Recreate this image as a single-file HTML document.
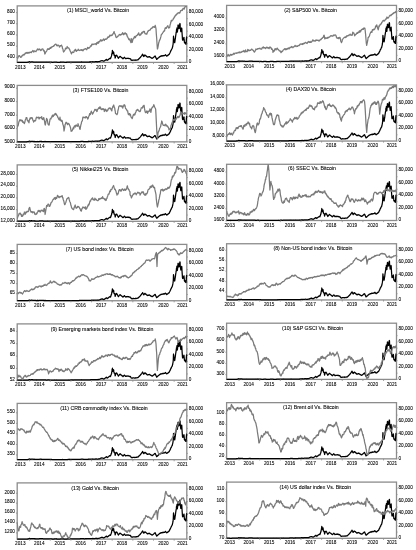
<!DOCTYPE html><html><head><meta charset="utf-8"><style>html,body{margin:0;padding:0;background:#fff;overflow:hidden}svg{display:block}text{font-family:"Liberation Sans",Arial,sans-serif;fill:#000;stroke:#000;stroke-width:0.08px}</style></head><body>
<svg width="416" height="550" viewBox="0 0 416 550">
<rect width="416" height="550" fill="#fff"/>
<clipPath id="c1"><rect x="17.2" y="5.9" width="169.6" height="56.5"/></clipPath>
<rect x="17.2" y="5.9" width="169.6" height="56.5" fill="none" stroke="#8c8c8c" stroke-width="1.3"/>
<polyline points="17.2,62.3 17.3,62.3 17.5,62.3 17.6,62.3 17.8,62.3 17.9,62.3 18,62.3 18.2,62.3 18.3,62.3 18.4,62.3 18.6,62.3 18.7,62.3 18.9,62.3 19,62.3 19.1,62.3 19.3,62.3 19.4,62.3 19.6,62.3 19.7,62.3 19.9,62.3 20,62.3 20.1,62.3 20.3,62.3 20.4,62.4 20.6,62.4 20.7,62.4 20.8,62.4 21,62.4 21.1,62.4 21.3,62.4 21.4,62.4 21.5,62.4 21.7,62.4 21.8,62.4 22,62.4 22.1,62.4 22.2,62.4 22.4,62.4 22.5,62.3 22.7,62.3 22.8,62.3 22.9,62.3 23.1,62.3 23.2,62.3 23.4,62.3 23.5,62.3 23.7,62.3 23.8,62.3 23.9,62.3 24.1,62.3 24.2,62.3 24.4,62.3 24.5,62.3 24.6,62.3 24.8,62.3 24.9,62.3 25.1,62.3 25.2,62.3 25.3,62.3 25.5,62.3 25.6,62.3 25.8,62.3 25.9,62.3 26,62.3 26.2,62.3 26.3,62.3 26.5,62.3 26.6,62.3 26.8,62.3 26.9,62.3 27,62.3 27.2,62.3 27.3,62.3 27.4,62.3 27.6,62.2 27.7,62.2 27.9,62.2 28,62.2 28.2,62.2 28.3,62.2 28.4,62.1 28.6,62.1 28.7,62 28.9,61.9 29,61.9 29.1,61.8 29.3,61.7 29.4,61.7 29.6,61.7 29.7,61.8 29.9,61.9 30,61.9 30.1,62 30.3,62 30.4,62.1 30.5,62 30.7,62 30.8,62 31,61.9 31.1,61.9 31.2,61.8 31.4,61.8 31.5,61.8 31.7,61.8 31.8,61.9 32,61.9 32.1,61.9 32.2,61.9 32.4,61.9 32.5,61.9 32.7,61.9 32.8,61.9 32.9,61.9 33.1,61.9 33.2,62 33.4,62 33.5,62 33.6,62 33.8,62 33.9,62 34.1,62.1 34.2,62.1 34.3,62 34.5,62 34.6,62 34.8,62 34.9,62 35,62 35.2,62 35.3,62 35.5,62.1 35.6,62.1 35.8,62.1 35.9,62.1 36,62.1 36.2,62.1 36.3,62.1 36.5,62.1 36.6,62.2 36.7,62.2 36.9,62.1 37,62.1 37.2,62.1 37.3,62.1 37.4,62.1 37.6,62.1 37.7,62.1 37.9,62.1 38,62.1 38.1,62.1 38.3,62.1 38.4,62.1 38.6,62.1 38.7,62.1 38.8,62.1 39,62.1 39.1,62.1 39.3,62 39.4,62 39.5,62 39.7,62 39.8,62 40,62 40.1,62 40.3,62 40.4,62 40.5,62 40.7,62 40.8,62 41,62 41.1,62 41.2,62 41.4,62 41.5,62 41.7,62 41.8,62 42,62 42.1,62 42.2,62 42.4,62 42.5,62 42.6,62 42.8,62 42.9,62 43.1,62 43.2,62.1 43.3,62.1 43.5,62.1 43.6,62.1 43.8,62.1 43.9,62.1 44.1,62.1 44.2,62.1 44.3,62.1 44.5,62.1 44.6,62.1 44.8,62.1 44.9,62.1 45,62.1 45.2,62.1 45.3,62.1 45.5,62.1 45.6,62.1 45.7,62.1 45.9,62.1 46,62.2 46.2,62.2 46.3,62.2 46.5,62.2 46.6,62.2 46.7,62.2 46.9,62.2 47,62.2 47.1,62.2 47.3,62.2 47.4,62.2 47.6,62.1 47.7,62.1 47.8,62.1 48,62.1 48.1,62.1 48.3,62.1 48.4,62.1 48.6,62.1 48.7,62.1 48.8,62.1 49,62.1 49.1,62.1 49.3,62.1 49.4,62.1 49.5,62.2 49.7,62.2 49.8,62.2 50,62.2 50.1,62.2 50.2,62.2 50.4,62.2 50.5,62.2 50.7,62.2 50.8,62.2 51,62.2 51.1,62.2 51.2,62.2 51.4,62.2 51.5,62.2 51.7,62.2 51.8,62.2 51.9,62.2 52.1,62.2 52.2,62.3 52.4,62.3 52.5,62.3 52.6,62.3 52.8,62.3 52.9,62.3 53.1,62.3 53.2,62.3 53.3,62.3 53.5,62.2 53.6,62.2 53.8,62.2 53.9,62.2 54,62.2 54.2,62.2 54.3,62.2 54.5,62.2 54.6,62.2 54.8,62.2 54.9,62.2 55,62.2 55.2,62.2 55.3,62.2 55.5,62.2 55.6,62.2 55.7,62.2 55.9,62.2 56,62.2 56.2,62.2 56.3,62.2 56.4,62.2 56.6,62.2 56.7,62.2 56.9,62.2 57,62.2 57.1,62.3 57.3,62.3 57.4,62.3 57.6,62.3 57.7,62.3 57.8,62.3 58,62.3 58.1,62.3 58.3,62.3 58.4,62.3 58.5,62.3 58.7,62.3 58.8,62.3 59,62.3 59.1,62.3 59.2,62.3 59.4,62.3 59.5,62.3 59.7,62.3 59.8,62.3 60,62.2 60.1,62.3 60.2,62.2 60.4,62.2 60.5,62.2 60.7,62.2 60.8,62.2 60.9,62.2 61.1,62.2 61.2,62.2 61.4,62.2 61.5,62.2 61.6,62.2 61.8,62.2 61.9,62.2 62.1,62.2 62.2,62.2 62.3,62.2 62.5,62.2 62.6,62.2 62.8,62.2 62.9,62.2 63,62.2 63.2,62.2 63.3,62.2 63.5,62.2 63.6,62.2 63.8,62.2 63.9,62.2 64,62.2 64.2,62.2 64.3,62.2 64.5,62.3 64.6,62.3 64.7,62.3 64.9,62.3 65,62.3 65.2,62.3 65.3,62.3 65.4,62.3 65.6,62.3 65.7,62.3 65.9,62.3 66,62.3 66.1,62.2 66.3,62.3 66.4,62.3 66.6,62.3 66.7,62.2 66.8,62.2 67,62.2 67.1,62.2 67.3,62.2 67.4,62.2 67.5,62.2 67.7,62.2 67.8,62.2 68,62.2 68.1,62.2 68.2,62.2 68.4,62.2 68.5,62.2 68.7,62.2 68.8,62.2 69,62.1 69.1,62.2 69.2,62.2 69.4,62.2 69.5,62.2 69.7,62.2 69.8,62.2 69.9,62.2 70.1,62.2 70.2,62.2 70.4,62.2 70.5,62.2 70.7,62.1 70.8,62.1 70.9,62.1 71.1,62.1 71.2,62.1 71.3,62.1 71.5,62.1 71.6,62.1 71.8,62.1 71.9,62.1 72,62.1 72.2,62.1 72.3,62.1 72.5,62.1 72.6,62.1 72.8,62.2 72.9,62.2 73,62.2 73.2,62.2 73.3,62.2 73.5,62.1 73.6,62.1 73.7,62.1 73.9,62.1 74,62.1 74.2,62.1 74.3,62.1 74.5,62.1 74.6,62.1 74.7,62.1 74.9,62.1 75,62.1 75.2,62.1 75.3,62.1 75.4,62.1 75.6,62.1 75.7,62.1 75.8,62.1 76,62.1 76.1,62.1 76.3,62.1 76.4,62.1 76.6,62.1 76.7,62.1 76.8,62.1 77,62.1 77.1,62.1 77.3,62.1 77.4,62.1 77.5,62.1 77.7,62.1 77.8,62.1 78,62.1 78.1,62.1 78.2,62.1 78.4,62.1 78.5,62.1 78.7,62.1 78.8,62.1 79,62.1 79.1,62.1 79.2,62.1 79.4,62.1 79.5,62.1 79.7,62.1 79.8,62.1 79.9,62.1 80.1,62 80.2,62 80.3,62 80.5,62 80.6,62 80.8,62 80.9,62 81.1,62 81.2,62 81.3,62 81.5,61.9 81.6,61.9 81.8,61.9 81.9,62 82,62 82.2,62 82.3,62 82.5,62 82.6,62 82.8,62 82.9,62 83,62 83.2,62 83.3,62 83.5,62 83.6,62 83.7,62 83.9,62 84,62 84.2,62 84.3,62.1 84.4,62.1 84.6,62 84.7,62 84.9,62 85,62 85.1,62 85.3,62 85.4,62 85.6,62 85.7,62 85.8,62 86,62 86.1,62 86.3,62 86.4,62 86.5,62 86.7,62 86.8,62 87,62 87.1,62 87.2,62 87.4,62 87.5,62 87.7,62 87.8,62 88,62 88.1,62 88.2,62 88.4,62 88.5,62 88.7,62 88.8,62 88.9,62 89.1,62 89.2,62 89.4,62 89.5,62 89.6,62 89.8,61.9 89.9,62 90.1,61.9 90.2,61.9 90.3,61.9 90.5,62 90.6,61.9 90.8,61.9 90.9,61.9 91,61.9 91.2,61.9 91.3,61.9 91.5,61.9 91.6,61.9 91.8,61.8 91.9,61.8 92,61.8 92.2,61.8 92.3,61.8 92.5,61.8 92.6,61.7 92.7,61.7 92.9,61.7 93,61.7 93.2,61.8 93.3,61.9 93.4,61.9 93.6,61.9 93.7,61.9 93.9,61.9 94,61.9 94.1,61.8 94.3,61.8 94.4,61.8 94.6,61.8 94.7,61.8 94.9,61.8 95,61.8 95.1,61.7 95.3,61.7 95.4,61.7 95.5,61.7 95.7,61.7 95.8,61.7 96,61.7 96.1,61.7 96.2,61.7 96.4,61.7 96.5,61.7 96.7,61.7 96.8,61.8 97,61.7 97.1,61.8 97.2,61.8 97.4,61.8 97.5,61.8 97.7,61.8 97.8,61.7 97.9,61.7 98.1,61.7 98.2,61.7 98.4,61.7 98.5,61.6 98.6,61.6 98.8,61.6 98.9,61.6 99.1,61.6 99.2,61.6 99.4,61.5 99.5,61.5 99.6,61.5 99.8,61.4 99.9,61.3 100,61.3 100.2,61.2 100.3,61.1 100.5,61.1 100.6,61 100.8,60.9 100.9,60.9 101,60.9 101.2,60.8 101.3,60.8 101.5,60.7 101.6,60.6 101.7,60.6 101.9,60.5 102,60.5 102.2,60.7 102.3,60.7 102.4,60.7 102.6,60.8 102.7,60.9 102.9,60.9 103,60.9 103.2,61 103.3,61 103.4,61.1 103.6,61.1 103.7,61.2 103.9,61.2 104,61.1 104.1,61 104.3,60.9 104.4,60.9 104.5,60.8 104.7,60.7 104.8,60.6 105,60.5 105.1,60.4 105.3,60.3 105.4,60.2 105.5,60.1 105.7,59.9 105.8,59.8 106,59.8 106.1,59.6 106.2,59.5 106.4,59.4 106.5,59.4 106.7,59.6 106.8,59.9 106.9,60.1 107.1,60.3 107.2,60.3 107.4,60.2 107.5,60.1 107.7,60.1 107.8,59.9 107.9,59.8 108.1,59.8 108.2,59.5 108.4,59.4 108.5,59.4 108.6,59.2 108.8,59.1 108.9,59 109,58.9 109.2,58.9 109.3,58.7 109.5,58.5 109.6,58.5 109.8,58.4 109.9,58.3 110,58.4 110.2,58.5 110.3,58.5 110.5,58.7 110.6,58.4 110.7,57.8 110.9,57.6 111,57.2 111.2,56.7 111.3,56.3 111.5,56 111.6,55.6 111.7,54.6 111.9,53.8 112,53.1 112.2,52.2 112.3,51.4 112.4,50.4 112.6,51.7 112.7,53.5 112.8,53.6 113,53 113.1,52.6 113.2,52.5 113.4,52 113.5,51.9 113.7,52.4 113.8,53.2 113.9,54.1 114.1,55.2 114.2,55.3 114.3,55.2 114.5,55.4 114.6,55.2 114.7,55.2 114.9,56 115,57.1 115.2,58 115.3,57.8 115.4,57.3 115.5,56.9 115.7,56.3 115.8,56 116,55.6 116.1,55.4 116.2,55.5 116.4,55.4 116.5,55.3 116.6,55.2 116.8,55.4 116.9,55.6 117,55.9 117.2,56.1 117.3,56.2 117.5,56.6 117.6,56.6 117.7,57.1 117.9,57.3 118,57.5 118.1,57.7 118.3,58.1 118.4,58.4 118.5,58.1 118.7,57.9 118.8,57.8 119,57.4 119.1,57.4 119.2,57.3 119.4,57 119.5,56.9 119.6,56.6 119.8,56.7 119.9,56.5 120,56.6 120.2,56.4 120.3,56.6 120.4,56.6 120.6,56.6 120.7,56.9 120.9,57 121,57.1 121.1,57.3 121.3,57.4 121.4,57.4 121.5,57.5 121.7,57.6 121.8,57.8 121.9,57.8 122.1,57.9 122.2,58.1 122.4,58.2 122.5,58.3 122.6,58.5 122.8,58.4 122.9,58.6 123,58.8 123.2,58.5 123.3,58.4 123.4,58.4 123.6,58 123.7,58 123.8,57.8 124,57.7 124.1,57.6 124.2,57.6 124.4,57.2 124.5,57.4 124.7,57.6 124.8,57.7 124.9,57.9 125.1,58 125.2,58.2 125.3,58.4 125.5,58.6 125.6,58.5 125.7,58.5 125.9,58.4 126,58.5 126.2,58.5 126.3,58.4 126.4,58.5 126.6,58.4 126.7,58.3 126.8,58.4 127,58.3 127.1,58.4 127.2,58.4 127.4,58.4 127.5,58.3 127.6,58.3 127.8,58.2 127.9,58.4 128,58.3 128.2,58.3 128.3,58.4 128.5,58.3 128.6,58.4 128.7,58.4 128.9,58.4 129,58.6 129.1,58.5 129.3,58.6 129.4,58.6 129.5,58.7 129.7,58.7 129.8,58.6 129.9,58.7 130.1,58.8 130.2,58.8 130.4,58.7 130.5,58.9 130.6,59.1 130.8,59.3 130.9,59.6 131,60 131.2,60 131.3,60 131.4,60.2 131.6,60.2 131.7,60.2 131.8,60.3 132,60.3 132.1,60.4 132.3,60.4 132.4,60.3 132.5,60.2 132.7,60.2 132.8,60.2 132.9,60.1 133.1,60.1 133.2,60.1 133.3,60.1 133.5,60.1 133.6,60.1 133.8,60.1 133.9,60.1 134,60.1 134.2,60.2 134.3,60.2 134.4,60.2 134.6,60.2 134.7,60.2 134.8,60.2 135,60.2 135.1,60.3 135.2,60.1 135.4,60.2 135.5,60.1 135.7,60.1 135.8,60.1 135.9,60.1 136.1,60.1 136.2,60.1 136.3,60 136.5,60 136.6,60.1 136.7,60 136.9,60 137,59.9 137.2,59.9 137.3,59.9 137.4,59.9 137.6,59.9 137.7,59.9 137.8,59.8 138,59.9 138.1,59.7 138.2,59.5 138.4,59.4 138.5,59.3 138.6,59.2 138.8,59 138.9,58.8 139,58.7 139.2,58.5 139.3,58.4 139.5,58.3 139.6,58.1 139.7,58 139.9,57.9 140,57.7 140.1,57.6 140.3,57.5 140.4,57.4 140.5,57.2 140.7,56.9 140.8,56.8 140.9,56.7 141.1,56.4 141.2,56.2 141.4,56.2 141.5,55.8 141.6,55.8 141.8,55.6 141.9,55.3 142,55 142.2,55.1 142.3,54.8 142.4,54.8 142.6,54.2 142.7,54.5 142.8,54.6 143,55.1 143.1,55.2 143.3,55.3 143.4,56.1 143.5,56.1 143.7,56.3 143.8,56.5 143.9,56.4 144.1,55.9 144.2,55.9 144.3,55.9 144.5,55.5 144.6,55.5 144.7,55 144.9,55.1 145,55.1 145.2,55.1 145.3,55.3 145.4,55.6 145.5,55.7 145.7,55.5 145.8,55.7 146,55.9 146.1,55.9 146.2,56 146.4,56.1 146.5,56.5 146.6,56.4 146.8,56.4 146.9,56.6 147,56.7 147.2,57 147.3,56.9 147.4,57 147.6,57 147.7,57.2 147.8,57.1 148,57 148.1,56.9 148.2,57 148.4,56.8 148.5,56.9 148.6,56.8 148.8,56.8 148.9,56.7 149.1,56.7 149.2,56.8 149.3,56.6 149.5,56.7 149.6,56.9 149.7,56.9 149.9,56.9 150,57.1 150.1,57.1 150.3,57.2 150.4,57.3 150.5,57.4 150.7,57.6 150.8,57.5 150.9,57.6 151.1,57.7 151.2,57.8 151.3,57.9 151.5,58 151.6,58.1 151.8,58.2 151.9,58.2 152,58.3 152.2,58.3 152.3,58.1 152.4,58.2 152.6,58 152.7,58.1 152.8,57.9 153,57.7 153.1,57.7 153.2,57.6 153.4,57.5 153.5,57.4 153.6,57.4 153.8,57.2 153.9,57 154,56.9 154.2,56.8 154.3,56.6 154.4,56.5 154.6,56.4 154.7,56.3 154.9,56.2 155,56.1 155.1,56 155.3,56.3 155.4,56.6 155.5,57 155.7,57.2 155.8,57.5 155.9,57.8 156.1,58 156.2,58.3 156.3,58.6 156.5,58.8 156.6,59.3 156.8,59.3 156.9,59.2 157,59 157.2,58.8 157.3,58.9 157.4,58.7 157.6,58.5 157.7,58.4 157.9,58.3 158,58.3 158.1,58 158.3,57.9 158.4,57.8 158.6,57.7 158.7,57.5 158.8,57.5 159,57.3 159.1,57.2 159.3,57.2 159.4,56.9 159.5,56.8 159.7,56.7 159.8,56.8 160,56.7 160.1,56.5 160.2,56.5 160.4,56.3 160.5,56.2 160.7,56.4 160.8,56.4 160.9,56.1 161.1,56 161.2,56 161.4,55.9 161.5,56.1 161.6,56 161.8,55.9 161.9,56 162.1,56.1 162.2,56 162.3,55.6 162.5,55.7 162.6,55.9 162.8,55.9 162.9,55.8 163,55.8 163.2,55.6 163.3,55.7 163.5,55.8 163.6,55.5 163.7,55.7 163.9,55.6 164,55.6 164.2,55.6 164.3,55.5 164.4,55.5 164.6,55.6 164.7,55.5 164.9,55.3 165,55.2 165.1,55 165.3,54.9 165.4,54.7 165.6,54.8 165.7,55.1 165.8,55.2 166,55.5 166.1,55.5 166.3,55.6 166.4,55.7 166.5,56 166.7,56.1 166.8,56 167,56 167.1,55.8 167.2,55.7 167.4,55.7 167.5,55.5 167.7,55.6 167.8,55.4 167.9,55.4 168.1,55.3 168.2,54.9 168.4,54.8 168.5,54.9 168.6,54.7 168.8,54.5 168.9,54.5 169.1,54.3 169.2,54.4 169.3,54.1 169.5,53.7 169.6,53.2 169.8,53.1 169.9,53 170,52.6 170.2,52.4 170.3,52.1 170.5,51.5 170.6,51.5 170.7,51.1 170.9,50.5 171,50.4 171.2,50.2 171.3,50.1 171.4,49.7 171.6,49.2 171.7,49.1 171.9,48.7 172,48.7 172.1,48.3 172.3,48.2 172.4,47.5 172.6,46.6 172.7,46.6 172.8,45.6 173,44.8 173.1,44 173.3,41.7 173.4,39 173.5,36.2 173.7,37.9 173.9,39.1 174.1,40.8 174.3,40.8 174.5,42.5 174.7,42.7 174.9,41.7 175.1,40 175.3,39 175.5,37.2 175.7,35.7 175.9,34.5 176.1,33 176.3,32.2 176.5,29.8 176.7,29.4 176.9,28.7 177,27.8 177.2,30.1 177.3,32.2 177.4,31.8 177.6,30.1 177.7,29.4 177.9,27.4 178,25.1 178.2,25 178.3,26.2 178.4,26.9 178.6,27.8 178.7,28.5 178.9,28 179,27.8 179.2,28.3 179.3,26.4 179.5,26.1 179.6,24.6 179.7,24.6 179.9,23.5 180.1,23.9 180.2,27.1 180.4,28.6 180.6,30.2 180.8,31.7 180.9,30.8 181.1,29 181.3,28.8 181.5,28.8 181.7,28 181.8,28.5 182,32.3 182.2,35.3 182.4,38.2 182.5,39.6 182.7,40.2 182.8,40.1 183,40 183.1,39.6 183.3,38.7 183.4,38.4 183.6,38.7 183.7,38 183.8,37.7 184,37.4 184.1,38.9 184.3,40.9 184.4,42.3 184.6,42.8 184.7,42.1 184.9,42.5 185,43.1 185.2,42.5 185.3,42.8 185.4,43.8 185.6,42.8 185.7,43.3 185.9,43.1 186,44.2 186.2,42.2 186.3,40.3 186.4,38.9 186.5,37.8 186.6,37 186.8,38.3" fill="none" stroke="#000" stroke-width="1.25" stroke-linejoin="round"/>
<polyline clip-path="url(#c1)" points="17.1,58.6 17.5,57.8 17.8,58.2 18.2,56.8 18.4,55.9 18.7,56.1 19,56 19.3,56.1 19.6,55.6 19.9,56.4 20.2,56.5 20.5,57.4 20.8,57.1 21.1,56.8 21.3,57 21.6,56.7 21.9,55.7 22.2,55.8 22.5,55.1 22.8,55.6 23.1,54.9 23.4,54.9 23.6,54.4 23.9,54.5 24.2,54.9 24.5,54.9 24.8,54 25.1,53.1 25.4,53.5 25.7,53.1 26,52.8 26.3,53.2 26.6,52.5 26.9,53.1 27.2,53.4 27.5,53.1 27.8,52.4 28.2,52.3 28.5,53 28.8,52.7 29.1,53 29.4,52.6 29.7,52.3 30,52.2 30.3,52.2 30.6,52.2 30.9,52.5 31.2,52.7 31.6,52.3 31.9,51.6 32.2,51.4 32.5,51.2 32.8,50.5 33.1,51.1 33.4,51 33.7,52.2 34,51.6 34.3,50.8 34.6,51.2 35,51.1 35.3,51.4 35.6,51.2 35.9,51.7 36.2,50.8 36.5,50.7 36.8,50.2 37.1,49.9 37.3,49.1 37.6,49.7 37.9,49 38.2,49.5 38.6,49.8 38.9,49.9 39.2,49 39.5,49.6 39.8,49.2 40.1,49.6 40.4,49.6 40.7,50.7 41,50.2 41.2,50.1 41.5,50.1 41.8,49.1 42.1,49 42.4,48.9 42.7,49 43,49 43.3,50.1 43.5,50.8 43.8,50.9 44.1,50.5 44.5,51.9 44.8,54 45.2,53.6 45.6,52.6 45.9,51.6 46.1,51.7 46.4,51.4 46.7,50.9 47,50.3 47.3,49.5 47.6,48.9 47.9,48.7 48.2,49.2 48.5,49.4 48.7,48.9 49,48.8 49.3,49.3 49.6,48.4 49.9,48.1 50.2,47.4 50.5,48.4 50.8,47.7 51,48 51.3,47.7 51.6,46.9 52,47 52.3,46.8 52.6,46.7 52.9,46.4 53.2,46.4 53.5,46.3 53.8,45.6 54.1,45.9 54.4,45.2 54.7,44.6 55,44.6 55.4,44.3 55.7,44.2 56,44.1 56.3,45 56.6,45.5 56.9,45.2 57.2,45.9 57.5,45.7 57.8,45.3 58.1,45 58.4,45.5 58.8,45.6 59.1,45.8 59.4,47.1 59.7,46.9 60,46.4 60.3,45.7 60.6,45.8 60.9,45.7 61.2,45.8 61.6,45.1 61.9,46 62.2,46.5 62.5,48.6 62.9,48.9 63.2,50.7 63.6,52 63.9,51.2 64.3,51.2 64.6,50.7 64.9,50 65.2,49.5 65.5,48.1 65.8,48.6 66,48.6 66.3,48.2 66.6,48.7 66.9,47.7 67.2,46.5 67.5,47.4 67.8,47.4 68.1,47.8 68.4,47.9 68.6,48.1 68.9,48.1 69.2,48.7 69.5,49.5 69.8,49.8 70.1,50.8 70.4,51.4 70.7,52 71,52.6 71.2,53.4 71.5,53.9 71.8,53 72.1,52.6 72.4,51.9 72.7,52.2 73,52.4 73.3,52.4 73.7,52.5 74,51.6 74.3,50.4 74.6,50.3 74.9,50.5 75.2,49.6 75.4,49.3 75.7,49.4 76,51 76.3,51.4 76.6,50.8 76.9,50.6 77.2,50.6 77.5,50.5 77.8,50.4 78,49.6 78.3,49.2 78.6,50.2 78.9,50.1 79.2,50.5 79.5,50.3 79.8,50.4 80.1,50.2 80.3,49.8 80.6,50.2 80.9,50.2 81.2,49.7 81.5,49.7 81.8,50.4 82.1,49.7 82.4,50.1 82.7,50.6 82.9,50.8 83.2,50.7 83.5,49.6 83.8,49.7 84.1,49.1 84.4,49.3 84.7,49.1 85,49.2 85.3,48.5 85.5,48.5 85.8,48.8 86.1,48.9 86.4,49.2 86.7,49.8 87,48.9 87.3,48.5 87.6,47.4 87.8,47.8 88.1,48.3 88.4,47.7 88.7,47.9 89,48.3 89.3,47.7 89.6,47.5 89.9,47.4 90.2,46.6 90.4,45.9 90.7,45.9 91,45.6 91.3,46.1 91.6,44.9 91.9,44.3 92.2,43.9 92.5,44.6 92.8,44.6 93,44.6 93.3,44.5 93.6,44.3 93.9,44 94.2,44.2 94.5,44 94.8,44.1 95.1,43.9 95.3,43.8 95.6,43.7 95.9,44.4 96.2,44.7 96.5,44.3 96.8,42.6 97.1,42.8 97.4,43.3 97.7,43 97.9,42 98.2,41.9 98.5,43.2 98.8,42.4 99.1,41.3 99.4,41.3 99.7,41.7 100,41.4 100.2,40.7 100.5,39.8 100.8,40.4 101.1,39.8 101.4,40.7 101.7,41.1 102,40.9 102.3,40.5 102.6,40.2 102.9,40 103.1,39.5 103.4,39.2 103.7,38.9 104,39.9 104.3,40.5 104.6,39.8 104.9,39.6 105.2,39.1 105.4,38.9 105.7,39.3 106,39.3 106.3,39.2 106.6,38.9 106.9,38.8 107.2,37.9 107.5,38.1 107.8,37 108,37.2 108.3,37.4 108.6,37.4 108.9,36.3 109.2,36.9 109.5,36.2 109.8,35.2 110.1,35.7 110.3,35.9 110.6,35.2 110.9,35.7 111.2,35.6 111.5,35.6 111.8,34.8 112.1,35.3 112.4,35.1 112.7,34.7 112.9,34 113.2,33.4 113.5,33.1 113.8,32 114.1,31.6 114.4,33.2 114.8,33.7 115.1,34.3 115.5,35.2 115.8,36.7 116.2,37.4 116.5,37.6 116.8,36.9 117.1,36.9 117.4,36.9 117.7,36.2 118,36.1 118.3,35.9 118.6,35.9 118.9,35.4 119.1,34.7 119.4,34.6 119.7,34.4 120,34.4 120.3,35 120.6,35.1 120.9,34.7 121.2,34.5 121.5,34.5 121.7,34.3 122,33.8 122.3,33.4 122.6,32.6 122.9,33.2 123.2,34.5 123.5,33.9 123.8,34.7 124,33.8 124.3,33.4 124.6,33.9 124.9,33.1 125.2,32.8 125.5,33.6 125.8,33.4 126.1,33.8 126.4,34.8 126.6,33.8 127,35.2 127.3,36.7 127.7,37 127.9,37.2 128.2,38 128.5,38.6 128.8,39.6 129.1,38.8 129.4,39.1 129.7,39.9 130,40.3 130.3,40.7 130.6,41.8 131,42.7 131.2,38.5 131.5,39.1 131.8,40.9 132.2,42.4 132.5,41 132.9,39.5 133.2,38.7 133.5,38.2 133.8,38.6 134,37.7 134.3,36.9 134.6,36.5 134.9,37 135.2,37.7 135.5,37.6 135.8,36.3 136.1,36.1 136.3,35.6 136.6,35.9 136.9,35.6 137.2,35.1 137.5,34.5 137.8,34.9 138.1,33.7 138.4,33.5 138.7,32.9 138.9,34 139.2,34.9 139.5,35 139.8,35.5 140.1,35.4 140.4,34.1 140.7,34 141,34.6 141.3,33.5 141.5,33.4 141.8,32.3 142.1,32.6 142.4,33.1 142.7,32.8 143,31.6 143.3,31.8 143.6,31.3 143.8,31.9 144.1,31.8 144.4,31.5 144.8,33 145.1,33.9 145.4,33.7 145.7,33.9 146,33.7 146.3,34.1 146.6,33.7 146.9,34.1 147.2,32.7 147.5,32.1 147.7,31.9 148,30.9 148.3,31.1 148.6,30.6 148.9,30.4 149.2,30.1 149.5,30.1 149.8,30.3 150,29.8 150.3,29.9 150.6,28.9 150.9,28.7 151.2,28.2 151.5,28.6 151.8,28.4 152.1,27.8 152.4,27.7 152.6,27.5 152.9,26.6 153.2,27.2 153.5,26.8 153.8,26.9 154.1,27 154.4,27.4 154.7,26.6 155,25.9 155.2,25.3 155.6,26.8 156,28.8 156.3,33.7 156.7,38.5 157,43.5 157.4,49 157.8,48 158.1,46.4 158.5,44.1 158.8,42.4 159.1,41.9 159.4,40.3 159.7,40.2 160,39.2 160.3,39 160.6,37.6 160.9,36.7 161.2,35.2 161.4,34.5 161.7,34.2 162,33.8 162.3,33.7 162.6,32.9 162.9,32.6 163.2,32 163.5,31.7 163.7,31.6 164,30.8 164.3,31.1 164.6,30.8 164.9,28.9 165.2,27.9 165.5,28.3 165.8,28.3 166.1,27.5 166.3,28.4 166.6,27.3 166.9,27.1 167.2,27 167.5,25.9 167.8,25.7 168.1,26.5 168.4,26.9 168.7,28 168.9,28 169.3,27.6 169.7,27.5 169.9,25.9 170.2,24.5 170.5,23.7 170.8,22.5 171.1,21 171.4,20.3 171.7,21.2 172,20.3 172.3,20.2 172.5,20.2 172.8,20 173.1,19.5 173.4,18.4 173.7,18.3 174,18 174.3,17 174.6,17.2 174.9,16 175.1,16.2 175.4,15.5 175.7,15 176,15.3 176.3,14.3 176.6,14.3 176.9,14.4 177.2,13.4 177.5,13.3 177.7,13.7 178,13 178.3,12.7 178.6,12.9 178.9,12.9 179.2,13.1 179.5,12.3 179.8,13 180,12.5 180.3,11.7 180.6,10.6 180.9,10.9 181.2,10.6 181.5,10.1 181.8,10.4 182.1,10.5 182.4,10.4 182.6,9.4 182.9,8.8 183.2,8.2 183.5,8.4 183.8,9 184.1,9.1 184.4,8.9 184.7,7.4 185,7.2 185.2,6.5 185.5,6.5 185.8,6.7 186.1,6.7 186.4,5.6 186.7,6.5 187,6.2" fill="none" stroke="#7a7a7a" stroke-width="1.25" stroke-linejoin="round"/>
<line x1="16" y1="12.62" x2="17.2" y2="12.62" stroke="#8c8c8c" stroke-width="0.8"/>
<text x="14.9" y="12.92" font-size="4.7" text-anchor="end">800</text>
<line x1="16" y1="23.79" x2="17.2" y2="23.79" stroke="#8c8c8c" stroke-width="0.8"/>
<text x="14.9" y="24.09" font-size="4.7" text-anchor="end">700</text>
<line x1="16" y1="34.96" x2="17.2" y2="34.96" stroke="#8c8c8c" stroke-width="0.8"/>
<text x="14.9" y="35.26" font-size="4.7" text-anchor="end">600</text>
<line x1="16" y1="46.13" x2="17.2" y2="46.13" stroke="#8c8c8c" stroke-width="0.8"/>
<text x="14.9" y="46.43" font-size="4.7" text-anchor="end">500</text>
<line x1="16" y1="57.3" x2="17.2" y2="57.3" stroke="#8c8c8c" stroke-width="0.8"/>
<text x="14.9" y="57.6" font-size="4.7" text-anchor="end">400</text>
<line x1="186.8" y1="62.4" x2="187.8" y2="62.4" stroke="#8c8c8c" stroke-width="0.8"/>
<text x="188.8" y="63.15" font-size="4.7">0</text>
<line x1="186.8" y1="56.15" x2="187.8" y2="56.15" stroke="#8c8c8c" stroke-width="0.8"/>
<line x1="186.8" y1="49.9" x2="187.8" y2="49.9" stroke="#8c8c8c" stroke-width="0.8"/>
<text x="188.8" y="50.65" font-size="4.7">20,000</text>
<line x1="186.8" y1="43.65" x2="187.8" y2="43.65" stroke="#8c8c8c" stroke-width="0.8"/>
<line x1="186.8" y1="37.4" x2="187.8" y2="37.4" stroke="#8c8c8c" stroke-width="0.8"/>
<text x="188.8" y="38.15" font-size="4.7">40,000</text>
<line x1="186.8" y1="31.15" x2="187.8" y2="31.15" stroke="#8c8c8c" stroke-width="0.8"/>
<line x1="186.8" y1="24.9" x2="187.8" y2="24.9" stroke="#8c8c8c" stroke-width="0.8"/>
<text x="188.8" y="25.65" font-size="4.7">60,000</text>
<line x1="186.8" y1="18.65" x2="187.8" y2="18.65" stroke="#8c8c8c" stroke-width="0.8"/>
<line x1="186.8" y1="12.4" x2="187.8" y2="12.4" stroke="#8c8c8c" stroke-width="0.8"/>
<text x="188.8" y="13.15" font-size="4.7">80,000</text>
<line x1="29.6" y1="62.4" x2="29.6" y2="64" stroke="#8c8c8c" stroke-width="0.8"/>
<line x1="50.25" y1="62.4" x2="50.25" y2="64" stroke="#8c8c8c" stroke-width="0.8"/>
<line x1="70.9" y1="62.4" x2="70.9" y2="64" stroke="#8c8c8c" stroke-width="0.8"/>
<line x1="91.55" y1="62.4" x2="91.55" y2="64" stroke="#8c8c8c" stroke-width="0.8"/>
<line x1="112.2" y1="62.4" x2="112.2" y2="64" stroke="#8c8c8c" stroke-width="0.8"/>
<line x1="132.85" y1="62.4" x2="132.85" y2="64" stroke="#8c8c8c" stroke-width="0.8"/>
<line x1="153.5" y1="62.4" x2="153.5" y2="64" stroke="#8c8c8c" stroke-width="0.8"/>
<line x1="174.15" y1="62.4" x2="174.15" y2="64" stroke="#8c8c8c" stroke-width="0.8"/>
<text x="20.3" y="68.55" font-size="4.7" text-anchor="middle">2013</text>
<text x="39.3" y="68.55" font-size="4.7" text-anchor="middle">2014</text>
<text x="59.8" y="68.55" font-size="4.7" text-anchor="middle">2015</text>
<text x="80.6" y="68.55" font-size="4.7" text-anchor="middle">2016</text>
<text x="101.2" y="68.55" font-size="4.7" text-anchor="middle">2017</text>
<text x="121.85" y="68.55" font-size="4.7" text-anchor="middle">2018</text>
<text x="142.5" y="68.55" font-size="4.7" text-anchor="middle">2019</text>
<text x="163.4" y="68.55" font-size="4.7" text-anchor="middle">2020</text>
<text x="182.5" y="68.55" font-size="4.7" text-anchor="middle">2021</text>
<text x="98.05" y="12" font-size="5.2" text-anchor="middle">(1) MSCI_world Vs. Bitcoin</text>
<clipPath id="c2"><rect x="226.6" y="5.4" width="169.9" height="56.2"/></clipPath>
<rect x="226.6" y="5.4" width="169.9" height="56.2" fill="none" stroke="#8c8c8c" stroke-width="1.3"/>
<polyline points="226.6,61.5 226.7,61.5 226.9,61.5 227,61.5 227.2,61.5 227.3,61.5 227.4,61.5 227.6,61.5 227.7,61.5 227.8,61.5 228,61.5 228.1,61.5 228.3,61.5 228.4,61.5 228.5,61.5 228.7,61.5 228.8,61.5 229,61.5 229.1,61.5 229.3,61.5 229.4,61.5 229.5,61.5 229.7,61.5 229.8,61.6 230,61.6 230.1,61.6 230.2,61.6 230.4,61.6 230.5,61.6 230.7,61.6 230.8,61.6 230.9,61.6 231.1,61.6 231.2,61.6 231.4,61.6 231.5,61.6 231.7,61.6 231.8,61.6 231.9,61.5 232.1,61.5 232.2,61.5 232.3,61.5 232.5,61.5 232.6,61.5 232.8,61.5 232.9,61.5 233.1,61.5 233.2,61.5 233.3,61.5 233.5,61.5 233.6,61.5 233.8,61.5 233.9,61.5 234,61.5 234.2,61.5 234.3,61.5 234.5,61.5 234.6,61.5 234.7,61.5 234.9,61.5 235,61.5 235.2,61.5 235.3,61.5 235.4,61.5 235.6,61.5 235.7,61.5 235.9,61.5 236,61.5 236.2,61.5 236.3,61.5 236.4,61.5 236.6,61.5 236.7,61.5 236.8,61.5 237,61.5 237.1,61.4 237.3,61.4 237.4,61.4 237.6,61.4 237.7,61.4 237.8,61.3 238,61.3 238.1,61.2 238.3,61.1 238.4,61.1 238.5,61 238.7,60.9 238.8,60.9 239,60.9 239.1,61 239.2,61.1 239.4,61.1 239.5,61.2 239.7,61.2 239.8,61.3 239.9,61.2 240.1,61.2 240.2,61.2 240.4,61.1 240.5,61.1 240.7,61 240.8,61 240.9,61 241.1,61 241.2,61.1 241.4,61.1 241.5,61.1 241.6,61.1 241.8,61.1 241.9,61.1 242.1,61.1 242.2,61.1 242.3,61.1 242.5,61.1 242.6,61.2 242.8,61.2 242.9,61.2 243,61.2 243.2,61.2 243.3,61.2 243.5,61.3 243.6,61.3 243.8,61.2 243.9,61.2 244,61.2 244.2,61.2 244.3,61.2 244.4,61.2 244.6,61.2 244.7,61.2 244.9,61.3 245,61.3 245.2,61.3 245.3,61.3 245.4,61.3 245.6,61.3 245.7,61.3 245.9,61.4 246,61.4 246.1,61.4 246.3,61.4 246.4,61.3 246.6,61.3 246.7,61.3 246.8,61.3 247,61.3 247.1,61.3 247.3,61.3 247.4,61.3 247.5,61.3 247.7,61.3 247.8,61.3 248,61.3 248.1,61.3 248.2,61.3 248.4,61.3 248.5,61.3 248.7,61.2 248.8,61.2 248.9,61.2 249.1,61.2 249.2,61.2 249.4,61.2 249.5,61.2 249.7,61.2 249.8,61.2 249.9,61.2 250.1,61.2 250.2,61.2 250.4,61.2 250.5,61.2 250.6,61.2 250.8,61.2 250.9,61.2 251.1,61.2 251.2,61.2 251.3,61.2 251.5,61.2 251.6,61.2 251.8,61.2 251.9,61.2 252,61.2 252.2,61.2 252.3,61.2 252.5,61.2 252.6,61.3 252.8,61.3 252.9,61.3 253,61.3 253.2,61.3 253.3,61.3 253.5,61.3 253.6,61.3 253.7,61.3 253.9,61.3 254,61.3 254.2,61.3 254.3,61.3 254.4,61.3 254.6,61.3 254.7,61.3 254.9,61.3 255,61.3 255.1,61.3 255.3,61.3 255.4,61.4 255.6,61.4 255.7,61.4 255.8,61.4 256,61.4 256.1,61.4 256.3,61.4 256.4,61.4 256.6,61.4 256.7,61.4 256.8,61.4 257,61.4 257.1,61.4 257.2,61.3 257.4,61.4 257.5,61.3 257.7,61.3 257.8,61.3 258,61.3 258.1,61.3 258.2,61.3 258.4,61.3 258.5,61.3 258.7,61.3 258.8,61.4 258.9,61.4 259.1,61.4 259.2,61.4 259.4,61.4 259.5,61.4 259.6,61.4 259.8,61.4 259.9,61.4 260.1,61.4 260.2,61.4 260.4,61.4 260.5,61.4 260.6,61.4 260.8,61.4 260.9,61.4 261.1,61.4 261.2,61.4 261.3,61.4 261.5,61.5 261.6,61.5 261.8,61.5 261.9,61.5 262,61.5 262.2,61.5 262.3,61.5 262.5,61.5 262.6,61.5 262.7,61.5 262.9,61.5 263,61.5 263.2,61.5 263.3,61.5 263.4,61.5 263.6,61.4 263.7,61.5 263.9,61.4 264,61.4 264.1,61.4 264.3,61.4 264.4,61.4 264.6,61.4 264.7,61.4 264.9,61.4 265,61.4 265.1,61.4 265.3,61.4 265.4,61.4 265.6,61.4 265.7,61.4 265.8,61.4 266,61.5 266.1,61.4 266.3,61.5 266.4,61.5 266.5,61.5 266.7,61.5 266.8,61.5 267,61.5 267.1,61.5 267.2,61.5 267.4,61.5 267.5,61.5 267.7,61.5 267.8,61.5 267.9,61.5 268.1,61.5 268.2,61.5 268.4,61.5 268.5,61.5 268.6,61.5 268.8,61.5 268.9,61.5 269.1,61.5 269.2,61.5 269.4,61.5 269.5,61.5 269.6,61.5 269.8,61.5 269.9,61.5 270.1,61.4 270.2,61.4 270.3,61.4 270.5,61.4 270.6,61.4 270.8,61.4 270.9,61.4 271,61.4 271.2,61.4 271.3,61.4 271.5,61.4 271.6,61.4 271.8,61.4 271.9,61.4 272,61.4 272.2,61.4 272.3,61.4 272.4,61.4 272.6,61.4 272.7,61.4 272.9,61.4 273,61.4 273.1,61.4 273.3,61.4 273.4,61.5 273.6,61.5 273.7,61.5 273.9,61.5 274,61.5 274.1,61.5 274.3,61.5 274.4,61.5 274.6,61.5 274.7,61.5 274.8,61.5 275,61.5 275.1,61.5 275.3,61.5 275.4,61.5 275.5,61.5 275.7,61.5 275.8,61.5 276,61.5 276.1,61.5 276.2,61.5 276.4,61.5 276.5,61.4 276.7,61.4 276.8,61.4 276.9,61.4 277.1,61.4 277.2,61.4 277.4,61.4 277.5,61.4 277.6,61.4 277.8,61.4 277.9,61.4 278.1,61.4 278.2,61.4 278.4,61.4 278.5,61.4 278.6,61.4 278.8,61.4 278.9,61.4 279.1,61.4 279.2,61.4 279.3,61.4 279.5,61.4 279.6,61.4 279.8,61.4 279.9,61.4 280.1,61.3 280.2,61.3 280.3,61.3 280.5,61.3 280.6,61.3 280.8,61.3 280.9,61.3 281,61.3 281.2,61.3 281.3,61.3 281.4,61.3 281.6,61.4 281.7,61.4 281.9,61.3 282,61.4 282.2,61.4 282.3,61.4 282.4,61.4 282.6,61.4 282.7,61.4 282.9,61.4 283,61.4 283.1,61.4 283.3,61.4 283.4,61.4 283.6,61.4 283.7,61.3 283.9,61.4 284,61.3 284.1,61.3 284.3,61.3 284.4,61.3 284.6,61.3 284.7,61.3 284.8,61.3 285,61.3 285.1,61.3 285.2,61.3 285.4,61.3 285.5,61.3 285.7,61.3 285.8,61.3 286,61.3 286.1,61.3 286.2,61.3 286.4,61.3 286.5,61.3 286.7,61.3 286.8,61.3 286.9,61.3 287.1,61.3 287.2,61.3 287.4,61.3 287.5,61.3 287.6,61.3 287.8,61.3 287.9,61.3 288.1,61.3 288.2,61.3 288.4,61.3 288.5,61.3 288.6,61.3 288.8,61.3 288.9,61.3 289.1,61.3 289.2,61.3 289.3,61.3 289.5,61.2 289.6,61.2 289.8,61.2 289.9,61.2 290,61.2 290.2,61.2 290.3,61.2 290.5,61.2 290.6,61.2 290.7,61.2 290.9,61.1 291,61.1 291.2,61.1 291.3,61.2 291.4,61.2 291.6,61.2 291.7,61.2 291.9,61.2 292,61.2 292.1,61.2 292.3,61.2 292.4,61.2 292.6,61.2 292.7,61.2 292.9,61.2 293,61.2 293.1,61.2 293.3,61.2 293.4,61.2 293.6,61.2 293.7,61.3 293.8,61.3 294,61.2 294.1,61.2 294.3,61.2 294.4,61.2 294.5,61.2 294.7,61.2 294.8,61.2 295,61.2 295.1,61.2 295.2,61.2 295.4,61.2 295.5,61.2 295.7,61.2 295.8,61.2 295.9,61.2 296.1,61.2 296.2,61.2 296.4,61.2 296.5,61.2 296.6,61.2 296.8,61.2 296.9,61.2 297.1,61.2 297.2,61.2 297.4,61.2 297.5,61.2 297.6,61.2 297.8,61.2 297.9,61.2 298.1,61.2 298.2,61.2 298.3,61.2 298.5,61.2 298.6,61.2 298.8,61.2 298.9,61.2 299,61.2 299.2,61.1 299.3,61.2 299.5,61.1 299.6,61.1 299.7,61.1 299.9,61.2 300,61.1 300.2,61.1 300.3,61.1 300.4,61.1 300.6,61.1 300.7,61.1 300.9,61.1 301,61.1 301.1,61 301.3,61 301.4,61 301.6,61 301.7,61 301.9,61 302,60.9 302.1,60.9 302.3,60.9 302.4,60.9 302.6,61 302.7,61.1 302.8,61.1 303,61.1 303.1,61.1 303.3,61.1 303.4,61.1 303.5,61 303.7,61 303.8,61 304,61 304.1,61 304.2,61 304.4,61 304.5,60.9 304.7,60.9 304.8,60.9 304.9,60.9 305.1,60.9 305.2,60.9 305.4,60.9 305.5,60.9 305.6,60.9 305.8,60.9 305.9,60.9 306.1,60.9 306.2,61 306.4,60.9 306.5,61 306.6,61 306.8,61 306.9,61 307.1,61 307.2,60.9 307.3,60.9 307.5,60.9 307.6,60.9 307.8,60.9 307.9,60.9 308,60.9 308.2,60.8 308.3,60.8 308.5,60.8 308.6,60.8 308.8,60.8 308.9,60.8 309,60.7 309.2,60.6 309.3,60.5 309.4,60.5 309.6,60.4 309.7,60.4 309.9,60.3 310,60.2 310.1,60.1 310.3,60.1 310.4,60.1 310.6,60 310.7,60 310.9,59.9 311,59.9 311.1,59.8 311.3,59.8 311.4,59.8 311.6,59.9 311.7,59.9 311.8,59.9 312,60 312.1,60.1 312.3,60.1 312.4,60.1 312.6,60.2 312.7,60.2 312.8,60.3 313,60.3 313.1,60.4 313.2,60.4 313.4,60.3 313.5,60.2 313.7,60.1 313.8,60.1 313.9,60 314.1,59.9 314.2,59.8 314.4,59.7 314.5,59.6 314.7,59.5 314.8,59.4 314.9,59.3 315.1,59.1 315.2,59 315.4,59 315.5,58.8 315.6,58.7 315.8,58.6 315.9,58.6 316.1,58.8 316.2,59.1 316.3,59.3 316.5,59.5 316.6,59.5 316.8,59.4 316.9,59.3 317.1,59.3 317.2,59.1 317.3,59 317.5,59 317.6,58.7 317.8,58.6 317.9,58.6 318,58.4 318.2,58.3 318.3,58.2 318.4,58.1 318.6,58.1 318.7,57.9 318.9,57.7 319,57.7 319.2,57.6 319.3,57.5 319.4,57.6 319.6,57.7 319.7,57.7 319.9,57.9 320,57.6 320.1,57 320.3,56.8 320.4,56.4 320.6,55.9 320.7,55.5 320.9,55.2 321,54.8 321.1,53.8 321.3,53 321.4,52.4 321.6,51.4 321.7,50.6 321.8,49.6 322,50.9 322.1,52.7 322.2,52.8 322.4,52.2 322.5,51.8 322.6,51.7 322.8,51.2 322.9,51.1 323.1,51.6 323.2,52.4 323.3,53.3 323.5,54.4 323.6,54.5 323.7,54.5 323.9,54.6 324,54.4 324.1,54.4 324.3,55.2 324.4,56.3 324.6,57.2 324.7,57 324.8,56.5 324.9,56.1 325.1,55.5 325.2,55.2 325.4,54.8 325.5,54.6 325.6,54.7 325.8,54.6 325.9,54.5 326,54.4 326.2,54.6 326.3,54.8 326.4,55.1 326.6,55.3 326.7,55.4 326.9,55.8 327,55.8 327.1,56.3 327.3,56.5 327.4,56.7 327.5,56.9 327.7,57.3 327.8,57.6 327.9,57.3 328.1,57.1 328.2,57 328.4,56.6 328.5,56.6 328.6,56.5 328.8,56.2 328.9,56.1 329,55.8 329.2,55.9 329.3,55.7 329.4,55.8 329.6,55.6 329.7,55.8 329.8,55.8 330,55.8 330.1,56.1 330.2,56.2 330.4,56.3 330.5,56.5 330.7,56.6 330.8,56.6 330.9,56.7 331.1,56.8 331.2,57 331.3,57 331.5,57.1 331.6,57.3 331.8,57.4 331.9,57.5 332,57.7 332.1,57.6 332.3,57.8 332.4,58 332.6,57.7 332.7,57.6 332.8,57.6 333,57.2 333.1,57.2 333.2,57 333.4,56.9 333.5,56.8 333.6,56.8 333.8,56.5 333.9,56.6 334.1,56.8 334.2,56.9 334.3,57.1 334.5,57.2 334.6,57.4 334.7,57.6 334.9,57.8 335,57.8 335.1,57.7 335.3,57.6 335.4,57.7 335.6,57.7 335.7,57.6 335.8,57.7 336,57.6 336.1,57.5 336.2,57.6 336.4,57.5 336.5,57.6 336.6,57.6 336.8,57.6 336.9,57.5 337,57.5 337.2,57.4 337.3,57.6 337.4,57.5 337.6,57.5 337.7,57.6 337.9,57.5 338,57.6 338.1,57.6 338.3,57.6 338.4,57.8 338.5,57.7 338.7,57.9 338.8,57.8 338.9,57.9 339.1,57.9 339.2,57.8 339.4,57.9 339.5,58 339.6,58 339.8,57.9 339.9,58.1 340,58.3 340.2,58.5 340.3,58.9 340.4,59.2 340.6,59.2 340.7,59.2 340.9,59.4 341,59.4 341.1,59.4 341.2,59.5 341.4,59.5 341.5,59.6 341.7,59.6 341.8,59.5 341.9,59.4 342.1,59.5 342.2,59.4 342.3,59.3 342.5,59.3 342.6,59.3 342.8,59.3 342.9,59.3 343,59.3 343.1,59.3 343.3,59.3 343.4,59.3 343.6,59.4 343.7,59.4 343.8,59.4 344,59.4 344.1,59.4 344.2,59.4 344.4,59.4 344.5,59.5 344.6,59.3 344.8,59.4 344.9,59.3 345.1,59.3 345.2,59.4 345.3,59.3 345.5,59.3 345.6,59.3 345.7,59.2 345.9,59.2 346,59.3 346.1,59.2 346.3,59.2 346.4,59.1 346.6,59.1 346.7,59.1 346.8,59.1 347,59.1 347.1,59.1 347.2,59 347.4,59.1 347.5,58.9 347.6,58.7 347.8,58.6 347.9,58.5 348,58.4 348.2,58.2 348.3,58 348.4,57.9 348.6,57.8 348.7,57.6 348.9,57.5 349,57.3 349.1,57.2 349.3,57.1 349.4,56.9 349.5,56.8 349.7,56.7 349.8,56.6 349.9,56.4 350.1,56.1 350.2,56 350.4,55.9 350.5,55.6 350.6,55.4 350.8,55.4 350.9,55 351,55 351.2,54.8 351.3,54.5 351.4,54.2 351.6,54.3 351.7,54 351.9,54 352,53.4 352.1,53.7 352.2,53.8 352.4,54.3 352.5,54.4 352.7,54.5 352.8,55.3 352.9,55.4 353.1,55.5 353.2,55.7 353.3,55.6 353.5,55.1 353.6,55.1 353.7,55.1 353.9,54.7 354,54.7 354.1,54.2 354.3,54.3 354.4,54.3 354.6,54.3 354.7,54.5 354.8,54.8 354.9,54.9 355.1,54.7 355.2,54.9 355.4,55.1 355.5,55.1 355.6,55.2 355.8,55.3 355.9,55.7 356,55.6 356.2,55.6 356.3,55.8 356.4,55.9 356.6,56.2 356.7,56.1 356.8,56.2 357,56.2 357.1,56.4 357.2,56.3 357.4,56.2 357.5,56.1 357.6,56.2 357.8,56 357.9,56.1 358,56 358.2,56 358.3,55.9 358.5,55.9 358.6,56 358.7,55.8 358.9,55.9 359,56.1 359.1,56.1 359.3,56.1 359.4,56.3 359.5,56.4 359.7,56.4 359.8,56.5 359.9,56.6 360.1,56.8 360.2,56.7 360.4,56.8 360.5,56.9 360.6,57 360.8,57.1 360.9,57.2 361,57.3 361.1,57.4 361.3,57.4 361.4,57.5 361.6,57.5 361.7,57.3 361.8,57.4 362,57.2 362.1,57.3 362.2,57.1 362.4,56.9 362.5,56.9 362.6,56.9 362.8,56.7 362.9,56.6 363,56.6 363.2,56.4 363.3,56.2 363.4,56.1 363.6,56 363.7,55.8 363.9,55.7 364,55.6 364.1,55.5 364.3,55.4 364.4,55.3 364.5,55.2 364.7,55.5 364.8,55.8 364.9,56.2 365.1,56.4 365.2,56.7 365.3,57 365.5,57.2 365.6,57.5 365.7,57.8 365.9,58 366,58.5 366.1,58.5 366.3,58.5 366.4,58.2 366.6,58 366.7,58.1 366.9,57.9 367,57.7 367.1,57.6 367.3,57.5 367.4,57.5 367.5,57.2 367.7,57.1 367.8,57 368,56.9 368.1,56.7 368.2,56.7 368.4,56.5 368.5,56.4 368.7,56.4 368.8,56.1 368.9,56 369.1,55.9 369.2,56 369.4,55.9 369.5,55.7 369.6,55.7 369.8,55.5 369.9,55.4 370.1,55.6 370.2,55.6 370.3,55.3 370.5,55.2 370.6,55.2 370.8,55.1 370.9,55.3 371,55.2 371.2,55.1 371.3,55.2 371.5,55.3 371.6,55.2 371.7,54.8 371.9,54.9 372,55.1 372.2,55.1 372.3,55 372.4,55 372.6,54.8 372.7,54.9 372.9,55 373,54.7 373.1,54.9 373.3,54.8 373.4,54.8 373.6,54.8 373.7,54.7 373.8,54.7 374,54.8 374.1,54.7 374.3,54.5 374.4,54.4 374.5,54.2 374.7,54.1 374.8,53.9 375,54 375.1,54.3 375.2,54.4 375.4,54.7 375.5,54.7 375.7,54.8 375.8,54.9 375.9,55.2 376.1,55.3 376.2,55.2 376.4,55.2 376.5,55 376.6,54.9 376.8,54.9 376.9,54.7 377.1,54.8 377.2,54.6 377.3,54.6 377.5,54.5 377.6,54.1 377.8,54 377.9,54.1 378,53.9 378.2,53.8 378.3,53.7 378.5,53.5 378.6,53.6 378.7,53.3 378.9,52.9 379,52.4 379.2,52.3 379.3,52.2 379.4,51.8 379.6,51.6 379.7,51.3 379.9,50.7 380,50.7 380.1,50.4 380.3,49.7 380.4,49.6 380.6,49.5 380.7,49.4 380.8,48.9 381,48.4 381.1,48.3 381.3,47.9 381.4,47.9 381.5,47.5 381.7,47.4 381.8,46.7 382,45.8 382.1,45.8 382.2,44.8 382.4,44 382.5,43.2 382.7,40.9 382.8,38.2 382.9,35.4 383.1,37.1 383.3,38.3 383.5,40 383.7,40 383.9,41.7 384.1,41.9 384.3,40.9 384.5,39.2 384.7,38.2 384.9,36.4 385.1,34.9 385.3,33.7 385.5,32.2 385.7,31.4 385.9,29 386.1,28.6 386.3,27.9 386.4,27 386.6,29.3 386.7,31.4 386.9,31 387,29.3 387.1,28.6 387.3,26.6 387.4,24.3 387.6,24.2 387.7,25.4 387.9,26.1 388,27 388.1,27.7 388.3,27.2 388.4,27 388.6,27.5 388.7,25.6 388.9,25.4 389,23.8 389.1,23.9 389.3,22.7 389.5,23.1 389.6,26.3 389.8,27.8 390,29.4 390.2,30.9 390.4,30 390.5,28.2 390.7,28 390.9,28 391.1,27.2 391.2,27.7 391.4,31.5 391.6,34.5 391.8,37.4 391.9,38.8 392.1,39.4 392.2,39.3 392.4,39.2 392.5,38.8 392.7,37.9 392.8,37.6 393,37.9 393.1,37.2 393.2,36.9 393.4,36.6 393.5,38.1 393.7,40.1 393.8,41.5 394,42 394.1,41.3 394.3,41.7 394.4,42.3 394.6,41.7 394.7,42 394.9,43 395,42 395.1,42.5 395.3,42.3 395.4,43.4 395.6,41.4 395.7,39.5 395.8,38.1 395.9,37 396,36.2 396.1,37.5" fill="none" stroke="#000" stroke-width="1.25" stroke-linejoin="round"/>
<polyline clip-path="url(#c2)" points="226.4,56.7 226.7,55.9 227,55.9 227.3,56.2 227.6,55.6 227.9,54.7 228.2,54.4 228.5,55.4 228.8,55.9 229,55.7 229.3,55.5 229.6,56 229.9,55 230.2,54.7 230.5,54.3 230.8,54.9 231.1,55 231.3,55.3 231.6,54.5 231.9,54.9 232.2,54.8 232.5,54.5 232.8,54.4 233.1,54.5 233.4,53.3 233.7,53.6 233.9,53.5 234.2,53.6 234.5,54.2 234.8,53.1 235.1,53.1 235.4,53 235.7,53 236,53.2 236.3,53.3 236.6,52.9 237,53.1 237.3,53.1 237.6,52.9 237.9,52.5 238.2,52.9 238.5,52.6 238.8,52.3 239.1,52.1 239.4,51.9 239.7,52.9 240,52.8 240.3,52.4 240.7,52.1 241,52.1 241.3,52.1 241.6,52.3 241.9,51.4 242.2,51.4 242.5,51.3 242.8,51.6 243.1,51.1 243.4,51.1 243.8,50.5 244.1,51.8 244.4,51.3 244.7,51.1 245,52.1 245.3,51.1 245.6,49.9 245.9,51 246.2,51.5 246.5,51.6 246.8,51.5 247.2,51.7 247.5,50.5 247.8,49.4 248.1,49.6 248.4,50.5 248.7,50.5 249,50.2 249.3,50.3 249.6,50.7 249.9,50.4 250.2,50.2 250.5,50.4 250.9,50.1 251.2,49.6 251.5,49.2 251.8,49.2 252.1,49.3 252.4,49.8 252.7,50.2 253,50.2 253.3,50.3 253.6,51.1 253.8,51.2 254.2,52 254.6,52 254.9,51.5 255.3,50.5 255.6,49.8 255.9,48.9 256.2,49.2 256.4,49.5 256.7,49.6 257,49.4 257.3,49.2 257.7,48.6 258,48.9 258.3,48.7 258.6,48.7 258.9,48.5 259.2,48.6 259.5,48.6 259.8,48.1 260.1,48.5 260.4,48.6 260.8,49.1 261.1,49.2 261.4,48.8 261.7,49.1 262,48.4 262.3,47.4 262.6,47.7 262.9,47.7 263.2,47.3 263.5,47 263.8,48.1 264.1,47.6 264.5,47.6 264.8,47.6 265.1,48 265.4,48.2 265.7,48.6 266,47.5 266.3,47.5 266.6,47.2 266.9,47.6 267.2,47.3 267.6,47.4 267.9,48.2 268.2,47.9 268.5,47.7 268.8,48.3 269.1,48.7 269.4,47.4 269.7,47.5 270,46.9 270.3,47.7 270.6,47.6 270.9,47.5 271.2,48.2 271.4,48.9 271.7,49.4 272,48.9 272.3,49.4 272.7,49.9 273,52.3 273.4,51.6 273.7,50.5 274,50.5 274.3,51.2 274.6,50 274.9,48.8 275.2,48.7 275.5,49.1 275.8,49.3 276.1,50 276.3,48.8 276.6,49.1 276.9,48.7 277.2,48.1 277.5,48.6 277.8,49.2 278.1,49.5 278.4,49.4 278.6,49.9 278.9,50 279.2,50.7 279.5,50.8 279.8,51.1 280.1,50.8 280.4,51.4 280.7,51.9 281,52.7 281.3,52.3 281.6,51.3 282,51.7 282.3,51.4 282.7,51.1 283,50.2 283.3,50 283.6,49.8 283.9,49.5 284.2,49.6 284.5,48.9 284.9,48.6 285.2,49.3 285.5,48.7 285.8,49.8 286.1,49.4 286.4,48.9 286.7,49.3 287,48.6 287.3,49.1 287.6,48.3 287.9,48.9 288.3,48.3 288.6,47.9 288.9,48.6 289.2,48.8 289.5,48.1 289.8,47.8 290.1,47.2 290.4,47.3 290.7,47.7 291,47.4 291.3,47.2 291.6,46.5 292,47.2 292.3,46.9 292.6,47.3 292.9,47.8 293.2,47.3 293.5,46.9 293.8,46.8 294.1,46.8 294.4,46.3 294.7,46.2 295.1,45.3 295.4,46 295.7,45.8 296,46.6 296.3,46 296.6,46.1 296.9,46.1 297.2,45.9 297.5,46.4 297.8,45.9 298.1,45.7 298.4,45.7 298.8,45.4 299.1,45.6 299.4,44.8 299.7,45.1 300,44.2 300.3,44.3 300.6,44.1 300.9,44 301.2,44.2 301.5,44.2 301.9,44.3 302.2,43.6 302.5,44.5 302.8,44.2 303.1,43.8 303.4,43.5 303.7,43.9 304,43.2 304.3,43.2 304.6,43.4 304.9,43 305.2,42.6 305.6,42.3 305.9,42.8 306.2,42.8 306.5,43.2 306.8,43.3 307.1,43.5 307.4,42.3 307.7,42.6 308,42 308.3,41.7 308.7,41.5 309,41.7 309.3,42.4 309.6,42.4 309.9,42.5 310.2,41.4 310.5,42.4 310.8,42.2 311.1,42.4 311.4,42.1 311.7,41.8 312.1,41 312.4,41.1 312.7,39.9 313,40.3 313.3,40.1 313.6,40.7 313.9,41 314.2,40.8 314.5,40.9 314.8,40.6 315.1,41.3 315.4,40.5 315.8,40.7 316.1,39.8 316.4,40.3 316.7,40.4 317,40.2 317.3,40.3 317.6,40.4 317.9,40.1 318.2,40.2 318.5,40.8 318.9,41 319.2,41 319.5,40.1 319.8,40.3 320.1,40 320.4,39.5 320.7,39.4 321,39.6 321.3,39.2 321.6,38.6 321.9,38.3 322.2,38.4 322.5,37.8 322.8,37.4 323.1,37.4 323.4,37.2 323.7,35.7 324.1,35.2 324.5,37 324.8,38.9 325.2,38.6 325.6,38.1 325.8,37.7 326.1,37.9 326.4,38.1 326.7,38.4 327,38.3 327.3,37.4 327.6,37.5 327.9,38.1 328.1,38 328.4,37.6 328.7,37.3 329,37 329.3,37 329.6,37.2 329.9,36.4 330.2,36.2 330.5,36.2 330.7,35.7 331,35.7 331.3,35.7 331.6,35.8 331.9,36.2 332.2,36.2 332.5,36 332.8,36.2 333,35.5 333.3,35.7 333.6,35.1 333.9,35.7 334.2,35 334.5,35.1 334.8,35.1 335.1,35.2 335.4,35.2 335.6,35 336,35.6 336.3,36.8 336.6,37.8 336.9,37.6 337.2,38.3 337.5,38.2 337.8,38.2 338.1,37.7 338.4,37.9 338.7,38.7 339,37.6 339.2,37.5 339.6,38 340,37.4 340.4,38.9 340.7,41.1 341.1,41.3 341.4,42.7 341.8,42 342.2,40.7 342.4,39.2 342.7,39 343,38.9 343.3,38.5 343.6,38 343.9,37.9 344.2,37.6 344.5,37.4 344.8,37.3 345.1,36.9 345.3,36.8 345.6,37.6 345.9,37.4 346.2,37 346.5,36 346.8,35.8 347.1,36.3 347.4,35.9 347.6,35.7 347.9,35.7 348.2,35.4 348.5,35.6 348.8,35.7 349.1,34.8 349.4,34.8 349.7,34.8 350,34.5 350.2,34.1 350.5,35.2 350.8,34.8 351.1,34.8 351.4,34.8 351.7,35.3 352,35.4 352.3,34.8 352.5,33.5 352.8,32.2 353.1,33.1 353.4,32.8 353.7,32.8 354.1,33.7 354.4,34.8 354.7,35.8 355,34.6 355.3,34.9 355.6,34.7 355.9,34.2 356.2,34.3 356.4,33.4 356.7,33.4 357,32.7 357.3,33.2 357.6,33.4 357.9,32.3 358.2,32.2 358.5,32.5 358.8,32 359,31.6 359.3,30.9 359.6,32 359.9,32.3 360.2,30.6 360.5,31.3 360.8,31.2 361.1,30.5 361.3,29.8 361.6,29.5 361.9,29.5 362.2,29.1 362.5,29.3 362.8,29.4 363.1,28.3 363.4,29.3 363.7,28.2 363.9,28.4 364.2,28.4 364.5,28 364.9,28.3 365.2,30.7 365.6,34.4 366,39.5 366.3,43.1 366.7,45.3 367,43.9 367.4,42.1 367.8,40.2 368.1,37.5 368.4,37.3 368.7,37.3 369,36.5 369.3,36.2 369.6,35.5 369.9,33.9 370.1,33.6 370.4,32.9 370.7,32.2 371,31.9 371.3,31.7 371.6,32.2 371.9,32.4 372.2,30.7 372.4,29.7 372.7,29.7 373,30.3 373.3,29.7 373.6,29.2 373.9,29.3 374.2,29.7 374.5,29.2 374.8,29 375.1,28.1 375.3,27.8 375.6,26.2 375.9,26.6 376.2,26.3 376.5,25.2 376.8,24.9 377.1,26.5 377.5,28 377.9,28.7 378.2,29.9 378.6,28.2 378.9,26 379.2,26.6 379.5,25.8 379.8,25.5 380.1,24.3 380.4,24.2 380.7,24.3 381,23.9 381.2,23.9 381.5,23.4 381.8,22.2 382.1,22.2 382.4,21.9 382.7,21.3 383,20.6 383.3,20.4 383.6,20.3 383.8,20.6 384.1,21.1 384.4,20.6 384.7,20.7 385,20.1 385.3,19.5 385.6,19.4 385.9,18.8 386.1,19.2 386.4,18.2 386.7,18.1 387,17 387.3,18.1 387.6,17.6 387.9,17.7 388.2,18 388.5,17.5 388.8,17.1 389,16.8 389.3,16 389.6,15.9 389.9,15.3 390.2,15.4 390.5,15.3 390.8,15.8 391.1,14.7 391.3,15.2 391.6,14.7 391.9,14.6 392.2,13.9 392.5,14.1 392.8,14.1 393.1,13.2 393.4,13 393.7,13.4 393.9,13.2 394.2,12.6 394.5,12.4 394.8,12.4 395.1,12.2 395.4,12.6 395.7,11.9 396,11.4 396.3,11.8 396.5,11.1" fill="none" stroke="#7a7a7a" stroke-width="1.25" stroke-linejoin="round"/>
<line x1="225.4" y1="18.07" x2="226.6" y2="18.07" stroke="#8c8c8c" stroke-width="0.8"/>
<text x="224.3" y="18.37" font-size="4.7" text-anchor="end">4000</text>
<line x1="225.4" y1="30.99" x2="226.6" y2="30.99" stroke="#8c8c8c" stroke-width="0.8"/>
<text x="224.3" y="31.29" font-size="4.7" text-anchor="end">3200</text>
<line x1="225.4" y1="43.91" x2="226.6" y2="43.91" stroke="#8c8c8c" stroke-width="0.8"/>
<text x="224.3" y="44.21" font-size="4.7" text-anchor="end">2400</text>
<line x1="225.4" y1="56.83" x2="226.6" y2="56.83" stroke="#8c8c8c" stroke-width="0.8"/>
<text x="224.3" y="57.13" font-size="4.7" text-anchor="end">1600</text>
<line x1="396.5" y1="61.6" x2="397.5" y2="61.6" stroke="#8c8c8c" stroke-width="0.8"/>
<text x="398.5" y="62.35" font-size="4.7">0</text>
<line x1="396.5" y1="55.35" x2="397.5" y2="55.35" stroke="#8c8c8c" stroke-width="0.8"/>
<line x1="396.5" y1="49.1" x2="397.5" y2="49.1" stroke="#8c8c8c" stroke-width="0.8"/>
<text x="398.5" y="49.85" font-size="4.7">20,000</text>
<line x1="396.5" y1="42.85" x2="397.5" y2="42.85" stroke="#8c8c8c" stroke-width="0.8"/>
<line x1="396.5" y1="36.6" x2="397.5" y2="36.6" stroke="#8c8c8c" stroke-width="0.8"/>
<text x="398.5" y="37.35" font-size="4.7">40,000</text>
<line x1="396.5" y1="30.35" x2="397.5" y2="30.35" stroke="#8c8c8c" stroke-width="0.8"/>
<line x1="396.5" y1="24.1" x2="397.5" y2="24.1" stroke="#8c8c8c" stroke-width="0.8"/>
<text x="398.5" y="24.85" font-size="4.7">60,000</text>
<line x1="396.5" y1="17.85" x2="397.5" y2="17.85" stroke="#8c8c8c" stroke-width="0.8"/>
<line x1="396.5" y1="11.6" x2="397.5" y2="11.6" stroke="#8c8c8c" stroke-width="0.8"/>
<text x="398.5" y="12.35" font-size="4.7">80,000</text>
<line x1="239" y1="61.6" x2="239" y2="63.2" stroke="#8c8c8c" stroke-width="0.8"/>
<line x1="259.65" y1="61.6" x2="259.65" y2="63.2" stroke="#8c8c8c" stroke-width="0.8"/>
<line x1="280.3" y1="61.6" x2="280.3" y2="63.2" stroke="#8c8c8c" stroke-width="0.8"/>
<line x1="300.95" y1="61.6" x2="300.95" y2="63.2" stroke="#8c8c8c" stroke-width="0.8"/>
<line x1="321.6" y1="61.6" x2="321.6" y2="63.2" stroke="#8c8c8c" stroke-width="0.8"/>
<line x1="342.25" y1="61.6" x2="342.25" y2="63.2" stroke="#8c8c8c" stroke-width="0.8"/>
<line x1="362.9" y1="61.6" x2="362.9" y2="63.2" stroke="#8c8c8c" stroke-width="0.8"/>
<line x1="383.55" y1="61.6" x2="383.55" y2="63.2" stroke="#8c8c8c" stroke-width="0.8"/>
<text x="229.7" y="67.75" font-size="4.7" text-anchor="middle">2013</text>
<text x="248.7" y="67.75" font-size="4.7" text-anchor="middle">2014</text>
<text x="269.2" y="67.75" font-size="4.7" text-anchor="middle">2015</text>
<text x="290" y="67.75" font-size="4.7" text-anchor="middle">2016</text>
<text x="310.6" y="67.75" font-size="4.7" text-anchor="middle">2017</text>
<text x="331.25" y="67.75" font-size="4.7" text-anchor="middle">2018</text>
<text x="351.9" y="67.75" font-size="4.7" text-anchor="middle">2019</text>
<text x="372.8" y="67.75" font-size="4.7" text-anchor="middle">2020</text>
<text x="391.9" y="67.75" font-size="4.7" text-anchor="middle">2021</text>
<text x="310.55" y="11.5" font-size="5.2" text-anchor="middle">(2) S&amp;P500 Vs. Bitcoin</text>
<clipPath id="c3"><rect x="17.2" y="85.4" width="169.6" height="56.45"/></clipPath>
<rect x="17.2" y="85.4" width="169.6" height="56.45" fill="none" stroke="#8c8c8c" stroke-width="1.3"/>
<polyline points="17.2,141.8 17.3,141.8 17.5,141.8 17.6,141.8 17.8,141.8 17.9,141.8 18,141.8 18.2,141.8 18.3,141.8 18.4,141.8 18.6,141.8 18.7,141.8 18.9,141.8 19,141.8 19.1,141.8 19.3,141.8 19.4,141.8 19.6,141.8 19.7,141.8 19.9,141.8 20,141.8 20.1,141.8 20.3,141.8 20.4,141.8 20.6,141.8 20.7,141.8 20.8,141.8 21,141.8 21.1,141.8 21.3,141.8 21.4,141.8 21.5,141.8 21.7,141.8 21.8,141.8 22,141.8 22.1,141.8 22.2,141.8 22.4,141.8 22.5,141.8 22.7,141.8 22.8,141.8 22.9,141.8 23.1,141.8 23.2,141.8 23.4,141.8 23.5,141.8 23.7,141.8 23.8,141.8 23.9,141.8 24.1,141.8 24.2,141.8 24.4,141.8 24.5,141.8 24.6,141.8 24.8,141.8 24.9,141.8 25.1,141.8 25.2,141.8 25.3,141.8 25.5,141.8 25.6,141.8 25.8,141.8 25.9,141.8 26,141.8 26.2,141.8 26.3,141.8 26.5,141.8 26.6,141.8 26.8,141.8 26.9,141.7 27,141.7 27.2,141.7 27.3,141.7 27.4,141.7 27.6,141.7 27.7,141.7 27.9,141.7 28,141.7 28.2,141.7 28.3,141.6 28.4,141.6 28.6,141.5 28.7,141.5 28.9,141.4 29,141.3 29.1,141.2 29.3,141.2 29.4,141.2 29.6,141.2 29.7,141.2 29.9,141.3 30,141.4 30.1,141.4 30.3,141.5 30.4,141.5 30.5,141.5 30.7,141.5 30.8,141.4 31,141.4 31.1,141.3 31.2,141.3 31.4,141.3 31.5,141.3 31.7,141.3 31.8,141.3 32,141.3 32.1,141.3 32.2,141.3 32.4,141.4 32.5,141.4 32.7,141.4 32.8,141.4 32.9,141.4 33.1,141.4 33.2,141.4 33.4,141.4 33.5,141.4 33.6,141.5 33.8,141.5 33.9,141.5 34.1,141.5 34.2,141.5 34.3,141.5 34.5,141.5 34.6,141.4 34.8,141.4 34.9,141.5 35,141.5 35.2,141.5 35.3,141.5 35.5,141.5 35.6,141.5 35.8,141.5 35.9,141.5 36,141.6 36.2,141.6 36.3,141.6 36.5,141.6 36.6,141.6 36.7,141.6 36.9,141.6 37,141.6 37.2,141.5 37.3,141.6 37.4,141.5 37.6,141.5 37.7,141.5 37.9,141.6 38,141.6 38.1,141.6 38.3,141.6 38.4,141.6 38.6,141.6 38.7,141.5 38.8,141.5 39,141.5 39.1,141.5 39.3,141.5 39.4,141.5 39.5,141.5 39.7,141.4 39.8,141.4 40,141.4 40.1,141.4 40.3,141.4 40.4,141.4 40.5,141.4 40.7,141.4 40.8,141.4 41,141.4 41.1,141.4 41.2,141.5 41.4,141.4 41.5,141.5 41.7,141.5 41.8,141.5 42,141.5 42.1,141.5 42.2,141.5 42.4,141.5 42.5,141.5 42.6,141.5 42.8,141.5 42.9,141.5 43.1,141.5 43.2,141.5 43.3,141.5 43.5,141.5 43.6,141.5 43.8,141.5 43.9,141.6 44.1,141.6 44.2,141.6 44.3,141.6 44.5,141.6 44.6,141.6 44.8,141.5 44.9,141.6 45,141.6 45.2,141.6 45.3,141.5 45.5,141.6 45.6,141.6 45.7,141.6 45.9,141.6 46,141.6 46.2,141.6 46.3,141.6 46.5,141.6 46.6,141.6 46.7,141.7 46.9,141.6 47,141.6 47.1,141.6 47.3,141.6 47.4,141.6 47.6,141.6 47.7,141.6 47.8,141.6 48,141.6 48.1,141.6 48.3,141.6 48.4,141.6 48.6,141.6 48.7,141.6 48.8,141.6 49,141.6 49.1,141.6 49.3,141.6 49.4,141.6 49.5,141.6 49.7,141.6 49.8,141.6 50,141.6 50.1,141.6 50.2,141.6 50.4,141.6 50.5,141.6 50.7,141.6 50.8,141.6 51,141.6 51.1,141.6 51.2,141.6 51.4,141.6 51.5,141.7 51.7,141.7 51.8,141.7 51.9,141.7 52.1,141.7 52.2,141.7 52.4,141.7 52.5,141.7 52.6,141.7 52.8,141.7 52.9,141.7 53.1,141.7 53.2,141.7 53.3,141.7 53.5,141.7 53.6,141.7 53.8,141.7 53.9,141.7 54,141.7 54.2,141.7 54.3,141.7 54.5,141.7 54.6,141.7 54.8,141.7 54.9,141.7 55,141.7 55.2,141.7 55.3,141.7 55.5,141.7 55.6,141.7 55.7,141.7 55.9,141.7 56,141.7 56.2,141.7 56.3,141.7 56.4,141.7 56.6,141.7 56.7,141.7 56.9,141.7 57,141.7 57.1,141.7 57.3,141.7 57.4,141.7 57.6,141.7 57.7,141.7 57.8,141.7 58,141.7 58.1,141.7 58.3,141.7 58.4,141.7 58.5,141.7 58.7,141.7 58.8,141.7 59,141.7 59.1,141.7 59.2,141.7 59.4,141.7 59.5,141.7 59.7,141.7 59.8,141.7 60,141.7 60.1,141.7 60.2,141.7 60.4,141.7 60.5,141.7 60.7,141.7 60.8,141.7 60.9,141.7 61.1,141.7 61.2,141.7 61.4,141.7 61.5,141.7 61.6,141.7 61.8,141.7 61.9,141.7 62.1,141.7 62.2,141.7 62.3,141.7 62.5,141.7 62.6,141.7 62.8,141.7 62.9,141.7 63,141.7 63.2,141.7 63.3,141.7 63.5,141.7 63.6,141.7 63.8,141.7 63.9,141.7 64,141.7 64.2,141.7 64.3,141.7 64.5,141.7 64.6,141.7 64.7,141.7 64.9,141.7 65,141.7 65.2,141.7 65.3,141.7 65.4,141.7 65.6,141.7 65.7,141.7 65.9,141.7 66,141.7 66.1,141.7 66.3,141.7 66.4,141.7 66.6,141.7 66.7,141.7 66.8,141.7 67,141.7 67.1,141.7 67.3,141.7 67.4,141.7 67.5,141.7 67.7,141.7 67.8,141.7 68,141.7 68.1,141.7 68.2,141.6 68.4,141.6 68.5,141.6 68.7,141.6 68.8,141.6 69,141.6 69.1,141.6 69.2,141.6 69.4,141.7 69.5,141.7 69.7,141.6 69.8,141.6 69.9,141.6 70.1,141.6 70.2,141.6 70.4,141.6 70.5,141.6 70.7,141.6 70.8,141.6 70.9,141.6 71.1,141.6 71.2,141.6 71.3,141.6 71.5,141.6 71.6,141.6 71.8,141.6 71.9,141.6 72,141.6 72.2,141.6 72.3,141.6 72.5,141.6 72.6,141.6 72.8,141.6 72.9,141.6 73,141.6 73.2,141.6 73.3,141.6 73.5,141.6 73.6,141.6 73.7,141.6 73.9,141.6 74,141.6 74.2,141.6 74.3,141.6 74.5,141.6 74.6,141.6 74.7,141.6 74.9,141.6 75,141.6 75.2,141.6 75.3,141.6 75.4,141.6 75.6,141.6 75.7,141.6 75.8,141.6 76,141.6 76.1,141.6 76.3,141.6 76.4,141.6 76.6,141.6 76.7,141.6 76.8,141.6 77,141.6 77.1,141.6 77.3,141.6 77.4,141.6 77.5,141.6 77.7,141.6 77.8,141.6 78,141.6 78.1,141.6 78.2,141.6 78.4,141.6 78.5,141.6 78.7,141.6 78.8,141.6 79,141.6 79.1,141.6 79.2,141.6 79.4,141.5 79.5,141.5 79.7,141.5 79.8,141.5 79.9,141.5 80.1,141.5 80.2,141.5 80.3,141.5 80.5,141.5 80.6,141.5 80.8,141.4 80.9,141.4 81.1,141.4 81.2,141.4 81.3,141.4 81.5,141.4 81.6,141.4 81.8,141.4 81.9,141.4 82,141.4 82.2,141.4 82.3,141.4 82.5,141.4 82.6,141.4 82.8,141.4 82.9,141.4 83,141.4 83.2,141.4 83.3,141.5 83.5,141.5 83.6,141.5 83.7,141.5 83.9,141.5 84,141.5 84.2,141.5 84.3,141.5 84.4,141.5 84.6,141.5 84.7,141.5 84.9,141.5 85,141.5 85.1,141.5 85.3,141.5 85.4,141.5 85.6,141.5 85.7,141.5 85.8,141.5 86,141.5 86.1,141.5 86.3,141.5 86.4,141.5 86.5,141.5 86.7,141.5 86.8,141.5 87,141.5 87.1,141.5 87.2,141.5 87.4,141.5 87.5,141.5 87.7,141.5 87.8,141.5 88,141.5 88.1,141.4 88.2,141.4 88.4,141.4 88.5,141.5 88.7,141.4 88.8,141.4 88.9,141.4 89.1,141.4 89.2,141.4 89.4,141.4 89.5,141.4 89.6,141.4 89.8,141.4 89.9,141.4 90.1,141.4 90.2,141.4 90.3,141.4 90.5,141.4 90.6,141.4 90.8,141.4 90.9,141.4 91,141.4 91.2,141.4 91.3,141.3 91.5,141.3 91.6,141.3 91.8,141.3 91.9,141.3 92,141.2 92.2,141.2 92.3,141.2 92.5,141.2 92.6,141.2 92.7,141.2 92.9,141.2 93,141.2 93.2,141.3 93.3,141.3 93.4,141.4 93.6,141.3 93.7,141.3 93.9,141.3 94,141.3 94.1,141.3 94.3,141.3 94.4,141.3 94.6,141.2 94.7,141.2 94.9,141.2 95,141.2 95.1,141.2 95.3,141.2 95.4,141.2 95.5,141.2 95.7,141.1 95.8,141.1 96,141.1 96.1,141.1 96.2,141.1 96.4,141.2 96.5,141.2 96.7,141.2 96.8,141.2 97,141.2 97.1,141.2 97.2,141.2 97.4,141.3 97.5,141.2 97.7,141.2 97.8,141.2 97.9,141.2 98.1,141.2 98.2,141.2 98.4,141.2 98.5,141.1 98.6,141.1 98.8,141.1 98.9,141.1 99.1,141 99.2,141 99.4,141 99.5,141 99.6,140.9 99.8,140.9 99.9,140.8 100,140.7 100.2,140.7 100.3,140.6 100.5,140.5 100.6,140.4 100.8,140.4 100.9,140.3 101,140.3 101.2,140.3 101.3,140.2 101.5,140.2 101.6,140.1 101.7,140 101.9,140 102,140 102.2,140.1 102.3,140.2 102.4,140.1 102.6,140.3 102.7,140.3 102.9,140.3 103,140.4 103.2,140.4 103.3,140.5 103.4,140.5 103.6,140.6 103.7,140.6 103.9,140.6 104,140.5 104.1,140.4 104.3,140.4 104.4,140.3 104.5,140.2 104.7,140.2 104.8,140 105,139.9 105.1,139.8 105.3,139.7 105.4,139.6 105.5,139.6 105.7,139.4 105.8,139.3 106,139.2 106.1,139.1 106.2,138.9 106.4,138.9 106.5,138.9 106.7,139 106.8,139.3 106.9,139.5 107.1,139.7 107.2,139.8 107.4,139.7 107.5,139.6 107.7,139.5 107.8,139.4 107.9,139.3 108.1,139.2 108.2,139 108.4,138.9 108.5,138.9 108.6,138.7 108.8,138.6 108.9,138.4 109,138.3 109.2,138.3 109.3,138.1 109.5,137.9 109.6,137.9 109.8,137.8 109.9,137.8 110,137.9 110.2,137.9 110.3,137.9 110.5,138.1 110.6,137.8 110.7,137.3 110.9,137.1 111,136.7 111.2,136.2 111.3,135.8 111.5,135.5 111.6,135 111.7,134 111.9,133.2 112,132.6 112.2,131.6 112.3,130.9 112.4,129.9 112.6,131.2 112.7,132.9 112.8,133 113,132.5 113.1,132.1 113.2,132 113.4,131.4 113.5,131.3 113.7,131.9 113.8,132.7 113.9,133.5 114.1,134.7 114.2,134.8 114.3,134.7 114.5,134.8 114.6,134.6 114.7,134.6 114.9,135.5 115,136.5 115.2,137.5 115.3,137.2 115.4,136.7 115.5,136.3 115.7,135.8 115.8,135.4 116,135 116.1,134.8 116.2,135 116.4,134.8 116.5,134.7 116.6,134.6 116.8,134.8 116.9,135 117,135.4 117.2,135.5 117.3,135.6 117.5,136.1 117.6,136.1 117.7,136.5 117.9,136.7 118,137 118.1,137.2 118.3,137.5 118.4,137.8 118.5,137.6 118.7,137.4 118.8,137.2 119,136.9 119.1,136.9 119.2,136.7 119.4,136.5 119.5,136.4 119.6,136.1 119.8,136.2 119.9,135.9 120,136.1 120.2,135.8 120.3,136 120.4,136 120.6,136 120.7,136.3 120.9,136.4 121,136.6 121.1,136.7 121.3,136.8 121.4,136.8 121.5,137 121.7,137.1 121.8,137.2 121.9,137.2 122.1,137.4 122.2,137.5 122.4,137.6 122.5,137.8 122.6,137.9 122.8,137.9 122.9,138.1 123,138.2 123.2,137.9 123.3,137.8 123.4,137.8 123.6,137.5 123.7,137.4 123.8,137.3 124,137.2 124.1,137.1 124.2,137 124.4,136.7 124.5,136.9 124.7,137 124.8,137.2 124.9,137.3 125.1,137.4 125.2,137.7 125.3,137.8 125.5,138.1 125.6,138 125.7,137.9 125.9,137.9 126,138 126.2,137.9 126.3,137.8 126.4,137.9 126.6,137.8 126.7,137.8 126.8,137.9 127,137.8 127.1,137.9 127.2,137.8 127.4,137.8 127.5,137.8 127.6,137.7 127.8,137.6 127.9,137.8 128,137.8 128.2,137.7 128.3,137.9 128.5,137.8 128.6,137.8 128.7,137.9 128.9,137.9 129,138 129.1,137.9 129.3,138.1 129.4,138.1 129.5,138.1 129.7,138.1 129.8,138.1 129.9,138.2 130.1,138.2 130.2,138.2 130.4,138.2 130.5,138.3 130.6,138.5 130.8,138.8 130.9,139.1 131,139.4 131.2,139.4 131.3,139.5 131.4,139.7 131.6,139.7 131.7,139.7 131.8,139.7 132,139.8 132.1,139.8 132.3,139.9 132.4,139.8 132.5,139.7 132.7,139.7 132.8,139.6 132.9,139.5 133.1,139.6 133.2,139.5 133.3,139.5 133.5,139.5 133.6,139.6 133.8,139.6 133.9,139.6 134,139.6 134.2,139.6 134.3,139.6 134.4,139.6 134.6,139.6 134.7,139.6 134.8,139.7 135,139.7 135.1,139.7 135.2,139.5 135.4,139.6 135.5,139.6 135.7,139.5 135.8,139.6 135.9,139.5 136.1,139.5 136.2,139.6 136.3,139.5 136.5,139.4 136.6,139.5 136.7,139.4 136.9,139.4 137,139.4 137.2,139.4 137.3,139.3 137.4,139.4 137.6,139.3 137.7,139.3 137.8,139.3 138,139.3 138.1,139.1 138.2,138.9 138.4,138.8 138.5,138.7 138.6,138.6 138.8,138.5 138.9,138.3 139,138.1 139.2,138 139.3,137.9 139.5,137.8 139.6,137.5 139.7,137.5 139.9,137.4 140,137.1 140.1,137.1 140.3,136.9 140.4,136.8 140.5,136.6 140.7,136.4 140.8,136.2 140.9,136.2 141.1,135.8 141.2,135.7 141.4,135.6 141.5,135.3 141.6,135.2 141.8,135 141.9,134.7 142,134.5 142.2,134.5 142.3,134.2 142.4,134.2 142.6,133.7 142.7,134 142.8,134.1 143,134.5 143.1,134.7 143.3,134.8 143.4,135.5 143.5,135.6 143.7,135.8 143.8,135.9 143.9,135.8 144.1,135.3 144.2,135.4 144.3,135.3 144.5,134.9 144.6,135 144.7,134.5 144.9,134.5 145,134.5 145.2,134.5 145.3,134.8 145.4,135 145.5,135.2 145.7,135 145.8,135.1 146,135.4 146.1,135.3 146.2,135.5 146.4,135.6 146.5,136 146.6,135.9 146.8,135.9 146.9,136 147,136.1 147.2,136.5 147.3,136.4 147.4,136.5 147.6,136.4 147.7,136.7 147.8,136.6 148,136.5 148.1,136.4 148.2,136.4 148.4,136.3 148.5,136.4 148.6,136.2 148.8,136.3 148.9,136.2 149.1,136.2 149.2,136.2 149.3,136 149.5,136.2 149.6,136.3 149.7,136.3 149.9,136.3 150,136.6 150.1,136.6 150.3,136.6 150.4,136.7 150.5,136.9 150.7,137.1 150.8,136.9 150.9,137.1 151.1,137.2 151.2,137.3 151.3,137.3 151.5,137.4 151.6,137.5 151.8,137.6 151.9,137.7 152,137.8 152.2,137.8 152.3,137.6 152.4,137.7 152.6,137.5 152.7,137.5 152.8,137.4 153,137.2 153.1,137.2 153.2,137.1 153.4,136.9 153.5,136.8 153.6,136.8 153.8,136.6 153.9,136.5 154,136.4 154.2,136.2 154.3,136.1 154.4,135.9 154.6,135.8 154.7,135.7 154.9,135.7 155,135.5 155.1,135.5 155.3,135.8 155.4,136 155.5,136.5 155.7,136.6 155.8,136.9 155.9,137.3 156.1,137.5 156.2,137.7 156.3,138.1 156.5,138.2 156.6,138.8 156.8,138.8 156.9,138.7 157,138.4 157.2,138.2 157.3,138.4 157.4,138.1 157.6,138 157.7,137.9 157.9,137.7 158,137.8 158.1,137.4 158.3,137.3 158.4,137.2 158.6,137.2 158.7,137 158.8,136.9 159,136.7 159.1,136.7 159.3,136.7 159.4,136.4 159.5,136.3 159.7,136.2 159.8,136.2 160,136.1 160.1,136 160.2,135.9 160.4,135.8 160.5,135.7 160.7,135.8 160.8,135.9 160.9,135.5 161.1,135.4 161.2,135.4 161.4,135.4 161.5,135.5 161.6,135.5 161.8,135.3 161.9,135.5 162.1,135.5 162.2,135.4 162.3,135.1 162.5,135.1 162.6,135.3 162.8,135.3 162.9,135.2 163,135.3 163.2,135 163.3,135.2 163.5,135.2 163.6,135 163.7,135.2 163.9,135 164,135 164.2,135.1 164.3,135 164.4,135 164.6,135 164.7,135 164.9,134.8 165,134.6 165.1,134.4 165.3,134.3 165.4,134.2 165.6,134.2 165.7,134.5 165.8,134.7 166,135 166.1,134.9 166.3,135 166.4,135.2 166.5,135.4 166.7,135.6 166.8,135.5 167,135.4 167.1,135.3 167.2,135.2 167.4,135.1 167.5,134.9 167.7,135 167.8,134.9 167.9,134.8 168.1,134.7 168.2,134.4 168.4,134.2 168.5,134.3 168.6,134.2 168.8,134 168.9,133.9 169.1,133.8 169.2,133.9 169.3,133.5 169.5,133.1 169.6,132.7 169.8,132.6 169.9,132.4 170,132.1 170.2,131.8 170.3,131.6 170.5,130.9 170.6,131 170.7,130.6 170.9,129.9 171,129.8 171.2,129.7 171.3,129.6 171.4,129.1 171.6,128.6 171.7,128.5 171.9,128.2 172,128.1 172.1,127.8 172.3,127.6 172.4,126.9 172.6,126 172.7,126 172.8,125 173,124.3 173.1,123.5 173.3,121.1 173.4,118.5 173.5,115.7 173.7,117.3 173.9,118.6 174.1,120.3 174.3,120.3 174.5,122 174.7,122.1 174.9,121.1 175.1,119.4 175.3,118.4 175.5,116.7 175.7,115.1 175.9,114 176.1,112.5 176.3,111.6 176.5,109.2 176.7,108.9 176.9,108.1 177,107.3 177.2,109.5 177.3,111.6 177.4,111.3 177.6,109.5 177.7,108.8 177.9,106.9 178,104.6 178.2,104.4 178.3,105.7 178.4,106.3 178.6,107.2 178.7,107.9 178.9,107.4 179,107.2 179.2,107.7 179.3,105.8 179.5,105.6 179.6,104.1 179.7,104.1 179.9,103 180.1,103.3 180.2,106.6 180.4,108 180.6,109.6 180.8,111.1 180.9,110.2 181.1,108.4 181.3,108.3 181.5,108.3 181.7,107.4 181.8,107.9 182,111.8 182.2,114.7 182.4,117.6 182.5,119 182.7,119.6 182.8,119.5 183,119.5 183.1,119.1 183.3,118.1 183.4,117.9 183.6,118.1 183.7,117.5 183.8,117.2 184,116.9 184.1,118.4 184.3,120.3 184.4,121.8 184.6,122.2 184.7,121.5 184.9,121.9 185,122.6 185.2,122 185.3,122.3 185.4,123.2 185.6,122.3 185.7,122.7 185.9,122.5 186,123.6 186.2,121.6 186.3,119.8 186.4,118.3 186.5,117.2 186.6,116.4 186.8,117.7" fill="none" stroke="#000" stroke-width="1.25" stroke-linejoin="round"/>
<polyline clip-path="url(#c3)" points="17.1,127.8 17.4,126.3 17.7,125.3 18,126 18.3,124.8 18.6,123.3 18.9,121.8 19.3,121.2 19.6,119.8 19.9,120.7 20.3,120.7 20.6,119.9 20.9,119.7 21.2,120.4 21.5,121 21.8,120.9 22.2,120.3 22.5,120.8 22.8,122.3 23.2,121.7 23.5,122 23.8,122.2 24.1,123.3 24.4,123.6 24.7,122.6 24.9,122.1 25.2,120.4 25.5,119.5 25.8,119 26.1,117.6 26.4,118 26.7,117.6 27,118.2 27.2,119.9 27.6,120.8 27.9,120.5 28.3,121.8 28.6,121.7 29,122.8 29.3,120.2 29.7,119.3 30.1,117.8 30.4,118.3 30.7,118.8 31,117.6 31.3,118.2 31.6,118.2 31.9,117.7 32.3,117.9 32.6,119.1 33,120.7 33.3,120.6 33.6,122 33.9,121.3 34.2,121.3 34.5,120.4 34.8,120.5 35.1,120.9 35.5,120.9 35.8,119.7 36.1,118.2 36.5,117.2 36.8,117.5 37.1,117.9 37.3,117.8 37.6,117.3 37.9,117.3 38.2,117.3 38.5,117.2 38.8,118.2 39.1,119 39.4,118.5 39.7,117.8 39.9,117.4 40.2,117.6 40.5,117.6 40.8,117.5 41.1,118 41.4,118 41.7,116.6 42,118.8 42.3,119.2 42.7,119.5 43,119.1 43.4,118.1 43.7,117.6 44,118.7 44.3,120.5 44.6,121.4 44.9,123.7 45.3,125 45.6,123.7 46,121.1 46.3,120.2 46.6,118.3 46.9,119.2 47.2,119.3 47.4,120.3 47.7,122.4 48,124.1 48.3,124.1 48.6,124.8 48.9,125.2 49.2,124.6 49.5,122.1 49.8,120.8 50,119.2 50.3,118.7 50.7,118.7 51,118.9 51.3,117.5 51.7,117.3 52,115.8 52.3,116.9 52.6,116.1 52.9,114.9 53.2,116.5 53.5,115.9 53.9,115.5 54.2,114.9 54.6,114.8 54.9,114 55.2,113.4 55.5,114.6 55.8,113.7 56.1,114 56.4,114 56.7,115.3 57.1,115.7 57.5,116 57.8,117.4 58.2,117.7 58.5,118.6 58.9,119.4 59.3,120 59.6,119.3 60,117.2 60.3,119.7 60.7,120.6 61,120.1 61.3,121.3 61.6,120.5 61.9,120.3 62.2,120.8 62.4,121.8 62.7,123.6 63,124.9 63.3,125.3 63.7,127.4 64,131 64.4,129.2 64.8,127 65.1,124.5 65.5,124 65.8,122.6 66.1,122.3 66.5,122.4 66.8,122.8 67.1,123.7 67.3,124 67.6,124.7 68,124 68.3,123.3 68.6,123.9 69,123.8 69.3,124.5 69.7,125.6 69.9,125.8 70.2,126.9 70.5,127.5 70.9,129.8 71.2,131.3 71.6,131 72,130.9 72.3,130.3 72.7,128.9 73,128.6 73.4,127.4 73.7,128.8 74,126.9 74.3,126.4 74.6,125.8 74.9,126.3 75.2,127.1 75.5,125.3 75.8,125.3 76.2,124.9 76.5,125.3 76.8,126.1 77.2,126.4 77.5,126 77.8,125.5 78,123.7 78.4,125 78.7,126.2 79,126.3 79.4,127 79.7,128.8 80.1,129.3 80.3,127.9 80.6,126.3 80.9,124.7 81.3,123.6 81.6,121.7 81.9,121.2 82.3,120.9 82.6,119.2 82.9,117.2 83.2,117.5 83.5,117.5 83.8,117.2 84.1,117.3 84.5,117.3 84.8,117.5 85.2,118.1 85.5,117.2 85.8,116.7 86.1,116.6 86.4,117.3 86.7,117 87,117.9 87.4,117.6 87.7,119 88,118.8 88.4,117.5 88.7,116.6 89,115.8 89.3,115.7 89.6,113.7 89.9,114 90.3,114.5 90.6,113.3 90.9,112.4 91.3,111.2 91.6,112.3 91.9,112.3 92.2,113.7 92.5,114.2 92.8,113.3 93.1,113.4 93.5,112 93.8,111.9 94.1,111.1 94.5,110.5 94.8,109.3 95.1,110 95.3,110.2 95.6,109.7 95.9,109.3 96.2,110 96.5,110.7 96.8,111.6 97.1,111.4 97.5,109.3 97.8,109.4 98.1,108.9 98.5,108.5 98.8,107.6 99.1,108.4 99.4,108.5 99.7,107.3 100,106.7 100.3,108.1 100.5,108.2 100.8,108 101.1,109.4 101.5,109.1 101.8,109.6 102.1,109 102.5,109.1 102.8,108.7 103.1,109.4 103.4,108.8 103.7,109 104,109.3 104.3,111.5 104.6,111 104.9,110.3 105.2,109.1 105.4,109.4 105.8,109.3 106.1,110.8 106.5,110.2 106.8,111.5 107.1,110.4 107.5,110.6 107.8,110.5 108,109.2 108.3,109.3 108.6,108.6 108.9,108.3 109.2,108 109.5,108 109.8,107.8 110.1,108.8 110.4,108.1 110.8,108.6 111.1,109.4 111.5,110.5 111.8,110.9 112.1,108.4 112.4,108.2 112.7,106.6 113,106.8 113.3,105.7 113.7,105 114,106.2 114.3,107.6 114.7,107.9 115,110.4 115.2,110.8 115.5,113.5 115.9,113.5 116.2,113.9 116.5,113.9 116.9,114.7 117.2,114.2 117.6,113.1 117.8,111.2 118.1,110 118.4,108.9 118.8,106.5 119.1,106.1 119.4,106.2 119.8,105.7 120.1,106.2 120.4,106.1 120.7,105.8 121,106.6 121.3,106.8 121.6,106 121.9,105.9 122.2,106.3 122.5,106.4 122.8,108.1 123.1,106.5 123.4,105.8 123.8,106.1 124.1,104.7 124.4,105.1 124.8,105.2 125.1,105.9 125.3,107.2 125.6,108.6 126,108.8 126.3,109.3 126.6,109.4 127,110.7 127.3,110.8 127.7,110.9 127.9,112.7 128.2,113.8 128.5,114.7 128.9,114.1 129.2,113.7 129.5,113.7 129.8,113.7 130,115.5 130.4,114.3 130.7,115.7 131.1,117 131.4,117.7 131.8,117.8 132.2,118.7 132.5,117.6 132.9,116.1 133.2,115.2 133.5,114.4 133.8,115.1 134,114.9 134.4,114 134.7,115 135,114.4 135.4,112.8 135.8,112.2 136.1,111.4 136.3,110.4 136.6,110.8 136.9,110.3 137.3,109.4 137.6,110.1 137.9,109.6 138.3,110.4 138.6,110.8 138.9,111.2 139.2,111 139.5,111.1 139.8,111.7 140.1,110.8 140.4,111.2 140.7,109.8 141,108.7 141.2,107.8 141.6,107.9 141.9,107.7 142.3,108.1 142.6,107.3 142.9,106.2 143.3,106.7 143.6,106.9 143.8,105.3 144.1,105.4 144.5,108.4 144.9,110.6 145.2,111.9 145.6,112.7 145.9,112.7 146.3,112.1 146.6,111.4 146.9,110.9 147.3,112.2 147.6,113.3 147.9,111.7 148.2,112.1 148.5,111.7 148.8,111 149,110.9 149.3,111.2 149.6,111.1 149.9,108.9 150.2,109.1 150.6,110.4 150.9,112.3 151.3,110 151.6,108.6 151.9,108.2 152.2,107.2 152.5,107.2 152.8,107.3 153.1,106.5 153.5,106 153.8,104.7 154.1,105.5 154.5,106.6 154.8,107.4 155.1,108 155.4,108.4 155.7,109.6 156,115 156.2,119.4 156.5,125.5 156.8,131.6 157.1,134.3 157.4,138.8 157.8,135.3 158.1,132.8 158.5,131.5 158.8,131.2 159.1,130.6 159.4,129.5 159.7,128.2 160,127.7 160.3,127 160.7,126.4 161,124.3 161.4,123.1 161.7,121 162.1,121.7 162.4,123.1 162.8,124.4 163.2,125.2 163.5,125.4 163.8,125.3 164,125.4 164.3,125.3 164.7,124.9 165,125.9 165.3,125.3 165.7,124.2 166,124.9 166.3,124.9 166.6,125.6 166.9,126.4 167.2,126.2 167.5,125.9 167.8,127.1 168.1,126.9 168.4,127.2 168.6,127.8 169,129.9 169.3,129.2 169.7,128.8 170,129.2 170.4,129 170.7,127.3 171.1,125.1 171.5,124.6 171.8,123.1 172.1,122.9 172.4,121.9 172.7,121.1 173,121.1 173.3,119.7 173.7,119.7 174,119.3 174.3,120.3 174.7,119.5 175,118.9 175.3,119 175.6,119.4 175.9,119.4 176.2,119.1 176.5,118.5 176.9,117.3 177.2,117.7 177.5,117.2 177.7,116.5 178,117.3 178.3,117.6 178.7,116.4 179,117.2 179.3,117.1 179.6,115.9 179.9,115.7 180.2,114.6 180.5,113.1 180.8,112.2 181.1,112.4 181.3,113.2 181.6,114.5 182,114.1 182.3,113.9 182.6,113.3 183,113.1 183.3,113.4 183.6,113.3 183.9,113.7 184.2,114.3 184.5,112.7 184.8,114.1 185.1,113.9 185.4,113.5 185.7,112.9 186,112.8 186.4,113.6 186.7,114.4 187,113.6" fill="none" stroke="#7a7a7a" stroke-width="1.25" stroke-linejoin="round"/>
<line x1="16" y1="88.16" x2="17.2" y2="88.16" stroke="#8c8c8c" stroke-width="0.8"/>
<text x="14.9" y="88.46" font-size="4.7" text-anchor="end">9000</text>
<line x1="16" y1="101.68" x2="17.2" y2="101.68" stroke="#8c8c8c" stroke-width="0.8"/>
<text x="14.9" y="101.98" font-size="4.7" text-anchor="end">8000</text>
<line x1="16" y1="115.2" x2="17.2" y2="115.2" stroke="#8c8c8c" stroke-width="0.8"/>
<text x="14.9" y="115.5" font-size="4.7" text-anchor="end">7000</text>
<line x1="16" y1="128.72" x2="17.2" y2="128.72" stroke="#8c8c8c" stroke-width="0.8"/>
<text x="14.9" y="129.02" font-size="4.7" text-anchor="end">6000</text>
<line x1="16" y1="142.24" x2="17.2" y2="142.24" stroke="#8c8c8c" stroke-width="0.8"/>
<text x="14.9" y="142.54" font-size="4.7" text-anchor="end">5000</text>
<line x1="186.8" y1="141.85" x2="187.8" y2="141.85" stroke="#8c8c8c" stroke-width="0.8"/>
<text x="188.8" y="142.6" font-size="4.7">0</text>
<line x1="186.8" y1="135.6" x2="187.8" y2="135.6" stroke="#8c8c8c" stroke-width="0.8"/>
<line x1="186.8" y1="129.35" x2="187.8" y2="129.35" stroke="#8c8c8c" stroke-width="0.8"/>
<text x="188.8" y="130.1" font-size="4.7">20,000</text>
<line x1="186.8" y1="123.1" x2="187.8" y2="123.1" stroke="#8c8c8c" stroke-width="0.8"/>
<line x1="186.8" y1="116.85" x2="187.8" y2="116.85" stroke="#8c8c8c" stroke-width="0.8"/>
<text x="188.8" y="117.6" font-size="4.7">40,000</text>
<line x1="186.8" y1="110.6" x2="187.8" y2="110.6" stroke="#8c8c8c" stroke-width="0.8"/>
<line x1="186.8" y1="104.35" x2="187.8" y2="104.35" stroke="#8c8c8c" stroke-width="0.8"/>
<text x="188.8" y="105.1" font-size="4.7">60,000</text>
<line x1="186.8" y1="98.1" x2="187.8" y2="98.1" stroke="#8c8c8c" stroke-width="0.8"/>
<line x1="186.8" y1="91.85" x2="187.8" y2="91.85" stroke="#8c8c8c" stroke-width="0.8"/>
<text x="188.8" y="92.6" font-size="4.7">80,000</text>
<line x1="29.6" y1="141.85" x2="29.6" y2="143.45" stroke="#8c8c8c" stroke-width="0.8"/>
<line x1="50.25" y1="141.85" x2="50.25" y2="143.45" stroke="#8c8c8c" stroke-width="0.8"/>
<line x1="70.9" y1="141.85" x2="70.9" y2="143.45" stroke="#8c8c8c" stroke-width="0.8"/>
<line x1="91.55" y1="141.85" x2="91.55" y2="143.45" stroke="#8c8c8c" stroke-width="0.8"/>
<line x1="112.2" y1="141.85" x2="112.2" y2="143.45" stroke="#8c8c8c" stroke-width="0.8"/>
<line x1="132.85" y1="141.85" x2="132.85" y2="143.45" stroke="#8c8c8c" stroke-width="0.8"/>
<line x1="153.5" y1="141.85" x2="153.5" y2="143.45" stroke="#8c8c8c" stroke-width="0.8"/>
<line x1="174.15" y1="141.85" x2="174.15" y2="143.45" stroke="#8c8c8c" stroke-width="0.8"/>
<text x="20.3" y="148" font-size="4.7" text-anchor="middle">2013</text>
<text x="39.3" y="148" font-size="4.7" text-anchor="middle">2014</text>
<text x="59.8" y="148" font-size="4.7" text-anchor="middle">2015</text>
<text x="80.6" y="148" font-size="4.7" text-anchor="middle">2016</text>
<text x="101.2" y="148" font-size="4.7" text-anchor="middle">2017</text>
<text x="121.85" y="148" font-size="4.7" text-anchor="middle">2018</text>
<text x="142.5" y="148" font-size="4.7" text-anchor="middle">2019</text>
<text x="163.4" y="148" font-size="4.7" text-anchor="middle">2020</text>
<text x="182.5" y="148" font-size="4.7" text-anchor="middle">2021</text>
<text x="100.7" y="91.5" font-size="5.2" text-anchor="middle">(3) FTSE100 Vs. Bitcoin</text>
<clipPath id="c4"><rect x="226.6" y="84.85" width="169.9" height="56.2"/></clipPath>
<rect x="226.6" y="84.85" width="169.9" height="56.2" fill="none" stroke="#8c8c8c" stroke-width="1.3"/>
<polyline points="226.6,141 226.7,141 226.9,141 227,141 227.2,141 227.3,141 227.4,141 227.6,141 227.7,141 227.8,141 228,141 228.1,141 228.3,141 228.4,141 228.5,141 228.7,141 228.8,141 229,141 229.1,141 229.3,141 229.4,141 229.5,141 229.7,141 229.8,141 230,141 230.1,141 230.2,141 230.4,141 230.5,141 230.7,141 230.8,141 230.9,141 231.1,141 231.2,141 231.4,141 231.5,141 231.7,141 231.8,141 231.9,141 232.1,141 232.2,141 232.3,141 232.5,141 232.6,141 232.8,141 232.9,141 233.1,141 233.2,141 233.3,141 233.5,141 233.6,141 233.8,141 233.9,141 234,141 234.2,141 234.3,141 234.5,141 234.6,141 234.7,141 234.9,141 235,141 235.2,141 235.3,141 235.4,141 235.6,141 235.7,141 235.9,141 236,141 236.2,141 236.3,140.9 236.4,140.9 236.6,140.9 236.7,140.9 236.8,140.9 237,140.9 237.1,140.9 237.3,140.9 237.4,140.9 237.6,140.9 237.7,140.8 237.8,140.8 238,140.7 238.1,140.7 238.3,140.6 238.4,140.5 238.5,140.5 238.7,140.4 238.8,140.4 239,140.4 239.1,140.4 239.2,140.5 239.4,140.6 239.5,140.6 239.7,140.7 239.8,140.7 239.9,140.7 240.1,140.7 240.2,140.6 240.4,140.6 240.5,140.5 240.7,140.5 240.8,140.5 240.9,140.5 241.1,140.5 241.2,140.5 241.4,140.5 241.5,140.5 241.6,140.5 241.8,140.6 241.9,140.6 242.1,140.6 242.2,140.6 242.3,140.6 242.5,140.6 242.6,140.6 242.8,140.6 242.9,140.6 243,140.7 243.2,140.7 243.3,140.7 243.5,140.7 243.6,140.7 243.8,140.7 243.9,140.7 244,140.7 244.2,140.7 244.3,140.7 244.4,140.7 244.6,140.7 244.7,140.7 244.9,140.7 245,140.7 245.2,140.7 245.3,140.8 245.4,140.8 245.6,140.8 245.7,140.8 245.9,140.8 246,140.8 246.1,140.8 246.3,140.8 246.4,140.8 246.6,140.8 246.7,140.8 246.8,140.8 247,140.8 247.1,140.8 247.3,140.8 247.4,140.8 247.5,140.8 247.7,140.8 247.8,140.8 248,140.8 248.1,140.8 248.2,140.7 248.4,140.7 248.5,140.7 248.7,140.7 248.8,140.7 248.9,140.7 249.1,140.6 249.2,140.6 249.4,140.6 249.5,140.6 249.7,140.6 249.8,140.6 249.9,140.7 250.1,140.7 250.2,140.7 250.4,140.6 250.5,140.6 250.6,140.7 250.8,140.7 250.9,140.7 251.1,140.7 251.2,140.7 251.3,140.7 251.5,140.7 251.6,140.7 251.8,140.7 251.9,140.7 252,140.7 252.2,140.7 252.3,140.7 252.5,140.7 252.6,140.7 252.8,140.7 252.9,140.7 253,140.7 253.2,140.8 253.3,140.8 253.5,140.8 253.6,140.8 253.7,140.8 253.9,140.8 254,140.8 254.2,140.8 254.3,140.8 254.4,140.8 254.6,140.8 254.7,140.8 254.9,140.8 255,140.8 255.1,140.8 255.3,140.8 255.4,140.8 255.6,140.8 255.7,140.8 255.8,140.8 256,140.8 256.1,140.9 256.3,140.8 256.4,140.8 256.6,140.8 256.7,140.8 256.8,140.8 257,140.8 257.1,140.8 257.2,140.8 257.4,140.8 257.5,140.8 257.7,140.8 257.8,140.8 258,140.8 258.1,140.8 258.2,140.8 258.4,140.8 258.5,140.8 258.7,140.8 258.8,140.8 258.9,140.8 259.1,140.8 259.2,140.8 259.4,140.8 259.5,140.8 259.6,140.8 259.8,140.8 259.9,140.8 260.1,140.8 260.2,140.8 260.4,140.8 260.5,140.8 260.6,140.8 260.8,140.8 260.9,140.9 261.1,140.9 261.2,140.9 261.3,140.9 261.5,140.9 261.6,140.9 261.8,140.9 261.9,140.9 262,140.9 262.2,140.9 262.3,140.9 262.5,140.9 262.6,140.9 262.7,140.9 262.9,140.9 263,140.9 263.2,140.9 263.3,140.9 263.4,140.9 263.6,140.9 263.7,140.9 263.9,140.9 264,140.9 264.1,140.9 264.3,140.9 264.4,140.9 264.6,140.9 264.7,140.9 264.9,140.9 265,140.9 265.1,140.9 265.3,140.9 265.4,140.9 265.6,140.9 265.7,140.9 265.8,140.9 266,140.9 266.1,140.9 266.3,140.9 266.4,140.9 266.5,140.9 266.7,140.9 266.8,140.9 267,140.9 267.1,140.9 267.2,140.9 267.4,140.9 267.5,140.9 267.7,140.9 267.8,140.9 267.9,140.9 268.1,140.9 268.2,140.9 268.4,140.9 268.5,140.9 268.6,140.9 268.8,140.9 268.9,140.9 269.1,140.9 269.2,140.9 269.4,140.9 269.5,140.9 269.6,140.9 269.8,140.9 269.9,140.9 270.1,140.9 270.2,140.9 270.3,140.9 270.5,140.9 270.6,140.9 270.8,140.9 270.9,140.9 271,140.9 271.2,140.9 271.3,140.9 271.5,140.9 271.6,140.9 271.8,140.9 271.9,140.9 272,140.9 272.2,140.9 272.3,140.9 272.4,140.9 272.6,140.9 272.7,140.9 272.9,140.9 273,140.9 273.1,140.9 273.3,140.9 273.4,140.9 273.6,140.9 273.7,140.9 273.9,140.9 274,140.9 274.1,140.9 274.3,140.9 274.4,140.9 274.6,140.9 274.7,140.9 274.8,140.9 275,140.9 275.1,140.9 275.3,140.9 275.4,140.9 275.5,140.9 275.7,140.9 275.8,140.9 276,140.9 276.1,140.9 276.2,140.9 276.4,140.9 276.5,140.9 276.7,140.9 276.8,140.9 276.9,140.9 277.1,140.9 277.2,140.9 277.4,140.9 277.5,140.9 277.6,140.8 277.8,140.8 277.9,140.8 278.1,140.8 278.2,140.8 278.4,140.8 278.5,140.8 278.6,140.8 278.8,140.9 278.9,140.9 279.1,140.8 279.2,140.8 279.3,140.8 279.5,140.8 279.6,140.8 279.8,140.8 279.9,140.8 280.1,140.8 280.2,140.8 280.3,140.8 280.5,140.8 280.6,140.8 280.8,140.8 280.9,140.8 281,140.8 281.2,140.8 281.3,140.8 281.4,140.8 281.6,140.8 281.7,140.8 281.9,140.8 282,140.8 282.2,140.8 282.3,140.8 282.4,140.8 282.6,140.8 282.7,140.8 282.9,140.8 283,140.8 283.1,140.8 283.3,140.8 283.4,140.8 283.6,140.8 283.7,140.8 283.9,140.8 284,140.8 284.1,140.8 284.3,140.8 284.4,140.8 284.6,140.8 284.7,140.8 284.8,140.8 285,140.8 285.1,140.8 285.2,140.8 285.4,140.8 285.5,140.8 285.7,140.8 285.8,140.8 286,140.8 286.1,140.8 286.2,140.8 286.4,140.8 286.5,140.8 286.7,140.8 286.8,140.8 286.9,140.8 287.1,140.8 287.2,140.8 287.4,140.8 287.5,140.8 287.6,140.8 287.8,140.8 287.9,140.8 288.1,140.8 288.2,140.8 288.4,140.8 288.5,140.8 288.6,140.8 288.8,140.8 288.9,140.7 289.1,140.7 289.2,140.7 289.3,140.7 289.5,140.7 289.6,140.7 289.8,140.7 289.9,140.7 290,140.7 290.2,140.7 290.3,140.7 290.5,140.6 290.6,140.6 290.7,140.6 290.9,140.6 291,140.6 291.2,140.6 291.3,140.6 291.4,140.6 291.6,140.6 291.7,140.6 291.9,140.6 292,140.6 292.1,140.6 292.3,140.6 292.4,140.6 292.6,140.7 292.7,140.7 292.9,140.7 293,140.7 293.1,140.7 293.3,140.7 293.4,140.7 293.6,140.7 293.7,140.7 293.8,140.7 294,140.7 294.1,140.7 294.3,140.7 294.4,140.7 294.5,140.7 294.7,140.7 294.8,140.7 295,140.7 295.1,140.7 295.2,140.7 295.4,140.7 295.5,140.7 295.7,140.7 295.8,140.7 295.9,140.7 296.1,140.7 296.2,140.7 296.4,140.7 296.5,140.7 296.6,140.7 296.8,140.7 296.9,140.7 297.1,140.7 297.2,140.7 297.4,140.7 297.5,140.7 297.6,140.7 297.8,140.7 297.9,140.7 298.1,140.7 298.2,140.6 298.3,140.6 298.5,140.6 298.6,140.6 298.8,140.6 298.9,140.6 299,140.6 299.2,140.6 299.3,140.6 299.5,140.6 299.6,140.6 299.7,140.6 299.9,140.6 300,140.6 300.2,140.6 300.3,140.6 300.4,140.6 300.6,140.6 300.7,140.5 300.9,140.5 301,140.5 301.1,140.5 301.3,140.5 301.4,140.5 301.6,140.5 301.7,140.4 301.9,140.4 302,140.4 302.1,140.4 302.3,140.4 302.4,140.4 302.6,140.5 302.7,140.6 302.8,140.6 303,140.5 303.1,140.5 303.3,140.5 303.4,140.5 303.5,140.5 303.7,140.5 303.8,140.5 304,140.5 304.1,140.4 304.2,140.4 304.4,140.4 304.5,140.4 304.7,140.4 304.8,140.4 304.9,140.4 305.1,140.3 305.2,140.3 305.4,140.3 305.5,140.3 305.6,140.3 305.8,140.4 305.9,140.4 306.1,140.4 306.2,140.4 306.4,140.4 306.5,140.4 306.6,140.4 306.8,140.5 306.9,140.5 307.1,140.4 307.2,140.4 307.3,140.4 307.5,140.4 307.6,140.4 307.8,140.4 307.9,140.3 308,140.3 308.2,140.3 308.3,140.3 308.5,140.2 308.6,140.2 308.8,140.2 308.9,140.2 309,140.1 309.2,140.1 309.3,140 309.4,139.9 309.6,139.9 309.7,139.8 309.9,139.8 310,139.6 310.1,139.6 310.3,139.6 310.4,139.5 310.6,139.5 310.7,139.4 310.9,139.4 311,139.3 311.1,139.2 311.3,139.2 311.4,139.2 311.6,139.3 311.7,139.4 311.8,139.3 312,139.5 312.1,139.5 312.3,139.5 312.4,139.6 312.6,139.6 312.7,139.7 312.8,139.7 313,139.8 313.1,139.8 313.2,139.8 313.4,139.7 313.5,139.6 313.7,139.6 313.8,139.5 313.9,139.4 314.1,139.4 314.2,139.2 314.4,139.1 314.5,139 314.7,138.9 314.8,138.8 314.9,138.8 315.1,138.6 315.2,138.5 315.4,138.4 315.5,138.3 315.6,138.1 315.8,138.1 315.9,138.1 316.1,138.2 316.2,138.6 316.3,138.7 316.5,138.9 316.6,139 316.8,138.9 316.9,138.8 317.1,138.7 317.2,138.6 317.3,138.5 317.5,138.4 317.6,138.2 317.8,138.1 317.9,138.1 318,137.9 318.2,137.8 318.3,137.6 318.4,137.5 318.6,137.5 318.7,137.3 318.9,137.1 319,137.1 319.2,137 319.3,137 319.4,137.1 319.6,137.1 319.7,137.1 319.9,137.3 320,137 320.1,136.5 320.3,136.3 320.4,135.9 320.6,135.4 320.7,135 320.9,134.7 321,134.2 321.1,133.2 321.3,132.4 321.4,131.8 321.6,130.8 321.7,130.1 321.8,129.1 322,130.4 322.1,132.1 322.2,132.2 322.4,131.7 322.5,131.3 322.6,131.2 322.8,130.6 322.9,130.5 323.1,131.1 323.2,131.9 323.3,132.7 323.5,133.9 323.6,134 323.7,133.9 323.9,134 324,133.8 324.1,133.8 324.3,134.7 324.4,135.7 324.6,136.7 324.7,136.4 324.8,135.9 324.9,135.6 325.1,135 325.2,134.6 325.4,134.2 325.5,134 325.6,134.2 325.8,134.1 325.9,133.9 326,133.8 326.2,134.1 326.3,134.2 326.4,134.6 326.6,134.7 326.7,134.8 326.9,135.3 327,135.3 327.1,135.8 327.3,135.9 327.4,136.2 327.5,136.4 327.7,136.7 327.8,137 327.9,136.8 328.1,136.6 328.2,136.4 328.4,136.1 328.5,136.1 328.6,135.9 328.8,135.7 328.9,135.6 329,135.3 329.2,135.4 329.3,135.1 329.4,135.3 329.6,135 329.7,135.2 329.8,135.2 330,135.2 330.1,135.5 330.2,135.7 330.4,135.8 330.5,135.9 330.7,136 330.8,136 330.9,136.2 331.1,136.3 331.2,136.4 331.3,136.5 331.5,136.6 331.6,136.8 331.8,136.8 331.9,137 332,137.1 332.1,137.1 332.3,137.3 332.4,137.4 332.6,137.2 332.7,137.1 332.8,137 333,136.7 333.1,136.6 333.2,136.5 333.4,136.4 333.5,136.3 333.6,136.2 333.8,135.9 333.9,136.1 334.1,136.2 334.2,136.4 334.3,136.5 334.5,136.7 334.6,136.9 334.7,137 334.9,137.3 335,137.2 335.1,137.1 335.3,137.1 335.4,137.2 335.6,137.1 335.7,137 335.8,137.1 336,137.1 336.1,137 336.2,137.1 336.4,137 336.5,137.1 336.6,137 336.8,137 336.9,137 337,136.9 337.2,136.8 337.3,137 337.4,137 337.6,136.9 337.7,137.1 337.9,137 338,137 338.1,137.1 338.3,137.1 338.4,137.2 338.5,137.1 338.7,137.3 338.8,137.3 338.9,137.3 339.1,137.3 339.2,137.3 339.4,137.4 339.5,137.4 339.6,137.4 339.8,137.4 339.9,137.5 340,137.8 340.2,138 340.3,138.3 340.4,138.6 340.6,138.6 340.7,138.7 340.9,138.9 341,138.9 341.1,138.9 341.2,138.9 341.4,139 341.5,139.1 341.7,139.1 341.8,139 341.9,138.9 342.1,138.9 342.2,138.8 342.3,138.8 342.5,138.8 342.6,138.7 342.8,138.7 342.9,138.7 343,138.8 343.1,138.8 343.3,138.8 343.4,138.8 343.6,138.8 343.7,138.8 343.8,138.8 344,138.8 344.1,138.8 344.2,138.9 344.4,138.9 344.5,138.9 344.6,138.8 344.8,138.8 344.9,138.8 345.1,138.8 345.2,138.8 345.3,138.7 345.5,138.7 345.6,138.8 345.7,138.7 345.9,138.6 346,138.7 346.1,138.6 346.3,138.6 346.4,138.6 346.6,138.6 346.7,138.5 346.8,138.6 347,138.5 347.1,138.5 347.2,138.5 347.4,138.5 347.5,138.3 347.6,138.1 347.8,138 347.9,137.9 348,137.8 348.2,137.7 348.3,137.5 348.4,137.3 348.6,137.2 348.7,137.1 348.9,137 349,136.7 349.1,136.7 349.3,136.6 349.4,136.3 349.5,136.3 349.7,136.2 349.8,136 349.9,135.8 350.1,135.6 350.2,135.4 350.4,135.4 350.5,135 350.6,134.9 350.8,134.8 350.9,134.5 351,134.4 351.2,134.2 351.3,133.9 351.4,133.7 351.6,133.7 351.7,133.4 351.9,133.4 352,132.9 352.1,133.2 352.2,133.3 352.4,133.8 352.5,133.9 352.7,134 352.8,134.7 352.9,134.8 353.1,135 353.2,135.1 353.3,135 353.5,134.6 353.6,134.6 353.7,134.6 353.9,134.1 354,134.2 354.1,133.7 354.3,133.7 354.4,133.7 354.6,133.7 354.7,134 354.8,134.2 354.9,134.4 355.1,134.2 355.2,134.3 355.4,134.6 355.5,134.5 355.6,134.7 355.8,134.8 355.9,135.2 356,135.1 356.2,135.1 356.3,135.2 356.4,135.3 356.6,135.7 356.7,135.6 356.8,135.7 357,135.6 357.1,135.9 357.2,135.8 357.4,135.7 357.5,135.6 357.6,135.6 357.8,135.5 357.9,135.6 358,135.4 358.2,135.5 358.3,135.4 358.5,135.4 358.6,135.4 358.7,135.2 358.9,135.4 359,135.5 359.1,135.5 359.3,135.6 359.4,135.8 359.5,135.8 359.7,135.8 359.8,135.9 359.9,136.1 360.1,136.3 360.2,136.1 360.4,136.3 360.5,136.4 360.6,136.5 360.8,136.5 360.9,136.6 361,136.8 361.1,136.8 361.3,136.9 361.4,137 361.6,137 361.7,136.8 361.8,136.9 362,136.7 362.1,136.7 362.2,136.6 362.4,136.4 362.5,136.4 362.6,136.3 362.8,136.1 362.9,136 363,136 363.2,135.8 363.3,135.7 363.4,135.6 363.6,135.4 363.7,135.3 363.9,135.1 364,135 364.1,134.9 364.3,134.9 364.4,134.8 364.5,134.7 364.7,135 364.8,135.2 364.9,135.7 365.1,135.8 365.2,136.1 365.3,136.5 365.5,136.7 365.6,136.9 365.7,137.3 365.9,137.5 366,138 366.1,138 366.3,137.9 366.4,137.6 366.6,137.4 366.7,137.6 366.9,137.3 367,137.2 367.1,137.1 367.3,136.9 367.4,137 367.5,136.6 367.7,136.6 367.8,136.5 368,136.4 368.1,136.2 368.2,136.1 368.4,135.9 368.5,135.9 368.7,135.9 368.8,135.6 368.9,135.5 369.1,135.4 369.2,135.5 369.4,135.3 369.5,135.2 369.6,135.2 369.8,135 369.9,134.9 370.1,135.1 370.2,135.1 370.3,134.8 370.5,134.6 370.6,134.6 370.8,134.6 370.9,134.7 371,134.7 371.2,134.5 371.3,134.7 371.5,134.7 371.6,134.6 371.7,134.3 371.9,134.3 372,134.5 372.2,134.5 372.3,134.4 372.4,134.5 372.6,134.2 372.7,134.4 372.9,134.5 373,134.2 373.1,134.4 373.3,134.2 373.4,134.2 373.6,134.3 373.7,134.2 373.8,134.2 374,134.2 374.1,134.2 374.3,134 374.4,133.8 374.5,133.6 374.7,133.5 374.8,133.4 375,133.5 375.1,133.7 375.2,133.9 375.4,134.2 375.5,134.1 375.7,134.2 375.8,134.4 375.9,134.6 376.1,134.8 376.2,134.7 376.4,134.7 376.5,134.5 376.6,134.4 376.8,134.3 376.9,134.1 377.1,134.2 377.2,134.1 377.3,134 377.5,133.9 377.6,133.6 377.8,133.4 377.9,133.5 378,133.4 378.2,133.2 378.3,133.1 378.5,133 378.6,133.1 378.7,132.7 378.9,132.3 379,131.9 379.2,131.8 379.3,131.6 379.4,131.3 379.6,131 379.7,130.8 379.9,130.1 380,130.2 380.1,129.8 380.3,129.1 380.4,129 380.6,128.9 380.7,128.8 380.8,128.3 381,127.8 381.1,127.8 381.3,127.4 381.4,127.3 381.5,127 381.7,126.8 381.8,126.1 382,125.2 382.1,125.2 382.2,124.2 382.4,123.5 382.5,122.7 382.7,120.3 382.8,117.7 382.9,114.9 383.1,116.5 383.3,117.8 383.5,119.5 383.7,119.5 383.9,121.2 384.1,121.3 384.3,120.3 384.5,118.6 384.7,117.7 384.9,115.9 385.1,114.4 385.3,113.2 385.5,111.7 385.7,110.9 385.9,108.4 386.1,108.1 386.3,107.3 386.4,106.5 386.6,108.7 386.7,110.8 386.9,110.5 387,108.7 387.1,108 387.3,106.1 387.4,103.8 387.6,103.6 387.7,104.9 387.9,105.5 388,106.4 388.1,107.2 388.3,106.7 388.4,106.4 388.6,106.9 388.7,105 388.9,104.8 389,103.3 389.1,103.3 389.3,102.2 389.5,102.5 389.6,105.8 389.8,107.2 390,108.8 390.2,110.3 390.4,109.4 390.5,107.7 390.7,107.5 390.9,107.5 391.1,106.6 391.2,107.2 391.4,111 391.6,113.9 391.8,116.8 391.9,118.2 392.1,118.8 392.2,118.7 392.4,118.7 392.5,118.3 392.7,117.3 392.8,117.1 393,117.3 393.1,116.7 393.2,116.4 393.4,116.1 393.5,117.6 393.7,119.5 393.8,121 394,121.4 394.1,120.8 394.3,121.1 394.4,121.8 394.6,121.2 394.7,121.5 394.9,122.4 395,121.5 395.1,121.9 395.3,121.7 395.4,122.8 395.6,120.9 395.7,119 395.8,117.5 395.9,116.4 396,115.6 396.1,116.9" fill="none" stroke="#000" stroke-width="1.25" stroke-linejoin="round"/>
<polyline clip-path="url(#c4)" points="226.4,137.2 226.8,136.5 227.2,135.8 227.5,135.3 227.8,134.5 228.2,134.2 228.5,133.9 228.8,134 229,134.4 229.3,133.2 229.6,132.7 229.9,133.3 230.2,133.9 230.5,134.6 230.8,134 231.2,133.2 231.5,133.5 231.8,134.3 232.2,134.6 232.5,135 232.8,134.1 233.1,133.6 233.4,132.4 233.7,132.9 234,131.5 234.4,130.8 234.7,130.6 235,130.1 235.4,130.5 235.7,129.6 236,128.4 236.2,127.7 236.5,127.9 236.8,127.9 237.1,128.5 237.4,127.6 237.7,128.1 238,128.5 238.4,127 238.7,127 239,126.4 239.4,126.4 239.7,126.3 240,126 240.3,126 240.6,126.5 240.9,125.7 241.3,125.6 241.6,126.1 241.9,127 242.3,127.8 242.7,128.4 243,129.2 243.4,128.1 243.8,125.5 244,125.9 244.3,126.4 244.6,125 244.9,126.2 245.2,125.4 245.6,124.4 245.9,124.2 246.2,123.8 246.6,125.1 246.9,123.3 247.2,123.5 247.5,123.4 247.8,123.4 248.1,122 248.5,122.5 248.8,123.1 249.1,124.1 249.5,123.2 249.8,125.2 250.1,125.9 250.4,127.1 250.7,127.2 251,127.4 251.3,127.9 251.7,128.9 252,127.7 252.4,126 252.8,125.8 253.1,125.4 253.5,126.3 253.8,126.1 254.2,128.9 254.6,130.4 254.9,131.8 255.3,132.7 255.7,130.9 256,128.6 256.4,127.2 256.7,125.4 257.1,123.4 257.4,123 257.8,123.5 258.1,125 258.5,123.9 258.8,123.9 259,123.8 259.3,122.4 259.6,120.2 259.9,118.9 260.2,119 260.5,118.7 260.8,117.4 261.1,116 261.4,114.7 261.8,113.7 262.1,113.4 262.5,111.4 262.8,110.8 263.1,110.2 263.4,109.2 263.6,107.7 264,108.3 264.3,108.9 264.7,109.2 265,110.2 265.3,111.3 265.7,112.3 266,112.3 266.2,112.7 266.5,114.1 266.8,115.1 267.1,115.1 267.4,115 267.7,115.6 268,116 268.3,116.7 268.6,117.5 268.8,116.3 269.1,114.7 269.4,114.7 269.8,113.5 270.1,113.3 270.4,113.2 270.8,114.5 271.1,115.4 271.4,113.7 271.7,115.6 272,117.7 272.3,119 272.6,120.6 273,122.1 273.3,123.9 273.7,124.7 274,124.1 274.4,124.5 274.8,123.1 275.1,120.8 275.5,118.9 275.8,118.8 276.1,117.2 276.3,117.1 276.6,115.7 277,115 277.3,115.4 277.6,114.9 278,115.7 278.3,115.5 278.6,115.4 278.9,117.6 279.2,119.8 279.5,120.7 279.9,122 280.2,123.7 280.5,124.6 280.9,125.6 281.2,125.2 281.6,125.8 282,126.9 282.3,126.2 282.7,126 283,127.1 283.3,126.5 283.6,126.1 283.9,125.5 284.1,125.7 284.5,124.3 284.8,123.8 285.2,124 285.5,123.4 285.8,122.5 286.2,121.9 286.5,123.9 286.8,121.9 287,123.2 287.4,123.2 287.7,122.7 288.1,122 288.4,122.1 288.7,121.5 289.1,120.7 289.3,120.7 289.6,120.5 289.9,119.7 290.2,118.7 290.5,119.2 290.8,119.5 291.1,119.5 291.4,120.6 291.7,120.6 292,121.3 292.4,122.1 292.7,120.8 293,120.1 293.4,119.8 293.7,118.8 294,119.2 294.2,119.2 294.5,117.9 294.8,117.4 295.1,118 295.4,118.3 295.7,118.7 296,117.8 296.4,118.1 296.7,117.4 297,119.1 297.4,119.2 297.7,118.2 298,118.7 298.3,118 298.6,118 298.9,117.6 299.3,116 299.6,116 299.9,115.3 300.3,114.9 300.6,114.9 300.9,113.8 301.2,112.9 301.5,113.6 301.8,113 302,113.2 302.3,111.9 302.6,112.6 302.9,112.6 303.2,112.2 303.6,111.6 303.9,111.4 304.2,110.5 304.6,110.4 304.9,110.3 305.2,110.5 305.5,109.4 305.8,109.8 306.1,110.2 306.4,110.1 306.7,108.8 306.9,108.2 307.2,108.4 307.6,108.2 307.9,107.8 308.2,108.4 308.6,107.5 308.9,106.7 309.2,106.8 309.5,105.2 309.8,105.4 310.1,105.2 310.5,106 310.8,106.3 311.1,106.5 311.5,105.7 311.8,106.2 312.1,106.6 312.4,108 312.7,108.4 313,108.7 313.3,109.3 313.6,108.6 313.9,108.5 314.2,109.2 314.4,109.8 314.8,108.4 315.1,107 315.4,107.3 315.8,106.8 316.1,107.1 316.5,106.1 316.8,106.7 317,105.6 317.3,104.4 317.6,102.8 317.9,103 318.2,103.3 318.5,103 318.8,102.9 319.1,103.4 319.4,103.6 319.8,103.3 320.1,101.7 320.5,101.8 320.8,101.9 321.1,103 321.4,102 321.6,102.2 322,101.9 322.3,101.8 322.7,100.7 323,101.9 323.3,101.5 323.7,103.1 324,103.9 324.2,105.1 324.5,106.2 324.9,107.7 325.2,106.4 325.6,109 325.9,109.1 326.2,109.5 326.6,108.9 326.8,108 327.1,107.5 327.4,106.2 327.8,105.2 328.1,104.6 328.4,105.3 328.8,104.8 329.1,105.6 329.4,103.8 329.7,104.9 330,105.2 330.3,105.2 330.6,106.4 331,105.9 331.3,106.6 331.7,106.5 332,105.7 332.3,105.2 332.6,105.3 332.9,104.9 333.2,105.3 333.5,105.4 333.9,106.1 334.2,106.5 334.5,106.3 334.9,107.7 335.2,108.2 335.5,107.4 335.8,108.4 336.1,108.9 336.4,109.4 336.7,111.4 336.9,111.5 337.2,112.7 337.5,112.4 337.9,112.9 338.2,113.8 338.5,112.7 338.9,113.6 339.2,114 339.5,113.8 339.8,115.5 340,117.3 340.4,117.9 340.7,119.7 341.1,119.7 341.4,121.2 341.8,118.5 342.2,117 342.5,117.4 342.8,116.3 343.2,115.9 343.5,115.1 343.8,114.8 344,114.6 344.3,114.6 344.6,113.8 344.9,113.2 345.2,111.6 345.5,112.2 345.8,111.6 346.2,110.4 346.5,110.6 346.8,111.2 347.2,111.2 347.5,110.2 347.8,109.5 348.1,109.5 348.4,109.5 348.6,108.9 348.9,108.7 349.2,108.1 349.5,109.2 349.8,108.8 350.1,109.8 350.5,109.2 350.8,109.4 351.2,108.3 351.5,108.1 351.8,107.2 352.1,107.1 352.4,107.1 352.7,107.2 353,108.3 353.4,109.4 353.7,110.2 354.1,111.3 354.4,113.8 354.8,111.9 355.1,110.9 355.5,108.9 355.8,109.5 356.1,108.4 356.4,108.4 356.7,108.3 357,106.9 357.3,105.9 357.6,107 357.9,105.6 358.2,105.3 358.5,105.6 358.8,104.7 359.1,105.1 359.5,103.5 359.8,103.3 360.1,103.2 360.5,101.5 360.8,101.5 361.1,102 361.3,102.4 361.6,101.5 361.9,102.8 362.2,102 362.5,101 362.8,100.8 363.1,100.4 363.5,99.9 363.8,99.8 364.2,100.6 364.5,101.1 364.9,104.9 365.2,109.4 365.6,116.2 366,123.7 366.3,127.6 366.7,132.4 367,129 367.4,124.5 367.8,121.8 368.1,119.5 368.5,118.7 368.9,117.5 369.2,115.8 369.6,112.6 369.9,110.2 370.3,107.7 370.6,107.5 371,105.4 371.3,105.7 371.7,104.1 372,104.5 372.3,103.4 372.6,104.7 372.9,104 373.2,102.9 373.5,103.6 373.8,102.7 374,103.1 374.3,101.9 374.7,103.2 375,101.8 375.3,103.1 375.7,104.3 376,103.1 376.4,103.4 376.6,104.3 376.9,102.7 377.2,102.4 377.5,102.8 377.9,101.2 378.2,101.3 378.6,102.6 378.9,103.9 379.3,108.5 379.7,114.1 380,111.7 380.4,109 380.7,106.3 381.1,104.6 381.4,103.6 381.8,102.8 382.1,101.4 382.4,99.5 382.7,99.8 383,99.2 383.3,100 383.6,99.8 383.8,98.5 384.1,97.7 384.4,99.2 384.8,99.2 385.1,98.4 385.4,97 385.8,96.6 386.1,95.7 386.4,95.7 386.7,94.8 387,94.1 387.3,92.3 387.6,91.6 387.9,91.5 388.2,90.3 388.5,90.1 388.8,90.2 389.1,89.4 389.4,88.6 389.8,88 390.1,88.9 390.4,87.8 390.8,88.4 391.1,88 391.3,88.3 391.6,88.2 391.9,87.6 392.2,86.7 392.5,87.3 392.8,87.3 393.1,86.1 393.4,87.6 393.8,86.7 394.1,85.5 394.4,86.2 394.8,86.7 395.1,86.6 395.4,86.1 395.7,85.3 396,86.2 396.2,86.9 396.5,87.2 396.8,88.1" fill="none" stroke="#7a7a7a" stroke-width="1.25" stroke-linejoin="round"/>
<line x1="225.4" y1="84.92" x2="226.6" y2="84.92" stroke="#8c8c8c" stroke-width="0.8"/>
<text x="224.3" y="85.22" font-size="4.7" text-anchor="end">16,000</text>
<line x1="225.4" y1="97.82" x2="226.6" y2="97.82" stroke="#8c8c8c" stroke-width="0.8"/>
<text x="224.3" y="98.12" font-size="4.7" text-anchor="end">14,000</text>
<line x1="225.4" y1="110.72" x2="226.6" y2="110.72" stroke="#8c8c8c" stroke-width="0.8"/>
<text x="224.3" y="111.02" font-size="4.7" text-anchor="end">12,000</text>
<line x1="225.4" y1="123.62" x2="226.6" y2="123.62" stroke="#8c8c8c" stroke-width="0.8"/>
<text x="224.3" y="123.92" font-size="4.7" text-anchor="end">10,000</text>
<line x1="225.4" y1="136.52" x2="226.6" y2="136.52" stroke="#8c8c8c" stroke-width="0.8"/>
<text x="224.3" y="136.82" font-size="4.7" text-anchor="end">8,000</text>
<line x1="396.5" y1="141.05" x2="397.5" y2="141.05" stroke="#8c8c8c" stroke-width="0.8"/>
<text x="398.5" y="141.8" font-size="4.7">0</text>
<line x1="396.5" y1="134.8" x2="397.5" y2="134.8" stroke="#8c8c8c" stroke-width="0.8"/>
<line x1="396.5" y1="128.55" x2="397.5" y2="128.55" stroke="#8c8c8c" stroke-width="0.8"/>
<text x="398.5" y="129.3" font-size="4.7">20,000</text>
<line x1="396.5" y1="122.3" x2="397.5" y2="122.3" stroke="#8c8c8c" stroke-width="0.8"/>
<line x1="396.5" y1="116.05" x2="397.5" y2="116.05" stroke="#8c8c8c" stroke-width="0.8"/>
<text x="398.5" y="116.8" font-size="4.7">40,000</text>
<line x1="396.5" y1="109.8" x2="397.5" y2="109.8" stroke="#8c8c8c" stroke-width="0.8"/>
<line x1="396.5" y1="103.55" x2="397.5" y2="103.55" stroke="#8c8c8c" stroke-width="0.8"/>
<text x="398.5" y="104.3" font-size="4.7">60,000</text>
<line x1="396.5" y1="97.3" x2="397.5" y2="97.3" stroke="#8c8c8c" stroke-width="0.8"/>
<line x1="396.5" y1="91.05" x2="397.5" y2="91.05" stroke="#8c8c8c" stroke-width="0.8"/>
<text x="398.5" y="91.8" font-size="4.7">80,000</text>
<line x1="239" y1="141.05" x2="239" y2="142.65" stroke="#8c8c8c" stroke-width="0.8"/>
<line x1="259.65" y1="141.05" x2="259.65" y2="142.65" stroke="#8c8c8c" stroke-width="0.8"/>
<line x1="280.3" y1="141.05" x2="280.3" y2="142.65" stroke="#8c8c8c" stroke-width="0.8"/>
<line x1="300.95" y1="141.05" x2="300.95" y2="142.65" stroke="#8c8c8c" stroke-width="0.8"/>
<line x1="321.6" y1="141.05" x2="321.6" y2="142.65" stroke="#8c8c8c" stroke-width="0.8"/>
<line x1="342.25" y1="141.05" x2="342.25" y2="142.65" stroke="#8c8c8c" stroke-width="0.8"/>
<line x1="362.9" y1="141.05" x2="362.9" y2="142.65" stroke="#8c8c8c" stroke-width="0.8"/>
<line x1="383.55" y1="141.05" x2="383.55" y2="142.65" stroke="#8c8c8c" stroke-width="0.8"/>
<text x="229.7" y="147.2" font-size="4.7" text-anchor="middle">2013</text>
<text x="248.7" y="147.2" font-size="4.7" text-anchor="middle">2014</text>
<text x="269.2" y="147.2" font-size="4.7" text-anchor="middle">2015</text>
<text x="290" y="147.2" font-size="4.7" text-anchor="middle">2016</text>
<text x="310.6" y="147.2" font-size="4.7" text-anchor="middle">2017</text>
<text x="331.25" y="147.2" font-size="4.7" text-anchor="middle">2018</text>
<text x="351.9" y="147.2" font-size="4.7" text-anchor="middle">2019</text>
<text x="372.8" y="147.2" font-size="4.7" text-anchor="middle">2020</text>
<text x="391.9" y="147.2" font-size="4.7" text-anchor="middle">2021</text>
<text x="310.75" y="90.95" font-size="5.2" text-anchor="middle">(4) DAX30 Vs. Bitcoin</text>
<clipPath id="c5"><rect x="17.2" y="164.9" width="169.6" height="56.4"/></clipPath>
<rect x="17.2" y="164.9" width="169.6" height="56.4" fill="none" stroke="#8c8c8c" stroke-width="1.3"/>
<polyline points="17.2,221.2 17.3,221.2 17.5,221.2 17.6,221.2 17.8,221.2 17.9,221.2 18,221.2 18.2,221.2 18.3,221.2 18.4,221.2 18.6,221.2 18.7,221.2 18.9,221.2 19,221.2 19.1,221.2 19.3,221.2 19.4,221.2 19.6,221.2 19.7,221.2 19.9,221.2 20,221.2 20.1,221.2 20.3,221.2 20.4,221.2 20.6,221.2 20.7,221.2 20.8,221.2 21,221.2 21.1,221.3 21.3,221.2 21.4,221.2 21.5,221.2 21.7,221.2 21.8,221.2 22,221.2 22.1,221.2 22.2,221.2 22.4,221.2 22.5,221.2 22.7,221.2 22.8,221.2 22.9,221.2 23.1,221.2 23.2,221.2 23.4,221.2 23.5,221.2 23.7,221.2 23.8,221.2 23.9,221.2 24.1,221.2 24.2,221.2 24.4,221.2 24.5,221.2 24.6,221.2 24.8,221.2 24.9,221.2 25.1,221.2 25.2,221.2 25.3,221.2 25.5,221.2 25.6,221.2 25.8,221.2 25.9,221.2 26,221.2 26.2,221.2 26.3,221.2 26.5,221.2 26.6,221.2 26.8,221.2 26.9,221.2 27,221.2 27.2,221.2 27.3,221.2 27.4,221.2 27.6,221.2 27.7,221.1 27.9,221.1 28,221.1 28.2,221.1 28.3,221.1 28.4,221 28.6,221 28.7,220.9 28.9,220.9 29,220.8 29.1,220.7 29.3,220.6 29.4,220.6 29.6,220.6 29.7,220.7 29.9,220.8 30,220.8 30.1,220.9 30.3,221 30.4,221 30.5,220.9 30.7,220.9 30.8,220.9 31,220.8 31.1,220.8 31.2,220.7 31.4,220.7 31.5,220.7 31.7,220.7 31.8,220.8 32,220.8 32.1,220.8 32.2,220.8 32.4,220.8 32.5,220.8 32.7,220.8 32.8,220.8 32.9,220.9 33.1,220.9 33.2,220.9 33.4,220.9 33.5,220.9 33.6,220.9 33.8,220.9 33.9,220.9 34.1,221 34.2,221 34.3,220.9 34.5,220.9 34.6,220.9 34.8,220.9 34.9,220.9 35,220.9 35.2,220.9 35.3,221 35.5,221 35.6,221 35.8,221 35.9,221 36,221 36.2,221 36.3,221 36.5,221.1 36.6,221.1 36.7,221.1 36.9,221.1 37,221 37.2,221 37.3,221 37.4,221 37.6,221 37.7,221 37.9,221 38,221 38.1,221 38.3,221 38.4,221 38.6,221 38.7,221 38.8,221 39,221 39.1,221 39.3,220.9 39.4,220.9 39.5,220.9 39.7,220.9 39.8,220.9 40,220.9 40.1,220.9 40.3,220.9 40.4,220.9 40.5,220.9 40.7,220.9 40.8,220.9 41,220.9 41.1,220.9 41.2,220.9 41.4,220.9 41.5,220.9 41.7,220.9 41.8,220.9 42,220.9 42.1,220.9 42.2,220.9 42.4,220.9 42.5,220.9 42.6,220.9 42.8,220.9 42.9,220.9 43.1,221 43.2,221 43.3,221 43.5,221 43.6,221 43.8,221 43.9,221 44.1,221 44.2,221 44.3,221 44.5,221 44.6,221 44.8,221 44.9,221 45,221 45.2,221 45.3,221 45.5,221 45.6,221 45.7,221 45.9,221 46,221.1 46.2,221.1 46.3,221.1 46.5,221.1 46.6,221.1 46.7,221.1 46.9,221.1 47,221.1 47.1,221.1 47.3,221.1 47.4,221.1 47.6,221.1 47.7,221.1 47.8,221 48,221.1 48.1,221 48.3,221 48.4,221 48.6,221 48.7,221 48.8,221 49,221 49.1,221 49.3,221 49.4,221.1 49.5,221.1 49.7,221.1 49.8,221.1 50,221.1 50.1,221.1 50.2,221.1 50.4,221.1 50.5,221.1 50.7,221.1 50.8,221.1 51,221.1 51.1,221.1 51.2,221.1 51.4,221.1 51.5,221.1 51.7,221.1 51.8,221.1 51.9,221.1 52.1,221.2 52.2,221.2 52.4,221.2 52.5,221.2 52.6,221.2 52.8,221.2 52.9,221.2 53.1,221.2 53.2,221.2 53.3,221.2 53.5,221.2 53.6,221.2 53.8,221.2 53.9,221.2 54,221.2 54.2,221.1 54.3,221.2 54.5,221.1 54.6,221.1 54.8,221.1 54.9,221.1 55,221.1 55.2,221.1 55.3,221.1 55.5,221.1 55.6,221.1 55.7,221.1 55.9,221.1 56,221.1 56.2,221.1 56.3,221.1 56.4,221.1 56.6,221.2 56.7,221.1 56.9,221.2 57,221.2 57.1,221.2 57.3,221.2 57.4,221.2 57.6,221.2 57.7,221.2 57.8,221.2 58,221.2 58.1,221.2 58.3,221.2 58.4,221.2 58.5,221.2 58.7,221.2 58.8,221.2 59,221.2 59.1,221.2 59.2,221.2 59.4,221.2 59.5,221.2 59.7,221.2 59.8,221.2 60,221.2 60.1,221.2 60.2,221.2 60.4,221.2 60.5,221.2 60.7,221.1 60.8,221.1 60.9,221.1 61.1,221.1 61.2,221.1 61.4,221.1 61.5,221.1 61.6,221.1 61.8,221.1 61.9,221.1 62.1,221.1 62.2,221.1 62.3,221.1 62.5,221.1 62.6,221.1 62.8,221.1 62.9,221.1 63,221.1 63.2,221.1 63.3,221.1 63.5,221.1 63.6,221.1 63.8,221.1 63.9,221.1 64,221.2 64.2,221.2 64.3,221.2 64.5,221.2 64.6,221.2 64.7,221.2 64.9,221.2 65,221.2 65.2,221.2 65.3,221.2 65.4,221.2 65.6,221.2 65.7,221.2 65.9,221.2 66,221.2 66.1,221.2 66.3,221.2 66.4,221.2 66.6,221.2 66.7,221.2 66.8,221.2 67,221.2 67.1,221.1 67.3,221.1 67.4,221.1 67.5,221.1 67.7,221.1 67.8,221.1 68,221.1 68.1,221.1 68.2,221.1 68.4,221.1 68.5,221.1 68.7,221.1 68.8,221.1 69,221.1 69.1,221.1 69.2,221.1 69.4,221.1 69.5,221.1 69.7,221.1 69.8,221.1 69.9,221.1 70.1,221.1 70.2,221.1 70.4,221.1 70.5,221.1 70.7,221 70.8,221 70.9,221 71.1,221 71.2,221 71.3,221 71.5,221 71.6,221 71.8,221 71.9,221 72,221 72.2,221.1 72.3,221.1 72.5,221 72.6,221.1 72.8,221.1 72.9,221.1 73,221.1 73.2,221.1 73.3,221.1 73.5,221.1 73.6,221.1 73.7,221.1 73.9,221.1 74,221.1 74.2,221.1 74.3,221 74.5,221.1 74.6,221 74.7,221 74.9,221 75,221 75.2,221 75.3,221 75.4,221 75.6,221 75.7,221 75.8,221 76,221 76.1,221 76.3,221 76.4,221 76.6,221 76.7,221 76.8,221 77,221 77.1,221 77.3,221 77.4,221 77.5,221 77.7,221 77.8,221 78,221 78.1,221 78.2,221 78.4,221 78.5,221 78.7,221 78.8,221 79,221 79.1,221 79.2,221 79.4,221 79.5,221 79.7,221 79.8,221 79.9,221 80.1,221 80.2,220.9 80.3,220.9 80.5,220.9 80.6,220.9 80.8,220.9 80.9,220.9 81.1,220.9 81.2,220.9 81.3,220.9 81.5,220.9 81.6,220.8 81.8,220.9 81.9,220.9 82,220.9 82.2,220.9 82.3,220.9 82.5,220.9 82.6,220.9 82.8,220.9 82.9,220.9 83,220.9 83.2,220.9 83.3,220.9 83.5,220.9 83.6,220.9 83.7,220.9 83.9,220.9 84,221 84.2,221 84.3,221 84.4,221 84.6,221 84.7,221 84.9,221 85,221 85.1,221 85.3,220.9 85.4,220.9 85.6,220.9 85.7,220.9 85.8,220.9 86,221 86.1,220.9 86.3,220.9 86.4,220.9 86.5,220.9 86.7,220.9 86.8,220.9 87,220.9 87.1,220.9 87.2,220.9 87.4,220.9 87.5,220.9 87.7,220.9 87.8,220.9 88,220.9 88.1,220.9 88.2,220.9 88.4,220.9 88.5,220.9 88.7,220.9 88.8,220.9 88.9,220.9 89.1,220.9 89.2,220.9 89.4,220.9 89.5,220.9 89.6,220.9 89.8,220.9 89.9,220.9 90.1,220.9 90.2,220.9 90.3,220.8 90.5,220.9 90.6,220.9 90.8,220.8 90.9,220.8 91,220.8 91.2,220.8 91.3,220.8 91.5,220.8 91.6,220.8 91.8,220.7 91.9,220.7 92,220.7 92.2,220.7 92.3,220.7 92.5,220.7 92.6,220.6 92.7,220.6 92.9,220.6 93,220.6 93.2,220.7 93.3,220.8 93.4,220.8 93.6,220.8 93.7,220.8 93.9,220.8 94,220.8 94.1,220.7 94.3,220.7 94.4,220.7 94.6,220.7 94.7,220.7 94.9,220.7 95,220.7 95.1,220.6 95.3,220.6 95.4,220.6 95.5,220.6 95.7,220.6 95.8,220.6 96,220.6 96.1,220.6 96.2,220.6 96.4,220.6 96.5,220.6 96.7,220.6 96.8,220.7 97,220.6 97.1,220.7 97.2,220.7 97.4,220.7 97.5,220.7 97.7,220.7 97.8,220.6 97.9,220.6 98.1,220.6 98.2,220.6 98.4,220.6 98.5,220.6 98.6,220.6 98.8,220.5 98.9,220.5 99.1,220.5 99.2,220.5 99.4,220.5 99.5,220.5 99.6,220.4 99.8,220.3 99.9,220.2 100,220.2 100.2,220.1 100.3,220.1 100.5,220 100.6,219.9 100.8,219.8 100.9,219.8 101,219.8 101.2,219.7 101.3,219.7 101.5,219.6 101.6,219.6 101.7,219.5 101.9,219.5 102,219.5 102.2,219.6 102.3,219.6 102.4,219.6 102.6,219.7 102.7,219.8 102.9,219.8 103,219.8 103.2,219.9 103.3,219.9 103.4,220 103.6,220 103.7,220.1 103.9,220.1 104,220 104.1,219.9 104.3,219.9 104.4,219.8 104.5,219.7 104.7,219.6 104.8,219.5 105,219.4 105.1,219.3 105.3,219.2 105.4,219.1 105.5,219 105.7,218.9 105.8,218.7 106,218.7 106.1,218.5 106.2,218.4 106.4,218.3 106.5,218.3 106.7,218.5 106.8,218.8 106.9,219 107.1,219.2 107.2,219.2 107.4,219.1 107.5,219 107.7,219 107.8,218.8 107.9,218.7 108.1,218.7 108.2,218.4 108.4,218.3 108.5,218.3 108.6,218.1 108.8,218 108.9,217.9 109,217.8 109.2,217.8 109.3,217.6 109.5,217.4 109.6,217.4 109.8,217.3 109.9,217.2 110,217.3 110.2,217.4 110.3,217.4 110.5,217.6 110.6,217.3 110.7,216.7 110.9,216.5 111,216.1 111.2,215.6 111.3,215.2 111.5,214.9 111.6,214.5 111.7,213.5 111.9,212.7 112,212.1 112.2,211.1 112.3,210.3 112.4,209.3 112.6,210.6 112.7,212.4 112.8,212.5 113,211.9 113.1,211.5 113.2,211.4 113.4,210.9 113.5,210.8 113.7,211.3 113.8,212.1 113.9,213 114.1,214.1 114.2,214.2 114.3,214.2 114.5,214.3 114.6,214.1 114.7,214.1 114.9,214.9 115,216 115.2,217 115.3,216.7 115.4,216.2 115.5,215.8 115.7,215.2 115.8,214.9 116,214.5 116.1,214.2 116.2,214.4 116.4,214.3 116.5,214.2 116.6,214.1 116.8,214.3 116.9,214.5 117,214.8 117.2,215 117.3,215.1 117.5,215.5 117.6,215.5 117.7,216 117.9,216.2 118,216.4 118.1,216.6 118.3,217 118.4,217.3 118.5,217 118.7,216.8 118.8,216.7 119,216.4 119.1,216.4 119.2,216.2 119.4,216 119.5,215.8 119.6,215.5 119.8,215.6 119.9,215.4 120,215.5 120.2,215.3 120.3,215.5 120.4,215.5 120.6,215.5 120.7,215.8 120.9,215.9 121,216 121.1,216.2 121.3,216.3 121.4,216.3 121.5,216.4 121.7,216.5 121.8,216.7 121.9,216.7 122.1,216.8 122.2,217 122.4,217.1 122.5,217.2 122.6,217.4 122.8,217.3 122.9,217.5 123,217.7 123.2,217.4 123.3,217.3 123.4,217.3 123.6,217 123.7,216.9 123.8,216.7 124,216.6 124.1,216.5 124.2,216.5 124.4,216.2 124.5,216.3 124.7,216.5 124.8,216.6 124.9,216.8 125.1,216.9 125.2,217.1 125.3,217.3 125.5,217.5 125.6,217.5 125.7,217.4 125.9,217.3 126,217.4 126.2,217.4 126.3,217.3 126.4,217.4 126.6,217.3 126.7,217.2 126.8,217.3 127,217.2 127.1,217.3 127.2,217.3 127.4,217.3 127.5,217.2 127.6,217.2 127.8,217.1 127.9,217.2 128,217.2 128.2,217.2 128.3,217.3 128.5,217.2 128.6,217.3 128.7,217.4 128.9,217.3 129,217.5 129.1,217.4 129.3,217.6 129.4,217.5 129.5,217.6 129.7,217.6 129.8,217.5 129.9,217.6 130.1,217.7 130.2,217.7 130.4,217.6 130.5,217.8 130.6,218 130.8,218.2 130.9,218.6 131,218.9 131.2,218.9 131.3,218.9 131.4,219.1 131.6,219.1 131.7,219.1 131.8,219.2 132,219.2 132.1,219.3 132.3,219.3 132.4,219.2 132.5,219.1 132.7,219.2 132.8,219.1 132.9,219 133.1,219 133.2,219 133.3,219 133.5,219 133.6,219 133.8,219 133.9,219 134,219 134.2,219.1 134.3,219.1 134.4,219.1 134.6,219.1 134.7,219.1 134.8,219.1 135,219.1 135.1,219.2 135.2,219 135.4,219.1 135.5,219 135.7,219 135.8,219.1 135.9,219 136.1,219 136.2,219 136.3,218.9 136.5,218.9 136.6,219 136.7,218.9 136.9,218.9 137,218.8 137.2,218.8 137.3,218.8 137.4,218.8 137.6,218.8 137.7,218.8 137.8,218.7 138,218.8 138.1,218.6 138.2,218.4 138.4,218.3 138.5,218.2 138.6,218.1 138.8,217.9 138.9,217.7 139,217.6 139.2,217.5 139.3,217.3 139.5,217.2 139.6,217 139.7,217 139.9,216.8 140,216.6 140.1,216.5 140.3,216.4 140.4,216.3 140.5,216.1 140.7,215.8 140.8,215.7 140.9,215.6 141.1,215.3 141.2,215.1 141.4,215.1 141.5,214.7 141.6,214.7 141.8,214.5 141.9,214.2 142,213.9 142.2,214 142.3,213.7 142.4,213.7 142.6,213.1 142.7,213.4 142.8,213.5 143,214 143.1,214.1 143.3,214.2 143.4,215 143.5,215.1 143.7,215.2 143.8,215.4 143.9,215.2 144.1,214.8 144.2,214.8 144.3,214.8 144.5,214.4 144.6,214.4 144.7,214 144.9,214 145,214 145.2,214 145.3,214.2 145.4,214.5 145.5,214.6 145.7,214.4 145.8,214.6 146,214.8 146.1,214.8 146.2,214.9 146.4,215 146.5,215.4 146.6,215.3 146.8,215.3 146.9,215.5 147,215.6 147.2,216 147.3,215.8 147.4,215.9 147.6,215.9 147.7,216.1 147.8,216 148,215.9 148.1,215.8 148.2,215.9 148.4,215.7 148.5,215.8 148.6,215.7 148.8,215.7 148.9,215.6 149.1,215.6 149.2,215.7 149.3,215.5 149.5,215.6 149.6,215.8 149.7,215.8 149.9,215.8 150,216 150.1,216.1 150.3,216.1 150.4,216.2 150.5,216.3 150.7,216.5 150.8,216.4 150.9,216.5 151.1,216.6 151.2,216.7 151.3,216.8 151.5,216.9 151.6,217 151.8,217.1 151.9,217.1 152,217.2 152.2,217.2 152.3,217 152.4,217.1 152.6,216.9 152.7,217 152.8,216.8 153,216.6 153.1,216.6 153.2,216.6 153.4,216.4 153.5,216.2 153.6,216.3 153.8,216.1 153.9,215.9 154,215.8 154.2,215.7 154.3,215.5 154.4,215.4 154.6,215.3 154.7,215.2 154.9,215.1 155,215 155.1,214.9 155.3,215.2 155.4,215.5 155.5,215.9 155.7,216.1 155.8,216.4 155.9,216.7 156.1,216.9 156.2,217.2 156.3,217.5 156.5,217.7 156.6,218.2 156.8,218.2 156.9,218.2 157,217.9 157.2,217.7 157.3,217.8 157.4,217.6 157.6,217.4 157.7,217.3 157.9,217.2 158,217.2 158.1,216.9 158.3,216.8 158.4,216.7 158.6,216.6 158.7,216.4 158.8,216.4 159,216.2 159.1,216.1 159.3,216.1 159.4,215.8 159.5,215.7 159.7,215.6 159.8,215.7 160,215.6 160.1,215.4 160.2,215.4 160.4,215.2 160.5,215.1 160.7,215.3 160.8,215.3 160.9,215 161.1,214.9 161.2,214.9 161.4,214.9 161.5,215 161.6,215 161.8,214.8 161.9,214.9 162.1,215 162.2,214.9 162.3,214.5 162.5,214.6 162.6,214.8 162.8,214.8 162.9,214.7 163,214.7 163.2,214.5 163.3,214.6 163.5,214.7 163.6,214.4 163.7,214.6 163.9,214.5 164,214.5 164.2,214.5 164.3,214.4 164.4,214.4 164.6,214.5 164.7,214.4 164.9,214.2 165,214.1 165.1,213.9 165.3,213.8 165.4,213.6 165.6,213.7 165.7,214 165.8,214.1 166,214.4 166.1,214.4 166.3,214.5 166.4,214.6 166.5,214.9 166.7,215 166.8,214.9 167,214.9 167.1,214.7 167.2,214.6 167.4,214.6 167.5,214.4 167.7,214.5 167.8,214.3 167.9,214.3 168.1,214.2 168.2,213.8 168.4,213.7 168.5,213.8 168.6,213.6 168.8,213.5 168.9,213.4 169.1,213.2 169.2,213.3 169.3,213 169.5,212.6 169.6,212.1 169.8,212 169.9,211.9 170,211.5 170.2,211.3 170.3,211 170.5,210.4 170.6,210.4 170.7,210.1 170.9,209.4 171,209.3 171.2,209.2 171.3,209.1 171.4,208.6 171.6,208.1 171.7,208 171.9,207.6 172,207.6 172.1,207.2 172.3,207.1 172.4,206.4 172.6,205.5 172.7,205.5 172.8,204.5 173,203.7 173.1,203 173.3,200.6 173.4,197.9 173.5,195.1 173.7,196.8 173.9,198 174.1,199.8 174.3,199.7 174.5,201.4 174.7,201.6 174.9,200.6 175.1,198.9 175.3,197.9 175.5,196.1 175.7,194.6 175.9,193.4 176.1,192 176.3,191.1 176.5,188.7 176.7,188.3 176.9,187.6 177,186.7 177.2,189 177.3,191.1 177.4,190.7 177.6,189 177.7,188.3 177.9,186.3 178,184 178.2,183.9 178.3,185.1 178.4,185.8 178.6,186.7 178.7,187.4 178.9,186.9 179,186.7 179.2,187.2 179.3,185.2 179.5,185.1 179.6,183.5 179.7,183.6 179.9,182.4 180.1,182.8 180.2,186 180.4,187.5 180.6,189.1 180.8,190.6 180.9,189.7 181.1,187.9 181.3,187.7 181.5,187.7 181.7,186.9 181.8,187.4 182,191.2 182.2,194.2 182.4,197.1 182.5,198.5 182.7,199.1 182.8,199 183,198.9 183.1,198.5 183.3,197.6 183.4,197.3 183.6,197.6 183.7,196.9 183.8,196.6 184,196.3 184.1,197.8 184.3,199.8 184.4,201.2 184.6,201.7 184.7,201 184.9,201.4 185,202 185.2,201.4 185.3,201.7 185.4,202.7 185.6,201.7 185.7,202.2 185.9,202 186,203.1 186.2,201.1 186.3,199.2 186.4,197.8 186.5,196.7 186.6,195.9 186.8,197.2" fill="none" stroke="#000" stroke-width="1.25" stroke-linejoin="round"/>
<polyline clip-path="url(#c5)" points="17.1,218.9 17.4,218.4 17.7,216.6 18,216.6 18.3,215.1 18.6,215.4 18.9,214.2 19.3,213.3 19.6,213.9 19.9,213.4 20.3,213.1 20.6,214.1 20.9,214.6 21.2,214.3 21.5,216.4 21.8,215.1 22.2,216.2 22.5,216.3 22.9,215.6 23.2,214.2 23.5,214.1 23.8,214.7 24.1,214.2 24.4,212 24.7,213.4 25,212.7 25.4,214.2 25.7,213.4 26,212 26.4,212.6 26.7,212.3 27,211.4 27.2,211.2 27.5,211.4 27.8,211.7 28.1,211.3 28.4,211.5 28.7,210.4 29,208.4 29.4,207.8 29.7,207.5 30.1,209.2 30.4,210.6 30.8,211.6 31.1,212.3 31.5,211.6 31.8,211.8 32.1,211.6 32.4,212.8 32.7,212 33,211.9 33.4,211.9 33.7,212.4 34,212.7 34.4,212.1 34.7,214.1 35,214 35.3,214.2 35.6,214.1 35.9,214.5 36.2,214.4 36.5,213.1 36.9,213.8 37.2,212.8 37.6,212 37.9,211.6 38.2,210.4 38.5,210.8 38.8,211.3 39.1,211.4 39.4,210.5 39.7,211.6 39.9,211.7 40.2,212 40.6,211.6 40.9,210.5 41.2,210.2 41.6,210.3 41.9,210.4 42.2,210.8 42.5,210.4 42.8,210.3 43.1,211.3 43.4,211.6 43.7,210.1 44.1,208.4 44.4,208.6 44.8,211.1 45.1,214.5 45.5,212.1 45.9,209.6 46.2,208.2 46.6,205.6 46.9,206.1 47.2,206.3 47.4,205.2 47.8,204.6 48.1,204.1 48.5,204.2 48.8,204.4 49.1,206.3 49.5,206.4 49.8,206.2 50,205.8 50.3,205 50.7,204.1 51,202.9 51.3,202.3 51.7,202.1 52,201.9 52.3,201 52.6,200.5 52.9,199.8 53.2,199.3 53.5,199.2 53.9,199.3 54.2,198 54.6,197.8 54.9,197.7 55.2,198.3 55.5,199.4 55.8,197.4 56.1,197.9 56.4,197.9 56.7,198.3 57,196.8 57.2,196.5 57.5,195.3 57.9,195.7 58.2,196.6 58.5,197.1 58.9,197 59.2,197.7 59.6,196.6 59.8,196.7 60.1,196.4 60.4,196.9 60.7,196.9 61,196.5 61.3,196.4 61.6,196.4 61.9,195.8 62.2,195.7 62.5,197.7 62.9,197.7 63.2,199.4 63.6,200.4 64,201.9 64.3,203.5 64.7,204.7 65,204.7 65.4,203.2 65.8,202.5 66.1,201.4 66.5,200.1 66.8,198.9 67.1,198.5 67.3,198.5 67.6,198.5 68,197.7 68.3,197.8 68.6,197.4 69,198.3 69.3,199.9 69.7,201.2 69.9,201.8 70.2,202.1 70.5,203.2 70.9,205.3 71.2,205.9 71.5,207.5 71.9,208 72.2,208.6 72.6,209.1 73,208.8 73.3,208.9 73.6,209.7 74,208.2 74,208.2 74.3,206.9 74.6,207.1 74.9,205.5 75.2,205 75.5,206.7 75.8,207.1 76.2,208.3 76.5,207.7 76.8,207.8 77.2,207.7 77.5,206.3 77.8,206.8 78,207 78.4,206.7 78.7,206.5 79,207.3 79.4,207.5 79.7,208.6 80.1,208.7 80.3,209.3 80.6,210.6 80.9,210.7 81.3,211.2 81.6,210.1 81.9,208.7 82.3,208.3 82.6,207.9 82.9,206.9 83.2,207.7 83.5,207.5 83.8,207.7 84.1,207.5 84.4,208 84.7,207.4 85,208.4 85.2,207.6 85.6,206.9 85.9,209.4 86.3,208.8 86.6,208.4 86.9,208.2 87.3,207 87.6,205.9 87.8,206 88.1,206.1 88.4,204.3 88.7,205.2 89,204.7 89.3,203.8 89.6,202.6 89.9,201.3 90.3,200.7 90.6,201.2 90.9,199.7 91.3,199.4 91.6,198.9 91.9,198.5 92.2,198.9 92.5,197.9 92.8,198.5 93,199.6 93.3,199.2 93.6,199.9 93.9,200 94.2,199.6 94.6,200.1 94.9,198.2 95.3,199.2 95.6,199.5 95.9,199.2 96.2,199.3 96.5,200.1 96.8,200.3 97.1,200.5 97.5,200.7 97.8,200.6 98.2,200.6 98.5,199.6 98.8,198.6 99.1,198.5 99.4,199 99.7,199.5 100,199 100.3,198.5 100.7,198.6 101,198.6 101.4,197.8 101.7,198.4 102,198.1 102.3,197.7 102.6,196.7 102.9,198.5 103.1,197.9 103.4,198.2 103.7,198.5 104,198.4 104.3,199.1 104.7,199.5 105,198.8 105.3,200.2 105.7,199.3 106,200.5 106.3,199.5 106.6,198.8 106.9,198.6 107.2,197.2 107.6,196.3 107.9,195.4 108.2,194.2 108.6,193.9 108.9,194.2 109.2,193.3 109.5,192.4 109.8,191.1 110.1,190.8 110.3,191.7 110.6,191 110.9,189.4 111.2,189.7 111.5,189.4 111.9,189.4 112.2,188.3 112.6,186.8 112.9,186.8 113.2,186.6 113.5,185.5 113.8,186.3 114.1,187.6 114.4,188.5 114.8,189.4 115.1,189.2 115.4,190.1 115.8,190.7 116.1,191.6 116.4,193 116.7,193.7 117,195.1 117.3,193.5 117.7,194.2 118,194 118.3,193.2 118.7,191.2 119,190.2 119.3,189.8 119.6,189.6 119.9,189.8 120.2,190.3 120.4,191 120.7,190.6 121,189.9 121.3,191 121.6,189.9 122,189.4 122.3,188.8 122.7,189 123,189.5 123.3,190.2 123.6,190.4 123.9,190.5 124.2,189.7 124.5,189.9 124.8,189 125.1,189.8 125.3,190 125.6,190.3 126,189.4 126.3,188.9 126.6,189.2 127,186.8 127.4,185.8 127.7,188 128.1,188.2 128.4,189.4 128.8,189.3 129.1,190.2 129.4,190.9 129.7,191.3 130,192 130,194.3 130.4,195.5 130.7,195.3 131.1,196.5 131.4,197.9 131.8,197 132.2,196.3 132.5,195.6 132.8,195 133.2,194.1 133.5,193.8 133.8,194.3 134,194 134.3,193.6 134.6,193.7 134.9,192.9 135.2,193 135.5,193.2 135.8,193.7 136.2,194.8 136.5,194.1 136.8,193.6 137.2,193.1 137.5,192.4 137.8,192.2 138.1,192.3 138.4,192.9 138.7,192.8 138.9,193.2 139.2,192.7 139.5,193 139.8,193.1 140.1,195.1 140.5,194.2 140.8,193.4 141.2,193.1 141.5,192.9 141.8,191.8 142.1,192.4 142.4,192.7 142.7,192.5 143,191.6 143.3,192.3 143.6,192.6 143.8,194.1 144.1,193.9 144.5,194.5 144.8,195.1 145.1,195.2 145.5,193.8 145.8,195.2 146.1,193.4 146.4,193.5 146.7,193.9 147,193.4 147.4,192.7 147.7,191.5 148,189.9 148.4,189.6 148.7,189.4 149,189.3 149.3,188.6 149.6,188.6 149.9,187.7 150.2,186.3 150.5,187.2 150.8,187.6 151.1,186.7 151.3,186 151.7,187.1 152,186.5 152.4,185.2 152.7,185.1 153,185.8 153.4,186.8 153.7,187.7 153.9,187 154.2,187.5 154.5,187.3 154.9,189.7 155.2,191 155.6,192.7 156,194.7 156.3,199.2 156.7,202.4 157,204.8 157.4,207 157.8,205.4 158.1,203.9 158.5,202.3 158.8,199.9 159.2,198.9 159.6,196.6 159.9,194.8 160.3,193.7 160.6,191.2 161,189.7 161.3,189.8 161.7,189.6 162,190 162.3,189.2 162.6,189.9 162.9,190.7 163.2,191.1 163.5,190.5 163.8,189.6 164,190.3 164.3,190 164.7,190.2 165,189.1 165.3,189.2 165.7,189.2 166,188.6 166.3,189.5 166.6,189.3 166.9,189 167.2,188.8 167.5,188.8 167.8,187.4 168.1,188.3 168.4,187.9 168.6,187.3 169,188.1 169.3,187.9 169.7,187.1 170,186.3 170.4,185.6 170.7,183.5 171.1,181.1 171.4,179.6 171.8,179.3 172.1,178 172.4,176.2 172.7,177.3 173,175.9 173.3,175.9 173.6,176 173.8,175.6 174.1,175.2 174.4,173.9 174.8,172.3 175.1,172.3 175.4,173 175.8,172.1 176.1,169.6 176.5,168.4 176.9,166.5 177.2,167.1 177.5,166.4 177.9,167.5 178.2,169.3 178.5,169.2 178.8,168.2 179,168.9 179.3,168.6 179.6,168.7 179.9,168.6 180.2,168.9 180.5,168.9 180.9,169 181.2,169.1 181.5,170.8 181.9,171.3 182.2,172.4 182.5,172.3 182.8,171.6 183.1,170.8 183.4,171.3 183.8,170.3 184.1,169.3 184.4,170.6 184.8,170 185.1,171.3 185.4,171.3 185.7,172 186,172.9 186.2,173.5 186.5,173.4 186.8,175.7" fill="none" stroke="#7a7a7a" stroke-width="1.25" stroke-linejoin="round"/>
<line x1="16" y1="174.4" x2="17.2" y2="174.4" stroke="#8c8c8c" stroke-width="0.8"/>
<text x="14.9" y="174.7" font-size="4.7" text-anchor="end">28,000</text>
<line x1="16" y1="186.16" x2="17.2" y2="186.16" stroke="#8c8c8c" stroke-width="0.8"/>
<text x="14.9" y="186.46" font-size="4.7" text-anchor="end">24,000</text>
<line x1="16" y1="197.92" x2="17.2" y2="197.92" stroke="#8c8c8c" stroke-width="0.8"/>
<text x="14.9" y="198.22" font-size="4.7" text-anchor="end">20,000</text>
<line x1="16" y1="209.68" x2="17.2" y2="209.68" stroke="#8c8c8c" stroke-width="0.8"/>
<text x="14.9" y="209.98" font-size="4.7" text-anchor="end">16,000</text>
<line x1="16" y1="221.44" x2="17.2" y2="221.44" stroke="#8c8c8c" stroke-width="0.8"/>
<text x="14.9" y="221.74" font-size="4.7" text-anchor="end">12,000</text>
<line x1="186.8" y1="221.3" x2="187.8" y2="221.3" stroke="#8c8c8c" stroke-width="0.8"/>
<text x="188.8" y="222.05" font-size="4.7">0</text>
<line x1="186.8" y1="215.05" x2="187.8" y2="215.05" stroke="#8c8c8c" stroke-width="0.8"/>
<line x1="186.8" y1="208.8" x2="187.8" y2="208.8" stroke="#8c8c8c" stroke-width="0.8"/>
<text x="188.8" y="209.55" font-size="4.7">20,000</text>
<line x1="186.8" y1="202.55" x2="187.8" y2="202.55" stroke="#8c8c8c" stroke-width="0.8"/>
<line x1="186.8" y1="196.3" x2="187.8" y2="196.3" stroke="#8c8c8c" stroke-width="0.8"/>
<text x="188.8" y="197.05" font-size="4.7">40,000</text>
<line x1="186.8" y1="190.05" x2="187.8" y2="190.05" stroke="#8c8c8c" stroke-width="0.8"/>
<line x1="186.8" y1="183.8" x2="187.8" y2="183.8" stroke="#8c8c8c" stroke-width="0.8"/>
<text x="188.8" y="184.55" font-size="4.7">60,000</text>
<line x1="186.8" y1="177.55" x2="187.8" y2="177.55" stroke="#8c8c8c" stroke-width="0.8"/>
<line x1="186.8" y1="171.3" x2="187.8" y2="171.3" stroke="#8c8c8c" stroke-width="0.8"/>
<text x="188.8" y="172.05" font-size="4.7">80,000</text>
<line x1="29.6" y1="221.3" x2="29.6" y2="222.9" stroke="#8c8c8c" stroke-width="0.8"/>
<line x1="50.25" y1="221.3" x2="50.25" y2="222.9" stroke="#8c8c8c" stroke-width="0.8"/>
<line x1="70.9" y1="221.3" x2="70.9" y2="222.9" stroke="#8c8c8c" stroke-width="0.8"/>
<line x1="91.55" y1="221.3" x2="91.55" y2="222.9" stroke="#8c8c8c" stroke-width="0.8"/>
<line x1="112.2" y1="221.3" x2="112.2" y2="222.9" stroke="#8c8c8c" stroke-width="0.8"/>
<line x1="132.85" y1="221.3" x2="132.85" y2="222.9" stroke="#8c8c8c" stroke-width="0.8"/>
<line x1="153.5" y1="221.3" x2="153.5" y2="222.9" stroke="#8c8c8c" stroke-width="0.8"/>
<line x1="174.15" y1="221.3" x2="174.15" y2="222.9" stroke="#8c8c8c" stroke-width="0.8"/>
<text x="20.3" y="227.45" font-size="4.7" text-anchor="middle">2013</text>
<text x="39.3" y="227.45" font-size="4.7" text-anchor="middle">2014</text>
<text x="59.8" y="227.45" font-size="4.7" text-anchor="middle">2015</text>
<text x="80.6" y="227.45" font-size="4.7" text-anchor="middle">2016</text>
<text x="101.2" y="227.45" font-size="4.7" text-anchor="middle">2017</text>
<text x="121.85" y="227.45" font-size="4.7" text-anchor="middle">2018</text>
<text x="142.5" y="227.45" font-size="4.7" text-anchor="middle">2019</text>
<text x="163.4" y="227.45" font-size="4.7" text-anchor="middle">2020</text>
<text x="182.5" y="227.45" font-size="4.7" text-anchor="middle">2021</text>
<text x="100.2" y="171" font-size="5.2" text-anchor="middle">(5) Nikkei225 Vs. Bitcoin</text>
<clipPath id="c6"><rect x="226.6" y="164.3" width="169.9" height="56.2"/></clipPath>
<rect x="226.6" y="164.3" width="169.9" height="56.2" fill="none" stroke="#8c8c8c" stroke-width="1.3"/>
<polyline points="226.6,220.4 226.7,220.4 226.9,220.4 227,220.4 227.2,220.4 227.3,220.4 227.4,220.4 227.6,220.4 227.7,220.4 227.8,220.4 228,220.4 228.1,220.4 228.3,220.4 228.4,220.4 228.5,220.4 228.7,220.4 228.8,220.4 229,220.4 229.1,220.4 229.3,220.4 229.4,220.4 229.5,220.4 229.7,220.4 229.8,220.4 230,220.4 230.1,220.4 230.2,220.4 230.4,220.4 230.5,220.5 230.7,220.4 230.8,220.4 230.9,220.4 231.1,220.4 231.2,220.4 231.4,220.4 231.5,220.4 231.7,220.4 231.8,220.4 231.9,220.4 232.1,220.4 232.2,220.4 232.3,220.4 232.5,220.4 232.6,220.4 232.8,220.4 232.9,220.4 233.1,220.4 233.2,220.4 233.3,220.4 233.5,220.4 233.6,220.4 233.8,220.4 233.9,220.4 234,220.4 234.2,220.4 234.3,220.4 234.5,220.4 234.6,220.4 234.7,220.4 234.9,220.4 235,220.4 235.2,220.4 235.3,220.4 235.4,220.4 235.6,220.4 235.7,220.4 235.9,220.4 236,220.4 236.2,220.4 236.3,220.4 236.4,220.4 236.6,220.4 236.7,220.4 236.8,220.4 237,220.3 237.1,220.3 237.3,220.3 237.4,220.3 237.6,220.3 237.7,220.3 237.8,220.2 238,220.2 238.1,220.1 238.3,220.1 238.4,220 238.5,219.9 238.7,219.8 238.8,219.8 239,219.8 239.1,219.9 239.2,220 239.4,220 239.5,220.1 239.7,220.2 239.8,220.2 239.9,220.1 240.1,220.1 240.2,220.1 240.4,220 240.5,220 240.7,219.9 240.8,219.9 240.9,219.9 241.1,219.9 241.2,220 241.4,220 241.5,220 241.6,220 241.8,220 241.9,220 242.1,220 242.2,220 242.3,220.1 242.5,220.1 242.6,220.1 242.8,220.1 242.9,220.1 243,220.1 243.2,220.1 243.3,220.1 243.5,220.2 243.6,220.2 243.8,220.1 243.9,220.1 244,220.1 244.2,220.1 244.3,220.1 244.4,220.1 244.6,220.1 244.7,220.2 244.9,220.2 245,220.2 245.2,220.2 245.3,220.2 245.4,220.2 245.6,220.2 245.7,220.2 245.9,220.2 246,220.3 246.1,220.3 246.3,220.2 246.4,220.2 246.6,220.2 246.7,220.2 246.8,220.2 247,220.2 247.1,220.2 247.3,220.2 247.4,220.2 247.5,220.2 247.7,220.2 247.8,220.2 248,220.2 248.1,220.2 248.2,220.2 248.4,220.2 248.5,220.2 248.7,220.1 248.8,220.1 248.9,220.1 249.1,220.1 249.2,220.1 249.4,220.1 249.5,220.1 249.7,220.1 249.8,220.1 249.9,220.1 250.1,220.1 250.2,220.1 250.4,220.1 250.5,220.1 250.6,220.1 250.8,220.1 250.9,220.1 251.1,220.1 251.2,220.1 251.3,220.1 251.5,220.1 251.6,220.1 251.8,220.1 251.9,220.1 252,220.1 252.2,220.1 252.3,220.1 252.5,220.2 252.6,220.2 252.8,220.2 252.9,220.2 253,220.2 253.2,220.2 253.3,220.2 253.5,220.2 253.6,220.2 253.7,220.2 253.9,220.2 254,220.2 254.2,220.2 254.3,220.2 254.4,220.2 254.6,220.2 254.7,220.2 254.9,220.2 255,220.2 255.1,220.2 255.3,220.2 255.4,220.3 255.6,220.3 255.7,220.3 255.8,220.3 256,220.3 256.1,220.3 256.3,220.3 256.4,220.3 256.6,220.3 256.7,220.3 256.8,220.3 257,220.2 257.1,220.2 257.2,220.2 257.4,220.2 257.5,220.2 257.7,220.2 257.8,220.2 258,220.2 258.1,220.2 258.2,220.2 258.4,220.2 258.5,220.2 258.7,220.2 258.8,220.2 258.9,220.3 259.1,220.3 259.2,220.3 259.4,220.3 259.5,220.3 259.6,220.3 259.8,220.3 259.9,220.3 260.1,220.3 260.2,220.3 260.4,220.3 260.5,220.3 260.6,220.3 260.8,220.3 260.9,220.3 261.1,220.3 261.2,220.3 261.3,220.3 261.5,220.3 261.6,220.4 261.8,220.4 261.9,220.4 262,220.4 262.2,220.4 262.3,220.4 262.5,220.4 262.6,220.4 262.7,220.4 262.9,220.3 263,220.3 263.2,220.3 263.3,220.3 263.4,220.3 263.6,220.3 263.7,220.3 263.9,220.3 264,220.3 264.1,220.3 264.3,220.3 264.4,220.3 264.6,220.3 264.7,220.3 264.9,220.3 265,220.3 265.1,220.3 265.3,220.3 265.4,220.3 265.6,220.3 265.7,220.3 265.8,220.3 266,220.3 266.1,220.3 266.3,220.3 266.4,220.3 266.5,220.4 266.7,220.4 266.8,220.4 267,220.4 267.1,220.4 267.2,220.4 267.4,220.4 267.5,220.4 267.7,220.4 267.8,220.4 267.9,220.4 268.1,220.4 268.2,220.4 268.4,220.4 268.5,220.4 268.6,220.4 268.8,220.4 268.9,220.4 269.1,220.4 269.2,220.4 269.4,220.3 269.5,220.4 269.6,220.3 269.8,220.3 269.9,220.3 270.1,220.3 270.2,220.3 270.3,220.3 270.5,220.3 270.6,220.3 270.8,220.3 270.9,220.3 271,220.3 271.2,220.3 271.3,220.3 271.5,220.3 271.6,220.3 271.8,220.3 271.9,220.3 272,220.3 272.2,220.3 272.3,220.3 272.4,220.3 272.6,220.3 272.7,220.3 272.9,220.3 273,220.3 273.1,220.3 273.3,220.3 273.4,220.3 273.6,220.3 273.7,220.3 273.9,220.4 274,220.4 274.1,220.4 274.3,220.4 274.4,220.4 274.6,220.4 274.7,220.4 274.8,220.4 275,220.4 275.1,220.4 275.3,220.4 275.4,220.4 275.5,220.3 275.7,220.4 275.8,220.4 276,220.4 276.1,220.3 276.2,220.3 276.4,220.3 276.5,220.3 276.7,220.3 276.8,220.3 276.9,220.3 277.1,220.3 277.2,220.3 277.4,220.3 277.5,220.3 277.6,220.3 277.8,220.3 277.9,220.3 278.1,220.3 278.2,220.3 278.4,220.2 278.5,220.3 278.6,220.3 278.8,220.3 278.9,220.3 279.1,220.3 279.2,220.3 279.3,220.3 279.5,220.3 279.6,220.3 279.8,220.3 279.9,220.3 280.1,220.2 280.2,220.2 280.3,220.2 280.5,220.2 280.6,220.2 280.8,220.2 280.9,220.2 281,220.2 281.2,220.2 281.3,220.2 281.4,220.2 281.6,220.2 281.7,220.2 281.9,220.2 282,220.2 282.2,220.3 282.3,220.3 282.4,220.3 282.6,220.3 282.7,220.3 282.9,220.2 283,220.2 283.1,220.2 283.3,220.2 283.4,220.2 283.6,220.2 283.7,220.2 283.9,220.2 284,220.2 284.1,220.2 284.3,220.2 284.4,220.2 284.6,220.2 284.7,220.2 284.8,220.2 285,220.2 285.1,220.2 285.2,220.2 285.4,220.2 285.5,220.2 285.7,220.2 285.8,220.2 286,220.2 286.1,220.2 286.2,220.2 286.4,220.2 286.5,220.2 286.7,220.2 286.8,220.2 286.9,220.2 287.1,220.2 287.2,220.2 287.4,220.2 287.5,220.2 287.6,220.2 287.8,220.2 287.9,220.2 288.1,220.2 288.2,220.2 288.4,220.2 288.5,220.2 288.6,220.2 288.8,220.2 288.9,220.2 289.1,220.2 289.2,220.2 289.3,220.2 289.5,220.2 289.6,220.1 289.8,220.1 289.9,220.1 290,220.1 290.2,220.1 290.3,220.1 290.5,220.1 290.6,220.1 290.7,220.1 290.9,220.1 291,220 291.2,220.1 291.3,220.1 291.4,220.1 291.6,220.1 291.7,220.1 291.9,220.1 292,220.1 292.1,220.1 292.3,220.1 292.4,220.1 292.6,220.1 292.7,220.1 292.9,220.1 293,220.1 293.1,220.1 293.3,220.1 293.4,220.2 293.6,220.2 293.7,220.2 293.8,220.2 294,220.2 294.1,220.2 294.3,220.2 294.4,220.2 294.5,220.2 294.7,220.1 294.8,220.1 295,220.1 295.1,220.1 295.2,220.1 295.4,220.2 295.5,220.1 295.7,220.1 295.8,220.1 295.9,220.1 296.1,220.1 296.2,220.1 296.4,220.1 296.5,220.1 296.6,220.1 296.8,220.1 296.9,220.1 297.1,220.1 297.2,220.1 297.4,220.1 297.5,220.1 297.6,220.1 297.8,220.1 297.9,220.1 298.1,220.1 298.2,220.1 298.3,220.1 298.5,220.1 298.6,220.1 298.8,220.1 298.9,220.1 299,220.1 299.2,220.1 299.3,220.1 299.5,220.1 299.6,220.1 299.7,220 299.9,220.1 300,220.1 300.2,220 300.3,220 300.4,220 300.6,220 300.7,220 300.9,220 301,219.9 301.1,219.9 301.3,219.9 301.4,219.9 301.6,219.9 301.7,219.9 301.9,219.9 302,219.8 302.1,219.8 302.3,219.8 302.4,219.8 302.6,219.9 302.7,220 302.8,220 303,220 303.1,220 303.3,220 303.4,220 303.5,219.9 303.7,219.9 303.8,219.9 304,219.9 304.1,219.9 304.2,219.9 304.4,219.9 304.5,219.8 304.7,219.8 304.8,219.8 304.9,219.8 305.1,219.8 305.2,219.8 305.4,219.8 305.5,219.8 305.6,219.8 305.8,219.8 305.9,219.8 306.1,219.8 306.2,219.9 306.4,219.8 306.5,219.9 306.6,219.9 306.8,219.9 306.9,219.9 307.1,219.9 307.2,219.8 307.3,219.8 307.5,219.8 307.6,219.8 307.8,219.8 307.9,219.8 308,219.8 308.2,219.7 308.3,219.7 308.5,219.7 308.6,219.7 308.8,219.7 308.9,219.7 309,219.6 309.2,219.5 309.3,219.4 309.4,219.4 309.6,219.3 309.7,219.2 309.9,219.2 310,219.1 310.1,219 310.3,219 310.4,219 310.6,218.9 310.7,218.9 310.9,218.8 311,218.8 311.1,218.7 311.3,218.7 311.4,218.7 311.6,218.8 311.7,218.8 311.8,218.8 312,218.9 312.1,219 312.3,219 312.4,219 312.6,219.1 312.7,219.1 312.8,219.2 313,219.2 313.1,219.3 313.2,219.3 313.4,219.2 313.5,219.1 313.7,219.1 313.8,219 313.9,218.9 314.1,218.8 314.2,218.7 314.4,218.6 314.5,218.5 314.7,218.4 314.8,218.3 314.9,218.2 315.1,218.1 315.2,217.9 315.4,217.8 315.5,217.7 315.6,217.6 315.8,217.5 315.9,217.5 316.1,217.7 316.2,218 316.3,218.2 316.5,218.4 316.6,218.4 316.8,218.3 316.9,218.2 317.1,218.2 317.2,218 317.3,217.9 317.5,217.9 317.6,217.6 317.8,217.5 317.9,217.5 318,217.3 318.2,217.2 318.3,217.1 318.4,217 318.6,217 318.7,216.8 318.9,216.6 319,216.6 319.2,216.5 319.3,216.4 319.4,216.5 319.6,216.6 319.7,216.6 319.9,216.8 320,216.5 320.1,215.9 320.3,215.7 320.4,215.3 320.6,214.8 320.7,214.4 320.9,214.1 321,213.7 321.1,212.7 321.3,211.9 321.4,211.2 321.6,210.3 321.7,209.5 321.8,208.5 322,209.8 322.1,211.6 322.2,211.7 322.4,211.1 322.5,210.7 322.6,210.6 322.8,210.1 322.9,210 323.1,210.5 323.2,211.3 323.3,212.2 323.5,213.3 323.6,213.4 323.7,213.3 323.9,213.5 324,213.3 324.1,213.3 324.3,214.1 324.4,215.2 324.6,216.2 324.7,215.8 324.8,215.4 324.9,215 325.1,214.4 325.2,214.1 325.4,213.7 325.5,213.4 325.6,213.6 325.8,213.5 325.9,213.4 326,213.3 326.2,213.5 326.3,213.7 326.4,214 326.6,214.2 326.7,214.3 326.9,214.7 327,214.7 327.1,215.2 327.3,215.4 327.4,215.6 327.5,215.8 327.7,216.2 327.8,216.5 327.9,216.2 328.1,216 328.2,215.9 328.4,215.6 328.5,215.6 328.6,215.4 328.8,215.2 328.9,215 329,214.7 329.2,214.8 329.3,214.6 329.4,214.7 329.6,214.5 329.7,214.7 329.8,214.7 330,214.7 330.1,215 330.2,215.1 330.4,215.2 330.5,215.4 330.7,215.5 330.8,215.5 330.9,215.6 331.1,215.7 331.2,215.9 331.3,215.9 331.5,216 331.6,216.2 331.8,216.3 331.9,216.4 332,216.6 332.1,216.5 332.3,216.7 332.4,216.8 332.6,216.6 332.7,216.5 332.8,216.5 333,216.2 333.1,216.1 333.2,215.9 333.4,215.8 333.5,215.7 333.6,215.7 333.8,215.3 333.9,215.5 334.1,215.7 334.2,215.8 334.3,216 334.5,216.1 334.6,216.3 334.7,216.5 334.9,216.7 335,216.7 335.1,216.6 335.3,216.5 335.4,216.6 335.6,216.6 335.7,216.5 335.8,216.6 336,216.5 336.1,216.4 336.2,216.5 336.4,216.4 336.5,216.5 336.6,216.5 336.8,216.5 336.9,216.4 337,216.4 337.2,216.3 337.3,216.4 337.4,216.4 337.6,216.4 337.7,216.5 337.9,216.4 338,216.5 338.1,216.6 338.3,216.5 338.4,216.7 338.5,216.6 338.7,216.8 338.8,216.7 338.9,216.8 339.1,216.8 339.2,216.7 339.4,216.8 339.5,216.9 339.6,216.9 339.8,216.8 339.9,216.9 340,217.2 340.2,217.4 340.3,217.8 340.4,218.1 340.6,218.1 340.7,218.1 340.9,218.3 341,218.3 341.1,218.3 341.2,218.4 341.4,218.4 341.5,218.5 341.7,218.5 341.8,218.4 341.9,218.3 342.1,218.3 342.2,218.3 342.3,218.2 342.5,218.2 342.6,218.2 342.8,218.2 342.9,218.2 343,218.2 343.1,218.2 343.3,218.2 343.4,218.2 343.6,218.3 343.7,218.3 343.8,218.3 344,218.3 344.1,218.3 344.2,218.3 344.4,218.3 344.5,218.4 344.6,218.2 344.8,218.3 344.9,218.2 345.1,218.2 345.2,218.2 345.3,218.2 345.5,218.2 345.6,218.2 345.7,218.1 345.9,218.1 346,218.2 346.1,218.1 346.3,218.1 346.4,218 346.6,218 346.7,218 346.8,218 347,218 347.1,218 347.2,217.9 347.4,217.9 347.5,217.8 347.6,217.6 347.8,217.5 347.9,217.4 348,217.3 348.2,217.1 348.3,216.9 348.4,216.8 348.6,216.7 348.7,216.5 348.9,216.4 349,216.2 349.1,216.2 349.3,216 349.4,215.8 349.5,215.7 349.7,215.6 349.8,215.5 349.9,215.3 350.1,215 350.2,214.8 350.4,214.8 350.5,214.5 350.6,214.3 350.8,214.3 350.9,213.9 351,213.8 351.2,213.7 351.3,213.4 351.4,213.1 351.6,213.2 351.7,212.9 351.9,212.9 352,212.3 352.1,212.6 352.2,212.7 352.4,213.2 352.5,213.3 352.7,213.4 352.8,214.2 352.9,214.2 353.1,214.4 353.2,214.6 353.3,214.4 353.5,214 353.6,214 353.7,214 353.9,213.6 354,213.6 354.1,213.2 354.3,213.2 354.4,213.2 354.6,213.2 354.7,213.4 354.8,213.7 354.9,213.8 355.1,213.6 355.2,213.8 355.4,214 355.5,214 355.6,214.1 355.8,214.2 355.9,214.6 356,214.5 356.2,214.5 356.3,214.7 356.4,214.8 356.6,215.2 356.7,215 356.8,215.1 357,215.1 357.1,215.3 357.2,215.2 357.4,215.1 357.5,215 357.6,215.1 357.8,214.9 357.9,215 358,214.9 358.2,214.9 358.3,214.8 358.5,214.8 358.6,214.9 358.7,214.7 358.9,214.8 359,215 359.1,215 359.3,215 359.4,215.2 359.5,215.2 359.7,215.3 359.8,215.4 359.9,215.5 360.1,215.7 360.2,215.6 360.4,215.7 360.5,215.8 360.6,215.9 360.8,215.9 360.9,216.1 361,216.2 361.1,216.3 361.3,216.3 361.4,216.4 361.6,216.4 361.7,216.2 361.8,216.3 362,216.1 362.1,216.2 362.2,216 362.4,215.8 362.5,215.8 362.6,215.8 362.8,215.6 362.9,215.4 363,215.5 363.2,215.3 363.3,215.1 363.4,215 363.6,214.9 363.7,214.7 363.9,214.6 364,214.5 364.1,214.4 364.3,214.3 364.4,214.2 364.5,214.1 364.7,214.4 364.8,214.7 364.9,215.1 365.1,215.3 365.2,215.6 365.3,215.9 365.5,216.1 365.6,216.4 365.7,216.7 365.9,216.9 366,217.4 366.1,217.4 366.3,217.3 366.4,217.1 366.6,216.9 366.7,217 366.9,216.8 367,216.6 367.1,216.5 367.3,216.4 367.4,216.4 367.5,216.1 367.7,216 367.8,215.9 368,215.8 368.1,215.6 368.2,215.6 368.4,215.4 368.5,215.3 368.7,215.3 368.8,215 368.9,214.9 369.1,214.8 369.2,214.9 369.4,214.8 369.5,214.6 369.6,214.6 369.8,214.4 369.9,214.3 370.1,214.5 370.2,214.5 370.3,214.2 370.5,214.1 370.6,214.1 370.8,214.1 370.9,214.2 371,214.2 371.2,214 371.3,214.1 371.5,214.2 371.6,214.1 371.7,213.7 371.9,213.8 372,214 372.2,214 372.3,213.9 372.4,213.9 372.6,213.7 372.7,213.8 372.9,213.9 373,213.6 373.1,213.8 373.3,213.7 373.4,213.7 373.6,213.7 373.7,213.6 373.8,213.6 374,213.7 374.1,213.6 374.3,213.4 374.4,213.3 374.5,213.1 374.7,213 374.8,212.8 375,212.9 375.1,213.2 375.2,213.3 375.4,213.6 375.5,213.6 375.7,213.7 375.8,213.8 375.9,214.1 376.1,214.2 376.2,214.1 376.4,214.1 376.5,213.9 376.6,213.8 376.8,213.8 376.9,213.6 377.1,213.7 377.2,213.5 377.3,213.5 377.5,213.4 377.6,213 377.8,212.9 377.9,213 378,212.8 378.2,212.7 378.3,212.6 378.5,212.4 378.6,212.5 378.7,212.2 378.9,211.8 379,211.3 379.2,211.2 379.3,211.1 379.4,210.7 379.6,210.5 379.7,210.2 379.9,209.6 380,209.6 380.1,209.2 380.3,208.6 380.4,208.5 380.6,208.3 380.7,208.2 380.8,207.8 381,207.3 381.1,207.2 381.3,206.8 381.4,206.8 381.5,206.4 381.7,206.3 381.8,205.6 382,204.7 382.1,204.7 382.2,203.7 382.4,202.9 382.5,202.2 382.7,199.8 382.8,197.1 382.9,194.3 383.1,196 383.3,197.2 383.5,198.9 383.7,198.9 383.9,200.6 384.1,200.8 384.3,199.8 384.5,198.1 384.7,197.1 384.9,195.3 385.1,193.8 385.3,192.6 385.5,191.2 385.7,190.3 385.9,187.9 386.1,187.5 386.3,186.8 386.4,185.9 386.6,188.2 386.7,190.3 386.9,189.9 387,188.2 387.1,187.5 387.3,185.5 387.4,183.2 387.6,183.1 387.7,184.3 387.9,184.9 388,185.9 388.1,186.6 388.3,186.1 388.4,185.8 388.6,186.4 388.7,184.4 388.9,184.2 389,182.7 389.1,182.8 389.3,181.6 389.5,182 389.6,185.2 389.8,186.7 390,188.3 390.2,189.8 390.4,188.9 390.5,187.1 390.7,186.9 390.9,186.9 391.1,186.1 391.2,186.6 391.4,190.4 391.6,193.4 391.8,196.3 391.9,197.7 392.1,198.3 392.2,198.2 392.4,198.1 392.5,197.7 392.7,196.8 392.8,196.5 393,196.8 393.1,196.1 393.2,195.8 393.4,195.5 393.5,197 393.7,199 393.8,200.4 394,200.9 394.1,200.2 394.3,200.6 394.4,201.2 394.6,200.6 394.7,200.9 394.9,201.9 395,200.9 395.1,201.4 395.3,201.2 395.4,202.3 395.6,200.3 395.7,198.4 395.8,197 395.9,195.9 396,195.1 396.1,196.4" fill="none" stroke="#000" stroke-width="1.25" stroke-linejoin="round"/>
<polyline clip-path="url(#c6)" points="226.7,211 227.2,213.7 227.5,213.9 227.8,213.9 228.2,215.3 228.5,215.7 228.8,215.9 229,216.4 229.3,215.3 229.6,214.8 229.9,214.6 230.2,213.8 230.5,214.4 230.8,214.5 231.2,212.8 231.5,213.9 231.8,213.7 232.2,213.3 232.5,212.8 232.8,211.5 233.1,211.8 233.4,211.9 233.7,211.3 234,211.2 234.4,211.6 234.7,211.6 235,212.6 235.4,212.2 235.7,212.8 236,212.7 236.2,212.8 236.5,212.1 236.8,212.3 237.1,212.2 237.4,211.9 237.7,211.7 238,212.1 238.4,210.9 238.7,211.2 239.1,213.9 239.4,213.8 239.7,213.9 240,213.1 240.3,212.4 240.6,212.8 240.9,212.6 241.3,212.8 241.6,212.8 241.9,213.8 242.3,213.5 242.6,213.9 242.9,213.5 243.2,213.8 243.5,214.5 243.8,214.9 244.1,214.5 244.5,212.7 244.8,212.9 245.1,214.1 245.5,214.8 245.8,214.6 246.1,215.4 246.3,214.8 246.6,214.5 246.9,215.2 247.2,214.6 247.5,213.5 247.8,213.8 248.1,213.5 248.5,214.3 248.8,215 249.1,214.9 249.5,214.6 249.8,213.6 250.1,212 250.4,212.8 250.7,212 251,212.2 251.3,211.4 251.7,212.2 252,211 252.4,211.6 252.7,211.6 253,210.4 253.3,209.9 253.6,209.3 253.8,209.8 254.1,209.7 254.4,210.7 254.7,210.1 255,209.7 255.3,208.9 255.6,208.6 255.9,208.7 256.1,208.6 256.4,207.9 256.7,207.3 257,206.5 257.3,205.3 257.6,203.7 257.8,201.7 258.1,200.4 258.4,198.3 258.7,197.1 259.1,196.2 259.4,194.5 259.7,193.3 260,193.4 260.3,193.6 260.7,194.7 261,196 261.3,194.9 261.5,195.2 261.8,194.4 262.1,193.3 262.5,192.5 262.8,191.9 263.1,191.4 263.4,190.5 263.8,187.9 264.1,185.4 264.4,184 264.7,183.1 265,182.1 265.4,179.3 265.7,179.6 266,177.2 266.2,176.5 266.5,176.7 266.8,174.4 267.1,171.9 267.4,170.3 267.8,166.5 268.2,164.5 268.5,166.8 268.8,170 269.1,174.4 269.3,179.5 269.6,184.7 269.9,190 270.4,185.1 270.6,182.8 270.9,181.4 271.1,182.7 271.4,183.9 271.7,185 272.1,185.6 272.4,187.2 272.7,189.2 272.9,192.6 273.2,195.9 273.6,199.4 273.9,199 274.2,197.9 274.5,197.7 274.8,197.1 275.1,194.8 275.3,193.6 275.6,194 275.9,193.2 276.2,192.6 276.5,191.9 276.7,192.5 277,192.2 277.3,191 277.6,190.3 277.9,189.1 278.2,190.2 278.6,191.1 278.9,190.1 279.2,188.8 279.6,189.7 279.9,189.8 280.3,193.8 280.6,196 280.9,196.9 281.2,198.4 281.5,201 281.7,200.6 282,202.2 282.3,202.7 282.6,202.7 282.9,203.2 283.2,202.3 283.5,203 283.8,201.2 284.1,201.6 284.4,202.3 284.8,200.3 285.1,199.8 285.4,198.6 285.7,198.5 286,198.8 286.3,198.2 286.6,198.1 286.9,199.4 287.2,199.8 287.4,200.8 287.7,200.9 288,201.1 288.3,200.9 288.6,201.5 288.9,202 289.2,202.5 289.6,200.1 289.9,199.4 290.2,198.2 290.5,197.6 290.8,197.9 291.1,197.7 291.4,198.2 291.7,198.6 292,199.2 292.4,199.8 292.7,198.7 293,197.7 293.4,197 293.7,197.4 294,198.7 294.2,197.8 294.5,198.8 294.8,197.6 295.1,197 295.4,198.5 295.7,197.8 296,197.9 296.4,197.2 296.7,197.7 297,197.7 297.4,197.5 297.7,198.3 298,197.4 298.3,195.7 298.6,195.7 298.9,194.2 299.2,194.2 299.4,195.6 299.7,196.5 300,195.6 300.4,196.4 300.7,196.9 301,197.5 301.4,197.2 301.7,196.7 302,197 302.3,195.8 302.6,195.4 302.9,195.8 303.2,196.3 303.5,195.6 303.8,195.6 304.1,195.8 304.4,195.4 304.7,195.4 305,194.9 305.4,194.7 305.7,196.1 306,195.6 306.4,195 306.7,196.9 306.9,196.7 307.2,196.4 307.5,196.7 307.8,196.9 308.1,196.4 308.4,196.9 308.7,196.1 309,196.8 309.3,196.4 309.7,196.5 310,196.9 310.4,196.5 310.7,196 311,195.2 311.3,195.6 311.6,194.8 311.9,194.6 312.1,194.9 312.4,194.4 312.7,194.8 313,194.2 313.3,193.8 313.7,194.9 314,194.3 314.3,192.8 314.7,193.5 315,192.2 315.3,191.6 315.6,192.7 315.9,191.1 316.2,191.5 316.5,191.6 316.8,192.4 317,192.5 317.3,192.3 317.7,191.4 318,191.1 318.3,190.4 318.7,190.4 319,191.5 319.4,192.1 319.6,191.7 319.9,191.9 320.2,192.5 320.5,191.5 320.8,191.7 321.1,191.7 321.4,192.3 321.6,192.6 322,192.4 322.3,191.9 322.7,193.3 323,192.5 323.4,192.4 323.7,192.1 324.1,191.1 324.5,192 324.8,190.9 325.2,192.9 325.6,193.9 325.9,193.2 326.3,194.1 326.6,194.4 326.8,195.7 327.1,195.5 327.4,196.4 327.8,197 328.1,196.4 328.4,197.1 328.8,197.9 329.1,197.8 329.4,198.5 329.7,198.6 330,199.3 330.3,199.4 330.6,198.7 330.9,198.6 331.2,199.3 331.5,200.5 331.8,201.2 332.1,200.9 332.4,201.3 332.8,201.1 333.1,202.2 333.4,202.2 333.8,202.9 334.1,203.3 334.3,203.4 334.6,203.4 334.9,202.9 335.2,203.4 335.5,203.3 335.8,203.3 336.1,202.9 336.4,203.8 336.8,204.9 337.1,205.4 337.4,205.6 337.8,206.1 338.1,206.8 338.4,206.3 338.7,207.2 339,205.7 339.2,206.5 339.6,205.3 340,205.4 340.4,204.9 340.7,204.9 341.1,205.8 341.4,205.6 341.8,205.6 342.2,206.1 342.5,206.7 342.8,205.4 343.2,204.1 343.5,204.5 343.8,204 344,203.9 344.4,203.2 344.7,201.8 345.1,202.5 345.4,200.8 345.8,200.4 346.1,198.5 346.5,197.4 346.9,196.8 347.2,196 347.6,195.2 347.9,195.2 348.3,197 348.6,197.5 349,198.4 349.4,199.8 349.7,200.8 350.1,201.6 350.5,201.6 350.8,200.5 351.2,198.9 351.5,198.9 351.8,199.6 352.1,199.2 352.4,199.1 352.7,199 353,199.9 353.4,200 353.7,201.3 354.1,202.3 354.4,202.3 354.8,201.3 355.1,200.7 355.5,199.6 355.8,199.1 356.1,199.7 356.4,200 356.7,200 357,200.4 357.3,201.1 357.6,201.1 357.9,200.6 358.2,200 358.5,200.3 358.8,199.7 359.1,200.7 359.5,200.3 359.8,200.6 360.1,200.1 360.5,200.1 360.8,200.8 361.1,200 361.3,199.4 361.6,198.6 361.9,198 362.2,199.2 362.5,199.8 362.8,199.2 363.1,199.5 363.4,198.2 363.7,198.7 363.9,198.9 364.2,199.9 364.5,201.1 364.8,201.7 365.1,201.3 365.4,200 365.7,199.9 366,200.9 366.3,201.6 366.7,202.3 367,203 367.4,204.2 367.8,202.8 368.1,202.3 368.5,202.5 368.8,201.7 369.1,201.8 369.4,201 369.7,201 370,202.1 370.3,201.2 370.6,200.8 370.9,199.9 371.2,199.4 371.4,199.6 371.8,199 372.1,200 372.4,201 372.8,200 373.2,198.6 373.5,195.3 373.9,193.3 374.3,192.8 374.6,192.4 374.9,192.2 375.2,192.3 375.5,192.3 375.8,192.7 376.1,192.5 376.4,193 376.8,194.1 377.1,193.3 377.5,194 377.8,194.2 378.1,193.9 378.4,193.4 378.7,192.9 378.9,192.8 379.2,192.3 379.5,192.7 379.8,192.3 380.1,192.6 380.4,192.1 380.8,192.4 381.1,192.5 381.4,193 381.8,193.8 382.1,193.6 382.4,192.7 382.7,192.3 383,192.2 383.3,192.6 383.6,191 383.8,190.7 384.1,190.5 384.4,191.7 384.8,191.6 385.1,190.3 385.4,189.2 385.8,189.1 386.1,189 386.4,190.1 386.7,189.5 387,189.2 387.3,189.5 387.6,189.4 387.9,190.9 388.2,190.2 388.5,190.1 388.8,190.4 389.1,189.7 389.4,189.8 389.8,191.4 390.1,190.2 390.4,190.2 390.8,189.8 391.1,190.5 391.3,191.1 391.6,191.4 391.9,191 392.2,190.1 392.5,191.1 392.8,190.9 393.1,191.3 393.4,191.6 393.8,190.5 394.1,190.7 394.4,191.5 394.8,191.2 395.1,190.6 395.4,190.1 395.7,191.1 396,191.8 396.2,192 396.5,191.8 396.8,190.9" fill="none" stroke="#7a7a7a" stroke-width="1.25" stroke-linejoin="round"/>
<line x1="225.4" y1="172.04" x2="226.6" y2="172.04" stroke="#8c8c8c" stroke-width="0.8"/>
<text x="224.3" y="172.34" font-size="4.7" text-anchor="end">4800</text>
<line x1="225.4" y1="184.28" x2="226.6" y2="184.28" stroke="#8c8c8c" stroke-width="0.8"/>
<text x="224.3" y="184.58" font-size="4.7" text-anchor="end">4000</text>
<line x1="225.4" y1="196.52" x2="226.6" y2="196.52" stroke="#8c8c8c" stroke-width="0.8"/>
<text x="224.3" y="196.82" font-size="4.7" text-anchor="end">3200</text>
<line x1="225.4" y1="208.76" x2="226.6" y2="208.76" stroke="#8c8c8c" stroke-width="0.8"/>
<text x="224.3" y="209.06" font-size="4.7" text-anchor="end">2400</text>
<line x1="225.4" y1="221" x2="226.6" y2="221" stroke="#8c8c8c" stroke-width="0.8"/>
<text x="224.3" y="221.3" font-size="4.7" text-anchor="end">1600</text>
<line x1="396.5" y1="220.5" x2="397.5" y2="220.5" stroke="#8c8c8c" stroke-width="0.8"/>
<text x="398.5" y="221.25" font-size="4.7">0</text>
<line x1="396.5" y1="214.25" x2="397.5" y2="214.25" stroke="#8c8c8c" stroke-width="0.8"/>
<line x1="396.5" y1="208" x2="397.5" y2="208" stroke="#8c8c8c" stroke-width="0.8"/>
<text x="398.5" y="208.75" font-size="4.7">20,000</text>
<line x1="396.5" y1="201.75" x2="397.5" y2="201.75" stroke="#8c8c8c" stroke-width="0.8"/>
<line x1="396.5" y1="195.5" x2="397.5" y2="195.5" stroke="#8c8c8c" stroke-width="0.8"/>
<text x="398.5" y="196.25" font-size="4.7">40,000</text>
<line x1="396.5" y1="189.25" x2="397.5" y2="189.25" stroke="#8c8c8c" stroke-width="0.8"/>
<line x1="396.5" y1="183" x2="397.5" y2="183" stroke="#8c8c8c" stroke-width="0.8"/>
<text x="398.5" y="183.75" font-size="4.7">60,000</text>
<line x1="396.5" y1="176.75" x2="397.5" y2="176.75" stroke="#8c8c8c" stroke-width="0.8"/>
<line x1="396.5" y1="170.5" x2="397.5" y2="170.5" stroke="#8c8c8c" stroke-width="0.8"/>
<text x="398.5" y="171.25" font-size="4.7">80,000</text>
<line x1="239" y1="220.5" x2="239" y2="222.1" stroke="#8c8c8c" stroke-width="0.8"/>
<line x1="259.65" y1="220.5" x2="259.65" y2="222.1" stroke="#8c8c8c" stroke-width="0.8"/>
<line x1="280.3" y1="220.5" x2="280.3" y2="222.1" stroke="#8c8c8c" stroke-width="0.8"/>
<line x1="300.95" y1="220.5" x2="300.95" y2="222.1" stroke="#8c8c8c" stroke-width="0.8"/>
<line x1="321.6" y1="220.5" x2="321.6" y2="222.1" stroke="#8c8c8c" stroke-width="0.8"/>
<line x1="342.25" y1="220.5" x2="342.25" y2="222.1" stroke="#8c8c8c" stroke-width="0.8"/>
<line x1="362.9" y1="220.5" x2="362.9" y2="222.1" stroke="#8c8c8c" stroke-width="0.8"/>
<line x1="383.55" y1="220.5" x2="383.55" y2="222.1" stroke="#8c8c8c" stroke-width="0.8"/>
<text x="229.7" y="226.65" font-size="4.7" text-anchor="middle">2013</text>
<text x="248.7" y="226.65" font-size="4.7" text-anchor="middle">2014</text>
<text x="269.2" y="226.65" font-size="4.7" text-anchor="middle">2015</text>
<text x="290" y="226.65" font-size="4.7" text-anchor="middle">2016</text>
<text x="310.6" y="226.65" font-size="4.7" text-anchor="middle">2017</text>
<text x="331.25" y="226.65" font-size="4.7" text-anchor="middle">2018</text>
<text x="351.9" y="226.65" font-size="4.7" text-anchor="middle">2019</text>
<text x="372.8" y="226.65" font-size="4.7" text-anchor="middle">2020</text>
<text x="391.9" y="226.65" font-size="4.7" text-anchor="middle">2021</text>
<text x="312.05" y="170.4" font-size="5.2" text-anchor="middle">(6) SSEC Vs. Bitcoin</text>
<clipPath id="c7"><rect x="17.2" y="244.4" width="169.6" height="56.35"/></clipPath>
<rect x="17.2" y="244.4" width="169.6" height="56.35" fill="none" stroke="#8c8c8c" stroke-width="1.3"/>
<polyline points="17.2,300.7 17.3,300.7 17.5,300.7 17.6,300.7 17.8,300.7 17.9,300.7 18,300.7 18.2,300.7 18.3,300.7 18.4,300.7 18.6,300.7 18.7,300.7 18.9,300.7 19,300.7 19.1,300.7 19.3,300.7 19.4,300.7 19.6,300.7 19.7,300.7 19.9,300.7 20,300.7 20.1,300.7 20.3,300.7 20.4,300.7 20.6,300.7 20.7,300.7 20.8,300.7 21,300.7 21.1,300.7 21.3,300.7 21.4,300.7 21.5,300.7 21.7,300.7 21.8,300.7 22,300.7 22.1,300.7 22.2,300.7 22.4,300.7 22.5,300.7 22.7,300.7 22.8,300.7 22.9,300.7 23.1,300.7 23.2,300.7 23.4,300.7 23.5,300.7 23.7,300.7 23.8,300.7 23.9,300.7 24.1,300.7 24.2,300.7 24.4,300.7 24.5,300.7 24.6,300.7 24.8,300.7 24.9,300.7 25.1,300.7 25.2,300.7 25.3,300.7 25.5,300.7 25.6,300.7 25.8,300.7 25.9,300.7 26,300.7 26.2,300.7 26.3,300.7 26.5,300.6 26.6,300.6 26.8,300.6 26.9,300.6 27,300.6 27.2,300.6 27.3,300.6 27.4,300.6 27.6,300.6 27.7,300.6 27.9,300.6 28,300.6 28.2,300.6 28.3,300.5 28.4,300.5 28.6,300.4 28.7,300.4 28.9,300.3 29,300.2 29.1,300.1 29.3,300.1 29.4,300.1 29.6,300.1 29.7,300.1 29.9,300.2 30,300.3 30.1,300.3 30.3,300.4 30.4,300.4 30.5,300.4 30.7,300.4 30.8,300.3 31,300.3 31.1,300.2 31.2,300.2 31.4,300.2 31.5,300.2 31.7,300.2 31.8,300.2 32,300.2 32.1,300.2 32.2,300.2 32.4,300.3 32.5,300.3 32.7,300.3 32.8,300.3 32.9,300.3 33.1,300.3 33.2,300.3 33.4,300.3 33.5,300.3 33.6,300.4 33.8,300.4 33.9,300.4 34.1,300.4 34.2,300.4 34.3,300.4 34.5,300.4 34.6,300.4 34.8,300.4 34.9,300.4 35,300.4 35.2,300.4 35.3,300.4 35.5,300.4 35.6,300.4 35.8,300.4 35.9,300.4 36,300.5 36.2,300.5 36.3,300.5 36.5,300.5 36.6,300.5 36.7,300.5 36.9,300.5 37,300.5 37.2,300.4 37.3,300.5 37.4,300.4 37.6,300.4 37.7,300.4 37.9,300.5 38,300.5 38.1,300.5 38.3,300.5 38.4,300.5 38.6,300.5 38.7,300.4 38.8,300.4 39,300.4 39.1,300.4 39.3,300.4 39.4,300.4 39.5,300.4 39.7,300.3 39.8,300.3 40,300.3 40.1,300.3 40.3,300.3 40.4,300.3 40.5,300.4 40.7,300.4 40.8,300.4 41,300.3 41.1,300.3 41.2,300.4 41.4,300.4 41.5,300.4 41.7,300.4 41.8,300.4 42,300.4 42.1,300.4 42.2,300.4 42.4,300.4 42.5,300.4 42.6,300.4 42.8,300.4 42.9,300.4 43.1,300.4 43.2,300.4 43.3,300.4 43.5,300.4 43.6,300.4 43.8,300.4 43.9,300.5 44.1,300.5 44.2,300.5 44.3,300.5 44.5,300.5 44.6,300.5 44.8,300.4 44.9,300.5 45,300.5 45.2,300.5 45.3,300.4 45.5,300.5 45.6,300.5 45.7,300.5 45.9,300.5 46,300.5 46.2,300.5 46.3,300.5 46.5,300.5 46.6,300.5 46.7,300.6 46.9,300.5 47,300.5 47.1,300.5 47.3,300.5 47.4,300.5 47.6,300.5 47.7,300.5 47.8,300.5 48,300.5 48.1,300.5 48.3,300.5 48.4,300.5 48.6,300.5 48.7,300.5 48.8,300.5 49,300.5 49.1,300.5 49.3,300.5 49.4,300.5 49.5,300.5 49.7,300.5 49.8,300.5 50,300.5 50.1,300.5 50.2,300.5 50.4,300.5 50.5,300.5 50.7,300.5 50.8,300.5 51,300.5 51.1,300.5 51.2,300.5 51.4,300.5 51.5,300.6 51.7,300.6 51.8,300.6 51.9,300.6 52.1,300.6 52.2,300.6 52.4,300.6 52.5,300.6 52.6,300.6 52.8,300.6 52.9,300.6 53.1,300.6 53.2,300.6 53.3,300.6 53.5,300.6 53.6,300.6 53.8,300.6 53.9,300.6 54,300.6 54.2,300.6 54.3,300.6 54.5,300.6 54.6,300.6 54.8,300.6 54.9,300.6 55,300.6 55.2,300.6 55.3,300.6 55.5,300.6 55.6,300.6 55.7,300.6 55.9,300.6 56,300.6 56.2,300.6 56.3,300.6 56.4,300.6 56.6,300.6 56.7,300.6 56.9,300.6 57,300.6 57.1,300.6 57.3,300.6 57.4,300.6 57.6,300.6 57.7,300.6 57.8,300.6 58,300.6 58.1,300.6 58.3,300.6 58.4,300.6 58.5,300.6 58.7,300.6 58.8,300.6 59,300.6 59.1,300.6 59.2,300.6 59.4,300.6 59.5,300.6 59.7,300.6 59.8,300.6 60,300.6 60.1,300.6 60.2,300.6 60.4,300.6 60.5,300.6 60.7,300.6 60.8,300.6 60.9,300.6 61.1,300.6 61.2,300.6 61.4,300.6 61.5,300.6 61.6,300.6 61.8,300.6 61.9,300.6 62.1,300.6 62.2,300.6 62.3,300.6 62.5,300.6 62.6,300.6 62.8,300.6 62.9,300.6 63,300.6 63.2,300.6 63.3,300.6 63.5,300.6 63.6,300.6 63.8,300.6 63.9,300.6 64,300.6 64.2,300.6 64.3,300.6 64.5,300.6 64.6,300.6 64.7,300.6 64.9,300.6 65,300.6 65.2,300.6 65.3,300.6 65.4,300.6 65.6,300.6 65.7,300.6 65.9,300.6 66,300.6 66.1,300.6 66.3,300.6 66.4,300.6 66.6,300.6 66.7,300.6 66.8,300.6 67,300.6 67.1,300.6 67.3,300.6 67.4,300.6 67.5,300.6 67.7,300.6 67.8,300.6 68,300.6 68.1,300.6 68.2,300.5 68.4,300.5 68.5,300.5 68.7,300.5 68.8,300.5 69,300.5 69.1,300.5 69.2,300.5 69.4,300.6 69.5,300.6 69.7,300.5 69.8,300.5 69.9,300.5 70.1,300.5 70.2,300.5 70.4,300.5 70.5,300.5 70.7,300.5 70.8,300.5 70.9,300.5 71.1,300.5 71.2,300.5 71.3,300.5 71.5,300.5 71.6,300.5 71.8,300.5 71.9,300.5 72,300.5 72.2,300.5 72.3,300.5 72.5,300.5 72.6,300.5 72.8,300.5 72.9,300.5 73,300.5 73.2,300.5 73.3,300.5 73.5,300.5 73.6,300.5 73.7,300.5 73.9,300.5 74,300.5 74.2,300.5 74.3,300.5 74.5,300.5 74.6,300.5 74.7,300.5 74.9,300.5 75,300.5 75.2,300.5 75.3,300.5 75.4,300.5 75.6,300.5 75.7,300.5 75.8,300.5 76,300.5 76.1,300.5 76.3,300.5 76.4,300.5 76.6,300.5 76.7,300.5 76.8,300.5 77,300.5 77.1,300.5 77.3,300.5 77.4,300.5 77.5,300.5 77.7,300.5 77.8,300.5 78,300.5 78.1,300.5 78.2,300.5 78.4,300.5 78.5,300.5 78.7,300.5 78.8,300.5 79,300.5 79.1,300.5 79.2,300.5 79.4,300.4 79.5,300.4 79.7,300.4 79.8,300.4 79.9,300.4 80.1,300.4 80.2,300.4 80.3,300.4 80.5,300.4 80.6,300.4 80.8,300.4 80.9,300.4 81.1,300.3 81.2,300.3 81.3,300.3 81.5,300.3 81.6,300.3 81.8,300.3 81.9,300.3 82,300.3 82.2,300.3 82.3,300.3 82.5,300.3 82.6,300.3 82.8,300.3 82.9,300.3 83,300.3 83.2,300.4 83.3,300.4 83.5,300.4 83.6,300.4 83.7,300.4 83.9,300.4 84,300.4 84.2,300.4 84.3,300.4 84.4,300.4 84.6,300.4 84.7,300.4 84.9,300.4 85,300.4 85.1,300.4 85.3,300.4 85.4,300.4 85.6,300.4 85.7,300.4 85.8,300.4 86,300.4 86.1,300.4 86.3,300.4 86.4,300.4 86.5,300.4 86.7,300.4 86.8,300.4 87,300.4 87.1,300.4 87.2,300.4 87.4,300.4 87.5,300.4 87.7,300.4 87.8,300.4 88,300.4 88.1,300.4 88.2,300.4 88.4,300.4 88.5,300.4 88.7,300.4 88.8,300.3 88.9,300.3 89.1,300.3 89.2,300.3 89.4,300.3 89.5,300.3 89.6,300.3 89.8,300.3 89.9,300.3 90.1,300.3 90.2,300.3 90.3,300.3 90.5,300.3 90.6,300.3 90.8,300.3 90.9,300.3 91,300.3 91.2,300.3 91.3,300.2 91.5,300.2 91.6,300.2 91.8,300.2 91.9,300.2 92,300.1 92.2,300.1 92.3,300.1 92.5,300.1 92.6,300.1 92.7,300.1 92.9,300.1 93,300.1 93.2,300.2 93.3,300.2 93.4,300.3 93.6,300.2 93.7,300.2 93.9,300.2 94,300.2 94.1,300.2 94.3,300.2 94.4,300.2 94.6,300.1 94.7,300.1 94.9,300.1 95,300.1 95.1,300.1 95.3,300.1 95.4,300.1 95.5,300.1 95.7,300 95.8,300 96,300 96.1,300 96.2,300 96.4,300.1 96.5,300.1 96.7,300.1 96.8,300.1 97,300.1 97.1,300.1 97.2,300.1 97.4,300.2 97.5,300.1 97.7,300.1 97.8,300.1 97.9,300.1 98.1,300.1 98.2,300.1 98.4,300.1 98.5,300 98.6,300 98.8,300 98.9,300 99.1,299.9 99.2,299.9 99.4,299.9 99.5,299.9 99.6,299.8 99.8,299.8 99.9,299.7 100,299.6 100.2,299.6 100.3,299.5 100.5,299.4 100.6,299.3 100.8,299.3 100.9,299.2 101,299.2 101.2,299.2 101.3,299.1 101.5,299.1 101.6,299 101.7,298.9 101.9,298.9 102,298.9 102.2,299 102.3,299.1 102.4,299 102.6,299.2 102.7,299.2 102.9,299.2 103,299.3 103.2,299.3 103.3,299.4 103.4,299.4 103.6,299.5 103.7,299.5 103.9,299.5 104,299.4 104.1,299.3 104.3,299.3 104.4,299.2 104.5,299.1 104.7,299.1 104.8,298.9 105,298.8 105.1,298.7 105.3,298.6 105.4,298.5 105.5,298.5 105.7,298.3 105.8,298.2 106,298.1 106.1,298 106.2,297.8 106.4,297.8 106.5,297.8 106.7,297.9 106.8,298.2 106.9,298.4 107.1,298.6 107.2,298.7 107.4,298.6 107.5,298.5 107.7,298.4 107.8,298.3 107.9,298.2 108.1,298.1 108.2,297.9 108.4,297.8 108.5,297.8 108.6,297.6 108.8,297.5 108.9,297.3 109,297.2 109.2,297.2 109.3,297 109.5,296.8 109.6,296.8 109.8,296.7 109.9,296.7 110,296.8 110.2,296.8 110.3,296.8 110.5,297 110.6,296.7 110.7,296.2 110.9,296 111,295.6 111.2,295.1 111.3,294.6 111.5,294.4 111.6,293.9 111.7,292.9 111.9,292.1 112,291.5 112.2,290.5 112.3,289.8 112.4,288.8 112.6,290.1 112.7,291.8 112.8,291.9 113,291.4 113.1,291 113.2,290.9 113.4,290.3 113.5,290.2 113.7,290.8 113.8,291.6 113.9,292.4 114.1,293.6 114.2,293.7 114.3,293.6 114.5,293.7 114.6,293.5 114.7,293.5 114.9,294.4 115,295.4 115.2,296.4 115.3,296.1 115.4,295.6 115.5,295.2 115.7,294.7 115.8,294.3 116,293.9 116.1,293.7 116.2,293.9 116.4,293.8 116.5,293.6 116.6,293.5 116.8,293.8 116.9,293.9 117,294.3 117.2,294.4 117.3,294.5 117.5,295 117.6,295 117.7,295.4 117.9,295.6 118,295.9 118.1,296.1 118.3,296.4 118.4,296.7 118.5,296.5 118.7,296.3 118.8,296.1 119,295.8 119.1,295.8 119.2,295.6 119.4,295.4 119.5,295.3 119.6,295 119.8,295.1 119.9,294.8 120,295 120.2,294.7 120.3,294.9 120.4,294.9 120.6,294.9 120.7,295.2 120.9,295.4 121,295.5 121.1,295.6 121.3,295.7 121.4,295.7 121.5,295.9 121.7,296 121.8,296.1 121.9,296.1 122.1,296.3 122.2,296.4 122.4,296.5 122.5,296.7 122.6,296.8 122.8,296.8 122.9,297 123,297.1 123.2,296.9 123.3,296.8 123.4,296.7 123.6,296.4 123.7,296.3 123.8,296.2 124,296.1 124.1,296 124.2,295.9 124.4,295.6 124.5,295.8 124.7,295.9 124.8,296.1 124.9,296.2 125.1,296.4 125.2,296.6 125.3,296.7 125.5,297 125.6,296.9 125.7,296.8 125.9,296.8 126,296.9 126.2,296.8 126.3,296.7 126.4,296.8 126.6,296.8 126.7,296.7 126.8,296.8 127,296.7 127.1,296.8 127.2,296.7 127.4,296.7 127.5,296.7 127.6,296.6 127.8,296.5 127.9,296.7 128,296.7 128.2,296.6 128.3,296.8 128.5,296.7 128.6,296.7 128.7,296.8 128.9,296.8 129,296.9 129.1,296.8 129.3,297 129.4,297 129.5,297 129.7,297 129.8,297 129.9,297.1 130.1,297.1 130.2,297.1 130.4,297.1 130.5,297.2 130.6,297.4 130.8,297.7 130.9,298 131,298.3 131.2,298.3 131.3,298.4 131.4,298.6 131.6,298.6 131.7,298.6 131.8,298.6 132,298.7 132.1,298.8 132.3,298.8 132.4,298.7 132.5,298.6 132.7,298.6 132.8,298.5 132.9,298.4 133.1,298.5 133.2,298.4 133.3,298.4 133.5,298.4 133.6,298.5 133.8,298.5 133.9,298.5 134,298.5 134.2,298.5 134.3,298.5 134.4,298.5 134.6,298.5 134.7,298.5 134.8,298.6 135,298.6 135.1,298.6 135.2,298.4 135.4,298.5 135.5,298.5 135.7,298.4 135.8,298.5 135.9,298.4 136.1,298.4 136.2,298.5 136.3,298.4 136.5,298.3 136.6,298.4 136.7,298.3 136.9,298.3 137,298.3 137.2,298.3 137.3,298.2 137.4,298.3 137.6,298.2 137.7,298.2 137.8,298.2 138,298.2 138.1,298 138.2,297.8 138.4,297.7 138.5,297.6 138.6,297.5 138.8,297.4 138.9,297.2 139,297 139.2,296.9 139.3,296.8 139.5,296.7 139.6,296.4 139.7,296.4 139.9,296.3 140,296 140.1,296 140.3,295.9 140.4,295.7 140.5,295.5 140.7,295.3 140.8,295.1 140.9,295.1 141.1,294.7 141.2,294.6 141.4,294.5 141.5,294.2 141.6,294.1 141.8,293.9 141.9,293.6 142,293.4 142.2,293.4 142.3,293.1 142.4,293.1 142.6,292.6 142.7,292.9 142.8,293 143,293.4 143.1,293.6 143.3,293.7 143.4,294.4 143.5,294.5 143.7,294.7 143.8,294.8 143.9,294.7 144.1,294.2 144.2,294.3 144.3,294.2 144.5,293.8 144.6,293.9 144.7,293.4 144.9,293.4 145,293.4 145.2,293.4 145.3,293.7 145.4,293.9 145.5,294.1 145.7,293.9 145.8,294 146,294.3 146.1,294.2 146.2,294.4 146.4,294.5 146.5,294.9 146.6,294.8 146.8,294.8 146.9,294.9 147,295 147.2,295.4 147.3,295.3 147.4,295.4 147.6,295.3 147.7,295.6 147.8,295.5 148,295.4 148.1,295.3 148.2,295.3 148.4,295.2 148.5,295.3 148.6,295.1 148.8,295.2 148.9,295.1 149.1,295.1 149.2,295.1 149.3,294.9 149.5,295.1 149.6,295.2 149.7,295.2 149.9,295.2 150,295.5 150.1,295.5 150.3,295.5 150.4,295.6 150.5,295.8 150.7,296 150.8,295.8 150.9,296 151.1,296.1 151.2,296.2 151.3,296.2 151.5,296.3 151.6,296.4 151.8,296.5 151.9,296.6 152,296.7 152.2,296.7 152.3,296.5 152.4,296.6 152.6,296.4 152.7,296.4 152.8,296.3 153,296.1 153.1,296.1 153.2,296 153.4,295.8 153.5,295.7 153.6,295.7 153.8,295.5 153.9,295.4 154,295.3 154.2,295.1 154.3,295 154.4,294.8 154.6,294.7 154.7,294.6 154.9,294.6 155,294.4 155.1,294.4 155.3,294.7 155.4,294.9 155.5,295.4 155.7,295.5 155.8,295.8 155.9,296.2 156.1,296.4 156.2,296.6 156.3,297 156.5,297.1 156.6,297.7 156.8,297.6 156.9,297.6 157,297.3 157.2,297.1 157.3,297.3 157.4,297 157.6,296.9 157.7,296.8 157.9,296.6 158,296.7 158.1,296.3 158.3,296.2 158.4,296.1 158.6,296.1 158.7,295.9 158.8,295.8 159,295.6 159.1,295.6 159.3,295.6 159.4,295.3 159.5,295.2 159.7,295.1 159.8,295.1 160,295 160.1,294.9 160.2,294.9 160.4,294.7 160.5,294.6 160.7,294.8 160.8,294.8 160.9,294.4 161.1,294.3 161.2,294.3 161.4,294.3 161.5,294.4 161.6,294.4 161.8,294.2 161.9,294.4 162.1,294.4 162.2,294.3 162.3,294 162.5,294 162.6,294.2 162.8,294.2 162.9,294.1 163,294.2 163.2,293.9 163.3,294.1 163.5,294.1 163.6,293.9 163.7,294.1 163.9,293.9 164,293.9 164.2,294 164.3,293.9 164.4,293.9 164.6,293.9 164.7,293.9 164.9,293.7 165,293.5 165.1,293.3 165.3,293.2 165.4,293.1 165.6,293.1 165.7,293.4 165.8,293.6 166,293.9 166.1,293.8 166.3,293.9 166.4,294.1 166.5,294.3 166.7,294.5 166.8,294.4 167,294.4 167.1,294.2 167.2,294.1 167.4,294 167.5,293.8 167.7,293.9 167.8,293.8 167.9,293.7 168.1,293.6 168.2,293.3 168.4,293.1 168.5,293.2 168.6,293.1 168.8,292.9 168.9,292.8 169.1,292.7 169.2,292.8 169.3,292.4 169.5,292 169.6,291.6 169.8,291.5 169.9,291.3 170,291 170.2,290.7 170.3,290.5 170.5,289.8 170.6,289.9 170.7,289.5 170.9,288.8 171,288.7 171.2,288.6 171.3,288.5 171.4,288 171.6,287.5 171.7,287.4 171.9,287.1 172,287 172.1,286.6 172.3,286.5 172.4,285.8 172.6,284.9 172.7,284.9 172.8,283.9 173,283.2 173.1,282.4 173.3,280 173.4,277.4 173.5,274.6 173.7,276.2 173.9,277.5 174.1,279.2 174.3,279.2 174.5,280.9 174.7,281 174.9,280 175.1,278.3 175.3,277.4 175.5,275.6 175.7,274.1 175.9,272.9 176.1,271.4 176.3,270.6 176.5,268.1 176.7,267.8 176.9,267 177,266.2 177.2,268.4 177.3,270.5 177.4,270.2 177.6,268.4 177.7,267.7 177.9,265.8 178,263.5 178.2,263.3 178.3,264.6 178.4,265.2 178.6,266.1 178.7,266.9 178.9,266.4 179,266.1 179.2,266.6 179.3,264.7 179.5,264.5 179.6,263 179.7,263 179.9,261.9 180.1,262.2 180.2,265.5 180.4,266.9 180.6,268.5 180.8,270 180.9,269.1 181.1,267.4 181.3,267.2 181.5,267.2 181.7,266.3 181.8,266.9 182,270.7 182.2,273.6 182.4,276.5 182.5,277.9 182.7,278.5 182.8,278.4 183,278.4 183.1,278 183.3,277 183.4,276.8 183.6,277 183.7,276.4 183.8,276.1 184,275.8 184.1,277.3 184.3,279.2 184.4,280.7 184.6,281.1 184.7,280.4 184.9,280.8 185,281.5 185.2,280.9 185.3,281.2 185.4,282.1 185.6,281.2 185.7,281.6 185.9,281.4 186,282.5 186.2,280.6 186.3,278.7 186.4,277.2 186.5,276.1 186.6,275.3 186.8,276.6" fill="none" stroke="#000" stroke-width="1.25" stroke-linejoin="round"/>
<polyline clip-path="url(#c7)" points="17.1,292.9 17.5,293 17.8,292.8 18.2,293.6 18.5,293 18.8,292.6 19.2,292.5 19.5,292.3 19.8,292.8 20,292.2 20.3,292.8 20.6,293.1 20.9,292.9 21.2,292.9 21.5,292.6 21.8,293.5 22.2,293.6 22.5,294 22.8,293.4 23.2,292.7 23.5,292.1 23.8,291.7 24.1,291.3 24.4,291 24.6,290.6 24.9,290.7 25.2,291.3 25.5,291.6 25.8,291.2 26.1,291.1 26.5,291.2 26.8,290.5 27.2,290.8 27.5,291.1 27.8,291.1 28.1,291.1 28.4,291.4 28.7,291.5 29,291.4 29.3,291.2 29.6,291 29.8,290.5 30.1,290.2 30.5,290.1 30.8,290 31.1,289.3 31.5,289.4 31.8,288.9 32.1,289 32.4,289.8 32.7,289.3 33,289.4 33.3,289.6 33.6,289.2 33.9,289.3 34.2,288.5 34.5,288.9 34.8,288.5 35.1,287.7 35.5,287.1 35.8,286.8 36.1,286.8 36.5,287 36.8,286.6 37.1,286.8 37.3,287 37.6,287.3 37.9,287.5 38.2,286.9 38.5,286.7 38.8,286.3 39.1,286.1 39.5,286.1 39.8,286 40.1,285.8 40.5,286.6 40.8,286.5 41.1,286.3 41.4,286.9 41.7,286.5 42,285.9 42.2,285.7 42.5,286.3 42.8,286.2 43.1,286.1 43.5,285.7 43.8,285 44.1,285.2 44.5,285.4 44.8,284.8 45.1,284.2 45.4,284.8 45.7,285.2 46,285.3 46.3,285.5 46.6,285 46.9,284.7 47.2,284.9 47.4,284.1 47.8,284 48.1,283.5 48.5,283.5 48.8,283 49.1,283.3 49.5,283 49.8,282.7 50,281.9 50.3,280.8 50.6,281.2 50.9,282.1 51.2,282.4 51.5,282.8 51.8,283 52.1,282.6 52.4,282.3 52.8,282.1 53.1,281.8 53.5,281.4 53.8,281.1 54.1,281.8 54.4,282.2 54.7,281.5 54.9,282 55.2,282.1 55.5,282.2 55.8,282.7 56.1,282.5 56.4,282.9 56.8,283.2 57.1,283.6 57.4,284.1 57.8,284.2 58.1,284.2 58.4,284.4 58.7,284.5 59,284.4 59.3,285.2 59.7,285.1 60,285 60.3,284.7 60.7,285.1 61,285.1 61.3,284.5 61.6,284.7 61.9,284.3 62.2,283.7 62.4,283.2 62.7,282.9 63,283.1 63.3,283.3 63.6,283 64,283 64.3,283.2 64.7,282.5 65,282.3 65.3,282.3 65.6,282.7 65.9,282.9 66.2,283.3 66.5,283.3 66.9,282.9 67.2,283.7 67.5,283.7 67.9,282.9 68.2,282.9 68.5,282.7 68.8,283 69.1,283.6 69.4,284 69.7,284 69.9,283 70.2,282.7 70.5,282.9 70.9,282.2 71.2,282.4 71.5,282.3 71.9,281.4 72.2,281.3 72.5,280.7 72.8,280.8 73.1,281 73.4,280.6 73.7,280.7 74,280.4 74.3,280.3 74.6,279.8 74.9,279.7 75.2,279.1 75.5,278.4 75.8,278 76.2,278.3 76.5,278.1 76.8,277.8 77.2,276.8 77.5,277 77.8,277.1 78,276.9 78.3,276.6 78.6,276.2 78.9,276.1 79.2,276.4 79.5,276.7 79.8,276.8 80.2,276.5 80.5,275.6 80.8,276 81.2,275.3 81.5,274.8 81.8,274.8 82.1,274.7 82.4,275.2 82.7,275.2 82.9,274.6 83.2,274.6 83.5,274.8 83.8,275 84.1,275.1 84.5,275.6 84.8,275.7 85.2,275.8 85.5,275.8 85.8,275.8 86.1,276 86.4,276.5 86.7,276.4 87,276.4 87.3,276.9 87.6,277.2 87.8,277.3 88.1,278.2 88.5,278.7 88.8,279.3 89.1,280.7 89.5,280.5 89.8,280.4 90.2,281.1 90.4,280.6 90.7,280.7 91,280.1 91.4,279.5 91.7,278.8 92,278.7 92.4,279 92.7,279.4 93,279.4 93.3,279.4 93.6,279.1 93.9,278.8 94.2,278.7 94.5,278.9 94.8,278.3 95.1,278.1 95.4,277.8 95.7,277.4 96,277.4 96.4,277.3 96.7,277.2 97,276.8 97.4,276.2 97.7,276.4 97.9,276.9 98.2,277 98.5,276.6 98.8,276.7 99.1,276.7 99.4,276.7 99.7,276.4 100,276.2 100.3,275.8 100.7,276.2 101,276 101.4,276 101.7,275.5 102,274.8 102.3,275.2 102.6,275.3 102.9,275.2 103.1,275.5 103.4,275.3 103.7,275 104,274.6 104.3,274.7 104.7,274.3 105,274.5 105.3,274.7 105.7,274.3 106,273.9 106.3,273.9 106.6,273.8 106.9,273.9 107.2,273.6 107.5,274.3 107.8,274.3 108,274.2 108.3,274.3 108.7,274.3 109,274.2 109.3,273.8 109.7,274.4 110,273.9 110.4,274.4 110.6,274.2 110.9,274.3 111.2,274.9 111.5,275.1 111.8,274.6 112.1,274.8 112.4,274.9 112.7,274.7 113,275.4 113.3,275.7 113.7,275.5 114,275.5 114.3,275.8 114.7,276.1 115,276.5 115.2,276.3 115.5,276.7 115.8,276.9 116.1,276.9 116.4,276.6 116.7,276.5 117,276.1 117.3,276.4 117.7,276.3 118,277 118.3,277.3 118.7,277.7 119,277.5 119.3,277.6 119.6,277.7 119.9,277.9 120.2,278.2 120.4,277.3 120.7,277.1 121,277.4 121.3,277.6 121.6,276.6 122,276.5 122.3,276.2 122.7,276.1 123,276.1 123.3,276.8 123.6,276.2 123.9,275.6 124.2,275.9 124.5,276 124.8,275.6 125.1,275.3 125.3,275.8 125.6,275.7 126,276.2 126.3,276.8 126.6,276.3 127,277 127.3,277.4 127.7,277.2 127.9,277.8 128.2,277.8 128.5,277.9 128.8,277.6 129.1,277.4 129.4,277.2 129.7,277.1 130,276.6 130,276.6 130.3,276.3 130.6,276.3 130.9,276 131.2,275.4 131.5,275.3 131.8,275.5 132.2,274.8 132.5,273.7 132.8,273.1 133.2,272.7 133.5,272.9 133.8,272.8 134,272.3 134.3,272 134.6,271.3 134.9,271.8 135.2,271.1 135.5,271 135.8,270.7 136.2,270.7 136.5,270.1 136.8,269.7 137.2,269.4 137.5,269.4 137.8,269.1 138.1,269.2 138.4,268.5 138.7,268.1 138.9,268 139.2,268.2 139.5,268.2 139.8,267.4 140.1,267.1 140.5,266.6 140.8,266.7 141.2,266.4 141.5,265.8 141.8,265.3 142.1,265.3 142.4,265.3 142.7,264.7 143,264.6 143.3,263.9 143.6,264 143.8,263.6 144.1,263.3 144.5,263.2 144.8,262.9 145.1,262.7 145.5,261.3 145.8,260.9 146.1,260.2 146.4,260.3 146.7,260.2 147,260 147.4,260.3 147.7,260.3 148,260.3 148.4,260.1 148.7,260.1 149,259.8 149.3,260.3 149.6,260.3 149.9,261.2 150.2,261.1 150.5,260.5 150.8,260.4 151.1,260.4 151.3,259.6 151.7,259.3 152,259.1 152.4,259.2 152.7,258.8 153,258.7 153.4,258.7 153.7,258.7 153.9,258.6 154.2,258.6 154.5,258.8 154.9,257.6 155.2,255.9 155.6,254.5 156,253.3 156.4,252.5 156.7,260.4 157,266.5 157.3,259.2 157.7,254 158,253.6 158.3,253.6 158.6,253.6 158.8,253 159.1,252.6 159.4,252.4 159.7,252.1 160,252.5 160.3,252 160.7,251.3 161,251.4 161.3,250.8 161.7,250.3 162,250.9 162.3,250.3 162.6,250.7 162.9,250.4 163.2,250.2 163.5,249.5 163.8,249.3 164,249.1 164.3,249.1 164.7,248.4 165,248.1 165.3,247.5 165.7,247.9 166,247.9 166.3,248.2 166.6,248.2 166.9,248.6 167.2,249.7 167.5,249.5 167.8,249.8 168.1,249.2 168.4,248.5 168.6,249.1 169,249.1 169.3,249.1 169.7,249.3 170,249.5 170.3,249.6 170.7,250.4 171,249.8 171.2,249.7 171.5,249.9 171.8,249.9 172.1,249.7 172.4,249.8 172.7,249.6 173,249.3 173.3,249.2 173.7,249.5 174,248.9 174.3,249.2 174.7,249.2 175,249.5 175.3,249.8 175.6,250 175.9,250.5 176.2,250.6 176.5,251.1 176.9,251.4 177.2,252.4 177.6,253.6 177.9,253.6 178.2,254.3 178.5,254.8 178.7,254.7 179,253.9 179.3,254.5 179.6,254.9 179.9,253.9 180.2,253.5 180.5,252.9 180.8,252.7 181.1,253.4 181.3,253.3 181.6,253.5 182,253.4 182.3,252.8 182.6,252.9 183,252.3 183.3,251.9 183.6,251.3 183.9,251.3 184.2,250.9 184.5,250.9 184.8,250.4 185.1,250.3 185.4,249.9 185.7,249.7 186,249.5 186.2,249.6 186.5,250 186.8,249.5" fill="none" stroke="#7a7a7a" stroke-width="1.25" stroke-linejoin="round"/>
<line x1="16" y1="253.52" x2="17.2" y2="253.52" stroke="#8c8c8c" stroke-width="0.8"/>
<text x="14.9" y="253.82" font-size="4.7" text-anchor="end">85</text>
<line x1="16" y1="263.57" x2="17.2" y2="263.57" stroke="#8c8c8c" stroke-width="0.8"/>
<text x="14.9" y="263.87" font-size="4.7" text-anchor="end">80</text>
<line x1="16" y1="273.62" x2="17.2" y2="273.62" stroke="#8c8c8c" stroke-width="0.8"/>
<text x="14.9" y="273.92" font-size="4.7" text-anchor="end">75</text>
<line x1="16" y1="283.67" x2="17.2" y2="283.67" stroke="#8c8c8c" stroke-width="0.8"/>
<text x="14.9" y="283.97" font-size="4.7" text-anchor="end">70</text>
<line x1="16" y1="293.72" x2="17.2" y2="293.72" stroke="#8c8c8c" stroke-width="0.8"/>
<text x="14.9" y="294.02" font-size="4.7" text-anchor="end">65</text>
<line x1="186.8" y1="300.75" x2="187.8" y2="300.75" stroke="#8c8c8c" stroke-width="0.8"/>
<text x="188.8" y="301.5" font-size="4.7">0</text>
<line x1="186.8" y1="294.5" x2="187.8" y2="294.5" stroke="#8c8c8c" stroke-width="0.8"/>
<line x1="186.8" y1="288.25" x2="187.8" y2="288.25" stroke="#8c8c8c" stroke-width="0.8"/>
<text x="188.8" y="289" font-size="4.7">20,000</text>
<line x1="186.8" y1="282" x2="187.8" y2="282" stroke="#8c8c8c" stroke-width="0.8"/>
<line x1="186.8" y1="275.75" x2="187.8" y2="275.75" stroke="#8c8c8c" stroke-width="0.8"/>
<text x="188.8" y="276.5" font-size="4.7">40,000</text>
<line x1="186.8" y1="269.5" x2="187.8" y2="269.5" stroke="#8c8c8c" stroke-width="0.8"/>
<line x1="186.8" y1="263.25" x2="187.8" y2="263.25" stroke="#8c8c8c" stroke-width="0.8"/>
<text x="188.8" y="264" font-size="4.7">60,000</text>
<line x1="186.8" y1="257" x2="187.8" y2="257" stroke="#8c8c8c" stroke-width="0.8"/>
<line x1="186.8" y1="250.75" x2="187.8" y2="250.75" stroke="#8c8c8c" stroke-width="0.8"/>
<text x="188.8" y="251.5" font-size="4.7">80,000</text>
<line x1="29.6" y1="300.75" x2="29.6" y2="302.35" stroke="#8c8c8c" stroke-width="0.8"/>
<line x1="50.25" y1="300.75" x2="50.25" y2="302.35" stroke="#8c8c8c" stroke-width="0.8"/>
<line x1="70.9" y1="300.75" x2="70.9" y2="302.35" stroke="#8c8c8c" stroke-width="0.8"/>
<line x1="91.55" y1="300.75" x2="91.55" y2="302.35" stroke="#8c8c8c" stroke-width="0.8"/>
<line x1="112.2" y1="300.75" x2="112.2" y2="302.35" stroke="#8c8c8c" stroke-width="0.8"/>
<line x1="132.85" y1="300.75" x2="132.85" y2="302.35" stroke="#8c8c8c" stroke-width="0.8"/>
<line x1="153.5" y1="300.75" x2="153.5" y2="302.35" stroke="#8c8c8c" stroke-width="0.8"/>
<line x1="174.15" y1="300.75" x2="174.15" y2="302.35" stroke="#8c8c8c" stroke-width="0.8"/>
<text x="20.3" y="306.9" font-size="4.7" text-anchor="middle">2013</text>
<text x="39.3" y="306.9" font-size="4.7" text-anchor="middle">2014</text>
<text x="59.8" y="306.9" font-size="4.7" text-anchor="middle">2015</text>
<text x="80.6" y="306.9" font-size="4.7" text-anchor="middle">2016</text>
<text x="101.2" y="306.9" font-size="4.7" text-anchor="middle">2017</text>
<text x="121.85" y="306.9" font-size="4.7" text-anchor="middle">2018</text>
<text x="142.5" y="306.9" font-size="4.7" text-anchor="middle">2019</text>
<text x="163.4" y="306.9" font-size="4.7" text-anchor="middle">2020</text>
<text x="182.5" y="306.9" font-size="4.7" text-anchor="middle">2021</text>
<text x="99.7" y="250.5" font-size="5.2" text-anchor="middle">(7) US bond index Vs. Bitcoin</text>
<clipPath id="c8"><rect x="226.6" y="243.75" width="169.9" height="56.2"/></clipPath>
<rect x="226.6" y="243.75" width="169.9" height="56.2" fill="none" stroke="#8c8c8c" stroke-width="1.3"/>
<polyline points="226.6,299.9 226.7,299.9 226.9,299.9 227,299.9 227.2,299.9 227.3,299.9 227.4,299.9 227.6,299.9 227.7,299.9 227.8,299.9 228,299.9 228.1,299.9 228.3,299.9 228.4,299.9 228.5,299.9 228.7,299.9 228.8,299.9 229,299.9 229.1,299.9 229.3,299.9 229.4,299.9 229.5,299.9 229.7,299.9 229.8,299.9 230,299.9 230.1,299.9 230.2,299.9 230.4,299.9 230.5,299.9 230.7,299.9 230.8,299.9 230.9,299.9 231.1,299.9 231.2,299.9 231.4,299.9 231.5,299.9 231.7,299.9 231.8,299.9 231.9,299.9 232.1,299.9 232.2,299.9 232.3,299.9 232.5,299.9 232.6,299.9 232.8,299.9 232.9,299.9 233.1,299.9 233.2,299.9 233.3,299.9 233.5,299.9 233.6,299.9 233.8,299.9 233.9,299.9 234,299.9 234.2,299.9 234.3,299.9 234.5,299.9 234.6,299.9 234.7,299.9 234.9,299.9 235,299.9 235.2,299.9 235.3,299.9 235.4,299.9 235.6,299.9 235.7,299.9 235.9,299.9 236,299.9 236.2,299.9 236.3,299.8 236.4,299.8 236.6,299.8 236.7,299.8 236.8,299.8 237,299.8 237.1,299.8 237.3,299.8 237.4,299.8 237.6,299.8 237.7,299.7 237.8,299.7 238,299.6 238.1,299.6 238.3,299.5 238.4,299.4 238.5,299.4 238.7,299.3 238.8,299.3 239,299.3 239.1,299.3 239.2,299.4 239.4,299.5 239.5,299.5 239.7,299.6 239.8,299.6 239.9,299.6 240.1,299.6 240.2,299.5 240.4,299.5 240.5,299.4 240.7,299.4 240.8,299.4 240.9,299.4 241.1,299.4 241.2,299.4 241.4,299.4 241.5,299.4 241.6,299.4 241.8,299.5 241.9,299.5 242.1,299.5 242.2,299.5 242.3,299.5 242.5,299.5 242.6,299.5 242.8,299.5 242.9,299.5 243,299.6 243.2,299.6 243.3,299.6 243.5,299.6 243.6,299.6 243.8,299.6 243.9,299.6 244,299.6 244.2,299.6 244.3,299.6 244.4,299.6 244.6,299.6 244.7,299.6 244.9,299.6 245,299.6 245.2,299.6 245.3,299.7 245.4,299.7 245.6,299.7 245.7,299.7 245.9,299.7 246,299.7 246.1,299.7 246.3,299.7 246.4,299.7 246.6,299.7 246.7,299.7 246.8,299.7 247,299.7 247.1,299.7 247.3,299.7 247.4,299.7 247.5,299.7 247.7,299.7 247.8,299.7 248,299.7 248.1,299.7 248.2,299.6 248.4,299.6 248.5,299.6 248.7,299.6 248.8,299.6 248.9,299.6 249.1,299.5 249.2,299.5 249.4,299.5 249.5,299.5 249.7,299.5 249.8,299.5 249.9,299.6 250.1,299.6 250.2,299.6 250.4,299.5 250.5,299.5 250.6,299.6 250.8,299.6 250.9,299.6 251.1,299.6 251.2,299.6 251.3,299.6 251.5,299.6 251.6,299.6 251.8,299.6 251.9,299.6 252,299.6 252.2,299.6 252.3,299.6 252.5,299.6 252.6,299.6 252.8,299.6 252.9,299.6 253,299.6 253.2,299.7 253.3,299.7 253.5,299.7 253.6,299.7 253.7,299.7 253.9,299.7 254,299.7 254.2,299.7 254.3,299.7 254.4,299.7 254.6,299.7 254.7,299.7 254.9,299.7 255,299.7 255.1,299.7 255.3,299.7 255.4,299.7 255.6,299.7 255.7,299.7 255.8,299.7 256,299.7 256.1,299.8 256.3,299.7 256.4,299.7 256.6,299.7 256.7,299.7 256.8,299.7 257,299.7 257.1,299.7 257.2,299.7 257.4,299.7 257.5,299.7 257.7,299.7 257.8,299.7 258,299.7 258.1,299.7 258.2,299.7 258.4,299.7 258.5,299.7 258.7,299.7 258.8,299.7 258.9,299.7 259.1,299.7 259.2,299.7 259.4,299.7 259.5,299.7 259.6,299.7 259.8,299.7 259.9,299.7 260.1,299.7 260.2,299.7 260.4,299.7 260.5,299.7 260.6,299.7 260.8,299.7 260.9,299.8 261.1,299.8 261.2,299.8 261.3,299.8 261.5,299.8 261.6,299.8 261.8,299.8 261.9,299.8 262,299.8 262.2,299.8 262.3,299.8 262.5,299.8 262.6,299.8 262.7,299.8 262.9,299.8 263,299.8 263.2,299.8 263.3,299.8 263.4,299.8 263.6,299.8 263.7,299.8 263.9,299.8 264,299.8 264.1,299.8 264.3,299.8 264.4,299.8 264.6,299.8 264.7,299.8 264.9,299.8 265,299.8 265.1,299.8 265.3,299.8 265.4,299.8 265.6,299.8 265.7,299.8 265.8,299.8 266,299.8 266.1,299.8 266.3,299.8 266.4,299.8 266.5,299.8 266.7,299.8 266.8,299.8 267,299.8 267.1,299.8 267.2,299.8 267.4,299.8 267.5,299.8 267.7,299.8 267.8,299.8 267.9,299.8 268.1,299.8 268.2,299.8 268.4,299.8 268.5,299.8 268.6,299.8 268.8,299.8 268.9,299.8 269.1,299.8 269.2,299.8 269.4,299.8 269.5,299.8 269.6,299.8 269.8,299.8 269.9,299.8 270.1,299.8 270.2,299.8 270.3,299.8 270.5,299.8 270.6,299.8 270.8,299.8 270.9,299.8 271,299.8 271.2,299.8 271.3,299.8 271.5,299.8 271.6,299.8 271.8,299.8 271.9,299.8 272,299.8 272.2,299.8 272.3,299.8 272.4,299.8 272.6,299.8 272.7,299.8 272.9,299.8 273,299.8 273.1,299.8 273.3,299.8 273.4,299.8 273.6,299.8 273.7,299.8 273.9,299.8 274,299.8 274.1,299.8 274.3,299.8 274.4,299.8 274.6,299.8 274.7,299.8 274.8,299.8 275,299.8 275.1,299.8 275.3,299.8 275.4,299.8 275.5,299.8 275.7,299.8 275.8,299.8 276,299.8 276.1,299.8 276.2,299.8 276.4,299.8 276.5,299.8 276.7,299.8 276.8,299.8 276.9,299.8 277.1,299.8 277.2,299.8 277.4,299.8 277.5,299.8 277.6,299.7 277.8,299.7 277.9,299.7 278.1,299.7 278.2,299.7 278.4,299.7 278.5,299.7 278.6,299.7 278.8,299.8 278.9,299.8 279.1,299.7 279.2,299.7 279.3,299.7 279.5,299.7 279.6,299.7 279.8,299.7 279.9,299.7 280.1,299.7 280.2,299.7 280.3,299.7 280.5,299.7 280.6,299.7 280.8,299.7 280.9,299.7 281,299.7 281.2,299.7 281.3,299.7 281.4,299.7 281.6,299.7 281.7,299.7 281.9,299.7 282,299.7 282.2,299.7 282.3,299.7 282.4,299.7 282.6,299.7 282.7,299.7 282.9,299.7 283,299.7 283.1,299.7 283.3,299.7 283.4,299.7 283.6,299.7 283.7,299.7 283.9,299.7 284,299.7 284.1,299.7 284.3,299.7 284.4,299.7 284.6,299.7 284.7,299.7 284.8,299.7 285,299.7 285.1,299.7 285.2,299.7 285.4,299.7 285.5,299.7 285.7,299.7 285.8,299.7 286,299.7 286.1,299.7 286.2,299.7 286.4,299.7 286.5,299.7 286.7,299.7 286.8,299.7 286.9,299.7 287.1,299.7 287.2,299.7 287.4,299.7 287.5,299.7 287.6,299.7 287.8,299.7 287.9,299.7 288.1,299.7 288.2,299.7 288.4,299.7 288.5,299.7 288.6,299.7 288.8,299.7 288.9,299.6 289.1,299.6 289.2,299.6 289.3,299.6 289.5,299.6 289.6,299.6 289.8,299.6 289.9,299.6 290,299.6 290.2,299.6 290.3,299.6 290.5,299.5 290.6,299.5 290.7,299.5 290.9,299.5 291,299.5 291.2,299.5 291.3,299.5 291.4,299.5 291.6,299.5 291.7,299.5 291.9,299.5 292,299.5 292.1,299.5 292.3,299.5 292.4,299.5 292.6,299.6 292.7,299.6 292.9,299.6 293,299.6 293.1,299.6 293.3,299.6 293.4,299.6 293.6,299.6 293.7,299.6 293.8,299.6 294,299.6 294.1,299.6 294.3,299.6 294.4,299.6 294.5,299.6 294.7,299.6 294.8,299.6 295,299.6 295.1,299.6 295.2,299.6 295.4,299.6 295.5,299.6 295.7,299.6 295.8,299.6 295.9,299.6 296.1,299.6 296.2,299.6 296.4,299.6 296.5,299.6 296.6,299.6 296.8,299.6 296.9,299.6 297.1,299.6 297.2,299.6 297.4,299.6 297.5,299.6 297.6,299.6 297.8,299.6 297.9,299.6 298.1,299.6 298.2,299.5 298.3,299.5 298.5,299.5 298.6,299.5 298.8,299.5 298.9,299.5 299,299.5 299.2,299.5 299.3,299.5 299.5,299.5 299.6,299.5 299.7,299.5 299.9,299.5 300,299.5 300.2,299.5 300.3,299.5 300.4,299.5 300.6,299.5 300.7,299.4 300.9,299.4 301,299.4 301.1,299.4 301.3,299.4 301.4,299.4 301.6,299.4 301.7,299.3 301.9,299.3 302,299.3 302.1,299.3 302.3,299.3 302.4,299.3 302.6,299.4 302.7,299.5 302.8,299.5 303,299.4 303.1,299.4 303.3,299.4 303.4,299.4 303.5,299.4 303.7,299.4 303.8,299.4 304,299.4 304.1,299.3 304.2,299.3 304.4,299.3 304.5,299.3 304.7,299.3 304.8,299.3 304.9,299.3 305.1,299.2 305.2,299.2 305.4,299.2 305.5,299.2 305.6,299.2 305.8,299.3 305.9,299.3 306.1,299.3 306.2,299.3 306.4,299.3 306.5,299.3 306.6,299.3 306.8,299.4 306.9,299.4 307.1,299.3 307.2,299.3 307.3,299.3 307.5,299.3 307.6,299.3 307.8,299.3 307.9,299.2 308,299.2 308.2,299.2 308.3,299.2 308.5,299.1 308.6,299.1 308.8,299.1 308.9,299.1 309,299 309.2,299 309.3,298.9 309.4,298.8 309.6,298.8 309.7,298.7 309.9,298.7 310,298.5 310.1,298.5 310.3,298.5 310.4,298.4 310.6,298.4 310.7,298.3 310.9,298.3 311,298.2 311.1,298.2 311.3,298.1 311.4,298.1 311.6,298.2 311.7,298.3 311.8,298.2 312,298.4 312.1,298.4 312.3,298.4 312.4,298.5 312.6,298.5 312.7,298.6 312.8,298.6 313,298.7 313.1,298.7 313.2,298.7 313.4,298.6 313.5,298.5 313.7,298.5 313.8,298.4 313.9,298.3 314.1,298.3 314.2,298.1 314.4,298 314.5,297.9 314.7,297.8 314.8,297.7 314.9,297.7 315.1,297.5 315.2,297.4 315.4,297.3 315.5,297.2 315.6,297 315.8,297 315.9,297 316.1,297.2 316.2,297.5 316.3,297.6 316.5,297.8 316.6,297.9 316.8,297.8 316.9,297.7 317.1,297.6 317.2,297.5 317.3,297.4 317.5,297.3 317.6,297.1 317.8,297 317.9,297 318,296.8 318.2,296.7 318.3,296.5 318.4,296.4 318.6,296.4 318.7,296.2 318.9,296 319,296 319.2,295.9 319.3,295.9 319.4,296 319.6,296 319.7,296 319.9,296.2 320,295.9 320.1,295.4 320.3,295.2 320.4,294.8 320.6,294.3 320.7,293.9 320.9,293.6 321,293.1 321.1,292.1 321.3,291.3 321.4,290.7 321.6,289.7 321.7,289 321.8,288 322,289.3 322.1,291 322.2,291.1 322.4,290.6 322.5,290.2 322.6,290.1 322.8,289.5 322.9,289.4 323.1,290 323.2,290.8 323.3,291.6 323.5,292.8 323.6,292.9 323.7,292.8 323.9,292.9 324,292.7 324.1,292.7 324.3,293.6 324.4,294.6 324.6,295.6 324.7,295.3 324.8,294.8 324.9,294.5 325.1,293.9 325.2,293.5 325.4,293.1 325.5,292.9 325.6,293.1 325.8,293 325.9,292.8 326,292.7 326.2,293 326.3,293.1 326.4,293.5 326.6,293.6 326.7,293.7 326.9,294.2 327,294.2 327.1,294.7 327.3,294.8 327.4,295.1 327.5,295.3 327.7,295.6 327.8,295.9 327.9,295.7 328.1,295.5 328.2,295.3 328.4,295 328.5,295 328.6,294.8 328.8,294.6 328.9,294.5 329,294.2 329.2,294.3 329.3,294 329.4,294.2 329.6,293.9 329.7,294.1 329.8,294.1 330,294.1 330.1,294.4 330.2,294.6 330.4,294.7 330.5,294.8 330.7,294.9 330.8,294.9 330.9,295.1 331.1,295.2 331.2,295.3 331.3,295.4 331.5,295.5 331.6,295.7 331.8,295.7 331.9,295.9 332,296 332.1,296 332.3,296.2 332.4,296.3 332.6,296.1 332.7,296 332.8,295.9 333,295.6 333.1,295.5 333.2,295.4 333.4,295.3 333.5,295.2 333.6,295.1 333.8,294.8 333.9,295 334.1,295.2 334.2,295.3 334.3,295.4 334.5,295.6 334.6,295.8 334.7,295.9 334.9,296.2 335,296.1 335.1,296 335.3,296 335.4,296.1 335.6,296 335.7,295.9 335.8,296 336,296 336.1,295.9 336.2,296 336.4,295.9 336.5,296 336.6,295.9 336.8,295.9 336.9,295.9 337,295.8 337.2,295.7 337.3,295.9 337.4,295.9 337.6,295.8 337.7,296 337.9,295.9 338,295.9 338.1,296 338.3,296 338.4,296.1 338.5,296 338.7,296.2 338.8,296.2 338.9,296.2 339.1,296.2 339.2,296.2 339.4,296.3 339.5,296.3 339.6,296.3 339.8,296.3 339.9,296.4 340,296.7 340.2,296.9 340.3,297.2 340.4,297.5 340.6,297.5 340.7,297.6 340.9,297.8 341,297.8 341.1,297.8 341.2,297.8 341.4,297.9 341.5,298 341.7,298 341.8,297.9 341.9,297.8 342.1,297.8 342.2,297.7 342.3,297.7 342.5,297.7 342.6,297.6 342.8,297.6 342.9,297.6 343,297.7 343.1,297.7 343.3,297.7 343.4,297.7 343.6,297.7 343.7,297.7 343.8,297.7 344,297.7 344.1,297.7 344.2,297.8 344.4,297.8 344.5,297.8 344.6,297.7 344.8,297.7 344.9,297.7 345.1,297.7 345.2,297.7 345.3,297.6 345.5,297.6 345.6,297.7 345.7,297.6 345.9,297.5 346,297.6 346.1,297.5 346.3,297.5 346.4,297.5 346.6,297.5 346.7,297.4 346.8,297.5 347,297.4 347.1,297.4 347.2,297.4 347.4,297.4 347.5,297.2 347.6,297 347.8,296.9 347.9,296.8 348,296.7 348.2,296.6 348.3,296.4 348.4,296.2 348.6,296.1 348.7,296 348.9,295.9 349,295.6 349.1,295.6 349.3,295.5 349.4,295.2 349.5,295.2 349.7,295.1 349.8,294.9 349.9,294.7 350.1,294.5 350.2,294.3 350.4,294.3 350.5,293.9 350.6,293.8 350.8,293.7 350.9,293.4 351,293.3 351.2,293.1 351.3,292.8 351.4,292.6 351.6,292.6 351.7,292.3 351.9,292.3 352,291.8 352.1,292.1 352.2,292.2 352.4,292.7 352.5,292.8 352.7,292.9 352.8,293.6 352.9,293.7 353.1,293.9 353.2,294 353.3,293.9 353.5,293.5 353.6,293.5 353.7,293.5 353.9,293 354,293.1 354.1,292.6 354.3,292.6 354.4,292.6 354.6,292.6 354.7,292.9 354.8,293.1 354.9,293.3 355.1,293.1 355.2,293.2 355.4,293.5 355.5,293.4 355.6,293.6 355.8,293.7 355.9,294.1 356,294 356.2,294 356.3,294.1 356.4,294.2 356.6,294.6 356.7,294.5 356.8,294.6 357,294.5 357.1,294.8 357.2,294.7 357.4,294.6 357.5,294.5 357.6,294.5 357.8,294.4 357.9,294.5 358,294.3 358.2,294.4 358.3,294.3 358.5,294.3 358.6,294.3 358.7,294.1 358.9,294.3 359,294.4 359.1,294.4 359.3,294.5 359.4,294.7 359.5,294.7 359.7,294.7 359.8,294.8 359.9,295 360.1,295.2 360.2,295 360.4,295.2 360.5,295.3 360.6,295.4 360.8,295.4 360.9,295.5 361,295.7 361.1,295.7 361.3,295.8 361.4,295.9 361.6,295.9 361.7,295.7 361.8,295.8 362,295.6 362.1,295.6 362.2,295.5 362.4,295.3 362.5,295.3 362.6,295.2 362.8,295 362.9,294.9 363,294.9 363.2,294.7 363.3,294.6 363.4,294.5 363.6,294.3 363.7,294.2 363.9,294 364,293.9 364.1,293.8 364.3,293.8 364.4,293.7 364.5,293.6 364.7,293.9 364.8,294.2 364.9,294.6 365.1,294.7 365.2,295 365.3,295.4 365.5,295.6 365.6,295.8 365.7,296.2 365.9,296.4 366,296.9 366.1,296.9 366.3,296.8 366.4,296.5 366.6,296.3 366.7,296.5 366.9,296.2 367,296.1 367.1,296 367.3,295.8 367.4,295.9 367.5,295.5 367.7,295.5 367.8,295.4 368,295.3 368.1,295.1 368.2,295 368.4,294.8 368.5,294.8 368.7,294.8 368.8,294.5 368.9,294.4 369.1,294.3 369.2,294.4 369.4,294.2 369.5,294.1 369.6,294.1 369.8,293.9 369.9,293.8 370.1,294 370.2,294 370.3,293.7 370.5,293.5 370.6,293.5 370.8,293.5 370.9,293.6 371,293.6 371.2,293.4 371.3,293.6 371.5,293.6 371.6,293.5 371.7,293.2 371.9,293.2 372,293.4 372.2,293.4 372.3,293.3 372.4,293.4 372.6,293.2 372.7,293.3 372.9,293.4 373,293.1 373.1,293.3 373.3,293.2 373.4,293.2 373.6,293.2 373.7,293.1 373.8,293.1 374,293.1 374.1,293.1 374.3,292.9 374.4,292.7 374.5,292.5 374.7,292.4 374.8,292.3 375,292.4 375.1,292.6 375.2,292.8 375.4,293.1 375.5,293 375.7,293.1 375.8,293.3 375.9,293.5 376.1,293.7 376.2,293.6 376.4,293.6 376.5,293.4 376.6,293.3 376.8,293.2 376.9,293 377.1,293.1 377.2,293 377.3,292.9 377.5,292.8 377.6,292.5 377.8,292.3 377.9,292.4 378,292.3 378.2,292.1 378.3,292 378.5,291.9 378.6,292 378.7,291.6 378.9,291.2 379,290.8 379.2,290.7 379.3,290.5 379.4,290.2 379.6,289.9 379.7,289.7 379.9,289 380,289.1 380.1,288.7 380.3,288 380.4,287.9 380.6,287.8 380.7,287.7 380.8,287.2 381,286.7 381.1,286.7 381.3,286.3 381.4,286.2 381.5,285.9 381.7,285.7 381.8,285 382,284.1 382.1,284.1 382.2,283.1 382.4,282.4 382.5,281.6 382.7,279.2 382.8,276.6 382.9,273.8 383.1,275.4 383.3,276.7 383.5,278.4 383.7,278.4 383.9,280.1 384.1,280.2 384.3,279.2 384.5,277.5 384.7,276.6 384.9,274.8 385.1,273.3 385.3,272.1 385.5,270.6 385.7,269.8 385.9,267.3 386.1,267 386.3,266.2 386.4,265.4 386.6,267.6 386.7,269.7 386.9,269.4 387,267.6 387.1,266.9 387.3,265 387.4,262.7 387.6,262.5 387.7,263.8 387.9,264.4 388,265.3 388.1,266.1 388.3,265.6 388.4,265.3 388.6,265.8 388.7,263.9 388.9,263.7 389,262.2 389.1,262.2 389.3,261.1 389.5,261.4 389.6,264.7 389.8,266.1 390,267.7 390.2,269.2 390.4,268.3 390.5,266.6 390.7,266.4 390.9,266.4 391.1,265.5 391.2,266.1 391.4,269.9 391.6,272.8 391.8,275.7 391.9,277.1 392.1,277.7 392.2,277.6 392.4,277.6 392.5,277.2 392.7,276.2 392.8,276 393,276.2 393.1,275.6 393.2,275.3 393.4,275 393.5,276.5 393.7,278.4 393.8,279.9 394,280.3 394.1,279.7 394.3,280 394.4,280.7 394.6,280.1 394.7,280.4 394.9,281.3 395,280.4 395.1,280.8 395.3,280.6 395.4,281.7 395.6,279.8 395.7,277.9 395.8,276.4 395.9,275.3 396,274.5 396.1,275.8" fill="none" stroke="#000" stroke-width="1.25" stroke-linejoin="round"/>
<polyline clip-path="url(#c8)" points="226.7,295.8 227,296.4 227.3,296.3 227.6,296.1 227.9,296.6 228.2,296.5 228.5,296.3 228.8,296.7 229,296.6 229.4,296.8 229.7,296.5 230,296.2 230.4,296.7 230.7,296.8 231.1,296.9 231.3,296.9 231.6,297.1 231.9,297 232.2,297.1 232.5,297.4 232.8,297.5 233.1,297.3 233.4,297.1 233.7,296.6 234,296 234.4,295.1 234.7,295.1 235,294.7 235.4,294.1 235.7,294.6 236,295 236.2,294.7 236.5,295 236.8,295.1 237.1,295.2 237.4,295.8 237.7,295.4 238,294.7 238.4,295.3 238.7,294.5 239,293.6 239.4,293.7 239.7,294 240,294.1 240.3,293.6 240.6,293.8 240.9,293.9 241.2,294 241.4,293.5 241.7,293.4 242,292.8 242.4,292.7 242.7,292.6 243,292.4 243.4,291.7 243.7,291.8 244,291.6 244.3,291.8 244.6,291.8 244.9,291.7 245.2,291.5 245.5,291.9 245.8,291.4 246.1,290.9 246.3,291.3 246.7,290.4 247,290.3 247.4,290.3 247.7,290.5 248,290.1 248.4,289.9 248.7,290.1 248.9,289.1 249.2,289.6 249.5,289.8 249.8,289.4 250.1,289.3 250.4,289.4 250.7,289.3 251,289.3 251.3,289.4 251.7,288.7 252,288.7 252.4,288.7 252.7,288.4 253,288 253.3,288.1 253.6,287.9 253.8,288 254.1,289 254.4,288.9 254.7,288.4 255,288.2 255.3,287.9 255.7,288 256,287.8 256.3,287.3 256.7,287.1 257,286.6 257.3,286.2 257.6,286.6 257.9,286 258.2,286.1 258.5,286.1 258.8,285.9 259,285.4 259.3,284.9 259.6,284.2 259.9,284.1 260.2,283.7 260.5,283.6 260.8,284.1 261.1,283.2 261.4,283.6 261.8,284 262.1,283.5 262.5,283.4 262.8,283.6 263.1,283.9 263.4,283.9 263.7,283.7 263.9,283.4 264.3,282.7 264.7,282.8 265,283.2 265.4,283.6 265.7,284.3 266.1,285.4 266.4,285.6 266.8,285.6 267.1,285.8 267.4,286.1 267.7,286.4 268,286.7 268.3,287 268.7,286.7 269,287 269.3,287.1 269.7,286.8 270,287.1 270.3,286.5 270.6,286.2 270.9,285.9 271.1,285.7 271.4,285.3 271.7,285.1 272,285.2 272.3,284.6 272.6,284.9 273,285.3 273.3,285 273.7,285.6 274,285.1 274.3,284.8 274.6,285 274.9,285.3 275.2,285.5 275.5,284.7 275.8,284 276.1,283.3 276.3,283.1 276.6,283.5 277,284.1 277.3,284.2 277.6,285 278,284.4 278.3,284.5 278.6,284.1 278.9,284.4 279.2,283.9 279.5,283.9 279.8,283.7 280.1,283.7 280.4,284.1 280.7,283.7 281,283.2 281.3,282.7 281.6,282.5 282,282.5 282.3,282 282.6,281.7 283,281.6 283,281.6 283.3,281.6 283.6,281.5 283.9,281.3 284.1,281 284.5,280.7 284.8,280.1 285.2,279.5 285.5,279.4 285.8,279 286.2,279.1 286.5,278.4 286.8,278.7 287,278.4 287.3,278.8 287.6,278.2 287.9,278.3 288.2,278.2 288.5,278.4 288.8,278.1 289.2,277.8 289.5,278.1 289.8,277.2 290.2,277.3 290.5,277.2 290.8,276.6 291.1,276.6 291.4,276.3 291.6,275.7 291.9,275.3 292.2,275.5 292.5,275.9 292.8,275.4 293.1,276.1 293.5,276 293.8,276 294.2,276.2 294.5,275.2 294.8,275.2 295.1,275.1 295.4,275.1 295.7,275.7 296,275.7 296.3,275.9 296.6,276.4 296.8,276.7 297.1,276.7 297.5,277.4 297.8,277.3 298.1,277.6 298.5,277.7 298.8,277.7 299.1,278 299.4,278.3 299.7,278.1 300,278.4 300.3,278.6 300.6,278.8 300.9,278.9 301.2,278.8 301.5,278.8 301.8,279.5 302.1,279.4 302.5,279.5 302.8,279.8 303.1,279.7 303.5,279.7 303.8,279.3 304.1,279.5 304.3,279.5 304.6,279.5 304.9,279.2 305.2,279.6 305.5,279.7 305.8,279.1 306.1,278.4 306.5,278.2 306.8,278.4 307.1,278.7 307.5,279.2 307.8,278.6 308.1,278.5 308.4,278 308.7,278.3 309,278.3 309.2,277.9 309.5,278 309.8,278.1 310.1,277.5 310.5,277.9 310.8,277.8 311.1,277.6 311.5,277.5 311.8,277.4 312.1,277.8 312.4,278.2 312.7,277.4 313,277.1 313.3,277.1 313.6,277.4 313.9,277.2 314.2,277.2 314.4,276.5 314.8,276.6 315.1,276.8 315.4,277 315.8,276.8 316.1,276.7 316.5,276.5 316.8,276.8 317,276.7 317.3,276.2 317.6,276.2 317.9,276.2 318.2,276.4 318.5,276.4 318.8,276 319.1,276.1 319.4,276.1 319.8,276.3 320.1,275.8 320.5,275.4 320.8,275.3 321.1,275.2 321.4,275 321.7,275.6 321.9,275.7 322.2,275.2 322.5,275.3 322.8,275.1 323.1,275.6 323.4,275.1 323.8,275.1 324.1,275.4 324.4,275.9 324.8,275.5 325.1,274.9 325.4,274.7 325.7,274.7 326,275.2 326.3,275.2 326.6,274.9 326.8,274.7 327.1,274.7 327.4,274.6 327.8,274.2 328.1,274.4 328.4,274.1 328.8,274.4 329.1,274 329.4,274.3 329.7,274.4 330,273.6 330.3,273.7 330.6,274 330.9,273.6 331.2,273.7 331.5,273.7 331.8,273.4 332.1,273.3 332.4,273 332.8,273.1 333.1,273 333.4,273.3 333.8,273.6 334.1,273.2 334.3,273.3 334.6,273.4 334.9,272.9 335.2,273.2 335.5,273.4 335.8,274.5 336.1,273.9 336.4,273.9 336.8,274.2 337.1,274 337.4,273 337.8,272.8 338.1,272.3 338.4,272.7 338.7,272.9 339,272.5 339.2,272.7 339.6,272.9 340,273.8 340.3,272.6 340.6,272.4 340.9,272.1 341.1,271.8 341.5,271.2 341.8,271 342.2,271 342.5,270.1 342.8,269.7 343.2,270 343.5,270.2 343.8,270 344,268.8 344.3,269.1 344.6,269.1 344.9,268.9 345.2,268.4 345.5,268.4 345.8,268.5 346.2,267.8 346.5,267.7 346.8,267.5 347.2,267.6 347.5,267.2 347.8,266.6 348.1,266.1 348.4,266 348.6,266.1 348.9,265.8 349.2,266 349.5,265.4 349.8,265 350.1,264.7 350.5,264.2 350.8,264.2 351.2,263.9 351.5,264 351.8,263.6 352.1,263.4 352.4,263.2 352.7,262.9 353,262.5 353.3,261.3 353.6,261 353.8,260.8 354.1,260.7 354.5,260.1 354.8,259.4 355.1,259.1 355.5,258.8 355.9,258.1 356.2,258 356.4,257.9 356.7,258.4 357,258.8 357.4,259.5 357.7,259.4 358,259.6 358.4,259.5 358.7,259.8 359,260 359.3,260.1 359.6,260.1 359.9,260.3 360.2,260.4 360.5,260.6 360.8,261.4 361.1,261.3 361.4,260.9 361.7,260.4 362,260.2 362.4,259.5 362.7,260.2 363,259.7 363.4,259.1 363.7,258.4 363.9,258.8 364.2,258.4 364.5,258.4 364.9,258 365.2,257.1 365.6,256.1 366,256 366.4,258.3 366.7,261.1 367,264.2 367.4,261.8 367.8,260.7 368.1,259.5 368.5,259.2 368.8,258.9 369.1,258.8 369.4,259.4 369.7,259.2 370,258.5 370.3,259 370.6,258.6 370.9,258.6 371.2,258.2 371.4,258.1 371.8,257.3 372.1,257.5 372.4,257.6 372.8,257.3 373.1,256.9 373.5,257 373.8,256.6 374,256.3 374.3,256.6 374.6,256.6 374.9,255.4 375.2,255.6 375.5,256 375.8,255.7 376.1,255.7 376.4,255.5 376.8,255.1 377.1,255.3 377.5,255.2 377.8,255.1 378.1,255 378.4,255 378.7,255.1 378.9,255.2 379.2,255.3 379.5,255.3 379.8,254.5 380.1,254.6 380.4,253.9 380.8,253.7 381.1,253.9 381.4,253.5 381.8,253.3 382.1,253.5 382.4,253.9 382.7,253.5 383,253.7 383.3,253.7 383.6,253.8 383.8,254 384.1,253.6 384.4,254 384.8,254.2 385.1,254.1 385.4,254.6 385.8,255.3 386.1,256 386.5,256.5 386.9,257.3 387.2,257.1 387.5,257.3 387.9,257 388.2,256.9 388.5,256.8 388.8,256.5 389,255.8 389.3,256 389.6,256.9 389.9,257.5 390.2,257.1 390.5,257.4 390.9,257.3 391.2,257.9 391.5,257.2 391.9,256.9 392.2,256.7 392.5,256.8 392.8,257.1 393.1,256.7 393.4,256.3 393.7,255.8 393.9,256.2 394.2,256 394.5,255.9 394.9,255.9 395.2,255.6 395.5,255.7 395.9,255.5 396.2,255.5 396.5,254.8 396.8,255.3" fill="none" stroke="#7a7a7a" stroke-width="1.25" stroke-linejoin="round"/>
<line x1="225.4" y1="250.3" x2="226.6" y2="250.3" stroke="#8c8c8c" stroke-width="0.8"/>
<text x="224.3" y="250.6" font-size="4.7" text-anchor="end">60</text>
<line x1="225.4" y1="260.74" x2="226.6" y2="260.74" stroke="#8c8c8c" stroke-width="0.8"/>
<text x="224.3" y="261.04" font-size="4.7" text-anchor="end">56</text>
<line x1="225.4" y1="271.18" x2="226.6" y2="271.18" stroke="#8c8c8c" stroke-width="0.8"/>
<text x="224.3" y="271.48" font-size="4.7" text-anchor="end">52</text>
<line x1="225.4" y1="281.62" x2="226.6" y2="281.62" stroke="#8c8c8c" stroke-width="0.8"/>
<text x="224.3" y="281.92" font-size="4.7" text-anchor="end">48</text>
<line x1="225.4" y1="292.06" x2="226.6" y2="292.06" stroke="#8c8c8c" stroke-width="0.8"/>
<text x="224.3" y="292.36" font-size="4.7" text-anchor="end">44</text>
<line x1="396.5" y1="299.95" x2="397.5" y2="299.95" stroke="#8c8c8c" stroke-width="0.8"/>
<text x="398.5" y="300.7" font-size="4.7">0</text>
<line x1="396.5" y1="293.7" x2="397.5" y2="293.7" stroke="#8c8c8c" stroke-width="0.8"/>
<line x1="396.5" y1="287.45" x2="397.5" y2="287.45" stroke="#8c8c8c" stroke-width="0.8"/>
<text x="398.5" y="288.2" font-size="4.7">20,000</text>
<line x1="396.5" y1="281.2" x2="397.5" y2="281.2" stroke="#8c8c8c" stroke-width="0.8"/>
<line x1="396.5" y1="274.95" x2="397.5" y2="274.95" stroke="#8c8c8c" stroke-width="0.8"/>
<text x="398.5" y="275.7" font-size="4.7">40,000</text>
<line x1="396.5" y1="268.7" x2="397.5" y2="268.7" stroke="#8c8c8c" stroke-width="0.8"/>
<line x1="396.5" y1="262.45" x2="397.5" y2="262.45" stroke="#8c8c8c" stroke-width="0.8"/>
<text x="398.5" y="263.2" font-size="4.7">60,000</text>
<line x1="396.5" y1="256.2" x2="397.5" y2="256.2" stroke="#8c8c8c" stroke-width="0.8"/>
<line x1="396.5" y1="249.95" x2="397.5" y2="249.95" stroke="#8c8c8c" stroke-width="0.8"/>
<text x="398.5" y="250.7" font-size="4.7">80,000</text>
<line x1="239" y1="299.95" x2="239" y2="301.55" stroke="#8c8c8c" stroke-width="0.8"/>
<line x1="259.65" y1="299.95" x2="259.65" y2="301.55" stroke="#8c8c8c" stroke-width="0.8"/>
<line x1="280.3" y1="299.95" x2="280.3" y2="301.55" stroke="#8c8c8c" stroke-width="0.8"/>
<line x1="300.95" y1="299.95" x2="300.95" y2="301.55" stroke="#8c8c8c" stroke-width="0.8"/>
<line x1="321.6" y1="299.95" x2="321.6" y2="301.55" stroke="#8c8c8c" stroke-width="0.8"/>
<line x1="342.25" y1="299.95" x2="342.25" y2="301.55" stroke="#8c8c8c" stroke-width="0.8"/>
<line x1="362.9" y1="299.95" x2="362.9" y2="301.55" stroke="#8c8c8c" stroke-width="0.8"/>
<line x1="383.55" y1="299.95" x2="383.55" y2="301.55" stroke="#8c8c8c" stroke-width="0.8"/>
<text x="229.7" y="306.1" font-size="4.7" text-anchor="middle">2013</text>
<text x="248.7" y="306.1" font-size="4.7" text-anchor="middle">2014</text>
<text x="269.2" y="306.1" font-size="4.7" text-anchor="middle">2015</text>
<text x="290" y="306.1" font-size="4.7" text-anchor="middle">2016</text>
<text x="310.6" y="306.1" font-size="4.7" text-anchor="middle">2017</text>
<text x="331.25" y="306.1" font-size="4.7" text-anchor="middle">2018</text>
<text x="351.9" y="306.1" font-size="4.7" text-anchor="middle">2019</text>
<text x="372.8" y="306.1" font-size="4.7" text-anchor="middle">2020</text>
<text x="391.9" y="306.1" font-size="4.7" text-anchor="middle">2021</text>
<text x="312.95" y="249.85" font-size="5.2" text-anchor="middle">(8) Non-US bond index Vs. Bitcoin</text>
<clipPath id="c9"><rect x="17.2" y="323.9" width="169.6" height="56.3"/></clipPath>
<rect x="17.2" y="323.9" width="169.6" height="56.3" fill="none" stroke="#8c8c8c" stroke-width="1.3"/>
<polyline points="17.2,380.1 17.3,380.1 17.5,380.1 17.6,380.1 17.8,380.1 17.9,380.1 18,380.1 18.2,380.1 18.3,380.1 18.4,380.1 18.6,380.1 18.7,380.1 18.9,380.1 19,380.1 19.1,380.1 19.3,380.1 19.4,380.1 19.6,380.1 19.7,380.1 19.9,380.1 20,380.1 20.1,380.1 20.3,380.1 20.4,380.1 20.6,380.1 20.7,380.1 20.8,380.1 21,380.1 21.1,380.2 21.3,380.1 21.4,380.1 21.5,380.1 21.7,380.1 21.8,380.1 22,380.1 22.1,380.1 22.2,380.1 22.4,380.1 22.5,380.1 22.7,380.1 22.8,380.1 22.9,380.1 23.1,380.1 23.2,380.1 23.4,380.1 23.5,380.1 23.7,380.1 23.8,380.1 23.9,380.1 24.1,380.1 24.2,380.1 24.4,380.1 24.5,380.1 24.6,380.1 24.8,380.1 24.9,380.1 25.1,380.1 25.2,380.1 25.3,380.1 25.5,380.1 25.6,380.1 25.8,380.1 25.9,380.1 26,380.1 26.2,380.1 26.3,380.1 26.5,380.1 26.6,380.1 26.8,380.1 26.9,380.1 27,380.1 27.2,380.1 27.3,380.1 27.4,380.1 27.6,380.1 27.7,380 27.9,380 28,380 28.2,380 28.3,380 28.4,379.9 28.6,379.9 28.7,379.8 28.9,379.8 29,379.7 29.1,379.6 29.3,379.5 29.4,379.5 29.6,379.5 29.7,379.6 29.9,379.7 30,379.7 30.1,379.8 30.3,379.8 30.4,379.9 30.5,379.8 30.7,379.8 30.8,379.8 31,379.7 31.1,379.7 31.2,379.6 31.4,379.6 31.5,379.6 31.7,379.6 31.8,379.7 32,379.7 32.1,379.7 32.2,379.7 32.4,379.7 32.5,379.7 32.7,379.7 32.8,379.7 32.9,379.8 33.1,379.8 33.2,379.8 33.4,379.8 33.5,379.8 33.6,379.8 33.8,379.8 33.9,379.8 34.1,379.9 34.2,379.9 34.3,379.8 34.5,379.8 34.6,379.8 34.8,379.8 34.9,379.8 35,379.8 35.2,379.8 35.3,379.8 35.5,379.9 35.6,379.9 35.8,379.9 35.9,379.9 36,379.9 36.2,379.9 36.3,379.9 36.5,379.9 36.6,380 36.7,380 36.9,379.9 37,379.9 37.2,379.9 37.3,379.9 37.4,379.9 37.6,379.9 37.7,379.9 37.9,379.9 38,379.9 38.1,379.9 38.3,379.9 38.4,379.9 38.6,379.9 38.7,379.9 38.8,379.9 39,379.9 39.1,379.9 39.3,379.8 39.4,379.8 39.5,379.8 39.7,379.8 39.8,379.8 40,379.8 40.1,379.8 40.3,379.8 40.4,379.8 40.5,379.8 40.7,379.8 40.8,379.8 41,379.8 41.1,379.8 41.2,379.8 41.4,379.8 41.5,379.8 41.7,379.8 41.8,379.8 42,379.8 42.1,379.8 42.2,379.8 42.4,379.8 42.5,379.8 42.6,379.8 42.8,379.8 42.9,379.8 43.1,379.8 43.2,379.9 43.3,379.9 43.5,379.9 43.6,379.9 43.8,379.9 43.9,379.9 44.1,379.9 44.2,379.9 44.3,379.9 44.5,379.9 44.6,379.9 44.8,379.9 44.9,379.9 45,379.9 45.2,379.9 45.3,379.9 45.5,379.9 45.6,379.9 45.7,379.9 45.9,379.9 46,380 46.2,380 46.3,380 46.5,380 46.6,380 46.7,380 46.9,380 47,380 47.1,380 47.3,380 47.4,380 47.6,379.9 47.7,379.9 47.8,379.9 48,379.9 48.1,379.9 48.3,379.9 48.4,379.9 48.6,379.9 48.7,379.9 48.8,379.9 49,379.9 49.1,379.9 49.3,379.9 49.4,379.9 49.5,380 49.7,380 49.8,380 50,380 50.1,380 50.2,380 50.4,380 50.5,380 50.7,380 50.8,380 51,380 51.1,380 51.2,380 51.4,380 51.5,380 51.7,380 51.8,380 51.9,380 52.1,380.1 52.2,380.1 52.4,380.1 52.5,380.1 52.6,380.1 52.8,380.1 52.9,380.1 53.1,380.1 53.2,380.1 53.3,380.1 53.5,380.1 53.6,380.1 53.8,380.1 53.9,380.1 54,380.1 54.2,380 54.3,380.1 54.5,380 54.6,380 54.8,380 54.9,380 55,380 55.2,380 55.3,380 55.5,380 55.6,380 55.7,380 55.9,380 56,380 56.2,380 56.3,380 56.4,380 56.6,380.1 56.7,380 56.9,380.1 57,380.1 57.1,380.1 57.3,380.1 57.4,380.1 57.6,380.1 57.7,380.1 57.8,380.1 58,380.1 58.1,380.1 58.3,380.1 58.4,380.1 58.5,380.1 58.7,380.1 58.8,380.1 59,380.1 59.1,380.1 59.2,380.1 59.4,380.1 59.5,380.1 59.7,380.1 59.8,380.1 60,380.1 60.1,380.1 60.2,380.1 60.4,380.1 60.5,380.1 60.7,380 60.8,380 60.9,380 61.1,380 61.2,380 61.4,380 61.5,380 61.6,380 61.8,380 61.9,380 62.1,380 62.2,380 62.3,380 62.5,380 62.6,380 62.8,380 62.9,380 63,380 63.2,380 63.3,380 63.5,380 63.6,380 63.8,380 63.9,380 64,380.1 64.2,380.1 64.3,380.1 64.5,380.1 64.6,380.1 64.7,380.1 64.9,380.1 65,380.1 65.2,380.1 65.3,380.1 65.4,380.1 65.6,380.1 65.7,380.1 65.9,380.1 66,380.1 66.1,380.1 66.3,380.1 66.4,380.1 66.6,380.1 66.7,380.1 66.8,380.1 67,380.1 67.1,380 67.3,380 67.4,380 67.5,380 67.7,380 67.8,380 68,380 68.1,380 68.2,380 68.4,380 68.5,380 68.7,380 68.8,380 69,379.9 69.1,380 69.2,380 69.4,380 69.5,380 69.7,380 69.8,380 69.9,380 70.1,380 70.2,380 70.4,380 70.5,380 70.7,379.9 70.8,379.9 70.9,379.9 71.1,379.9 71.2,379.9 71.3,379.9 71.5,379.9 71.6,379.9 71.8,379.9 71.9,379.9 72,379.9 72.2,379.9 72.3,379.9 72.5,379.9 72.6,379.9 72.8,380 72.9,380 73,380 73.2,380 73.3,380 73.5,379.9 73.6,379.9 73.7,379.9 73.9,379.9 74,379.9 74.2,379.9 74.3,379.9 74.5,379.9 74.6,379.9 74.7,379.9 74.9,379.9 75,379.9 75.2,379.9 75.3,379.9 75.4,379.9 75.6,379.9 75.7,379.9 75.8,379.9 76,379.9 76.1,379.9 76.3,379.9 76.4,379.9 76.6,379.9 76.7,379.9 76.8,379.9 77,379.9 77.1,379.9 77.3,379.9 77.4,379.9 77.5,379.9 77.7,379.9 77.8,379.9 78,379.9 78.1,379.9 78.2,379.9 78.4,379.9 78.5,379.9 78.7,379.9 78.8,379.9 79,379.9 79.1,379.9 79.2,379.9 79.4,379.9 79.5,379.9 79.7,379.9 79.8,379.9 79.9,379.9 80.1,379.8 80.2,379.8 80.3,379.8 80.5,379.8 80.6,379.8 80.8,379.8 80.9,379.8 81.1,379.8 81.2,379.8 81.3,379.8 81.5,379.8 81.6,379.7 81.8,379.8 81.9,379.8 82,379.8 82.2,379.8 82.3,379.8 82.5,379.8 82.6,379.8 82.8,379.8 82.9,379.8 83,379.8 83.2,379.8 83.3,379.8 83.5,379.8 83.6,379.8 83.7,379.8 83.9,379.8 84,379.8 84.2,379.8 84.3,379.9 84.4,379.9 84.6,379.8 84.7,379.8 84.9,379.8 85,379.8 85.1,379.8 85.3,379.8 85.4,379.8 85.6,379.8 85.7,379.8 85.8,379.8 86,379.8 86.1,379.8 86.3,379.8 86.4,379.8 86.5,379.8 86.7,379.8 86.8,379.8 87,379.8 87.1,379.8 87.2,379.8 87.4,379.8 87.5,379.8 87.7,379.8 87.8,379.8 88,379.8 88.1,379.8 88.2,379.8 88.4,379.8 88.5,379.8 88.7,379.8 88.8,379.8 88.9,379.8 89.1,379.8 89.2,379.8 89.4,379.8 89.5,379.8 89.6,379.8 89.8,379.8 89.9,379.8 90.1,379.8 90.2,379.8 90.3,379.7 90.5,379.8 90.6,379.8 90.8,379.7 90.9,379.7 91,379.7 91.2,379.7 91.3,379.7 91.5,379.7 91.6,379.6 91.8,379.6 91.9,379.6 92,379.6 92.2,379.6 92.3,379.6 92.5,379.6 92.6,379.5 92.7,379.5 92.9,379.5 93,379.5 93.2,379.6 93.3,379.7 93.4,379.7 93.6,379.7 93.7,379.7 93.9,379.7 94,379.7 94.1,379.6 94.3,379.6 94.4,379.6 94.6,379.6 94.7,379.6 94.9,379.6 95,379.6 95.1,379.5 95.3,379.5 95.4,379.5 95.5,379.5 95.7,379.5 95.8,379.5 96,379.5 96.1,379.5 96.2,379.5 96.4,379.5 96.5,379.5 96.7,379.5 96.8,379.6 97,379.5 97.1,379.6 97.2,379.6 97.4,379.6 97.5,379.6 97.7,379.6 97.8,379.5 97.9,379.5 98.1,379.5 98.2,379.5 98.4,379.5 98.5,379.4 98.6,379.4 98.8,379.4 98.9,379.4 99.1,379.4 99.2,379.4 99.4,379.3 99.5,379.3 99.6,379.3 99.8,379.2 99.9,379.1 100,379.1 100.2,379 100.3,378.9 100.5,378.9 100.6,378.8 100.8,378.7 100.9,378.7 101,378.7 101.2,378.6 101.3,378.6 101.5,378.5 101.6,378.4 101.7,378.4 101.9,378.3 102,378.3 102.2,378.5 102.3,378.5 102.4,378.5 102.6,378.6 102.7,378.7 102.9,378.7 103,378.7 103.2,378.8 103.3,378.8 103.4,378.9 103.6,378.9 103.7,379 103.9,379 104,378.9 104.1,378.8 104.3,378.8 104.4,378.7 104.5,378.6 104.7,378.5 104.8,378.4 105,378.3 105.1,378.2 105.3,378.1 105.4,378 105.5,377.9 105.7,377.8 105.8,377.6 106,377.6 106.1,377.4 106.2,377.3 106.4,377.2 106.5,377.2 106.7,377.4 106.8,377.7 106.9,377.9 107.1,378.1 107.2,378.1 107.4,378 107.5,377.9 107.7,377.9 107.8,377.7 107.9,377.6 108.1,377.6 108.2,377.3 108.4,377.2 108.5,377.2 108.6,377 108.8,376.9 108.9,376.8 109,376.7 109.2,376.7 109.3,376.5 109.5,376.3 109.6,376.3 109.8,376.2 109.9,376.1 110,376.2 110.2,376.3 110.3,376.3 110.5,376.5 110.6,376.2 110.7,375.6 110.9,375.4 111,375 111.2,374.5 111.3,374.1 111.5,373.8 111.6,373.4 111.7,372.4 111.9,371.6 112,370.9 112.2,370 112.3,369.2 112.4,368.2 112.6,369.5 112.7,371.3 112.8,371.4 113,370.8 113.1,370.4 113.2,370.3 113.4,369.8 113.5,369.7 113.7,370.2 113.8,371 113.9,371.9 114.1,373 114.2,373.1 114.3,373.1 114.5,373.2 114.6,373 114.7,373 114.9,373.8 115,374.9 115.2,375.8 115.3,375.6 115.4,375.1 115.5,374.7 115.7,374.1 115.8,373.8 116,373.4 116.1,373.1 116.2,373.3 116.4,373.2 116.5,373.1 116.6,373 116.8,373.2 116.9,373.4 117,373.7 117.2,373.9 117.3,374 117.5,374.4 117.6,374.4 117.7,374.9 117.9,375.1 118,375.3 118.1,375.5 118.3,375.9 118.4,376.2 118.5,375.9 118.7,375.7 118.8,375.6 119,375.2 119.1,375.2 119.2,375.1 119.4,374.8 119.5,374.7 119.6,374.4 119.8,374.5 119.9,374.3 120,374.4 120.2,374.2 120.3,374.4 120.4,374.4 120.6,374.4 120.7,374.7 120.9,374.8 121,374.9 121.1,375.1 121.3,375.2 121.4,375.2 121.5,375.3 121.7,375.4 121.8,375.6 121.9,375.6 122.1,375.7 122.2,375.9 122.4,376 122.5,376.1 122.6,376.3 122.8,376.2 122.9,376.4 123,376.6 123.2,376.3 123.3,376.2 123.4,376.2 123.6,375.8 123.7,375.8 123.8,375.6 124,375.5 124.1,375.4 124.2,375.4 124.4,375.1 124.5,375.2 124.7,375.4 124.8,375.5 124.9,375.7 125.1,375.8 125.2,376 125.3,376.2 125.5,376.4 125.6,376.3 125.7,376.3 125.9,376.2 126,376.3 126.2,376.3 126.3,376.2 126.4,376.3 126.6,376.2 126.7,376.1 126.8,376.2 127,376.1 127.1,376.2 127.2,376.2 127.4,376.2 127.5,376.1 127.6,376.1 127.8,376 127.9,376.1 128,376.1 128.2,376.1 128.3,376.2 128.5,376.1 128.6,376.2 128.7,376.2 128.9,376.2 129,376.4 129.1,376.3 129.3,376.4 129.4,376.4 129.5,376.5 129.7,376.5 129.8,376.4 129.9,376.5 130.1,376.6 130.2,376.6 130.4,376.5 130.5,376.6 130.6,376.9 130.8,377.1 130.9,377.4 131,377.8 131.2,377.8 131.3,377.8 131.4,378 131.6,378 131.7,378 131.8,378.1 132,378.1 132.1,378.2 132.3,378.2 132.4,378.1 132.5,378 132.7,378.1 132.8,378 132.9,377.9 133.1,377.9 133.2,377.9 133.3,377.9 133.5,377.9 133.6,377.9 133.8,377.9 133.9,377.9 134,377.9 134.2,378 134.3,378 134.4,378 134.6,378 134.7,378 134.8,378 135,378 135.1,378.1 135.2,377.9 135.4,378 135.5,377.9 135.7,377.9 135.8,377.9 135.9,377.9 136.1,377.9 136.2,377.9 136.3,377.8 136.5,377.8 136.6,377.9 136.7,377.8 136.9,377.8 137,377.7 137.2,377.7 137.3,377.7 137.4,377.7 137.6,377.7 137.7,377.7 137.8,377.6 138,377.6 138.1,377.5 138.2,377.3 138.4,377.2 138.5,377.1 138.6,377 138.8,376.8 138.9,376.6 139,376.5 139.2,376.3 139.3,376.2 139.5,376.1 139.6,375.9 139.7,375.8 139.9,375.7 140,375.5 140.1,375.4 140.3,375.3 140.4,375.2 140.5,375 140.7,374.7 140.8,374.6 140.9,374.5 141.1,374.2 141.2,374 141.4,374 141.5,373.6 141.6,373.6 141.8,373.4 141.9,373.1 142,372.8 142.2,372.9 142.3,372.6 142.4,372.6 142.6,372 142.7,372.3 142.8,372.4 143,372.9 143.1,373 143.3,373.1 143.4,373.9 143.5,373.9 143.7,374.1 143.8,374.3 143.9,374.1 144.1,373.7 144.2,373.7 144.3,373.7 144.5,373.3 144.6,373.3 144.7,372.8 144.9,372.9 145,372.9 145.2,372.9 145.3,373.1 145.4,373.4 145.5,373.5 145.7,373.3 145.8,373.5 146,373.7 146.1,373.7 146.2,373.8 146.4,373.9 146.5,374.3 146.6,374.2 146.8,374.2 146.9,374.4 147,374.5 147.2,374.8 147.3,374.7 147.4,374.8 147.6,374.8 147.7,375 147.8,374.9 148,374.8 148.1,374.7 148.2,374.8 148.4,374.6 148.5,374.7 148.6,374.6 148.8,374.6 148.9,374.5 149.1,374.5 149.2,374.6 149.3,374.4 149.5,374.5 149.6,374.7 149.7,374.7 149.9,374.7 150,374.9 150.1,374.9 150.3,375 150.4,375.1 150.5,375.2 150.7,375.4 150.8,375.3 150.9,375.4 151.1,375.5 151.2,375.6 151.3,375.6 151.5,375.8 151.6,375.9 151.8,376 151.9,376 152,376.1 152.2,376.1 152.3,375.9 152.4,376 152.6,375.8 152.7,375.9 152.8,375.7 153,375.5 153.1,375.5 153.2,375.4 153.4,375.3 153.5,375.1 153.6,375.2 153.8,375 153.9,374.8 154,374.7 154.2,374.6 154.3,374.4 154.4,374.3 154.6,374.2 154.7,374.1 154.9,374 155,373.9 155.1,373.8 155.3,374.1 155.4,374.4 155.5,374.8 155.7,375 155.8,375.3 155.9,375.6 156.1,375.8 156.2,376.1 156.3,376.4 156.5,376.6 156.6,377.1 156.8,377.1 156.9,377.1 157,376.8 157.2,376.6 157.3,376.7 157.4,376.5 157.6,376.3 157.7,376.2 157.9,376.1 158,376.1 158.1,375.8 158.3,375.7 158.4,375.6 158.6,375.5 158.7,375.3 158.8,375.3 159,375.1 159.1,375 159.3,375 159.4,374.7 159.5,374.6 159.7,374.5 159.8,374.6 160,374.5 160.1,374.3 160.2,374.3 160.4,374.1 160.5,374 160.7,374.2 160.8,374.2 160.9,373.9 161.1,373.8 161.2,373.8 161.4,373.8 161.5,373.9 161.6,373.8 161.8,373.7 161.9,373.8 162.1,373.9 162.2,373.8 162.3,373.4 162.5,373.5 162.6,373.7 162.8,373.7 162.9,373.6 163,373.6 163.2,373.4 163.3,373.5 163.5,373.6 163.6,373.3 163.7,373.5 163.9,373.4 164,373.4 164.2,373.4 164.3,373.3 164.4,373.3 164.6,373.4 164.7,373.3 164.9,373.1 165,373 165.1,372.8 165.3,372.7 165.4,372.5 165.6,372.6 165.7,372.9 165.8,373 166,373.3 166.1,373.3 166.3,373.4 166.4,373.5 166.5,373.8 166.7,373.9 166.8,373.8 167,373.8 167.1,373.6 167.2,373.5 167.4,373.5 167.5,373.3 167.7,373.4 167.8,373.2 167.9,373.2 168.1,373.1 168.2,372.7 168.4,372.6 168.5,372.7 168.6,372.5 168.8,372.3 168.9,372.3 169.1,372.1 169.2,372.2 169.3,371.9 169.5,371.5 169.6,371 169.8,370.9 169.9,370.8 170,370.4 170.2,370.2 170.3,369.9 170.5,369.3 170.6,369.3 170.7,368.9 170.9,368.3 171,368.2 171.2,368.1 171.3,367.9 171.4,367.5 171.6,367 171.7,366.9 171.9,366.5 172,366.5 172.1,366.1 172.3,366 172.4,365.3 172.6,364.4 172.7,364.4 172.8,363.4 173,362.6 173.1,361.8 173.3,359.5 173.4,356.8 173.5,354 173.7,355.7 173.9,356.9 174.1,358.6 174.3,358.6 174.5,360.3 174.7,360.5 174.9,359.5 175.1,357.8 175.3,356.8 175.5,355 175.7,353.5 175.9,352.3 176.1,350.8 176.3,350 176.5,347.6 176.7,347.2 176.9,346.5 177,345.6 177.2,347.9 177.3,350 177.4,349.6 177.6,347.9 177.7,347.2 177.9,345.2 178,342.9 178.2,342.8 178.3,344 178.4,344.6 178.6,345.6 178.7,346.3 178.9,345.8 179,345.6 179.2,346.1 179.3,344.1 179.5,343.9 179.6,342.4 179.7,342.4 179.9,341.3 180.1,341.7 180.2,344.9 180.4,346.4 180.6,348 180.8,349.5 180.9,348.6 181.1,346.8 181.3,346.6 181.5,346.6 181.7,345.8 181.8,346.3 182,350.1 182.2,353.1 182.4,356 182.5,357.4 182.7,358 182.8,357.9 183,357.8 183.1,357.4 183.3,356.5 183.4,356.2 183.6,356.5 183.7,355.8 183.8,355.5 184,355.2 184.1,356.7 184.3,358.7 184.4,360.1 184.6,360.6 184.7,359.9 184.9,360.3 185,360.9 185.2,360.3 185.3,360.6 185.4,361.6 185.6,360.6 185.7,361.1 185.9,360.9 186,362 186.2,360 186.3,358.1 186.4,356.7 186.5,355.6 186.6,354.8 186.8,356.1" fill="none" stroke="#000" stroke-width="1.25" stroke-linejoin="round"/>
<polyline clip-path="url(#c9)" points="17.1,374.3 17.4,376.4 17.7,377.9 18,377.1 18.3,376.8 18.6,376.1 18.9,375.2 19.3,376.6 19.6,376 19.9,376.3 20.3,376.1 20.6,376.2 20.9,377.2 21.2,377.7 21.5,377.8 21.8,378.2 22.2,379 22.5,380.4 22.9,378.8 23.2,377.6 23.5,377.8 23.8,376.9 24.1,376.3 24.4,376.2 24.7,376.1 25,375.4 25.4,375.3 25.7,376.3 26,376.7 26.4,377.1 26.7,376.8 27,376.2 27.2,376.7 27.5,376.4 27.8,376 28.1,375.7 28.4,375.5 28.7,375.4 29,375.8 29.4,375.6 29.7,375.6 30,375.5 30.4,375.1 30.7,374.7 31,374.1 31.3,374 31.6,374.1 31.9,374.4 32.2,373.9 32.4,373.5 32.7,374.2 33,374.1 33.4,373.9 33.7,373 34,372.8 34.4,372.7 34.7,372.5 35,371.5 35.3,371.5 35.6,371.3 35.9,371.5 36.2,371 36.5,370.2 36.8,370.7 37.1,369.7 37.3,370.5 37.7,369.6 38,369.5 38.4,370 38.7,369.9 39,370 39.4,370.1 39.7,369.3 39.9,369.2 40.2,369.6 40.5,369 40.8,369.2 41.1,369 41.4,369.8 41.7,369.2 42,369.8 42.3,369.9 42.7,369.6 43,369.7 43.4,369.6 43.7,369 44,368.6 44.3,369.2 44.6,369.3 44.8,369.9 45.1,369.9 45.4,369.4 45.7,369.7 46,369.5 46.3,369.7 46.7,369.6 47,369.3 47.3,370 47.7,370.5 48,371.3 48.3,372.4 48.6,373.9 48.9,372.9 49.2,372.2 49.5,371.4 49.8,371.4 50,370.8 50.3,371.1 50.7,371.2 51,371.7 51.3,372 51.7,371.7 52,371.4 52.3,371.2 52.6,371.3 52.9,371.5 53.2,370.8 53.5,370.5 53.8,369.8 54.1,369.6 54.4,369.3 54.7,369.4 55,369.1 55.3,368.1 55.7,368.7 56,368.7 56.3,368.8 56.7,368.7 57,369.1 57.2,368.8 57.5,368.9 57.8,369.4 58.1,369.1 58.4,369.2 58.7,370.3 59,371.6 59.3,370.7 59.7,369.6 60,369.7 60.3,370.5 60.7,370.1 61,369.1 61.3,369.2 61.6,369.8 61.9,370 62.2,370.8 62.4,371 62.7,370.5 63,371.4 63.3,371.3 63.7,371.1 64,371.8 64.4,371 64.8,370.9 65.1,370.1 65.4,370.4 65.8,368.7 66.1,369.2 66.4,369.6 66.8,370 67.1,369.7 67.3,370.2 67.6,369.3 67.9,368.5 68.2,368.8 68.5,368.9 68.8,369.3 69.1,369.6 69.4,369.7 69.8,370.5 70.1,370.9 70.4,371.1 70.8,372 71.1,372.9 71.4,371.9 71.7,372 72,371.3 72.3,370.7 72.6,370.1 73,369.6 73.3,368.9 73.6,368.4 74,368.1 74,367.3 74.3,368.2 74.6,367.5 74.9,366.8 75.2,366.2 75.5,366.9 75.8,366.1 76.2,365.8 76.5,366.4 76.8,365.9 77.2,365.5 77.5,365.2 77.8,365 78,363.8 78.3,364.3 78.6,364 78.9,363.5 79.2,362.4 79.5,363.4 79.8,362.4 80.2,362.3 80.5,362.3 80.8,361.8 81.2,361.4 81.5,361.8 81.8,361 82.1,360.6 82.4,359.5 82.7,359.9 82.9,360.3 83.2,360 83.5,359.7 83.8,359.6 84.1,358.9 84.5,358.9 84.8,360.8 85.2,360.2 85.5,360.9 85.8,361.2 86.1,361.1 86.4,360.9 86.7,361.1 87,361 87.3,361.9 87.7,361 88.1,362.6 88.4,363.9 88.8,364.5 89.1,365.6 89.5,364.9 89.9,364.2 90.2,364 90.4,364 90.7,363.6 91,363.5 91.4,362.3 91.7,361.7 92,362.1 92.4,362.4 92.7,362.4 93,362.1 93.3,361.3 93.6,360.6 93.9,360.9 94.2,360.7 94.5,360.8 94.8,361.2 95.1,360.4 95.4,360.3 95.7,360.6 96,360.2 96.4,359.5 96.7,359.9 97,359.3 97.4,359.4 97.7,358.5 97.9,359 98.2,359.2 98.5,358.6 98.8,358.8 99.1,358.3 99.4,358.1 99.7,357.3 100,358.2 100.3,358.5 100.7,357.4 101,357.8 101.4,356.5 101.7,355.9 102,356.5 102.3,355.9 102.6,356.7 102.9,356.9 103.1,356.8 103.4,356.7 103.7,357 104,356.3 104.3,356.6 104.7,356.1 105,355.8 105.3,356.1 105.7,355.1 106,355.2 106.3,355.2 106.6,355.3 106.9,355.5 107.2,356.2 107.5,356.3 107.8,355.7 108,354.6 108.3,354.5 108.7,354.6 109,355.1 109.3,354.9 109.7,355.6 110,355.5 110.4,355.1 110.6,354.5 110.9,354.6 111.2,354.5 111.5,354.3 111.8,354.3 112.1,354.1 112.4,354.3 112.7,354.9 113,355.1 113.3,355.2 113.7,355.2 114,354.9 114.3,355.8 114.7,355.5 115,356.7 115.2,356.2 115.5,356.8 115.8,356.1 116.1,356.1 116.4,356.8 116.7,357 117,356 117.3,355.9 117.7,356.5 118,357.7 118.3,357.6 118.7,357.6 119,358.2 119.3,357.3 119.6,358.6 119.9,358.4 120.2,358.1 120.4,358.4 120.7,358.9 121,358.6 121.3,359.4 121.6,359.5 122,359.1 122.3,359.5 122.7,358.2 123,358 123.3,357.4 123.6,358.4 123.9,358 124.2,358.1 124.5,358 124.8,358.6 125.1,357.7 125.3,358.3 125.6,357.3 126,357.3 126.3,357.6 126.6,357.4 127,357.9 127.3,358.4 127.7,359.4 127.9,358.8 128.2,359 128.5,359.4 128.8,358.6 129.1,358.8 129.4,359.1 129.7,358.7 130,359 130,359.5 130.4,358.9 130.7,358.3 131.1,357.5 131.4,356.6 131.8,356.2 132.2,356.2 132.5,356.4 132.8,354.8 133.2,354.6 133.5,354.2 133.8,353.9 134,352.7 134.3,352.8 134.6,353.1 134.9,352.6 135.2,352.4 135.5,351.6 135.8,351.9 136.2,353 136.5,352.6 136.8,352.8 137.2,352.1 137.5,352.6 137.8,351.7 138.1,351.6 138.4,350.8 138.7,351.6 138.9,351.1 139.2,351.7 139.5,350.9 139.8,351.3 140.1,351 140.5,350.4 140.8,350.7 141.2,349.6 141.5,349.2 141.8,347.8 142.1,347.8 142.4,347.6 142.7,346.8 143,346 143.3,345.8 143.6,346 143.8,346.1 144.1,345.8 144.5,346 144.8,345.3 145.1,344.6 145.5,345.7 145.8,345.9 146.1,344.8 146.4,344.4 146.7,344.7 147,345.1 147.3,345.5 147.6,345.6 147.9,344.8 148.2,344.9 148.5,344.7 148.8,343.9 149.1,344.8 149.5,344.3 149.8,344.8 150.1,344.5 150.5,344.3 150.8,344.4 151.1,343.8 151.3,343.6 151.7,343 152,342.5 152.4,342.6 152.7,342.2 153,341.2 153.4,340.7 153.7,340.9 153.9,340.9 154.2,340.7 154.5,340.5 154.9,340.1 155.2,338.9 155.6,340.9 156,343.8 156.3,348.9 156.7,353.7 157,361.9 157.4,370.4 157.8,365.7 158.1,362.2 158.4,358.6 158.8,356.6 159.1,354.9 159.4,354.7 159.7,354.3 160,352.7 160.3,352.1 160.7,351.5 161,350.5 161.3,349 161.7,348.3 162,348.1 162.3,347.5 162.6,347.2 162.9,345.9 163.2,345.2 163.5,344.7 163.8,344.6 164,343.6 164.3,342.8 164.7,341.8 165,341.7 165.3,340.6 165.7,340.8 166,340.8 166.3,339.8 166.6,340.2 166.9,340.7 167.2,339.4 167.5,340.5 167.9,340.7 168.2,342.1 168.6,342.4 168.9,342.9 169.3,341.7 169.7,340.7 170,340.5 170.3,339.4 170.7,339.4 171,338.7 171.2,337.6 171.5,338.1 171.8,338.4 172.1,337.8 172.4,337.6 172.7,337.5 173,337.6 173.3,336.8 173.7,336.4 174,336.2 174.3,335.9 174.7,336.8 175,337.3 175.3,338 175.6,338 175.9,339.1 176.2,338.2 176.4,338.5 176.7,338.3 177,337.4 177.3,338.2 177.6,339.5 177.9,341.4 178.2,341.1 178.5,341.3 178.7,340.9 179,341.1 179.3,341.5 179.6,340.6 179.9,340.2 180.2,340.6 180.5,339.6 180.8,339.2 181.1,339.7 181.3,340.5 181.6,339.7 182,339.3 182.3,339 182.6,338.5 183,338.6 183.3,338.3 183.6,338.2 183.9,337.6 184.2,338.3 184.5,338.7 184.8,337.7 185.1,337.5 185.4,337.3 185.7,336.3 186,336.3 186.2,337.7 186.5,337.1 186.8,336.7" fill="none" stroke="#7a7a7a" stroke-width="1.25" stroke-linejoin="round"/>
<line x1="16" y1="331.36" x2="17.2" y2="331.36" stroke="#8c8c8c" stroke-width="0.8"/>
<text x="14.9" y="331.66" font-size="4.7" text-anchor="end">84</text>
<line x1="16" y1="343.72" x2="17.2" y2="343.72" stroke="#8c8c8c" stroke-width="0.8"/>
<text x="14.9" y="344.02" font-size="4.7" text-anchor="end">76</text>
<line x1="16" y1="356.08" x2="17.2" y2="356.08" stroke="#8c8c8c" stroke-width="0.8"/>
<text x="14.9" y="356.38" font-size="4.7" text-anchor="end">68</text>
<line x1="16" y1="368.44" x2="17.2" y2="368.44" stroke="#8c8c8c" stroke-width="0.8"/>
<text x="14.9" y="368.74" font-size="4.7" text-anchor="end">60</text>
<line x1="16" y1="380.8" x2="17.2" y2="380.8" stroke="#8c8c8c" stroke-width="0.8"/>
<text x="14.9" y="381.1" font-size="4.7" text-anchor="end">52</text>
<line x1="186.8" y1="380.2" x2="187.8" y2="380.2" stroke="#8c8c8c" stroke-width="0.8"/>
<text x="188.8" y="380.95" font-size="4.7">0</text>
<line x1="186.8" y1="373.95" x2="187.8" y2="373.95" stroke="#8c8c8c" stroke-width="0.8"/>
<line x1="186.8" y1="367.7" x2="187.8" y2="367.7" stroke="#8c8c8c" stroke-width="0.8"/>
<text x="188.8" y="368.45" font-size="4.7">20,000</text>
<line x1="186.8" y1="361.45" x2="187.8" y2="361.45" stroke="#8c8c8c" stroke-width="0.8"/>
<line x1="186.8" y1="355.2" x2="187.8" y2="355.2" stroke="#8c8c8c" stroke-width="0.8"/>
<text x="188.8" y="355.95" font-size="4.7">40,000</text>
<line x1="186.8" y1="348.95" x2="187.8" y2="348.95" stroke="#8c8c8c" stroke-width="0.8"/>
<line x1="186.8" y1="342.7" x2="187.8" y2="342.7" stroke="#8c8c8c" stroke-width="0.8"/>
<text x="188.8" y="343.45" font-size="4.7">60,000</text>
<line x1="186.8" y1="336.45" x2="187.8" y2="336.45" stroke="#8c8c8c" stroke-width="0.8"/>
<line x1="186.8" y1="330.2" x2="187.8" y2="330.2" stroke="#8c8c8c" stroke-width="0.8"/>
<text x="188.8" y="330.95" font-size="4.7">80,000</text>
<line x1="29.6" y1="380.2" x2="29.6" y2="381.8" stroke="#8c8c8c" stroke-width="0.8"/>
<line x1="50.25" y1="380.2" x2="50.25" y2="381.8" stroke="#8c8c8c" stroke-width="0.8"/>
<line x1="70.9" y1="380.2" x2="70.9" y2="381.8" stroke="#8c8c8c" stroke-width="0.8"/>
<line x1="91.55" y1="380.2" x2="91.55" y2="381.8" stroke="#8c8c8c" stroke-width="0.8"/>
<line x1="112.2" y1="380.2" x2="112.2" y2="381.8" stroke="#8c8c8c" stroke-width="0.8"/>
<line x1="132.85" y1="380.2" x2="132.85" y2="381.8" stroke="#8c8c8c" stroke-width="0.8"/>
<line x1="153.5" y1="380.2" x2="153.5" y2="381.8" stroke="#8c8c8c" stroke-width="0.8"/>
<line x1="174.15" y1="380.2" x2="174.15" y2="381.8" stroke="#8c8c8c" stroke-width="0.8"/>
<text x="20.3" y="386.35" font-size="4.7" text-anchor="middle">2013</text>
<text x="39.3" y="386.35" font-size="4.7" text-anchor="middle">2014</text>
<text x="59.8" y="386.35" font-size="4.7" text-anchor="middle">2015</text>
<text x="80.6" y="386.35" font-size="4.7" text-anchor="middle">2016</text>
<text x="101.2" y="386.35" font-size="4.7" text-anchor="middle">2017</text>
<text x="121.85" y="386.35" font-size="4.7" text-anchor="middle">2018</text>
<text x="142.5" y="386.35" font-size="4.7" text-anchor="middle">2019</text>
<text x="163.4" y="386.35" font-size="4.7" text-anchor="middle">2020</text>
<text x="182.5" y="386.35" font-size="4.7" text-anchor="middle">2021</text>
<text x="102" y="330.5" font-size="5.2" text-anchor="middle">(9) Emerging markets bond index Vs. Bitcoin</text>
<clipPath id="c10"><rect x="226.6" y="323.2" width="169.9" height="56.2"/></clipPath>
<rect x="226.6" y="323.2" width="169.9" height="56.2" fill="none" stroke="#8c8c8c" stroke-width="1.3"/>
<polyline points="226.6,379.3 226.7,379.3 226.9,379.3 227,379.3 227.2,379.3 227.3,379.3 227.4,379.3 227.6,379.3 227.7,379.3 227.8,379.3 228,379.3 228.1,379.3 228.3,379.3 228.4,379.3 228.5,379.3 228.7,379.3 228.8,379.3 229,379.3 229.1,379.3 229.3,379.3 229.4,379.3 229.5,379.3 229.7,379.3 229.8,379.4 230,379.4 230.1,379.4 230.2,379.4 230.4,379.4 230.5,379.4 230.7,379.4 230.8,379.4 230.9,379.4 231.1,379.4 231.2,379.4 231.4,379.4 231.5,379.4 231.7,379.4 231.8,379.4 231.9,379.3 232.1,379.3 232.2,379.3 232.3,379.3 232.5,379.3 232.6,379.3 232.8,379.3 232.9,379.3 233.1,379.3 233.2,379.3 233.3,379.3 233.5,379.3 233.6,379.3 233.8,379.3 233.9,379.3 234,379.3 234.2,379.3 234.3,379.3 234.5,379.3 234.6,379.3 234.7,379.3 234.9,379.3 235,379.3 235.2,379.3 235.3,379.3 235.4,379.3 235.6,379.3 235.7,379.3 235.9,379.3 236,379.3 236.2,379.3 236.3,379.3 236.4,379.3 236.6,379.3 236.7,379.3 236.8,379.3 237,379.3 237.1,379.2 237.3,379.2 237.4,379.2 237.6,379.2 237.7,379.2 237.8,379.1 238,379.1 238.1,379 238.3,379 238.4,378.9 238.5,378.8 238.7,378.7 238.8,378.7 239,378.7 239.1,378.8 239.2,378.9 239.4,378.9 239.5,379 239.7,379.1 239.8,379.1 239.9,379 240.1,379 240.2,379 240.4,378.9 240.5,378.9 240.7,378.8 240.8,378.8 240.9,378.8 241.1,378.8 241.2,378.9 241.4,378.9 241.5,378.9 241.6,378.9 241.8,378.9 241.9,378.9 242.1,378.9 242.2,378.9 242.3,379 242.5,379 242.6,379 242.8,379 242.9,379 243,379 243.2,379 243.3,379 243.5,379.1 243.6,379.1 243.8,379 243.9,379 244,379 244.2,379 244.3,379 244.4,379 244.6,379 244.7,379.1 244.9,379.1 245,379.1 245.2,379.1 245.3,379.1 245.4,379.1 245.6,379.1 245.7,379.1 245.9,379.2 246,379.2 246.1,379.2 246.3,379.2 246.4,379.1 246.6,379.1 246.7,379.1 246.8,379.1 247,379.1 247.1,379.1 247.3,379.1 247.4,379.1 247.5,379.1 247.7,379.1 247.8,379.1 248,379.1 248.1,379.1 248.2,379.1 248.4,379.1 248.5,379.1 248.7,379 248.8,379 248.9,379 249.1,379 249.2,379 249.4,379 249.5,379 249.7,379 249.8,379 249.9,379 250.1,379 250.2,379 250.4,379 250.5,379 250.6,379 250.8,379 250.9,379 251.1,379 251.2,379 251.3,379 251.5,379 251.6,379 251.8,379 251.9,379 252,379 252.2,379 252.3,379 252.5,379.1 252.6,379.1 252.8,379.1 252.9,379.1 253,379.1 253.2,379.1 253.3,379.1 253.5,379.1 253.6,379.1 253.7,379.1 253.9,379.1 254,379.1 254.2,379.1 254.3,379.1 254.4,379.1 254.6,379.1 254.7,379.1 254.9,379.1 255,379.1 255.1,379.1 255.3,379.1 255.4,379.2 255.6,379.2 255.7,379.2 255.8,379.2 256,379.2 256.1,379.2 256.3,379.2 256.4,379.2 256.6,379.2 256.7,379.2 256.8,379.2 257,379.2 257.1,379.2 257.2,379.1 257.4,379.2 257.5,379.1 257.7,379.1 257.8,379.1 258,379.1 258.1,379.1 258.2,379.1 258.4,379.1 258.5,379.1 258.7,379.1 258.8,379.2 258.9,379.2 259.1,379.2 259.2,379.2 259.4,379.2 259.5,379.2 259.6,379.2 259.8,379.2 259.9,379.2 260.1,379.2 260.2,379.2 260.4,379.2 260.5,379.2 260.6,379.2 260.8,379.2 260.9,379.2 261.1,379.2 261.2,379.2 261.3,379.2 261.5,379.3 261.6,379.3 261.8,379.3 261.9,379.3 262,379.3 262.2,379.3 262.3,379.3 262.5,379.3 262.6,379.3 262.7,379.3 262.9,379.3 263,379.3 263.2,379.3 263.3,379.3 263.4,379.3 263.6,379.2 263.7,379.3 263.9,379.2 264,379.2 264.1,379.2 264.3,379.2 264.4,379.2 264.6,379.2 264.7,379.2 264.9,379.2 265,379.2 265.1,379.2 265.3,379.2 265.4,379.2 265.6,379.2 265.7,379.2 265.8,379.2 266,379.3 266.1,379.2 266.3,379.3 266.4,379.3 266.5,379.3 266.7,379.3 266.8,379.3 267,379.3 267.1,379.3 267.2,379.3 267.4,379.3 267.5,379.3 267.7,379.3 267.8,379.3 267.9,379.3 268.1,379.3 268.2,379.3 268.4,379.3 268.5,379.3 268.6,379.3 268.8,379.3 268.9,379.3 269.1,379.3 269.2,379.3 269.4,379.3 269.5,379.3 269.6,379.3 269.8,379.3 269.9,379.3 270.1,379.2 270.2,379.2 270.3,379.2 270.5,379.2 270.6,379.2 270.8,379.2 270.9,379.2 271,379.2 271.2,379.2 271.3,379.2 271.5,379.2 271.6,379.2 271.8,379.2 271.9,379.2 272,379.2 272.2,379.2 272.3,379.2 272.4,379.2 272.6,379.2 272.7,379.2 272.9,379.2 273,379.2 273.1,379.2 273.3,379.2 273.4,379.3 273.6,379.3 273.7,379.3 273.9,379.3 274,379.3 274.1,379.3 274.3,379.3 274.4,379.3 274.6,379.3 274.7,379.3 274.8,379.3 275,379.3 275.1,379.3 275.3,379.3 275.4,379.3 275.5,379.3 275.7,379.3 275.8,379.3 276,379.3 276.1,379.3 276.2,379.3 276.4,379.3 276.5,379.2 276.7,379.2 276.8,379.2 276.9,379.2 277.1,379.2 277.2,379.2 277.4,379.2 277.5,379.2 277.6,379.2 277.8,379.2 277.9,379.2 278.1,379.2 278.2,379.2 278.4,379.2 278.5,379.2 278.6,379.2 278.8,379.2 278.9,379.2 279.1,379.2 279.2,379.2 279.3,379.2 279.5,379.2 279.6,379.2 279.8,379.2 279.9,379.2 280.1,379.1 280.2,379.1 280.3,379.1 280.5,379.1 280.6,379.1 280.8,379.1 280.9,379.1 281,379.1 281.2,379.1 281.3,379.1 281.4,379.1 281.6,379.2 281.7,379.2 281.9,379.1 282,379.2 282.2,379.2 282.3,379.2 282.4,379.2 282.6,379.2 282.7,379.2 282.9,379.2 283,379.2 283.1,379.2 283.3,379.2 283.4,379.2 283.6,379.2 283.7,379.1 283.9,379.2 284,379.1 284.1,379.1 284.3,379.1 284.4,379.1 284.6,379.1 284.7,379.1 284.8,379.1 285,379.1 285.1,379.1 285.2,379.1 285.4,379.1 285.5,379.1 285.7,379.1 285.8,379.1 286,379.1 286.1,379.1 286.2,379.1 286.4,379.1 286.5,379.1 286.7,379.1 286.8,379.1 286.9,379.1 287.1,379.1 287.2,379.1 287.4,379.1 287.5,379.1 287.6,379.1 287.8,379.1 287.9,379.1 288.1,379.1 288.2,379.1 288.4,379.1 288.5,379.1 288.6,379.1 288.8,379.1 288.9,379.1 289.1,379.1 289.2,379.1 289.3,379.1 289.5,379.1 289.6,379 289.8,379 289.9,379 290,379 290.2,379 290.3,379 290.5,379 290.6,379 290.7,379 290.9,379 291,378.9 291.2,379 291.3,379 291.4,379 291.6,379 291.7,379 291.9,379 292,379 292.1,379 292.3,379 292.4,379 292.6,379 292.7,379 292.9,379 293,379 293.1,379 293.3,379 293.4,379.1 293.6,379.1 293.7,379.1 293.8,379.1 294,379.1 294.1,379.1 294.3,379.1 294.4,379.1 294.5,379.1 294.7,379 294.8,379 295,379 295.1,379 295.2,379 295.4,379.1 295.5,379 295.7,379 295.8,379 295.9,379 296.1,379 296.2,379 296.4,379 296.5,379 296.6,379 296.8,379 296.9,379 297.1,379 297.2,379 297.4,379 297.5,379 297.6,379 297.8,379 297.9,379 298.1,379 298.2,379 298.3,379 298.5,379 298.6,379 298.8,379 298.9,379 299,379 299.2,379 299.3,379 299.5,379 299.6,379 299.7,378.9 299.9,379 300,379 300.2,378.9 300.3,378.9 300.4,378.9 300.6,378.9 300.7,378.9 300.9,378.9 301,378.9 301.1,378.8 301.3,378.8 301.4,378.8 301.6,378.8 301.7,378.8 301.9,378.8 302,378.7 302.1,378.7 302.3,378.7 302.4,378.7 302.6,378.8 302.7,378.9 302.8,378.9 303,378.9 303.1,378.9 303.3,378.9 303.4,378.9 303.5,378.8 303.7,378.8 303.8,378.8 304,378.8 304.1,378.8 304.2,378.8 304.4,378.8 304.5,378.7 304.7,378.7 304.8,378.7 304.9,378.7 305.1,378.7 305.2,378.7 305.4,378.7 305.5,378.7 305.6,378.7 305.8,378.7 305.9,378.7 306.1,378.7 306.2,378.8 306.4,378.7 306.5,378.8 306.6,378.8 306.8,378.8 306.9,378.8 307.1,378.8 307.2,378.7 307.3,378.7 307.5,378.7 307.6,378.7 307.8,378.7 307.9,378.7 308,378.7 308.2,378.6 308.3,378.6 308.5,378.6 308.6,378.6 308.8,378.6 308.9,378.6 309,378.5 309.2,378.4 309.3,378.3 309.4,378.3 309.6,378.2 309.7,378.2 309.9,378.1 310,378 310.1,377.9 310.3,377.9 310.4,377.9 310.6,377.8 310.7,377.8 310.9,377.7 311,377.7 311.1,377.6 311.3,377.6 311.4,377.6 311.6,377.7 311.7,377.7 311.8,377.7 312,377.8 312.1,377.9 312.3,377.9 312.4,377.9 312.6,378 312.7,378 312.8,378.1 313,378.1 313.1,378.2 313.2,378.2 313.4,378.1 313.5,378 313.7,378 313.8,377.9 313.9,377.8 314.1,377.7 314.2,377.6 314.4,377.5 314.5,377.4 314.7,377.3 314.8,377.2 314.9,377.1 315.1,377 315.2,376.8 315.4,376.8 315.5,376.6 315.6,376.5 315.8,376.4 315.9,376.4 316.1,376.6 316.2,376.9 316.3,377.1 316.5,377.3 316.6,377.3 316.8,377.2 316.9,377.1 317.1,377.1 317.2,376.9 317.3,376.8 317.5,376.8 317.6,376.5 317.8,376.4 317.9,376.4 318,376.2 318.2,376.1 318.3,376 318.4,375.9 318.6,375.9 318.7,375.7 318.9,375.5 319,375.5 319.2,375.4 319.3,375.3 319.4,375.4 319.6,375.5 319.7,375.5 319.9,375.7 320,375.4 320.1,374.8 320.3,374.6 320.4,374.2 320.6,373.7 320.7,373.3 320.9,373 321,372.6 321.1,371.6 321.3,370.8 321.4,370.2 321.6,369.2 321.7,368.4 321.8,367.4 322,368.7 322.1,370.5 322.2,370.6 322.4,370 322.5,369.6 322.6,369.5 322.8,369 322.9,368.9 323.1,369.4 323.2,370.2 323.3,371.1 323.5,372.2 323.6,372.3 323.7,372.3 323.9,372.4 324,372.2 324.1,372.2 324.3,373 324.4,374.1 324.6,375.1 324.7,374.8 324.8,374.3 324.9,373.9 325.1,373.3 325.2,373 325.4,372.6 325.5,372.4 325.6,372.5 325.8,372.4 325.9,372.3 326,372.2 326.2,372.4 326.3,372.6 326.4,372.9 326.6,373.1 326.7,373.2 326.9,373.6 327,373.6 327.1,374.1 327.3,374.3 327.4,374.5 327.5,374.7 327.7,375.1 327.8,375.4 327.9,375.1 328.1,374.9 328.2,374.8 328.4,374.5 328.5,374.5 328.6,374.3 328.8,374.1 328.9,373.9 329,373.6 329.2,373.7 329.3,373.5 329.4,373.6 329.6,373.4 329.7,373.6 329.8,373.6 330,373.6 330.1,373.9 330.2,374 330.4,374.1 330.5,374.3 330.7,374.4 330.8,374.4 330.9,374.5 331.1,374.6 331.2,374.8 331.3,374.8 331.5,374.9 331.6,375.1 331.8,375.2 331.9,375.3 332,375.5 332.1,375.4 332.3,375.6 332.4,375.8 332.6,375.5 332.7,375.4 332.8,375.4 333,375.1 333.1,375 333.2,374.8 333.4,374.7 333.5,374.6 333.6,374.6 333.8,374.3 333.9,374.4 334.1,374.6 334.2,374.7 334.3,374.9 334.5,375 334.6,375.2 334.7,375.4 334.9,375.6 335,375.6 335.1,375.5 335.3,375.4 335.4,375.5 335.6,375.5 335.7,375.4 335.8,375.5 336,375.4 336.1,375.3 336.2,375.4 336.4,375.3 336.5,375.4 336.6,375.4 336.8,375.4 336.9,375.3 337,375.3 337.2,375.2 337.3,375.4 337.4,375.3 337.6,375.3 337.7,375.4 337.9,375.3 338,375.4 338.1,375.5 338.3,375.4 338.4,375.6 338.5,375.5 338.7,375.7 338.8,375.6 338.9,375.7 339.1,375.7 339.2,375.6 339.4,375.7 339.5,375.8 339.6,375.8 339.8,375.7 339.9,375.9 340,376.1 340.2,376.3 340.3,376.7 340.4,377 340.6,377 340.7,377 340.9,377.2 341,377.2 341.1,377.2 341.2,377.3 341.4,377.3 341.5,377.4 341.7,377.4 341.8,377.3 341.9,377.2 342.1,377.3 342.2,377.2 342.3,377.1 342.5,377.1 342.6,377.1 342.8,377.1 342.9,377.1 343,377.1 343.1,377.1 343.3,377.1 343.4,377.1 343.6,377.2 343.7,377.2 343.8,377.2 344,377.2 344.1,377.2 344.2,377.2 344.4,377.2 344.5,377.3 344.6,377.1 344.8,377.2 344.9,377.1 345.1,377.1 345.2,377.2 345.3,377.1 345.5,377.1 345.6,377.1 345.7,377 345.9,377 346,377.1 346.1,377 346.3,377 346.4,376.9 346.6,376.9 346.7,376.9 346.8,376.9 347,376.9 347.1,376.9 347.2,376.8 347.4,376.9 347.5,376.7 347.6,376.5 347.8,376.4 347.9,376.3 348,376.2 348.2,376 348.3,375.8 348.4,375.7 348.6,375.6 348.7,375.4 348.9,375.3 349,375.1 349.1,375.1 349.3,374.9 349.4,374.7 349.5,374.6 349.7,374.5 349.8,374.4 349.9,374.2 350.1,373.9 350.2,373.8 350.4,373.7 350.5,373.4 350.6,373.2 350.8,373.2 350.9,372.8 351,372.8 351.2,372.6 351.3,372.3 351.4,372 351.6,372.1 351.7,371.8 351.9,371.8 352,371.2 352.1,371.5 352.2,371.6 352.4,372.1 352.5,372.2 352.7,372.3 352.8,373.1 352.9,373.2 353.1,373.3 353.2,373.5 353.3,373.4 353.5,372.9 353.6,372.9 353.7,372.9 353.9,372.5 354,372.5 354.1,372.1 354.3,372.1 354.4,372.1 354.6,372.1 354.7,372.3 354.8,372.6 354.9,372.7 355.1,372.5 355.2,372.7 355.4,372.9 355.5,372.9 355.6,373 355.8,373.1 355.9,373.5 356,373.4 356.2,373.4 356.3,373.6 356.4,373.7 356.6,374.1 356.7,373.9 356.8,374 357,374 357.1,374.2 357.2,374.1 357.4,374 357.5,373.9 357.6,374 357.8,373.8 357.9,373.9 358,373.8 358.2,373.8 358.3,373.7 358.5,373.7 358.6,373.8 358.7,373.6 358.9,373.7 359,373.9 359.1,373.9 359.3,373.9 359.4,374.1 359.5,374.2 359.7,374.2 359.8,374.3 359.9,374.4 360.1,374.6 360.2,374.5 360.4,374.6 360.5,374.7 360.6,374.8 360.8,374.9 360.9,375 361,375.1 361.1,375.2 361.3,375.2 361.4,375.3 361.6,375.3 361.7,375.1 361.8,375.2 362,375 362.1,375.1 362.2,374.9 362.4,374.7 362.5,374.7 362.6,374.7 362.8,374.5 362.9,374.4 363,374.4 363.2,374.2 363.3,374 363.4,373.9 363.6,373.8 363.7,373.6 363.9,373.5 364,373.4 364.1,373.3 364.3,373.2 364.4,373.1 364.5,373 364.7,373.3 364.8,373.6 364.9,374 365.1,374.2 365.2,374.5 365.3,374.8 365.5,375 365.6,375.3 365.7,375.6 365.9,375.8 366,376.3 366.1,376.3 366.3,376.3 366.4,376 366.6,375.8 366.7,375.9 366.9,375.7 367,375.5 367.1,375.4 367.3,375.3 367.4,375.3 367.5,375 367.7,374.9 367.8,374.8 368,374.7 368.1,374.5 368.2,374.5 368.4,374.3 368.5,374.2 368.7,374.2 368.8,373.9 368.9,373.8 369.1,373.7 369.2,373.8 369.4,373.7 369.5,373.5 369.6,373.5 369.8,373.3 369.9,373.2 370.1,373.4 370.2,373.4 370.3,373.1 370.5,373 370.6,373 370.8,373 370.9,373.1 371,373.1 371.2,372.9 371.3,373 371.5,373.1 371.6,373 371.7,372.6 371.9,372.7 372,372.9 372.2,372.9 372.3,372.8 372.4,372.8 372.6,372.6 372.7,372.7 372.9,372.8 373,372.5 373.1,372.7 373.3,372.6 373.4,372.6 373.6,372.6 373.7,372.5 373.8,372.5 374,372.6 374.1,372.5 374.3,372.3 374.4,372.2 374.5,372 374.7,371.9 374.8,371.7 375,371.8 375.1,372.1 375.2,372.2 375.4,372.5 375.5,372.5 375.7,372.6 375.8,372.7 375.9,373 376.1,373.1 376.2,373 376.4,373 376.5,372.8 376.6,372.7 376.8,372.7 376.9,372.5 377.1,372.6 377.2,372.4 377.3,372.4 377.5,372.3 377.6,371.9 377.8,371.8 377.9,371.9 378,371.7 378.2,371.6 378.3,371.5 378.5,371.3 378.6,371.4 378.7,371.1 378.9,370.7 379,370.2 379.2,370.1 379.3,370 379.4,369.6 379.6,369.4 379.7,369.1 379.9,368.5 380,368.5 380.1,368.2 380.3,367.5 380.4,367.4 380.6,367.3 380.7,367.2 380.8,366.7 381,366.2 381.1,366.1 381.3,365.7 381.4,365.7 381.5,365.3 381.7,365.2 381.8,364.5 382,363.6 382.1,363.6 382.2,362.6 382.4,361.8 382.5,361.1 382.7,358.7 382.8,356 382.9,353.2 383.1,354.9 383.3,356.1 383.5,357.9 383.7,357.8 383.9,359.5 384.1,359.7 384.3,358.7 384.5,357 384.7,356 384.9,354.2 385.1,352.7 385.3,351.5 385.5,350.1 385.7,349.2 385.9,346.8 386.1,346.4 386.3,345.7 386.4,344.8 386.6,347.1 386.7,349.2 386.9,348.8 387,347.1 387.1,346.4 387.3,344.4 387.4,342.1 387.6,342 387.7,343.2 387.9,343.9 388,344.8 388.1,345.5 388.3,345 388.4,344.8 388.6,345.3 388.7,343.4 388.9,343.2 389,341.6 389.1,341.7 389.3,340.5 389.5,340.9 389.6,344.1 389.8,345.6 390,347.2 390.2,348.7 390.4,347.8 390.5,346 390.7,345.8 390.9,345.8 391.1,345 391.2,345.5 391.4,349.3 391.6,352.3 391.8,355.2 391.9,356.6 392.1,357.2 392.2,357.1 392.4,357 392.5,356.6 392.7,355.7 392.8,355.4 393,355.7 393.1,355 393.2,354.7 393.4,354.4 393.5,355.9 393.7,357.9 393.8,359.3 394,359.8 394.1,359.1 394.3,359.5 394.4,360.1 394.6,359.5 394.7,359.8 394.9,360.8 395,359.8 395.1,360.3 395.3,360.1 395.4,361.2 395.6,359.2 395.7,357.4 395.8,355.9 395.9,354.8 396,354 396.1,355.3" fill="none" stroke="#000" stroke-width="1.25" stroke-linejoin="round"/>
<polyline clip-path="url(#c10)" points="226.7,337.7 227,336.4 227.3,336.6 227.6,336.8 227.9,336 228.3,335.9 228.6,334.4 228.9,335.6 229.3,336.2 229.6,337.5 229.9,335.7 230.2,335.3 230.5,335.9 230.8,335.1 231.1,335 231.3,334.9 231.6,334.2 231.9,332.9 232.3,334.3 232.6,334.9 232.9,334.5 233.3,334.9 233.6,335.4 233.9,335.7 234.2,334.8 234.5,336 234.8,337.9 235.1,337.9 235.4,339.2 235.7,338.9 236,339.2 236.2,340 236.6,339.1 236.9,338.5 237.3,339 237.6,337 237.9,337.7 238.3,337.2 238.6,336.7 238.8,336.7 239.1,338.6 239.4,338.9 239.7,338 240,337.5 240.3,336.5 240.6,335.3 240.9,335.3 241.3,335.8 241.6,335.1 241.9,335.4 242.3,335.5 242.6,335.3 242.9,333.3 243.2,334.1 243.5,334.6 243.8,334.4 244,333.5 244.3,332.9 244.6,334.1 244.9,332.7 245.2,333.6 245.6,334 245.9,334 246.2,333.7 246.6,334.9 246.9,332.9 247.2,333.7 247.5,332 247.8,333.8 248.1,334.3 248.5,333.6 248.8,334.2 249.1,335 249.5,335.5 249.8,336.1 250.1,336.2 250.4,337.7 250.7,337.6 251,339.2 251.2,339.6 251.5,338.3 251.8,338.4 252.1,339.6 252.5,340.1 252.8,341.1 253.1,341.6 253.5,342.7 253.8,344.5 254.2,345.8 254.6,345.2 254.9,346.1 255.3,348 255.7,348.5 256,349.9 256.4,351 256.7,351.2 257.1,351.7 257.4,352.6 257.8,354.5 258.2,356.8 258.5,359.2 258.9,362.1 259.3,363.5 259.6,364.4 260,363.6 260.3,363.1 260.7,362.4 261.1,360.9 261.4,362 261.8,362.1 262.1,361.5 262.5,360.5 262.9,359 263.2,359.8 263.6,358.8 263.9,358.4 264.2,358 264.5,357.7 264.8,359 265.1,359.6 265.4,358.7 265.7,357.6 266,359 266.2,358.5 266.5,357.3 266.9,358.4 267.2,359 267.6,359 267.9,359 268.2,358.6 268.6,360.1 268.8,360.3 269.1,360.4 269.4,360 269.8,361.6 270.1,362.6 270.4,362.9 270.8,363.7 271.1,364.1 271.4,365.6 271.7,366 272,368.3 272.3,367.8 272.6,368.1 273,367.8 273.3,367.9 273.7,367 274,366.6 274.3,366 274.6,366.5 274.9,366.5 275.2,366.4 275.5,366 275.8,367.2 276.1,367 276.3,367.8 276.6,368.1 277,368 277.3,369.7 277.6,371.2 278,372.1 278.3,372.3 278.6,370.7 278.9,371.3 279.2,371.6 279.5,372.7 279.8,373.7 280.1,375.2 280.4,374.7 280.7,375 281,376 281.3,375.4 281.6,374.5 282,373.9 282.3,373.4 282.6,372.6 283,373.2 283,371.5 283.3,371.3 283.6,370.2 283.9,369.8 284.1,370.5 284.5,369.6 284.8,368.9 285.2,368.8 285.5,368.5 285.8,367.6 286.2,367.5 286.5,367.7 286.8,368 287,368.4 287.3,366.5 287.6,366 287.9,365.3 288.2,365.2 288.5,363.6 288.8,364.2 289.2,362.2 289.5,362.9 289.8,364.5 290.2,365.1 290.5,365.7 290.8,366.2 291.1,367 291.4,366.2 291.7,365.6 292,368 292.4,369.1 292.7,368.8 293,369 293.4,369.2 293.7,368.5 294,368.1 294.2,368.5 294.5,367 294.8,366.3 295.1,366.7 295.4,367.1 295.7,366.6 296,367.7 296.4,368.1 296.7,367.8 297,366.9 297.4,366 297.7,366.6 298,366 298.3,364.7 298.6,364.7 298.9,364.2 299.2,364.5 299.4,364.1 299.7,363.5 300,362.9 300.4,361.2 300.7,362.4 301,361.9 301.4,363.3 301.7,362.9 302,362.1 302.3,362.7 302.6,362.6 302.9,362.3 303.2,363.6 303.5,362.4 303.8,362.8 304.1,362.3 304.4,363.5 304.7,362.4 305,363.1 305.4,363.4 305.7,364.2 306,364 306.4,364.8 306.7,364.7 306.9,364 307.2,363.8 307.5,364.2 307.8,364.9 308.1,364.5 308.4,364.6 308.7,364.1 309,365.2 309.3,365.9 309.7,366.1 310,366.5 310.4,367 310.7,366.5 311,366.9 311.3,366.3 311.6,366.4 311.9,367.3 312.1,365.2 312.4,365.3 312.7,364.9 313,364.7 313.3,364.7 313.7,365 314,364.4 314.3,364.1 314.7,363.4 315,363 315.3,363 315.6,361.8 315.9,363.1 316.2,362.7 316.5,362.2 316.8,361 317,360.9 317.3,361.2 317.7,360.1 318,358.6 318.3,360.2 318.7,359.7 319,359 319.4,361.1 319.6,360.1 319.9,360.2 320.2,358.3 320.5,357.8 320.8,358.2 321.1,356.6 321.4,357.1 321.6,358.3 322,357.9 322.3,356.2 322.7,357.4 323,357.1 323.3,358.3 323.7,357.2 324,358 324.2,357.6 324.5,357.9 324.9,358.6 325.2,358 325.6,359.1 325.9,356.9 326.2,356.6 326.6,356.6 326.8,356.5 327.1,355.7 327.4,356 327.7,355 328,355.1 328.3,355.3 328.6,354.8 328.9,354.8 329.2,355.2 329.5,353.8 329.9,352.1 330.2,352.8 330.5,353.2 330.9,354.7 331.2,355.2 331.5,354.9 331.8,354.6 332,354.2 332.3,353.5 332.6,353.1 332.9,353 333.2,353.3 333.5,354.4 333.9,354 334.2,355.9 334.5,355.9 334.9,355.6 335.2,354.8 335.5,354.4 335.8,354.7 336.1,353.8 336.4,353.8 336.7,353.1 337.1,351.9 337.4,353 337.8,353.7 338.2,354.7 338.5,356.5 338.9,357.1 339.2,358.4 339.5,359.5 339.8,363.5 340,365.3 340.4,365.4 340.7,365.3 341.1,364.3 341.4,363.5 341.8,363.7 342.2,362.8 342.5,361.5 342.8,362.7 343.2,361.3 343.5,361.7 343.8,362.6 344,360.6 344.3,359.8 344.6,360.5 344.9,359 345.2,359.4 345.5,359.5 345.8,359.6 346.2,360.6 346.5,359.7 346.8,359.8 347.2,359.3 347.5,358.8 347.8,359.4 348.1,358.4 348.4,356.4 348.7,356.8 348.9,356.8 349.2,357.7 349.5,356.8 349.8,356.2 350.1,357.8 350.5,359.1 350.8,359.4 351.2,359 351.5,357.5 351.8,358.1 352.1,358.5 352.4,359.8 352.7,359.5 353,360.1 353.4,359.9 353.7,362.3 354.1,362.7 354.4,363.7 354.8,362.3 355.1,361.6 355.5,362.4 355.8,362.6 356.1,360.6 356.4,361 356.7,362 357,361.6 357.3,360.6 357.6,360.3 357.9,361.5 358.2,360.8 358.5,360.2 358.8,361 359.1,360.9 359.5,361.4 359.8,361.3 360.1,359.5 360.5,360.2 360.8,360.6 361.1,360.4 361.3,359.2 361.6,358.8 362,359.2 362.4,357.6 362.7,359.2 363.1,360.2 363.4,362 363.8,364.3 364.2,364.2 364.5,366 364.9,367.6 365.2,368.2 365.7,373.1 366,375.3 366.2,375.7 366.5,378.1 366.8,378.4 367.1,377.3 367.5,377.6 367.8,378 368.1,377.4 368.5,377.7 368.9,375.2 369.2,374.7 369.6,374.3 369.9,372.6 370.2,371.2 370.6,370.2 370.9,371.3 371.2,370.8 371.4,370.5 371.7,371.2 372,370.9 372.3,371.2 372.6,370.4 372.9,370.3 373.2,369.9 373.6,369.8 373.9,368.9 374.2,369.1 374.6,369.2 374.9,368.6 375.2,367.3 375.5,367.9 375.8,367.8 376.1,367.4 376.3,366.7 376.6,366 376.9,366.6 377.2,366.5 377.5,366.6 377.9,367.7 378.2,368.3 378.6,367.8 378.9,367.3 379.2,367.5 379.5,366.5 379.8,366.1 380.1,366.2 380.4,366.9 380.7,365.5 381,364.7 381.2,363.5 381.5,362.4 381.9,363.5 382.2,361.4 382.5,359.7 382.9,359.6 383.3,358.9 383.6,357.7 384,357 384.4,356.2 384.7,355 385.1,352.7 385.4,354.1 385.8,353.4 386.1,353.1 386.4,352 386.7,352.3 387,351.2 387.3,351 387.6,350.2 388,349.8 388.3,350.7 388.7,350.9 389,349.8 389.3,349.4 389.6,350.9 389.9,351.4 390.2,351.2 390.5,353.5 390.8,353.5 391.1,352.7 391.3,352 391.6,351.1 392,350 392.3,348.6 392.6,347.4 393,348 393.3,346.9 393.6,346.5 393.9,346.5 394.2,346.5 394.5,347.8 394.8,347 395.1,347.2 395.4,346.3 395.7,347.7 396,346.2 396.2,345.6 396.5,346.2 396.8,347" fill="none" stroke="#7a7a7a" stroke-width="1.25" stroke-linejoin="round"/>
<line x1="225.4" y1="329.8" x2="226.6" y2="329.8" stroke="#8c8c8c" stroke-width="0.8"/>
<text x="224.3" y="330.1" font-size="4.7" text-anchor="end">700</text>
<line x1="225.4" y1="341.02" x2="226.6" y2="341.02" stroke="#8c8c8c" stroke-width="0.8"/>
<text x="224.3" y="341.32" font-size="4.7" text-anchor="end">600</text>
<line x1="225.4" y1="352.24" x2="226.6" y2="352.24" stroke="#8c8c8c" stroke-width="0.8"/>
<text x="224.3" y="352.54" font-size="4.7" text-anchor="end">500</text>
<line x1="225.4" y1="363.46" x2="226.6" y2="363.46" stroke="#8c8c8c" stroke-width="0.8"/>
<text x="224.3" y="363.76" font-size="4.7" text-anchor="end">400</text>
<line x1="225.4" y1="374.68" x2="226.6" y2="374.68" stroke="#8c8c8c" stroke-width="0.8"/>
<text x="224.3" y="374.98" font-size="4.7" text-anchor="end">300</text>
<line x1="396.5" y1="379.4" x2="397.5" y2="379.4" stroke="#8c8c8c" stroke-width="0.8"/>
<text x="398.5" y="380.15" font-size="4.7">0</text>
<line x1="396.5" y1="373.15" x2="397.5" y2="373.15" stroke="#8c8c8c" stroke-width="0.8"/>
<line x1="396.5" y1="366.9" x2="397.5" y2="366.9" stroke="#8c8c8c" stroke-width="0.8"/>
<text x="398.5" y="367.65" font-size="4.7">20,000</text>
<line x1="396.5" y1="360.65" x2="397.5" y2="360.65" stroke="#8c8c8c" stroke-width="0.8"/>
<line x1="396.5" y1="354.4" x2="397.5" y2="354.4" stroke="#8c8c8c" stroke-width="0.8"/>
<text x="398.5" y="355.15" font-size="4.7">40,000</text>
<line x1="396.5" y1="348.15" x2="397.5" y2="348.15" stroke="#8c8c8c" stroke-width="0.8"/>
<line x1="396.5" y1="341.9" x2="397.5" y2="341.9" stroke="#8c8c8c" stroke-width="0.8"/>
<text x="398.5" y="342.65" font-size="4.7">60,000</text>
<line x1="396.5" y1="335.65" x2="397.5" y2="335.65" stroke="#8c8c8c" stroke-width="0.8"/>
<line x1="396.5" y1="329.4" x2="397.5" y2="329.4" stroke="#8c8c8c" stroke-width="0.8"/>
<text x="398.5" y="330.15" font-size="4.7">80,000</text>
<line x1="239" y1="379.4" x2="239" y2="381" stroke="#8c8c8c" stroke-width="0.8"/>
<line x1="259.65" y1="379.4" x2="259.65" y2="381" stroke="#8c8c8c" stroke-width="0.8"/>
<line x1="280.3" y1="379.4" x2="280.3" y2="381" stroke="#8c8c8c" stroke-width="0.8"/>
<line x1="300.95" y1="379.4" x2="300.95" y2="381" stroke="#8c8c8c" stroke-width="0.8"/>
<line x1="321.6" y1="379.4" x2="321.6" y2="381" stroke="#8c8c8c" stroke-width="0.8"/>
<line x1="342.25" y1="379.4" x2="342.25" y2="381" stroke="#8c8c8c" stroke-width="0.8"/>
<line x1="362.9" y1="379.4" x2="362.9" y2="381" stroke="#8c8c8c" stroke-width="0.8"/>
<line x1="383.55" y1="379.4" x2="383.55" y2="381" stroke="#8c8c8c" stroke-width="0.8"/>
<text x="229.7" y="385.55" font-size="4.7" text-anchor="middle">2013</text>
<text x="248.7" y="385.55" font-size="4.7" text-anchor="middle">2014</text>
<text x="269.2" y="385.55" font-size="4.7" text-anchor="middle">2015</text>
<text x="290" y="385.55" font-size="4.7" text-anchor="middle">2016</text>
<text x="310.6" y="385.55" font-size="4.7" text-anchor="middle">2017</text>
<text x="331.25" y="385.55" font-size="4.7" text-anchor="middle">2018</text>
<text x="351.9" y="385.55" font-size="4.7" text-anchor="middle">2019</text>
<text x="372.8" y="385.55" font-size="4.7" text-anchor="middle">2020</text>
<text x="391.9" y="385.55" font-size="4.7" text-anchor="middle">2021</text>
<text x="312.6" y="329.8" font-size="5.2" text-anchor="middle">(10) S&amp;P GSCI Vs. Bitcoin</text>
<clipPath id="c11"><rect x="17.2" y="403.4" width="169.6" height="56.25"/></clipPath>
<rect x="17.2" y="403.4" width="169.6" height="56.25" fill="none" stroke="#8c8c8c" stroke-width="1.3"/>
<polyline points="17.2,459.6 17.3,459.6 17.5,459.6 17.6,459.6 17.8,459.6 17.9,459.6 18,459.6 18.2,459.6 18.3,459.6 18.4,459.6 18.6,459.6 18.7,459.6 18.9,459.6 19,459.6 19.1,459.6 19.3,459.6 19.4,459.6 19.6,459.6 19.7,459.6 19.9,459.6 20,459.6 20.1,459.6 20.3,459.6 20.4,459.6 20.6,459.6 20.7,459.6 20.8,459.6 21,459.6 21.1,459.6 21.3,459.6 21.4,459.6 21.5,459.6 21.7,459.6 21.8,459.6 22,459.6 22.1,459.6 22.2,459.6 22.4,459.6 22.5,459.6 22.7,459.6 22.8,459.6 22.9,459.6 23.1,459.6 23.2,459.6 23.4,459.6 23.5,459.6 23.7,459.6 23.8,459.6 23.9,459.6 24.1,459.6 24.2,459.6 24.4,459.6 24.5,459.6 24.6,459.6 24.8,459.6 24.9,459.6 25.1,459.6 25.2,459.6 25.3,459.6 25.5,459.6 25.6,459.6 25.8,459.6 25.9,459.6 26,459.6 26.2,459.6 26.3,459.6 26.5,459.5 26.6,459.5 26.8,459.5 26.9,459.5 27,459.5 27.2,459.5 27.3,459.5 27.4,459.5 27.6,459.5 27.7,459.5 27.9,459.5 28,459.5 28.2,459.4 28.3,459.4 28.4,459.4 28.6,459.3 28.7,459.3 28.9,459.2 29,459.1 29.1,459 29.3,459 29.4,458.9 29.6,459 29.7,459 29.9,459.1 30,459.2 30.1,459.2 30.3,459.3 30.4,459.3 30.5,459.3 30.7,459.3 30.8,459.2 31,459.2 31.1,459.1 31.2,459.1 31.4,459.1 31.5,459.1 31.7,459.1 31.8,459.1 32,459.1 32.1,459.1 32.2,459.1 32.4,459.2 32.5,459.2 32.7,459.2 32.8,459.2 32.9,459.2 33.1,459.2 33.2,459.2 33.4,459.2 33.5,459.2 33.6,459.3 33.8,459.3 33.9,459.3 34.1,459.3 34.2,459.3 34.3,459.3 34.5,459.3 34.6,459.2 34.8,459.2 34.9,459.3 35,459.3 35.2,459.3 35.3,459.3 35.5,459.3 35.6,459.3 35.8,459.3 35.9,459.3 36,459.4 36.2,459.4 36.3,459.4 36.5,459.4 36.6,459.4 36.7,459.4 36.9,459.4 37,459.4 37.2,459.3 37.3,459.4 37.4,459.3 37.6,459.3 37.7,459.3 37.9,459.4 38,459.4 38.1,459.4 38.3,459.4 38.4,459.4 38.6,459.4 38.7,459.3 38.8,459.3 39,459.3 39.1,459.3 39.3,459.3 39.4,459.3 39.5,459.3 39.7,459.2 39.8,459.2 40,459.2 40.1,459.2 40.3,459.2 40.4,459.2 40.5,459.2 40.7,459.2 40.8,459.2 41,459.2 41.1,459.2 41.2,459.3 41.4,459.2 41.5,459.3 41.7,459.3 41.8,459.3 42,459.3 42.1,459.3 42.2,459.3 42.4,459.3 42.5,459.3 42.6,459.3 42.8,459.3 42.9,459.3 43.1,459.3 43.2,459.3 43.3,459.3 43.5,459.3 43.6,459.3 43.8,459.3 43.9,459.4 44.1,459.4 44.2,459.4 44.3,459.4 44.5,459.4 44.6,459.4 44.8,459.3 44.9,459.4 45,459.4 45.2,459.4 45.3,459.3 45.5,459.4 45.6,459.4 45.7,459.4 45.9,459.4 46,459.4 46.2,459.4 46.3,459.4 46.5,459.4 46.6,459.4 46.7,459.4 46.9,459.4 47,459.4 47.1,459.4 47.3,459.4 47.4,459.4 47.6,459.4 47.7,459.4 47.8,459.4 48,459.4 48.1,459.4 48.3,459.4 48.4,459.4 48.6,459.4 48.7,459.4 48.8,459.4 49,459.4 49.1,459.4 49.3,459.4 49.4,459.4 49.5,459.4 49.7,459.4 49.8,459.4 50,459.4 50.1,459.4 50.2,459.4 50.4,459.4 50.5,459.4 50.7,459.4 50.8,459.4 51,459.4 51.1,459.4 51.2,459.4 51.4,459.4 51.5,459.4 51.7,459.4 51.8,459.5 51.9,459.5 52.1,459.5 52.2,459.5 52.4,459.5 52.5,459.5 52.6,459.5 52.8,459.5 52.9,459.5 53.1,459.5 53.2,459.5 53.3,459.5 53.5,459.5 53.6,459.5 53.8,459.5 53.9,459.5 54,459.5 54.2,459.5 54.3,459.5 54.5,459.5 54.6,459.5 54.8,459.5 54.9,459.5 55,459.5 55.2,459.5 55.3,459.5 55.5,459.5 55.6,459.5 55.7,459.5 55.9,459.5 56,459.5 56.2,459.5 56.3,459.5 56.4,459.5 56.6,459.5 56.7,459.5 56.9,459.5 57,459.5 57.1,459.5 57.3,459.5 57.4,459.5 57.6,459.5 57.7,459.5 57.8,459.5 58,459.5 58.1,459.5 58.3,459.5 58.4,459.5 58.5,459.5 58.7,459.5 58.8,459.5 59,459.5 59.1,459.5 59.2,459.5 59.4,459.5 59.5,459.5 59.7,459.5 59.8,459.5 60,459.5 60.1,459.5 60.2,459.5 60.4,459.5 60.5,459.5 60.7,459.5 60.8,459.5 60.9,459.5 61.1,459.5 61.2,459.5 61.4,459.5 61.5,459.5 61.6,459.5 61.8,459.5 61.9,459.5 62.1,459.5 62.2,459.5 62.3,459.5 62.5,459.4 62.6,459.5 62.8,459.5 62.9,459.5 63,459.5 63.2,459.5 63.3,459.5 63.5,459.5 63.6,459.5 63.8,459.5 63.9,459.5 64,459.5 64.2,459.5 64.3,459.5 64.5,459.5 64.6,459.5 64.7,459.5 64.9,459.5 65,459.5 65.2,459.5 65.3,459.5 65.4,459.5 65.6,459.5 65.7,459.5 65.9,459.5 66,459.5 66.1,459.5 66.3,459.5 66.4,459.5 66.6,459.5 66.7,459.5 66.8,459.5 67,459.5 67.1,459.5 67.3,459.5 67.4,459.5 67.5,459.5 67.7,459.5 67.8,459.5 68,459.4 68.1,459.4 68.2,459.4 68.4,459.4 68.5,459.4 68.7,459.4 68.8,459.4 69,459.4 69.1,459.4 69.2,459.4 69.4,459.5 69.5,459.4 69.7,459.4 69.8,459.4 69.9,459.4 70.1,459.4 70.2,459.4 70.4,459.4 70.5,459.4 70.7,459.4 70.8,459.4 70.9,459.4 71.1,459.4 71.2,459.4 71.3,459.4 71.5,459.4 71.6,459.4 71.8,459.4 71.9,459.4 72,459.4 72.2,459.4 72.3,459.4 72.5,459.4 72.6,459.4 72.8,459.4 72.9,459.4 73,459.4 73.2,459.4 73.3,459.4 73.5,459.4 73.6,459.4 73.7,459.4 73.9,459.4 74,459.4 74.2,459.4 74.3,459.4 74.5,459.4 74.6,459.4 74.7,459.4 74.9,459.4 75,459.4 75.2,459.4 75.3,459.4 75.4,459.4 75.6,459.4 75.7,459.4 75.8,459.4 76,459.4 76.1,459.4 76.3,459.4 76.4,459.4 76.6,459.4 76.7,459.4 76.8,459.4 77,459.4 77.1,459.4 77.3,459.4 77.4,459.4 77.5,459.4 77.7,459.4 77.8,459.4 78,459.4 78.1,459.4 78.2,459.4 78.4,459.4 78.5,459.4 78.7,459.4 78.8,459.4 79,459.4 79.1,459.4 79.2,459.4 79.4,459.3 79.5,459.3 79.7,459.3 79.8,459.3 79.9,459.3 80.1,459.3 80.2,459.3 80.3,459.3 80.5,459.3 80.6,459.3 80.8,459.2 80.9,459.2 81.1,459.2 81.2,459.2 81.3,459.2 81.5,459.2 81.6,459.2 81.8,459.2 81.9,459.2 82,459.2 82.2,459.2 82.3,459.2 82.5,459.2 82.6,459.2 82.8,459.2 82.9,459.2 83,459.2 83.2,459.2 83.3,459.3 83.5,459.3 83.6,459.3 83.7,459.3 83.9,459.3 84,459.3 84.2,459.3 84.3,459.3 84.4,459.3 84.6,459.3 84.7,459.3 84.9,459.3 85,459.3 85.1,459.3 85.3,459.3 85.4,459.3 85.6,459.3 85.7,459.3 85.8,459.3 86,459.3 86.1,459.3 86.3,459.3 86.4,459.3 86.5,459.3 86.7,459.3 86.8,459.3 87,459.3 87.1,459.3 87.2,459.3 87.4,459.3 87.5,459.3 87.7,459.3 87.8,459.3 88,459.3 88.1,459.2 88.2,459.2 88.4,459.2 88.5,459.3 88.7,459.2 88.8,459.2 88.9,459.2 89.1,459.2 89.2,459.2 89.4,459.2 89.5,459.2 89.6,459.2 89.8,459.2 89.9,459.2 90.1,459.2 90.2,459.2 90.3,459.2 90.5,459.2 90.6,459.2 90.8,459.2 90.9,459.2 91,459.2 91.2,459.2 91.3,459.1 91.5,459.1 91.6,459.1 91.8,459.1 91.9,459.1 92,459 92.2,459 92.3,459 92.5,459 92.6,459 92.7,458.9 92.9,459 93,459 93.2,459.1 93.3,459.1 93.4,459.2 93.6,459.1 93.7,459.1 93.9,459.1 94,459.1 94.1,459.1 94.3,459.1 94.4,459.1 94.6,459 94.7,459 94.9,459 95,459 95.1,459 95.3,459 95.4,459 95.5,458.9 95.7,458.9 95.8,458.9 96,458.9 96.1,458.9 96.2,458.9 96.4,458.9 96.5,458.9 96.7,459 96.8,459 97,459 97.1,459 97.2,459 97.4,459.1 97.5,459 97.7,459 97.8,459 97.9,459 98.1,459 98.2,459 98.4,458.9 98.5,458.9 98.6,458.9 98.8,458.9 98.9,458.9 99.1,458.8 99.2,458.8 99.4,458.8 99.5,458.8 99.6,458.7 99.8,458.7 99.9,458.6 100,458.5 100.2,458.5 100.3,458.4 100.5,458.3 100.6,458.2 100.8,458.2 100.9,458.1 101,458.1 101.2,458.1 101.3,458 101.5,458 101.6,457.9 101.7,457.8 101.9,457.8 102,457.8 102.2,457.9 102.3,457.9 102.4,457.9 102.6,458.1 102.7,458.1 102.9,458.1 103,458.2 103.2,458.2 103.3,458.3 103.4,458.3 103.6,458.4 103.7,458.4 103.9,458.4 104,458.3 104.1,458.2 104.3,458.2 104.4,458.1 104.5,458 104.7,458 104.8,457.8 105,457.7 105.1,457.6 105.3,457.5 105.4,457.4 105.5,457.4 105.7,457.2 105.8,457.1 106,457 106.1,456.9 106.2,456.7 106.4,456.7 106.5,456.7 106.7,456.8 106.8,457.1 106.9,457.3 107.1,457.5 107.2,457.6 107.4,457.5 107.5,457.4 107.7,457.3 107.8,457.2 107.9,457.1 108.1,457 108.2,456.8 108.4,456.7 108.5,456.7 108.6,456.5 108.8,456.4 108.9,456.2 109,456.1 109.2,456.1 109.3,455.9 109.5,455.7 109.6,455.7 109.8,455.6 109.9,455.6 110,455.7 110.2,455.7 110.3,455.7 110.5,455.9 110.6,455.6 110.7,455.1 110.9,454.9 111,454.5 111.2,454 111.3,453.5 111.5,453.3 111.6,452.8 111.7,451.8 111.9,451 112,450.4 112.2,449.4 112.3,448.7 112.4,447.7 112.6,449 112.7,450.7 112.8,450.8 113,450.3 113.1,449.9 113.2,449.8 113.4,449.2 113.5,449.1 113.7,449.7 113.8,450.5 113.9,451.3 114.1,452.5 114.2,452.6 114.3,452.5 114.5,452.6 114.6,452.4 114.7,452.4 114.9,453.3 115,454.3 115.2,455.3 115.3,455 115.4,454.5 115.5,454.1 115.7,453.6 115.8,453.2 116,452.8 116.1,452.6 116.2,452.8 116.4,452.6 116.5,452.5 116.6,452.4 116.8,452.6 116.9,452.8 117,453.2 117.2,453.3 117.3,453.4 117.5,453.9 117.6,453.9 117.7,454.3 117.9,454.5 118,454.8 118.1,454.9 118.3,455.3 118.4,455.6 118.5,455.4 118.7,455.2 118.8,455 119,454.7 119.1,454.7 119.2,454.5 119.4,454.3 119.5,454.2 119.6,453.9 119.8,454 119.9,453.7 120,453.9 120.2,453.6 120.3,453.8 120.4,453.8 120.6,453.8 120.7,454.1 120.9,454.2 121,454.4 121.1,454.5 121.3,454.6 121.4,454.6 121.5,454.8 121.7,454.9 121.8,455 121.9,455 122.1,455.2 122.2,455.3 122.4,455.4 122.5,455.6 122.6,455.7 122.8,455.7 122.9,455.9 123,456 123.2,455.8 123.3,455.6 123.4,455.6 123.6,455.3 123.7,455.2 123.8,455.1 124,455 124.1,454.9 124.2,454.8 124.4,454.5 124.5,454.7 124.7,454.8 124.8,455 124.9,455.1 125.1,455.2 125.2,455.5 125.3,455.6 125.5,455.9 125.6,455.8 125.7,455.7 125.9,455.7 126,455.8 126.2,455.7 126.3,455.6 126.4,455.7 126.6,455.6 126.7,455.6 126.8,455.7 127,455.6 127.1,455.7 127.2,455.6 127.4,455.6 127.5,455.6 127.6,455.5 127.8,455.4 127.9,455.6 128,455.6 128.2,455.5 128.3,455.7 128.5,455.6 128.6,455.6 128.7,455.7 128.9,455.7 129,455.8 129.1,455.7 129.3,455.9 129.4,455.9 129.5,455.9 129.7,455.9 129.8,455.9 129.9,456 130.1,456 130.2,456 130.4,456 130.5,456.1 130.6,456.3 130.8,456.6 130.9,456.9 131,457.2 131.2,457.2 131.3,457.3 131.4,457.5 131.6,457.4 131.7,457.5 131.8,457.5 132,457.6 132.1,457.6 132.3,457.7 132.4,457.6 132.5,457.5 132.7,457.5 132.8,457.4 132.9,457.3 133.1,457.4 133.2,457.3 133.3,457.3 133.5,457.3 133.6,457.4 133.8,457.4 133.9,457.4 134,457.4 134.2,457.4 134.3,457.4 134.4,457.4 134.6,457.4 134.7,457.4 134.8,457.5 135,457.5 135.1,457.5 135.2,457.3 135.4,457.4 135.5,457.4 135.7,457.3 135.8,457.4 135.9,457.3 136.1,457.3 136.2,457.4 136.3,457.3 136.5,457.2 136.6,457.3 136.7,457.2 136.9,457.2 137,457.2 137.2,457.2 137.3,457.1 137.4,457.2 137.6,457.1 137.7,457.1 137.8,457.1 138,457.1 138.1,456.9 138.2,456.7 138.4,456.6 138.5,456.5 138.6,456.4 138.8,456.3 138.9,456.1 139,455.9 139.2,455.8 139.3,455.7 139.5,455.6 139.6,455.3 139.7,455.3 139.9,455.2 140,454.9 140.1,454.9 140.3,454.8 140.4,454.6 140.5,454.4 140.7,454.2 140.8,454 140.9,454 141.1,453.6 141.2,453.5 141.4,453.4 141.5,453.1 141.6,453 141.8,452.8 141.9,452.5 142,452.3 142.2,452.3 142.3,452 142.4,452 142.6,451.4 142.7,451.8 142.8,451.9 143,452.3 143.1,452.5 143.3,452.6 143.4,453.3 143.5,453.4 143.7,453.6 143.8,453.7 143.9,453.6 144.1,453.1 144.2,453.2 144.3,453.1 144.5,452.7 144.6,452.8 144.7,452.3 144.9,452.3 145,452.3 145.2,452.3 145.3,452.6 145.4,452.8 145.5,453 145.7,452.8 145.8,452.9 146,453.2 146.1,453.1 146.2,453.3 146.4,453.4 146.5,453.8 146.6,453.7 146.8,453.7 146.9,453.8 147,453.9 147.2,454.3 147.3,454.2 147.4,454.3 147.6,454.2 147.7,454.4 147.8,454.4 148,454.3 148.1,454.2 148.2,454.2 148.4,454.1 148.5,454.2 148.6,454 148.8,454.1 148.9,454 149.1,454 149.2,454 149.3,453.8 149.5,454 149.6,454.1 149.7,454.1 149.9,454.1 150,454.4 150.1,454.4 150.3,454.4 150.4,454.5 150.5,454.7 150.7,454.9 150.8,454.7 150.9,454.9 151.1,455 151.2,455.1 151.3,455.1 151.5,455.2 151.6,455.3 151.8,455.4 151.9,455.5 152,455.6 152.2,455.6 152.3,455.4 152.4,455.4 152.6,455.3 152.7,455.3 152.8,455.2 153,455 153.1,454.9 153.2,454.9 153.4,454.7 153.5,454.6 153.6,454.6 153.8,454.4 153.9,454.3 154,454.2 154.2,454 154.3,453.9 154.4,453.7 154.6,453.6 154.7,453.5 154.9,453.5 155,453.3 155.1,453.3 155.3,453.6 155.4,453.8 155.5,454.3 155.7,454.4 155.8,454.7 155.9,455.1 156.1,455.3 156.2,455.5 156.3,455.9 156.5,456 156.6,456.6 156.8,456.5 156.9,456.5 157,456.2 157.2,456 157.3,456.2 157.4,455.9 157.6,455.8 157.7,455.7 157.9,455.5 158,455.6 158.1,455.2 158.3,455.1 158.4,455 158.6,455 158.7,454.8 158.8,454.7 159,454.5 159.1,454.5 159.3,454.5 159.4,454.2 159.5,454.1 159.7,454 159.8,454 160,453.9 160.1,453.8 160.2,453.8 160.4,453.6 160.5,453.4 160.7,453.6 160.8,453.7 160.9,453.3 161.1,453.2 161.2,453.2 161.4,453.2 161.5,453.3 161.6,453.3 161.8,453.1 161.9,453.3 162.1,453.3 162.2,453.2 162.3,452.9 162.5,452.9 162.6,453.1 162.8,453.1 162.9,453 163,453.1 163.2,452.8 163.3,453 163.5,453 163.6,452.8 163.7,452.9 163.9,452.8 164,452.8 164.2,452.9 164.3,452.8 164.4,452.8 164.6,452.8 164.7,452.8 164.9,452.6 165,452.4 165.1,452.2 165.3,452.1 165.4,452 165.6,452 165.7,452.3 165.8,452.5 166,452.8 166.1,452.7 166.3,452.8 166.4,453 166.5,453.2 166.7,453.4 166.8,453.3 167,453.2 167.1,453.1 167.2,453 167.4,452.9 167.5,452.7 167.7,452.8 167.8,452.7 167.9,452.6 168.1,452.5 168.2,452.2 168.4,452 168.5,452.1 168.6,452 168.8,451.8 168.9,451.7 169.1,451.6 169.2,451.7 169.3,451.3 169.5,450.9 169.6,450.5 169.8,450.4 169.9,450.2 170,449.9 170.2,449.6 170.3,449.4 170.5,448.7 170.6,448.8 170.7,448.4 170.9,447.7 171,447.6 171.2,447.5 171.3,447.4 171.4,446.9 171.6,446.4 171.7,446.3 171.9,445.9 172,445.9 172.1,445.5 172.3,445.4 172.4,444.7 172.6,443.8 172.7,443.8 172.8,442.8 173,442.1 173.1,441.3 173.3,438.9 173.4,436.3 173.5,433.5 173.7,435.1 173.9,436.4 174.1,438.1 174.3,438.1 174.5,439.8 174.7,439.9 174.9,438.9 175.1,437.2 175.3,436.2 175.5,434.5 175.7,432.9 175.9,431.8 176.1,430.3 176.3,429.4 176.5,427 176.7,426.7 176.9,425.9 177,425.1 177.2,427.3 177.3,429.4 177.4,429.1 177.6,427.3 177.7,426.6 177.9,424.7 178,422.4 178.2,422.2 178.3,423.5 178.4,424.1 178.6,425 178.7,425.8 178.9,425.2 179,425 179.2,425.5 179.3,423.6 179.5,423.4 179.6,421.9 179.7,421.9 179.9,420.8 180.1,421.1 180.2,424.4 180.4,425.8 180.6,427.4 180.8,428.9 180.9,428 181.1,426.2 181.3,426.1 181.5,426.1 181.7,425.2 181.8,425.8 182,429.6 182.2,432.5 182.4,435.4 182.5,436.8 182.7,437.4 182.8,437.3 183,437.3 183.1,436.9 183.3,435.9 183.4,435.7 183.6,435.9 183.7,435.3 183.8,435 184,434.7 184.1,436.2 184.3,438.1 184.4,439.6 184.6,440 184.7,439.3 184.9,439.7 185,440.4 185.2,439.8 185.3,440.1 185.4,441 185.6,440.1 185.7,440.5 185.9,440.3 186,441.4 186.2,439.4 186.3,437.6 186.4,436.1 186.5,435 186.6,434.2 186.8,435.5" fill="none" stroke="#000" stroke-width="1.25" stroke-linejoin="round"/>
<polyline clip-path="url(#c11)" points="17.4,428.5 17.8,429.2 18.2,429.1 18.5,428.9 18.8,429.7 19.2,430 19.5,430 19.8,430.5 20,429.5 20.3,429.8 20.6,428.8 20.9,429 21.2,429.1 21.5,428.8 21.8,429 22.2,429.4 22.5,429.2 22.8,429.6 23.2,429.8 23.5,430.3 23.8,430.1 24.1,430.1 24.4,431.6 24.7,431.5 25,432.2 25.4,432.7 25.7,432.9 26,432.7 26.4,432.9 26.7,431.1 27,431.3 27.2,431.4 27.6,432.1 27.9,432.3 28.3,431.9 28.6,431.2 29,432 29.3,431.2 29.7,431 30.1,432 30.4,432.1 30.8,430.5 31.1,429.7 31.5,429 31.9,427.6 32.2,426.8 32.4,425.9 32.7,425.8 33,424.9 33.4,424.9 33.7,424.2 34,424.8 34.4,423.8 34.7,423 35,422 35.3,421.8 35.6,422.1 35.9,421.8 36.2,421.8 36.5,422.2 36.8,422.9 37.1,421.9 37.3,422.6 37.7,423.1 38,423 38.4,423.6 38.7,423.6 39,423.5 39.4,423.7 39.7,424.3 39.9,424.9 40.2,424.5 40.5,424.4 40.8,424.3 41.1,425.2 41.4,425.6 41.7,425.8 42,426.4 42.3,426.7 42.7,427.4 43,427.3 43.4,427.2 43.7,427.5 44,428.6 44.3,428.9 44.6,429.7 44.9,429.8 45.2,430.6 45.6,431 45.9,431.6 46.2,431.8 46.6,432.4 46.9,432.2 47.2,432.8 47.4,432.8 47.8,433.7 48.1,434.3 48.5,435.2 48.8,436.1 49.1,435.8 49.5,437 49.8,437.5 50,437.7 50.3,438.9 50.7,438.7 51,439.3 51.3,439.9 51.7,439.8 52,439.7 52.3,440.1 52.6,441.3 52.9,441 53.2,441.5 53.5,441.7 53.8,441.2 54.1,440.3 54.4,441.4 54.7,441.5 55,440.7 55.3,440.4 55.7,440.8 56,440.4 56.3,440.4 56.7,439.9 57,439.4 57.2,439.2 57.5,438.6 57.9,438.4 58.2,439.5 58.5,440.3 58.9,439.8 59.2,440.1 59.6,440 59.8,440.6 60.1,441 60.4,440.9 60.7,441.4 61,441.9 61.3,442.2 61.6,442.9 61.9,442.1 62.2,443.2 62.5,443.5 62.9,444.2 63.2,443.9 63.5,443.3 63.9,443.5 64.2,443.7 64.5,444.4 64.8,444.9 65,445 65.3,445.5 65.6,446.5 65.9,446.3 66.2,446.2 66.5,446.5 66.9,446.2 67.2,446.8 67.5,447.7 67.9,447.4 68.2,448.4 68.5,448.2 68.8,449.3 69.1,449.8 69.4,449.5 69.7,449.6 70.1,450.4 70.4,450.8 70.8,450.3 71.1,450.7 71.4,449.8 71.7,449.3 72,449 72.2,448.6 72.5,448.2 72.8,448.2 73.1,448 73.4,447.2 73.7,447.6 74,448.2 74.3,447.3 74.6,446.2 74.9,445.2 75.2,444.7 75.5,444.1 75.8,444.3 76.2,443.8 76.5,442.9 76.8,442.8 77.2,441.4 77.5,440.7 77.8,441.4 78,441.4 78.3,440.2 78.6,440.5 78.9,440.4 79.2,440.1 79.5,440.3 79.8,440.3 80.2,441.9 80.5,442.1 80.8,441.8 81.2,442 81.5,441.4 81.8,441.8 82.1,441.2 82.4,441.7 82.7,442.3 82.9,441.9 83.2,442.8 83.5,443.1 83.8,443.4 84.1,443.6 84.5,443.4 84.8,444 85.2,443.5 85.5,443.9 85.8,444 86.1,444.8 86.4,444 86.7,443.8 87,443.6 87.3,442.7 87.7,442.1 88,441.5 88.4,441.4 88.7,440.9 89,440.4 89.3,439.8 89.6,439.6 89.9,439.3 90.2,438.8 90.4,438 90.7,438.4 91,437.2 91.4,437.1 91.7,437.8 92,436.8 92.4,436.8 92.7,436 93,436.5 93.3,437.3 93.6,437.1 93.9,438.7 94.2,438.2 94.5,436.6 94.8,436.7 95.1,437 95.4,437 95.7,437.5 96,438.2 96.4,438.4 96.7,438.6 97,439.2 97.4,439.1 97.7,438.9 97.9,439 98.2,439.4 98.5,439.7 98.8,438.8 99.1,438 99.4,437.9 99.7,437.1 100,436.8 100.3,436.8 100.5,436.7 100.8,435.9 101.1,436.1 101.5,435.3 101.8,434.8 102.1,435.4 102.5,434.2 102.8,434.1 103.1,433.8 103.4,434.5 103.7,434.9 104,435.5 104.3,435.4 104.6,435.8 104.9,435.7 105.2,435.4 105.4,436.1 105.8,435.3 106.1,435.9 106.5,437 106.8,437.1 107.1,437.6 107.5,437.7 107.8,437.9 108,437.8 108.3,437.4 108.6,437.9 108.9,437.8 109.2,437.8 109.5,438 109.8,439.1 110.1,437.9 110.4,437.7 110.8,437.6 111.1,438.1 111.5,438.5 111.8,439.9 112.1,438.3 112.4,438.8 112.7,438.3 112.9,437.5 113.2,437.9 113.5,436.9 113.8,436.6 114.1,435.9 114.4,435.6 114.8,435.8 115.1,435.4 115.4,435.6 115.8,435.3 116.1,435.1 116.4,435 116.7,434.9 117,435.3 117.3,435.7 117.6,435.4 117.8,435.7 118.1,436 118.4,435.6 118.8,435.2 119.1,434.6 119.4,435.2 119.8,435 120.1,434.7 120.4,433.9 120.7,434 121,434 121.3,433.8 121.6,433.7 121.9,435.2 122.2,436.1 122.5,436.1 122.8,435.3 123.1,436.1 123.4,436.6 123.8,437.5 124.1,439.1 124.4,439.3 124.8,439.2 125.1,439.3 125.3,439.8 125.6,440.1 126,441.7 126.3,441.6 126.6,441.9 127,442.8 127.3,441.3 127.7,441.9 127.9,441.5 128.2,442.4 128.5,442.2 128.8,441.9 129.1,441.3 129.4,441.6 129.7,441.3 130,442.1 130,441.9 130.3,442 130.6,442 130.9,443.2 131.2,442.5 131.5,442.6 131.8,442.5 132.2,441.6 132.5,441.8 132.8,442.2 133.2,441.4 133.5,441.4 133.8,441.4 134,441.7 134.3,441.3 134.6,440.9 134.9,440.8 135.2,440.4 135.5,440.7 135.8,440.4 136.2,440 136.5,439.7 136.8,439.6 137.2,440.2 137.5,439.8 137.8,439.8 138.1,440 138.4,439.5 138.7,440.4 139,440.4 139.4,440.4 139.7,441.2 140,441.3 140.4,441.7 140.7,442.2 141,443.7 141.2,442.6 141.5,443.3 141.8,443.7 142.1,442.9 142.4,443.7 142.7,444.1 143,444.9 143.4,444.6 143.7,444.3 144,445.1 144.4,445.9 144.7,445.5 145,446.1 145.3,447 145.6,446.6 145.9,447 146.2,446.3 146.4,446.9 146.7,447.3 147,447.5 147.4,447.6 147.7,447.2 148,447.7 148.4,446.7 148.7,447.6 149,447.2 149.3,447.7 149.6,447.4 149.9,447.5 150.2,447 150.5,447.1 150.8,446.8 151.1,447 151.3,447.1 151.7,447.6 152,447 152.4,446.5 152.7,445.8 153.1,444.8 153.4,444.1 153.8,442.4 154.2,443.5 154.5,444.1 154.9,444.7 155.2,445.5 155.6,446.2 156,447.7 156.3,448.2 156.7,449.1 157,449.3 157.4,450.9 157.8,451 158.1,452.5 158.5,453.2 158.8,453.5 159.2,454 159.6,454.4 159.9,454.3 160.3,454.3 160.6,454.1 160.9,453.4 161.2,453 161.4,452.3 161.8,452.8 162.1,452.7 162.4,452.1 162.8,451.9 163.1,450.9 163.5,450 163.7,449.1 164,449.4 164.3,449.2 164.6,449.1 164.9,447.5 165.2,448.3 165.5,447.9 165.8,447.1 166.1,446.1 166.4,445.5 166.8,444.6 167.1,443.8 167.5,443.6 167.8,443.2 168.1,443.7 168.4,443.5 168.7,443 168.9,442.1 169.2,441.8 169.5,442.3 169.8,441.4 170.1,441.2 170.4,440.8 170.8,440 171.1,439.5 171.4,440.1 171.8,439.2 172.1,438 172.4,437.9 172.7,437.1 173,436.4 173.3,436.1 173.6,435.6 173.8,434.8 174.1,434.7 174.4,433.9 174.8,433.6 175.1,432.7 175.4,432 175.8,431.2 176.1,429.8 176.4,429.1 176.7,427.6 177,427.2 177.3,426.1 177.6,425.8 178,425 178.3,423.7 178.7,423.7 179,422.3 179.3,421.9 179.6,420.6 179.9,418.5 180.2,418.4 180.5,417.3 180.9,417.2 181.2,416.6 181.5,415.2 181.9,414.4 182.2,413.3 182.5,412.7 182.8,412.5 183.1,411.9 183.4,410.5 183.8,410.7 184.1,410.9 184.4,410.4 184.8,409.7 185.1,409.3 185.4,409.5 185.7,410.4 186,409.8 186.2,409.4 186.5,409.5 186.8,409.6" fill="none" stroke="#7a7a7a" stroke-width="1.25" stroke-linejoin="round"/>
<line x1="16" y1="412.8" x2="17.2" y2="412.8" stroke="#8c8c8c" stroke-width="0.8"/>
<text x="14.9" y="413.1" font-size="4.7" text-anchor="end">550</text>
<line x1="16" y1="423.34" x2="17.2" y2="423.34" stroke="#8c8c8c" stroke-width="0.8"/>
<text x="14.9" y="423.64" font-size="4.7" text-anchor="end">500</text>
<line x1="16" y1="433.88" x2="17.2" y2="433.88" stroke="#8c8c8c" stroke-width="0.8"/>
<text x="14.9" y="434.18" font-size="4.7" text-anchor="end">450</text>
<line x1="16" y1="444.42" x2="17.2" y2="444.42" stroke="#8c8c8c" stroke-width="0.8"/>
<text x="14.9" y="444.72" font-size="4.7" text-anchor="end">400</text>
<line x1="16" y1="454.96" x2="17.2" y2="454.96" stroke="#8c8c8c" stroke-width="0.8"/>
<text x="14.9" y="455.26" font-size="4.7" text-anchor="end">350</text>
<line x1="186.8" y1="459.65" x2="187.8" y2="459.65" stroke="#8c8c8c" stroke-width="0.8"/>
<text x="188.8" y="460.4" font-size="4.7">0</text>
<line x1="186.8" y1="453.4" x2="187.8" y2="453.4" stroke="#8c8c8c" stroke-width="0.8"/>
<line x1="186.8" y1="447.15" x2="187.8" y2="447.15" stroke="#8c8c8c" stroke-width="0.8"/>
<text x="188.8" y="447.9" font-size="4.7">20,000</text>
<line x1="186.8" y1="440.9" x2="187.8" y2="440.9" stroke="#8c8c8c" stroke-width="0.8"/>
<line x1="186.8" y1="434.65" x2="187.8" y2="434.65" stroke="#8c8c8c" stroke-width="0.8"/>
<text x="188.8" y="435.4" font-size="4.7">40,000</text>
<line x1="186.8" y1="428.4" x2="187.8" y2="428.4" stroke="#8c8c8c" stroke-width="0.8"/>
<line x1="186.8" y1="422.15" x2="187.8" y2="422.15" stroke="#8c8c8c" stroke-width="0.8"/>
<text x="188.8" y="422.9" font-size="4.7">60,000</text>
<line x1="186.8" y1="415.9" x2="187.8" y2="415.9" stroke="#8c8c8c" stroke-width="0.8"/>
<line x1="186.8" y1="409.65" x2="187.8" y2="409.65" stroke="#8c8c8c" stroke-width="0.8"/>
<text x="188.8" y="410.4" font-size="4.7">80,000</text>
<line x1="29.6" y1="459.65" x2="29.6" y2="461.25" stroke="#8c8c8c" stroke-width="0.8"/>
<line x1="50.25" y1="459.65" x2="50.25" y2="461.25" stroke="#8c8c8c" stroke-width="0.8"/>
<line x1="70.9" y1="459.65" x2="70.9" y2="461.25" stroke="#8c8c8c" stroke-width="0.8"/>
<line x1="91.55" y1="459.65" x2="91.55" y2="461.25" stroke="#8c8c8c" stroke-width="0.8"/>
<line x1="112.2" y1="459.65" x2="112.2" y2="461.25" stroke="#8c8c8c" stroke-width="0.8"/>
<line x1="132.85" y1="459.65" x2="132.85" y2="461.25" stroke="#8c8c8c" stroke-width="0.8"/>
<line x1="153.5" y1="459.65" x2="153.5" y2="461.25" stroke="#8c8c8c" stroke-width="0.8"/>
<line x1="174.15" y1="459.65" x2="174.15" y2="461.25" stroke="#8c8c8c" stroke-width="0.8"/>
<text x="20.3" y="465.8" font-size="4.7" text-anchor="middle">2013</text>
<text x="39.3" y="465.8" font-size="4.7" text-anchor="middle">2014</text>
<text x="59.8" y="465.8" font-size="4.7" text-anchor="middle">2015</text>
<text x="80.6" y="465.8" font-size="4.7" text-anchor="middle">2016</text>
<text x="101.2" y="465.8" font-size="4.7" text-anchor="middle">2017</text>
<text x="121.85" y="465.8" font-size="4.7" text-anchor="middle">2018</text>
<text x="142.5" y="465.8" font-size="4.7" text-anchor="middle">2019</text>
<text x="163.4" y="465.8" font-size="4.7" text-anchor="middle">2020</text>
<text x="182.5" y="465.8" font-size="4.7" text-anchor="middle">2021</text>
<text x="103.9" y="410.1" font-size="5.2" text-anchor="middle">(11) CRB commodity index Vs. Bitcoin</text>
<clipPath id="c12"><rect x="226.6" y="402.65" width="169.9" height="56.2"/></clipPath>
<rect x="226.6" y="402.65" width="169.9" height="56.2" fill="none" stroke="#8c8c8c" stroke-width="1.3"/>
<polyline points="226.6,458.8 226.7,458.8 226.9,458.8 227,458.8 227.2,458.8 227.3,458.8 227.4,458.8 227.6,458.8 227.7,458.8 227.8,458.8 228,458.8 228.1,458.8 228.3,458.8 228.4,458.8 228.5,458.8 228.7,458.8 228.8,458.8 229,458.8 229.1,458.8 229.3,458.8 229.4,458.8 229.5,458.8 229.7,458.8 229.8,458.8 230,458.8 230.1,458.8 230.2,458.8 230.4,458.8 230.5,458.8 230.7,458.8 230.8,458.8 230.9,458.8 231.1,458.8 231.2,458.8 231.4,458.8 231.5,458.8 231.7,458.8 231.8,458.8 231.9,458.8 232.1,458.8 232.2,458.8 232.3,458.8 232.5,458.8 232.6,458.8 232.8,458.8 232.9,458.8 233.1,458.8 233.2,458.8 233.3,458.8 233.5,458.8 233.6,458.8 233.8,458.8 233.9,458.8 234,458.8 234.2,458.8 234.3,458.8 234.5,458.8 234.6,458.8 234.7,458.8 234.9,458.8 235,458.8 235.2,458.8 235.3,458.8 235.4,458.8 235.6,458.8 235.7,458.8 235.9,458.8 236,458.8 236.2,458.8 236.3,458.7 236.4,458.7 236.6,458.7 236.7,458.7 236.8,458.7 237,458.7 237.1,458.7 237.3,458.7 237.4,458.7 237.6,458.7 237.7,458.6 237.8,458.6 238,458.5 238.1,458.5 238.3,458.4 238.4,458.3 238.5,458.2 238.7,458.2 238.8,458.2 239,458.2 239.1,458.2 239.2,458.3 239.4,458.4 239.5,458.4 239.7,458.5 239.8,458.5 239.9,458.5 240.1,458.5 240.2,458.4 240.4,458.4 240.5,458.3 240.7,458.3 240.8,458.3 240.9,458.3 241.1,458.3 241.2,458.3 241.4,458.3 241.5,458.3 241.6,458.3 241.8,458.4 241.9,458.4 242.1,458.4 242.2,458.4 242.3,458.4 242.5,458.4 242.6,458.4 242.8,458.4 242.9,458.4 243,458.5 243.2,458.5 243.3,458.5 243.5,458.5 243.6,458.5 243.8,458.5 243.9,458.5 244,458.5 244.2,458.5 244.3,458.5 244.4,458.5 244.6,458.5 244.7,458.5 244.9,458.5 245,458.5 245.2,458.5 245.3,458.6 245.4,458.6 245.6,458.6 245.7,458.6 245.9,458.6 246,458.6 246.1,458.6 246.3,458.6 246.4,458.6 246.6,458.6 246.7,458.6 246.8,458.6 247,458.6 247.1,458.6 247.3,458.6 247.4,458.6 247.5,458.6 247.7,458.6 247.8,458.6 248,458.6 248.1,458.6 248.2,458.5 248.4,458.5 248.5,458.5 248.7,458.5 248.8,458.5 248.9,458.5 249.1,458.4 249.2,458.4 249.4,458.4 249.5,458.4 249.7,458.4 249.8,458.4 249.9,458.5 250.1,458.5 250.2,458.5 250.4,458.4 250.5,458.4 250.6,458.5 250.8,458.5 250.9,458.5 251.1,458.5 251.2,458.5 251.3,458.5 251.5,458.5 251.6,458.5 251.8,458.5 251.9,458.5 252,458.5 252.2,458.5 252.3,458.5 252.5,458.5 252.6,458.5 252.8,458.5 252.9,458.5 253,458.5 253.2,458.6 253.3,458.6 253.5,458.6 253.6,458.6 253.7,458.6 253.9,458.6 254,458.6 254.2,458.6 254.3,458.6 254.4,458.6 254.6,458.6 254.7,458.6 254.9,458.6 255,458.6 255.1,458.6 255.3,458.6 255.4,458.6 255.6,458.6 255.7,458.6 255.8,458.6 256,458.6 256.1,458.7 256.3,458.6 256.4,458.6 256.6,458.6 256.7,458.6 256.8,458.6 257,458.6 257.1,458.6 257.2,458.6 257.4,458.6 257.5,458.6 257.7,458.6 257.8,458.6 258,458.6 258.1,458.6 258.2,458.6 258.4,458.6 258.5,458.6 258.7,458.6 258.8,458.6 258.9,458.6 259.1,458.6 259.2,458.6 259.4,458.6 259.5,458.6 259.6,458.6 259.8,458.6 259.9,458.6 260.1,458.6 260.2,458.6 260.4,458.6 260.5,458.6 260.6,458.6 260.8,458.6 260.9,458.7 261.1,458.7 261.2,458.7 261.3,458.7 261.5,458.7 261.6,458.7 261.8,458.7 261.9,458.7 262,458.7 262.2,458.7 262.3,458.7 262.5,458.7 262.6,458.7 262.7,458.7 262.9,458.7 263,458.7 263.2,458.7 263.3,458.7 263.4,458.7 263.6,458.7 263.7,458.7 263.9,458.7 264,458.7 264.1,458.7 264.3,458.7 264.4,458.7 264.6,458.7 264.7,458.7 264.9,458.7 265,458.7 265.1,458.7 265.3,458.7 265.4,458.7 265.6,458.7 265.7,458.7 265.8,458.7 266,458.7 266.1,458.7 266.3,458.7 266.4,458.7 266.5,458.7 266.7,458.7 266.8,458.7 267,458.7 267.1,458.7 267.2,458.7 267.4,458.7 267.5,458.7 267.7,458.7 267.8,458.7 267.9,458.7 268.1,458.7 268.2,458.7 268.4,458.7 268.5,458.7 268.6,458.7 268.8,458.7 268.9,458.7 269.1,458.7 269.2,458.7 269.4,458.7 269.5,458.7 269.6,458.7 269.8,458.7 269.9,458.7 270.1,458.7 270.2,458.7 270.3,458.7 270.5,458.7 270.6,458.7 270.8,458.7 270.9,458.7 271,458.7 271.2,458.7 271.3,458.7 271.5,458.7 271.6,458.7 271.8,458.7 271.9,458.7 272,458.7 272.2,458.7 272.3,458.7 272.4,458.7 272.6,458.7 272.7,458.7 272.9,458.7 273,458.7 273.1,458.7 273.3,458.7 273.4,458.7 273.6,458.7 273.7,458.7 273.9,458.7 274,458.7 274.1,458.7 274.3,458.7 274.4,458.7 274.6,458.7 274.7,458.7 274.8,458.7 275,458.7 275.1,458.7 275.3,458.7 275.4,458.7 275.5,458.7 275.7,458.7 275.8,458.7 276,458.7 276.1,458.7 276.2,458.7 276.4,458.7 276.5,458.7 276.7,458.7 276.8,458.7 276.9,458.7 277.1,458.7 277.2,458.7 277.4,458.7 277.5,458.7 277.6,458.6 277.8,458.6 277.9,458.6 278.1,458.6 278.2,458.6 278.4,458.6 278.5,458.6 278.6,458.6 278.8,458.7 278.9,458.7 279.1,458.6 279.2,458.6 279.3,458.6 279.5,458.6 279.6,458.6 279.8,458.6 279.9,458.6 280.1,458.6 280.2,458.6 280.3,458.6 280.5,458.6 280.6,458.6 280.8,458.6 280.9,458.6 281,458.6 281.2,458.6 281.3,458.6 281.4,458.6 281.6,458.6 281.7,458.6 281.9,458.6 282,458.6 282.2,458.6 282.3,458.6 282.4,458.6 282.6,458.6 282.7,458.6 282.9,458.6 283,458.6 283.1,458.6 283.3,458.6 283.4,458.6 283.6,458.6 283.7,458.6 283.9,458.6 284,458.6 284.1,458.6 284.3,458.6 284.4,458.6 284.6,458.6 284.7,458.6 284.8,458.6 285,458.6 285.1,458.6 285.2,458.6 285.4,458.6 285.5,458.6 285.7,458.6 285.8,458.6 286,458.6 286.1,458.6 286.2,458.6 286.4,458.6 286.5,458.6 286.7,458.6 286.8,458.6 286.9,458.6 287.1,458.6 287.2,458.6 287.4,458.6 287.5,458.6 287.6,458.6 287.8,458.6 287.9,458.6 288.1,458.6 288.2,458.6 288.4,458.6 288.5,458.6 288.6,458.6 288.8,458.6 288.9,458.5 289.1,458.5 289.2,458.5 289.3,458.5 289.5,458.5 289.6,458.5 289.8,458.5 289.9,458.5 290,458.5 290.2,458.5 290.3,458.5 290.5,458.4 290.6,458.4 290.7,458.4 290.9,458.4 291,458.4 291.2,458.4 291.3,458.4 291.4,458.4 291.6,458.4 291.7,458.4 291.9,458.4 292,458.4 292.1,458.4 292.3,458.4 292.4,458.4 292.6,458.5 292.7,458.5 292.9,458.5 293,458.5 293.1,458.5 293.3,458.5 293.4,458.5 293.6,458.5 293.7,458.5 293.8,458.5 294,458.5 294.1,458.5 294.3,458.5 294.4,458.5 294.5,458.5 294.7,458.5 294.8,458.5 295,458.5 295.1,458.5 295.2,458.5 295.4,458.5 295.5,458.5 295.7,458.5 295.8,458.5 295.9,458.5 296.1,458.5 296.2,458.5 296.4,458.5 296.5,458.5 296.6,458.5 296.8,458.5 296.9,458.5 297.1,458.5 297.2,458.5 297.4,458.5 297.5,458.5 297.6,458.5 297.8,458.5 297.9,458.5 298.1,458.5 298.2,458.4 298.3,458.4 298.5,458.4 298.6,458.4 298.8,458.4 298.9,458.4 299,458.4 299.2,458.4 299.3,458.4 299.5,458.4 299.6,458.4 299.7,458.4 299.9,458.4 300,458.4 300.2,458.4 300.3,458.4 300.4,458.4 300.6,458.4 300.7,458.3 300.9,458.3 301,458.3 301.1,458.3 301.3,458.3 301.4,458.2 301.6,458.2 301.7,458.2 301.9,458.2 302,458.2 302.1,458.2 302.3,458.2 302.4,458.2 302.6,458.3 302.7,458.4 302.8,458.4 303,458.3 303.1,458.3 303.3,458.3 303.4,458.3 303.5,458.3 303.7,458.3 303.8,458.3 304,458.2 304.1,458.2 304.2,458.2 304.4,458.2 304.5,458.2 304.7,458.2 304.8,458.2 304.9,458.2 305.1,458.1 305.2,458.1 305.4,458.1 305.5,458.1 305.6,458.1 305.8,458.2 305.9,458.2 306.1,458.2 306.2,458.2 306.4,458.2 306.5,458.2 306.6,458.2 306.8,458.3 306.9,458.2 307.1,458.2 307.2,458.2 307.3,458.2 307.5,458.2 307.6,458.2 307.8,458.2 307.9,458.1 308,458.1 308.2,458.1 308.3,458.1 308.5,458 308.6,458 308.8,458 308.9,458 309,457.9 309.2,457.9 309.3,457.8 309.4,457.7 309.6,457.7 309.7,457.6 309.9,457.6 310,457.4 310.1,457.4 310.3,457.4 310.4,457.3 310.6,457.3 310.7,457.2 310.9,457.2 311,457.1 311.1,457.1 311.3,457 311.4,457 311.6,457.1 311.7,457.2 311.8,457.1 312,457.3 312.1,457.3 312.3,457.3 312.4,457.4 312.6,457.4 312.7,457.5 312.8,457.5 313,457.6 313.1,457.6 313.2,457.6 313.4,457.5 313.5,457.4 313.7,457.4 313.8,457.3 313.9,457.2 314.1,457.2 314.2,457 314.4,456.9 314.5,456.8 314.7,456.7 314.8,456.6 314.9,456.6 315.1,456.4 315.2,456.3 315.4,456.2 315.5,456.1 315.6,455.9 315.8,455.9 315.9,455.9 316.1,456.1 316.2,456.4 316.3,456.5 316.5,456.7 316.6,456.8 316.8,456.7 316.9,456.6 317.1,456.5 317.2,456.4 317.3,456.3 317.5,456.2 317.6,456 317.8,455.9 317.9,455.9 318,455.7 318.2,455.6 318.3,455.4 318.4,455.3 318.6,455.3 318.7,455.1 318.9,454.9 319,454.9 319.2,454.8 319.3,454.8 319.4,454.9 319.6,454.9 319.7,454.9 319.9,455.1 320,454.8 320.1,454.3 320.3,454.1 320.4,453.7 320.6,453.2 320.7,452.8 320.9,452.5 321,452 321.1,451 321.3,450.2 321.4,449.6 321.6,448.6 321.7,447.9 321.8,446.9 322,448.2 322.1,449.9 322.2,450 322.4,449.5 322.5,449.1 322.6,449 322.8,448.4 322.9,448.3 323.1,448.9 323.2,449.7 323.3,450.5 323.5,451.7 323.6,451.8 323.7,451.7 323.9,451.8 324,451.6 324.1,451.6 324.3,452.5 324.4,453.5 324.6,454.5 324.7,454.2 324.8,453.7 324.9,453.4 325.1,452.8 325.2,452.4 325.4,452 325.5,451.8 325.6,452 325.8,451.9 325.9,451.7 326,451.6 326.2,451.9 326.3,452 326.4,452.4 326.6,452.5 326.7,452.6 326.9,453.1 327,453.1 327.1,453.6 327.3,453.7 327.4,454 327.5,454.2 327.7,454.5 327.8,454.8 327.9,454.6 328.1,454.4 328.2,454.2 328.4,453.9 328.5,453.9 328.6,453.7 328.8,453.5 328.9,453.4 329,453.1 329.2,453.2 329.3,452.9 329.4,453.1 329.6,452.8 329.7,453 329.8,453 330,453 330.1,453.3 330.2,453.5 330.4,453.6 330.5,453.7 330.7,453.8 330.8,453.8 330.9,454 331.1,454.1 331.2,454.2 331.3,454.2 331.5,454.4 331.6,454.6 331.8,454.6 331.9,454.8 332,454.9 332.1,454.9 332.3,455.1 332.4,455.2 332.6,455 332.7,454.9 332.8,454.8 333,454.5 333.1,454.4 333.2,454.3 333.4,454.2 333.5,454.1 333.6,454 333.8,453.7 333.9,453.9 334.1,454.1 334.2,454.2 334.3,454.3 334.5,454.5 334.6,454.7 334.7,454.8 334.9,455.1 335,455 335.1,454.9 335.3,454.9 335.4,455 335.6,454.9 335.7,454.8 335.8,454.9 336,454.9 336.1,454.8 336.2,454.9 336.4,454.8 336.5,454.9 336.6,454.8 336.8,454.8 336.9,454.8 337,454.7 337.2,454.6 337.3,454.8 337.4,454.8 337.6,454.7 337.7,454.9 337.9,454.8 338,454.8 338.1,454.9 338.3,454.9 338.4,455 338.5,454.9 338.7,455.1 338.8,455.1 338.9,455.1 339.1,455.1 339.2,455.1 339.4,455.2 339.5,455.2 339.6,455.2 339.8,455.2 339.9,455.3 340,455.6 340.2,455.8 340.3,456.1 340.4,456.4 340.6,456.4 340.7,456.5 340.9,456.7 341,456.7 341.1,456.7 341.2,456.7 341.4,456.8 341.5,456.9 341.7,456.9 341.8,456.8 341.9,456.7 342.1,456.7 342.2,456.6 342.3,456.6 342.5,456.6 342.6,456.5 342.8,456.5 342.9,456.5 343,456.6 343.1,456.6 343.3,456.6 343.4,456.6 343.6,456.6 343.7,456.6 343.8,456.6 344,456.6 344.1,456.6 344.2,456.7 344.4,456.7 344.5,456.7 344.6,456.6 344.8,456.6 344.9,456.6 345.1,456.6 345.2,456.6 345.3,456.5 345.5,456.5 345.6,456.6 345.7,456.5 345.9,456.4 346,456.5 346.1,456.4 346.3,456.4 346.4,456.4 346.6,456.4 346.7,456.3 346.8,456.4 347,456.3 347.1,456.3 347.2,456.3 347.4,456.3 347.5,456.1 347.6,455.9 347.8,455.8 347.9,455.7 348,455.6 348.2,455.5 348.3,455.3 348.4,455.1 348.6,455 348.7,454.9 348.9,454.8 349,454.5 349.1,454.5 349.3,454.4 349.4,454.1 349.5,454.1 349.7,454 349.8,453.8 349.9,453.6 350.1,453.4 350.2,453.2 350.4,453.2 350.5,452.8 350.6,452.7 350.8,452.6 350.9,452.3 351,452.2 351.2,452 351.3,451.7 351.4,451.5 351.6,451.5 351.7,451.2 351.9,451.2 352,450.7 352.1,451 352.2,451.1 352.4,451.6 352.5,451.7 352.7,451.8 352.8,452.5 352.9,452.6 353.1,452.8 353.2,452.9 353.3,452.8 353.5,452.4 353.6,452.4 353.7,452.4 353.9,451.9 354,452 354.1,451.5 354.3,451.5 354.4,451.5 354.6,451.5 354.7,451.8 354.8,452 354.9,452.2 355.1,452 355.2,452.1 355.4,452.4 355.5,452.3 355.6,452.5 355.8,452.6 355.9,453 356,452.9 356.2,452.9 356.3,453 356.4,453.1 356.6,453.5 356.7,453.4 356.8,453.5 357,453.4 357.1,453.7 357.2,453.6 357.4,453.5 357.5,453.4 357.6,453.4 357.8,453.3 357.9,453.4 358,453.2 358.2,453.3 358.3,453.2 358.5,453.2 358.6,453.2 358.7,453 358.9,453.2 359,453.3 359.1,453.3 359.3,453.4 359.4,453.6 359.5,453.6 359.7,453.6 359.8,453.7 359.9,453.9 360.1,454.1 360.2,453.9 360.4,454.1 360.5,454.2 360.6,454.3 360.8,454.3 360.9,454.4 361,454.6 361.1,454.6 361.3,454.7 361.4,454.8 361.6,454.8 361.7,454.6 361.8,454.7 362,454.5 362.1,454.5 362.2,454.4 362.4,454.2 362.5,454.2 362.6,454.1 362.8,453.9 362.9,453.8 363,453.8 363.2,453.6 363.3,453.5 363.4,453.4 363.6,453.2 363.7,453.1 363.9,452.9 364,452.8 364.1,452.7 364.3,452.7 364.4,452.6 364.5,452.5 364.7,452.8 364.8,453.1 364.9,453.5 365.1,453.6 365.2,453.9 365.3,454.3 365.5,454.5 365.6,454.7 365.7,455.1 365.9,455.2 366,455.8 366.1,455.8 366.3,455.7 366.4,455.4 366.6,455.2 366.7,455.4 366.9,455.1 367,455 367.1,454.9 367.3,454.7 367.4,454.8 367.5,454.4 367.7,454.4 367.8,454.2 368,454.2 368.1,454 368.2,453.9 368.4,453.7 368.5,453.7 368.7,453.7 368.8,453.4 368.9,453.3 369.1,453.2 369.2,453.2 369.4,453.1 369.5,453 369.6,453 369.8,452.8 369.9,452.7 370.1,452.9 370.2,452.9 370.3,452.6 370.5,452.4 370.6,452.4 370.8,452.4 370.9,452.5 371,452.5 371.2,452.3 371.3,452.5 371.5,452.5 371.6,452.4 371.7,452.1 371.9,452.1 372,452.3 372.2,452.3 372.3,452.2 372.4,452.3 372.6,452.1 372.7,452.2 372.9,452.2 373,452 373.1,452.2 373.3,452.1 373.4,452.1 373.6,452.1 373.7,452 373.8,452 374,452 374.1,452 374.3,451.8 374.4,451.6 374.5,451.4 374.7,451.3 374.8,451.2 375,451.2 375.1,451.5 375.2,451.7 375.4,452 375.5,451.9 375.7,452 375.8,452.2 375.9,452.4 376.1,452.6 376.2,452.5 376.4,452.5 376.5,452.3 376.6,452.2 376.8,452.1 376.9,451.9 377.1,452 377.2,451.9 377.3,451.8 377.5,451.7 377.6,451.4 377.8,451.2 377.9,451.3 378,451.2 378.2,451 378.3,450.9 378.5,450.8 378.6,450.9 378.7,450.5 378.9,450.1 379,449.7 379.2,449.6 379.3,449.4 379.4,449.1 379.6,448.8 379.7,448.6 379.9,447.9 380,448 380.1,447.6 380.3,446.9 380.4,446.8 380.6,446.7 380.7,446.6 380.8,446.1 381,445.6 381.1,445.6 381.3,445.2 381.4,445.1 381.5,444.8 381.7,444.6 381.8,443.9 382,443 382.1,443 382.2,442 382.4,441.3 382.5,440.5 382.7,438.1 382.8,435.5 382.9,432.7 383.1,434.3 383.3,435.6 383.5,437.3 383.7,437.3 383.9,439 384.1,439.1 384.3,438.1 384.5,436.4 384.7,435.5 384.9,433.7 385.1,432.2 385.3,431 385.5,429.5 385.7,428.7 385.9,426.2 386.1,425.9 386.3,425.1 386.4,424.3 386.6,426.5 386.7,428.6 386.9,428.3 387,426.5 387.1,425.8 387.3,423.9 387.4,421.6 387.6,421.4 387.7,422.7 387.9,423.3 388,424.2 388.1,425 388.3,424.5 388.4,424.2 388.6,424.7 388.7,422.8 388.9,422.6 389,421.1 389.1,421.1 389.3,420 389.5,420.3 389.6,423.6 389.8,425 390,426.6 390.2,428.1 390.4,427.2 390.5,425.5 390.7,425.3 390.9,425.3 391.1,424.4 391.2,425 391.4,428.8 391.6,431.7 391.8,434.6 391.9,436 392.1,436.6 392.2,436.5 392.4,436.5 392.5,436.1 392.7,435.1 392.8,434.9 393,435.1 393.1,434.5 393.2,434.2 393.4,433.9 393.5,435.4 393.7,437.3 393.8,438.8 394,439.2 394.1,438.6 394.3,438.9 394.4,439.6 394.6,439 394.7,439.3 394.9,440.2 395,439.3 395.1,439.7 395.3,439.5 395.4,440.6 395.6,438.7 395.7,436.8 395.8,435.3 395.9,434.2 396,433.4 396.1,434.7" fill="none" stroke="#000" stroke-width="1.25" stroke-linejoin="round"/>
<polyline clip-path="url(#c12)" points="226.7,411.7 227,410.5 227.3,410 227.6,410.3 227.9,409.7 228.3,408.5 228.6,408 228.9,408.4 229.3,407.6 229.6,409.2 229.9,409.6 230.2,409.2 230.5,407.8 230.8,408.8 231.1,405.5 231.5,404.4 231.8,405.5 232.2,405.8 232.6,407.1 232.9,407.9 233.3,407 233.6,408 233.9,408.7 234.2,409 234.5,408.8 234.8,409.3 235.1,408.9 235.5,409.5 235.8,410.8 236.2,409.8 236.5,408.4 236.8,408.1 237.1,407.6 237.4,408.5 237.7,408.3 238,407.3 238.4,408.9 238.7,408.7 239,408.8 239.4,408.5 239.7,408 240,408.7 240.3,407.6 240.6,407.7 240.9,408.3 241.2,408.5 241.4,407.8 241.7,409.9 242,410.3 242.4,410.1 242.7,411.1 243,410.1 243.4,410 243.7,408.8 244,409.8 244.3,409.4 244.6,408.1 244.9,407.6 245.2,408.3 245.5,408.2 245.8,409.1 246.1,409.2 246.3,408.8 246.7,408.3 247,406.7 247.4,406.6 247.7,406.5 248.1,405.2 248.4,407.5 248.8,408.4 249.1,408.2 249.5,408.7 249.8,410.6 250.1,409.7 250.4,411 250.7,410.1 251,411.7 251.2,411 251.5,412.2 251.8,413.2 252.1,414.5 252.5,414.9 252.8,414 253.1,414 253.5,416 253.8,418.7 254.2,419.5 254.6,420.7 254.9,420.7 255.3,421.9 255.7,422.8 256,423.8 256.4,425.8 256.7,427.2 257.1,429.3 257.4,431.9 257.8,434.4 258.2,436.9 258.5,438.9 258.9,442.9 259.3,442.9 259.6,441.7 260,440.7 260.3,439.3 260.7,437.6 261.1,436.5 261.4,435.3 261.8,436.6 262.1,436.8 262.5,437.2 262.9,435.9 263.2,435.5 263.6,434.7 263.9,433.6 264.2,434.4 264.5,434.6 264.8,434.3 265.1,432.9 265.4,432.8 265.7,431.3 266,432 266.2,432.5 266.5,432.7 266.9,432.5 267.2,433.1 267.6,432.2 267.9,431.7 268.2,433.2 268.6,433.9 268.8,434.8 269.1,435.3 269.4,435.9 269.8,435.4 270.1,436.1 270.4,436 270.8,438.3 271.1,437.9 271.4,438.3 271.7,440.1 272,440.1 272.3,442.2 272.6,441 273,441.6 273.3,440.1 273.7,439.3 274,440.1 274.3,440.7 274.6,440.4 274.9,439.9 275.2,440.5 275.5,442 275.8,442.3 276.1,442.5 276.3,443.3 276.6,442.9 277,441.9 277.3,443.4 277.6,444.3 278,444.5 278.3,444.5 278.6,445.3 278.9,445.5 279.2,446.3 279.5,446.9 279.8,448.5 280.1,449.4 280.4,450.1 280.7,451.9 281,451 281.2,451.8 281.5,450.9 281.8,448.5 282.1,449.3 282.4,448.3 282.7,448.8 283,446.1 283.3,445.3 283.6,444.7 283.9,444 284.1,443.8 284.5,444.6 284.8,443.5 285.2,442.1 285.5,442.2 285.8,441.1 286.2,442.2 286.5,442.2 286.8,439.9 287,438.9 287.3,438.1 287.6,438 287.9,438.4 288.2,438.1 288.5,438.1 288.8,438.6 289.2,440.2 289.5,440.9 289.8,441 290.2,442 290.5,442.6 290.8,443.3 291.1,443.3 291.4,443.1 291.7,442.4 292,443.4 292.4,442 292.7,441.1 293,440.5 293.4,438.5 293.7,439.9 294,440.7 294.2,441.4 294.6,440.7 294.9,441.4 295.3,440.3 295.6,440.9 295.9,441.3 296.3,440.9 296.6,441.6 296.8,440.8 297.1,439 297.4,437.4 297.7,436.7 298,436.3 298.3,438.2 298.6,439.4 298.9,437.1 299.3,437.3 299.6,437.6 299.9,436.5 300.3,436 300.6,435.4 300.9,436.7 301.2,436.8 301.5,437.1 301.8,436.8 302,437.7 302.3,438.6 302.6,438.9 302.9,438.5 303.2,438.1 303.6,438.4 303.9,438.5 304.3,438.1 304.6,436 305,436.8 305.4,437.5 305.7,438.9 306,440.3 306.4,439.4 306.7,437.9 306.9,439 307.2,438.6 307.6,439.5 307.9,440.8 308.2,440 308.6,439.4 308.9,440.8 309.2,441.7 309.5,441.9 309.8,442.2 310.1,441.8 310.4,443.7 310.7,443.9 311,442.3 311.3,442.9 311.6,442.8 311.9,443.1 312.2,441.7 312.6,441.5 312.9,441.9 313.2,439.2 313.6,438.8 313.9,438.5 314.2,438.6 314.4,437.7 314.7,438.3 315,437.9 315.3,437.6 315.6,437.3 315.9,437 316.2,435.7 316.6,435.8 316.9,435.7 317.2,434.8 317.6,435.6 317.9,434.6 318.2,435.4 318.5,434.7 318.8,432.4 319.1,431.3 319.3,430.8 319.6,431.8 319.9,430.8 320.2,429.9 320.5,430.9 320.9,430.4 321.2,430.7 321.6,430.1 321.9,430.8 322.2,429.2 322.5,430.8 322.8,431.8 323.1,430.9 323.4,430.3 323.8,430.7 324.1,432 324.4,431.6 324.8,432.1 325.1,432.7 325.4,431.7 325.7,431.9 326,430.8 326.3,430.3 326.7,429 327,427.9 327.3,427.3 327.7,425.9 328,426.7 328.3,425.4 328.6,424.5 328.9,425.2 329.1,425.5 329.4,425.6 329.7,424.5 330,424.5 330.3,424.8 330.6,425.5 331,425 331.3,425.1 331.7,425.5 332,426.2 332.3,426.3 332.6,425.8 332.9,426.6 333.2,425.9 333.5,426.9 333.8,425.9 334.1,424.9 334.3,425.2 334.6,425.9 335,424.6 335.3,424.2 335.6,423.6 336,422.2 336.4,422.3 336.7,423.5 337.1,425.8 337.4,426.3 337.8,427 338.2,428.6 338.5,430.1 338.9,432 339.2,433.9 339.6,434.4 340,434.7 340,433.9 340.4,435.6 340.7,435.8 341.1,436.8 341.4,437.8 341.8,437.2 342.2,436 342.5,434.5 342.8,435.2 343.2,434.4 343.5,434 343.8,434 344,434 344.3,431.9 344.6,431.8 344.9,431.7 345.2,431.9 345.5,431.6 345.8,430.2 346.2,430 346.5,428.9 346.8,428 347.2,428.5 347.5,428.6 347.8,427.7 348.1,426.5 348.4,427.2 348.7,427.6 349,429.6 349.4,429.9 349.7,432 350.1,431.5 350.5,432.4 350.8,433.3 351.2,432.9 351.5,433.1 351.8,433.3 352.1,433.2 352.4,434.1 352.7,435.4 353,436.5 353.4,437.2 353.7,436.9 354.1,435.6 354.4,435.3 354.7,435.3 355,434.6 355.3,435.6 355.6,435.7 355.9,434.9 356.3,435.3 356.6,434 356.9,435 357.3,435.7 357.6,435.5 357.9,435.1 358.2,435.2 358.5,434.4 358.8,432.8 359,431.6 359.3,431 359.6,429.8 359.9,430.8 360.2,429.4 360.6,429.4 360.9,428.5 361.3,429.1 361.6,431 362,431.3 362.4,433.3 362.7,435.2 363.1,434.5 363.4,436.6 363.8,438.2 364.2,439.4 364.5,441.7 364.9,443.3 365.2,444.4 365.6,445.9 366,449 366.3,449.3 366.7,453.3 367,453.8 367.4,455 367.8,455.1 368.1,454.3 368.5,452.6 368.9,451.8 369.2,449.1 369.6,447.1 369.9,446.5 370.2,447 370.6,445.7 370.9,445 371.2,445.2 371.4,445.1 371.7,444.1 372,444.5 372.3,445.1 372.6,444.2 372.9,443.5 373.2,443.2 373.6,443.2 373.9,443.5 374.2,442.7 374.6,443.1 374.9,443.2 375.2,443.5 375.5,442.9 375.8,444.5 376.1,443.9 376.3,444.7 376.6,444 376.9,444.9 377.2,444 377.5,443.3 377.9,444 378.2,444.6 378.6,445.1 378.9,445 379.2,443 379.5,443.3 379.8,443.9 380.1,443.1 380.4,442.1 380.7,441.8 381,442.4 381.2,441.5 381.5,440.9 381.9,440.7 382.2,440.7 382.5,439.2 382.9,438.1 383.3,438.4 383.6,436 384,435 384.4,434 384.7,433.4 385,434.1 385.3,433.5 385.6,432.5 385.9,431.3 386.2,430.9 386.5,429.8 386.9,430.2 387.2,428.7 387.5,428.9 387.9,428.7 388.2,428.1 388.5,428.2 388.8,428.7 389,428.6 389.4,428.5 389.8,429.3 390.1,429.4 390.5,431 390.8,431.5 391.2,431.2 391.6,430.4 391.9,429.5 392.3,429.4 392.6,427.1 393,426.8 393.3,425.1 393.6,424.9 393.9,425.1 394.2,426 394.5,425.5 394.8,427.3 395.1,425.9 395.4,426.3 395.7,427.4 396,425.3 396.2,425.9 396.5,426 396.8,427.4" fill="none" stroke="#7a7a7a" stroke-width="1.25" stroke-linejoin="round"/>
<line x1="225.4" y1="413.64" x2="226.6" y2="413.64" stroke="#8c8c8c" stroke-width="0.8"/>
<text x="224.3" y="413.94" font-size="4.7" text-anchor="end">100</text>
<line x1="225.4" y1="424.5" x2="226.6" y2="424.5" stroke="#8c8c8c" stroke-width="0.8"/>
<text x="224.3" y="424.8" font-size="4.7" text-anchor="end">80</text>
<line x1="225.4" y1="435.36" x2="226.6" y2="435.36" stroke="#8c8c8c" stroke-width="0.8"/>
<text x="224.3" y="435.66" font-size="4.7" text-anchor="end">60</text>
<line x1="225.4" y1="446.22" x2="226.6" y2="446.22" stroke="#8c8c8c" stroke-width="0.8"/>
<text x="224.3" y="446.52" font-size="4.7" text-anchor="end">40</text>
<line x1="225.4" y1="457.08" x2="226.6" y2="457.08" stroke="#8c8c8c" stroke-width="0.8"/>
<text x="224.3" y="457.38" font-size="4.7" text-anchor="end">20</text>
<line x1="396.5" y1="458.85" x2="397.5" y2="458.85" stroke="#8c8c8c" stroke-width="0.8"/>
<text x="398.5" y="459.6" font-size="4.7">0</text>
<line x1="396.5" y1="452.6" x2="397.5" y2="452.6" stroke="#8c8c8c" stroke-width="0.8"/>
<line x1="396.5" y1="446.35" x2="397.5" y2="446.35" stroke="#8c8c8c" stroke-width="0.8"/>
<text x="398.5" y="447.1" font-size="4.7">20,000</text>
<line x1="396.5" y1="440.1" x2="397.5" y2="440.1" stroke="#8c8c8c" stroke-width="0.8"/>
<line x1="396.5" y1="433.85" x2="397.5" y2="433.85" stroke="#8c8c8c" stroke-width="0.8"/>
<text x="398.5" y="434.6" font-size="4.7">40,000</text>
<line x1="396.5" y1="427.6" x2="397.5" y2="427.6" stroke="#8c8c8c" stroke-width="0.8"/>
<line x1="396.5" y1="421.35" x2="397.5" y2="421.35" stroke="#8c8c8c" stroke-width="0.8"/>
<text x="398.5" y="422.1" font-size="4.7">60,000</text>
<line x1="396.5" y1="415.1" x2="397.5" y2="415.1" stroke="#8c8c8c" stroke-width="0.8"/>
<line x1="396.5" y1="408.85" x2="397.5" y2="408.85" stroke="#8c8c8c" stroke-width="0.8"/>
<text x="398.5" y="409.6" font-size="4.7">80,000</text>
<line x1="239" y1="458.85" x2="239" y2="460.45" stroke="#8c8c8c" stroke-width="0.8"/>
<line x1="259.65" y1="458.85" x2="259.65" y2="460.45" stroke="#8c8c8c" stroke-width="0.8"/>
<line x1="280.3" y1="458.85" x2="280.3" y2="460.45" stroke="#8c8c8c" stroke-width="0.8"/>
<line x1="300.95" y1="458.85" x2="300.95" y2="460.45" stroke="#8c8c8c" stroke-width="0.8"/>
<line x1="321.6" y1="458.85" x2="321.6" y2="460.45" stroke="#8c8c8c" stroke-width="0.8"/>
<line x1="342.25" y1="458.85" x2="342.25" y2="460.45" stroke="#8c8c8c" stroke-width="0.8"/>
<line x1="362.9" y1="458.85" x2="362.9" y2="460.45" stroke="#8c8c8c" stroke-width="0.8"/>
<line x1="383.55" y1="458.85" x2="383.55" y2="460.45" stroke="#8c8c8c" stroke-width="0.8"/>
<text x="229.7" y="465" font-size="4.7" text-anchor="middle">2013</text>
<text x="248.7" y="465" font-size="4.7" text-anchor="middle">2014</text>
<text x="269.2" y="465" font-size="4.7" text-anchor="middle">2015</text>
<text x="290" y="465" font-size="4.7" text-anchor="middle">2016</text>
<text x="310.6" y="465" font-size="4.7" text-anchor="middle">2017</text>
<text x="331.25" y="465" font-size="4.7" text-anchor="middle">2018</text>
<text x="351.9" y="465" font-size="4.7" text-anchor="middle">2019</text>
<text x="372.8" y="465" font-size="4.7" text-anchor="middle">2020</text>
<text x="391.9" y="465" font-size="4.7" text-anchor="middle">2021</text>
<text x="310.95" y="409.35" font-size="5.2" text-anchor="middle">(12) Brent oil Vs. Bitcoin</text>
<clipPath id="c13"><rect x="17.2" y="482.9" width="169.6" height="56.2"/></clipPath>
<rect x="17.2" y="482.9" width="169.6" height="56.2" fill="none" stroke="#8c8c8c" stroke-width="1.3"/>
<polyline points="17.2,539 17.3,539 17.5,539 17.6,539 17.8,539 17.9,539 18,539 18.2,539 18.3,539 18.4,539 18.6,539 18.7,539 18.9,539 19,539 19.1,539 19.3,539 19.4,539 19.6,539 19.7,539 19.9,539 20,539 20.1,539 20.3,539 20.4,539.1 20.6,539.1 20.7,539.1 20.8,539.1 21,539.1 21.1,539.1 21.3,539.1 21.4,539.1 21.5,539.1 21.7,539.1 21.8,539.1 22,539.1 22.1,539.1 22.2,539.1 22.4,539.1 22.5,539 22.7,539 22.8,539 22.9,539 23.1,539 23.2,539 23.4,539 23.5,539 23.7,539 23.8,539 23.9,539 24.1,539 24.2,539 24.4,539 24.5,539 24.6,539 24.8,539 24.9,539 25.1,539 25.2,539 25.3,539 25.5,539 25.6,539 25.8,539 25.9,539 26,539 26.2,539 26.3,539 26.5,539 26.6,539 26.8,539 26.9,539 27,539 27.2,539 27.3,539 27.4,539 27.6,539 27.7,538.9 27.9,538.9 28,538.9 28.2,538.9 28.3,538.9 28.4,538.8 28.6,538.8 28.7,538.7 28.9,538.6 29,538.6 29.1,538.5 29.3,538.4 29.4,538.4 29.6,538.4 29.7,538.5 29.9,538.6 30,538.6 30.1,538.7 30.3,538.8 30.4,538.8 30.5,538.7 30.7,538.7 30.8,538.7 31,538.6 31.1,538.6 31.2,538.5 31.4,538.5 31.5,538.5 31.7,538.5 31.8,538.6 32,538.6 32.1,538.6 32.2,538.6 32.4,538.6 32.5,538.6 32.7,538.6 32.8,538.6 32.9,538.6 33.1,538.6 33.2,538.7 33.4,538.7 33.5,538.7 33.6,538.7 33.8,538.7 33.9,538.7 34.1,538.8 34.2,538.8 34.3,538.7 34.5,538.7 34.6,538.7 34.8,538.7 34.9,538.7 35,538.7 35.2,538.7 35.3,538.8 35.5,538.8 35.6,538.8 35.8,538.8 35.9,538.8 36,538.8 36.2,538.8 36.3,538.8 36.5,538.9 36.6,538.9 36.7,538.9 36.9,538.9 37,538.8 37.2,538.8 37.3,538.8 37.4,538.8 37.6,538.8 37.7,538.8 37.9,538.8 38,538.8 38.1,538.8 38.3,538.8 38.4,538.8 38.6,538.8 38.7,538.8 38.8,538.8 39,538.8 39.1,538.8 39.3,538.7 39.4,538.7 39.5,538.7 39.7,538.7 39.8,538.7 40,538.7 40.1,538.7 40.3,538.7 40.4,538.7 40.5,538.7 40.7,538.7 40.8,538.7 41,538.7 41.1,538.7 41.2,538.7 41.4,538.7 41.5,538.7 41.7,538.7 41.8,538.7 42,538.7 42.1,538.7 42.2,538.7 42.4,538.7 42.5,538.7 42.6,538.7 42.8,538.7 42.9,538.7 43.1,538.8 43.2,538.8 43.3,538.8 43.5,538.8 43.6,538.8 43.8,538.8 43.9,538.8 44.1,538.8 44.2,538.8 44.3,538.8 44.5,538.8 44.6,538.8 44.8,538.8 44.9,538.8 45,538.8 45.2,538.8 45.3,538.8 45.5,538.8 45.6,538.8 45.7,538.8 45.9,538.8 46,538.9 46.2,538.9 46.3,538.9 46.5,538.9 46.6,538.9 46.7,538.9 46.9,538.9 47,538.9 47.1,538.9 47.3,538.9 47.4,538.9 47.6,538.9 47.7,538.9 47.8,538.8 48,538.9 48.1,538.8 48.3,538.8 48.4,538.8 48.6,538.8 48.7,538.8 48.8,538.8 49,538.8 49.1,538.8 49.3,538.8 49.4,538.9 49.5,538.9 49.7,538.9 49.8,538.9 50,538.9 50.1,538.9 50.2,538.9 50.4,538.9 50.5,538.9 50.7,538.9 50.8,538.9 51,538.9 51.1,538.9 51.2,538.9 51.4,538.9 51.5,538.9 51.7,538.9 51.8,538.9 51.9,538.9 52.1,539 52.2,539 52.4,539 52.5,539 52.6,539 52.8,539 52.9,539 53.1,539 53.2,539 53.3,539 53.5,539 53.6,539 53.8,539 53.9,539 54,539 54.2,538.9 54.3,539 54.5,538.9 54.6,538.9 54.8,538.9 54.9,538.9 55,538.9 55.2,538.9 55.3,538.9 55.5,538.9 55.6,538.9 55.7,538.9 55.9,538.9 56,538.9 56.2,538.9 56.3,538.9 56.4,538.9 56.6,539 56.7,538.9 56.9,539 57,539 57.1,539 57.3,539 57.4,539 57.6,539 57.7,539 57.8,539 58,539 58.1,539 58.3,539 58.4,539 58.5,539 58.7,539 58.8,539 59,539 59.1,539 59.2,539 59.4,539 59.5,539 59.7,539 59.8,539 60,539 60.1,539 60.2,539 60.4,539 60.5,539 60.7,538.9 60.8,538.9 60.9,538.9 61.1,538.9 61.2,538.9 61.4,538.9 61.5,538.9 61.6,538.9 61.8,538.9 61.9,538.9 62.1,538.9 62.2,538.9 62.3,538.9 62.5,538.9 62.6,538.9 62.8,538.9 62.9,538.9 63,538.9 63.2,538.9 63.3,538.9 63.5,538.9 63.6,538.9 63.8,538.9 63.9,538.9 64,539 64.2,539 64.3,539 64.5,539 64.6,539 64.7,539 64.9,539 65,539 65.2,539 65.3,539 65.4,539 65.6,539 65.7,539 65.9,539 66,539 66.1,539 66.3,539 66.4,539 66.6,539 66.7,539 66.8,539 67,539 67.1,538.9 67.3,538.9 67.4,538.9 67.5,538.9 67.7,538.9 67.8,538.9 68,538.9 68.1,538.9 68.2,538.9 68.4,538.9 68.5,538.9 68.7,538.9 68.8,538.9 69,538.9 69.1,538.9 69.2,538.9 69.4,538.9 69.5,538.9 69.7,538.9 69.8,538.9 69.9,538.9 70.1,538.9 70.2,538.9 70.4,538.9 70.5,538.9 70.7,538.8 70.8,538.8 70.9,538.8 71.1,538.8 71.2,538.8 71.3,538.8 71.5,538.8 71.6,538.8 71.8,538.8 71.9,538.8 72,538.8 72.2,538.9 72.3,538.9 72.5,538.8 72.6,538.9 72.8,538.9 72.9,538.9 73,538.9 73.2,538.9 73.3,538.9 73.5,538.9 73.6,538.9 73.7,538.9 73.9,538.9 74,538.9 74.2,538.9 74.3,538.8 74.5,538.9 74.6,538.8 74.7,538.8 74.9,538.8 75,538.8 75.2,538.8 75.3,538.8 75.4,538.8 75.6,538.8 75.7,538.8 75.8,538.8 76,538.8 76.1,538.8 76.3,538.8 76.4,538.8 76.6,538.8 76.7,538.8 76.8,538.8 77,538.8 77.1,538.8 77.3,538.8 77.4,538.8 77.5,538.8 77.7,538.8 77.8,538.8 78,538.8 78.1,538.8 78.2,538.8 78.4,538.8 78.5,538.8 78.7,538.8 78.8,538.8 79,538.8 79.1,538.8 79.2,538.8 79.4,538.8 79.5,538.8 79.7,538.8 79.8,538.8 79.9,538.8 80.1,538.8 80.2,538.7 80.3,538.7 80.5,538.7 80.6,538.7 80.8,538.7 80.9,538.7 81.1,538.7 81.2,538.7 81.3,538.7 81.5,538.6 81.6,538.6 81.8,538.6 81.9,538.7 82,538.7 82.2,538.7 82.3,538.7 82.5,538.7 82.6,538.7 82.8,538.7 82.9,538.7 83,538.7 83.2,538.7 83.3,538.7 83.5,538.7 83.6,538.7 83.7,538.7 83.9,538.7 84,538.8 84.2,538.8 84.3,538.8 84.4,538.8 84.6,538.8 84.7,538.8 84.9,538.8 85,538.8 85.1,538.8 85.3,538.7 85.4,538.7 85.6,538.7 85.7,538.7 85.8,538.7 86,538.8 86.1,538.7 86.3,538.7 86.4,538.7 86.5,538.7 86.7,538.7 86.8,538.7 87,538.7 87.1,538.7 87.2,538.7 87.4,538.7 87.5,538.7 87.7,538.7 87.8,538.7 88,538.7 88.1,538.7 88.2,538.7 88.4,538.7 88.5,538.7 88.7,538.7 88.8,538.7 88.9,538.7 89.1,538.7 89.2,538.7 89.4,538.7 89.5,538.7 89.6,538.7 89.8,538.6 89.9,538.7 90.1,538.6 90.2,538.6 90.3,538.6 90.5,538.7 90.6,538.6 90.8,538.6 90.9,538.6 91,538.6 91.2,538.6 91.3,538.6 91.5,538.6 91.6,538.6 91.8,538.5 91.9,538.5 92,538.5 92.2,538.5 92.3,538.5 92.5,538.5 92.6,538.4 92.7,538.4 92.9,538.4 93,538.4 93.2,538.5 93.3,538.6 93.4,538.6 93.6,538.6 93.7,538.6 93.9,538.6 94,538.6 94.1,538.5 94.3,538.5 94.4,538.5 94.6,538.5 94.7,538.5 94.9,538.5 95,538.5 95.1,538.4 95.3,538.4 95.4,538.4 95.5,538.4 95.7,538.4 95.8,538.4 96,538.4 96.1,538.4 96.2,538.4 96.4,538.4 96.5,538.4 96.7,538.4 96.8,538.5 97,538.4 97.1,538.5 97.2,538.5 97.4,538.5 97.5,538.5 97.7,538.5 97.8,538.4 97.9,538.4 98.1,538.4 98.2,538.4 98.4,538.4 98.5,538.4 98.6,538.4 98.8,538.3 98.9,538.3 99.1,538.3 99.2,538.3 99.4,538.2 99.5,538.2 99.6,538.2 99.8,538.1 99.9,538 100,538 100.2,537.9 100.3,537.9 100.5,537.8 100.6,537.7 100.8,537.6 100.9,537.6 101,537.6 101.2,537.5 101.3,537.5 101.5,537.4 101.6,537.4 101.7,537.3 101.9,537.2 102,537.2 102.2,537.4 102.3,537.4 102.4,537.4 102.6,537.5 102.7,537.6 102.9,537.6 103,537.6 103.2,537.7 103.3,537.7 103.4,537.8 103.6,537.8 103.7,537.9 103.9,537.9 104,537.8 104.1,537.7 104.3,537.6 104.4,537.6 104.5,537.5 104.7,537.4 104.8,537.3 105,537.2 105.1,537.1 105.3,537 105.4,536.9 105.5,536.8 105.7,536.6 105.8,536.5 106,536.5 106.1,536.3 106.2,536.2 106.4,536.1 106.5,536.1 106.7,536.3 106.8,536.6 106.9,536.8 107.1,537 107.2,537 107.4,536.9 107.5,536.8 107.7,536.8 107.8,536.6 107.9,536.5 108.1,536.5 108.2,536.2 108.4,536.1 108.5,536.1 108.6,535.9 108.8,535.8 108.9,535.7 109,535.6 109.2,535.6 109.3,535.4 109.5,535.2 109.6,535.2 109.8,535.1 109.9,535 110,535.1 110.2,535.2 110.3,535.2 110.5,535.4 110.6,535.1 110.7,534.5 110.9,534.3 111,533.9 111.2,533.4 111.3,533 111.5,532.7 111.6,532.3 111.7,531.3 111.9,530.5 112,529.9 112.2,528.9 112.3,528.1 112.4,527.1 112.6,528.4 112.7,530.2 112.8,530.3 113,529.7 113.1,529.3 113.2,529.2 113.4,528.7 113.5,528.6 113.7,529.1 113.8,529.9 113.9,530.8 114.1,531.9 114.2,532 114.3,532 114.5,532.1 114.6,531.9 114.7,531.9 114.9,532.7 115,533.8 115.2,534.8 115.3,534.5 115.4,534 115.5,533.6 115.7,533 115.8,532.7 116,532.3 116.1,532.1 116.2,532.2 116.4,532.1 116.5,532 116.6,531.9 116.8,532.1 116.9,532.3 117,532.6 117.2,532.8 117.3,532.9 117.5,533.3 117.6,533.3 117.7,533.8 117.9,534 118,534.2 118.1,534.4 118.3,534.8 118.4,535.1 118.5,534.8 118.7,534.6 118.8,534.5 119,534.1 119.1,534.1 119.2,534 119.4,533.8 119.5,533.6 119.6,533.3 119.8,533.4 119.9,533.2 120,533.3 120.2,533.1 120.3,533.3 120.4,533.3 120.6,533.3 120.7,533.6 120.9,533.7 121,533.8 121.1,534 121.3,534.1 121.4,534.1 121.5,534.2 121.7,534.3 121.8,534.5 121.9,534.5 122.1,534.6 122.2,534.8 122.4,534.9 122.5,535 122.6,535.2 122.8,535.1 122.9,535.3 123,535.5 123.2,535.2 123.3,535.1 123.4,535.1 123.6,534.8 123.7,534.7 123.8,534.5 124,534.4 124.1,534.3 124.2,534.3 124.4,534 124.5,534.1 124.7,534.3 124.8,534.4 124.9,534.6 125.1,534.7 125.2,534.9 125.3,535.1 125.5,535.3 125.6,535.2 125.7,535.2 125.9,535.1 126,535.2 126.2,535.2 126.3,535.1 126.4,535.2 126.6,535.1 126.7,535 126.8,535.1 127,535 127.1,535.1 127.2,535.1 127.4,535.1 127.5,535 127.6,535 127.8,534.9 127.9,535.1 128,535 128.2,535 128.3,535.1 128.5,535 128.6,535.1 128.7,535.1 128.9,535.1 129,535.3 129.1,535.2 129.3,535.4 129.4,535.3 129.5,535.4 129.7,535.4 129.8,535.3 129.9,535.4 130.1,535.5 130.2,535.5 130.4,535.4 130.5,535.6 130.6,535.8 130.8,536 130.9,536.4 131,536.7 131.2,536.7 131.3,536.7 131.4,536.9 131.6,536.9 131.7,536.9 131.8,537 132,537 132.1,537.1 132.3,537.1 132.4,537 132.5,536.9 132.7,537 132.8,536.9 132.9,536.8 133.1,536.8 133.2,536.8 133.3,536.8 133.5,536.8 133.6,536.8 133.8,536.8 133.9,536.8 134,536.8 134.2,536.9 134.3,536.9 134.4,536.9 134.6,536.9 134.7,536.9 134.8,536.9 135,536.9 135.1,537 135.2,536.8 135.4,536.9 135.5,536.8 135.7,536.8 135.8,536.9 135.9,536.8 136.1,536.8 136.2,536.8 136.3,536.7 136.5,536.7 136.6,536.8 136.7,536.7 136.9,536.7 137,536.6 137.2,536.6 137.3,536.6 137.4,536.6 137.6,536.6 137.7,536.6 137.8,536.5 138,536.6 138.1,536.4 138.2,536.2 138.4,536.1 138.5,536 138.6,535.9 138.8,535.7 138.9,535.5 139,535.4 139.2,535.2 139.3,535.1 139.5,535 139.6,534.8 139.7,534.8 139.9,534.6 140,534.4 140.1,534.3 140.3,534.2 140.4,534.1 140.5,533.9 140.7,533.6 140.8,533.5 140.9,533.4 141.1,533.1 141.2,532.9 141.4,532.9 141.5,532.5 141.6,532.5 141.8,532.3 141.9,532 142,531.7 142.2,531.8 142.3,531.5 142.4,531.5 142.6,530.9 142.7,531.2 142.8,531.3 143,531.8 143.1,531.9 143.3,532 143.4,532.8 143.5,532.9 143.7,533 143.8,533.2 143.9,533.1 144.1,532.6 144.2,532.6 144.3,532.6 144.5,532.2 144.6,532.2 144.7,531.8 144.9,531.8 145,531.8 145.2,531.8 145.3,532 145.4,532.3 145.5,532.4 145.7,532.2 145.8,532.4 146,532.6 146.1,532.6 146.2,532.7 146.4,532.8 146.5,533.2 146.6,533.1 146.8,533.1 146.9,533.3 147,533.4 147.2,533.8 147.3,533.6 147.4,533.7 147.6,533.7 147.7,533.9 147.8,533.8 148,533.7 148.1,533.6 148.2,533.7 148.4,533.5 148.5,533.6 148.6,533.5 148.8,533.5 148.9,533.4 149.1,533.4 149.2,533.5 149.3,533.3 149.5,533.4 149.6,533.6 149.7,533.6 149.9,533.6 150,533.8 150.1,533.9 150.3,533.9 150.4,534 150.5,534.1 150.7,534.3 150.8,534.2 150.9,534.3 151.1,534.4 151.2,534.5 151.3,534.6 151.5,534.7 151.6,534.8 151.8,534.9 151.9,534.9 152,535 152.2,535 152.3,534.8 152.4,534.9 152.6,534.7 152.7,534.8 152.8,534.6 153,534.4 153.1,534.4 153.2,534.4 153.4,534.2 153.5,534.1 153.6,534.1 153.8,533.9 153.9,533.7 154,533.6 154.2,533.5 154.3,533.3 154.4,533.2 154.6,533.1 154.7,533 154.9,532.9 155,532.8 155.1,532.7 155.3,533 155.4,533.3 155.5,533.7 155.7,533.9 155.8,534.2 155.9,534.5 156.1,534.7 156.2,535 156.3,535.3 156.5,535.5 156.6,536 156.8,536 156.9,536 157,535.7 157.2,535.5 157.3,535.6 157.4,535.4 157.6,535.2 157.7,535.1 157.9,535 158,535 158.1,534.7 158.3,534.6 158.4,534.5 158.6,534.4 158.7,534.2 158.8,534.2 159,534 159.1,533.9 159.3,533.9 159.4,533.6 159.5,533.5 159.7,533.4 159.8,533.5 160,533.4 160.1,533.2 160.2,533.2 160.4,533 160.5,532.9 160.7,533.1 160.8,533.1 160.9,532.8 161.1,532.7 161.2,532.7 161.4,532.6 161.5,532.8 161.6,532.8 161.8,532.6 161.9,532.7 162.1,532.8 162.2,532.7 162.3,532.3 162.5,532.4 162.6,532.6 162.8,532.6 162.9,532.5 163,532.5 163.2,532.3 163.3,532.4 163.5,532.5 163.6,532.2 163.7,532.4 163.9,532.3 164,532.3 164.2,532.3 164.3,532.2 164.4,532.2 164.6,532.3 164.7,532.2 164.9,532 165,531.9 165.1,531.7 165.3,531.6 165.4,531.4 165.6,531.5 165.7,531.8 165.8,531.9 166,532.2 166.1,532.2 166.3,532.3 166.4,532.4 166.5,532.7 166.7,532.8 166.8,532.7 167,532.7 167.1,532.5 167.2,532.4 167.4,532.4 167.5,532.2 167.7,532.3 167.8,532.1 167.9,532.1 168.1,532 168.2,531.6 168.4,531.5 168.5,531.6 168.6,531.4 168.8,531.2 168.9,531.2 169.1,531 169.2,531.1 169.3,530.8 169.5,530.4 169.6,529.9 169.8,529.8 169.9,529.7 170,529.3 170.2,529.1 170.3,528.8 170.5,528.2 170.6,528.2 170.7,527.9 170.9,527.2 171,527.1 171.2,527 171.3,526.9 171.4,526.4 171.6,525.9 171.7,525.8 171.9,525.4 172,525.4 172.1,525 172.3,524.9 172.4,524.2 172.6,523.3 172.7,523.3 172.8,522.3 173,521.5 173.1,520.8 173.3,518.4 173.4,515.7 173.5,512.9 173.7,514.6 173.9,515.8 174.1,517.6 174.3,517.5 174.5,519.2 174.7,519.4 174.9,518.4 175.1,516.7 175.3,515.7 175.5,513.9 175.7,512.4 175.9,511.2 176.1,509.8 176.3,508.9 176.5,506.5 176.7,506.1 176.9,505.4 177,504.5 177.2,506.8 177.3,508.9 177.4,508.5 177.6,506.8 177.7,506.1 177.9,504.1 178,501.8 178.2,501.7 178.3,502.9 178.4,503.6 178.6,504.5 178.7,505.2 178.9,504.7 179,504.5 179.2,505 179.3,503.1 179.5,502.9 179.6,501.3 179.7,501.4 179.9,500.2 180.1,500.6 180.2,503.8 180.4,505.3 180.6,506.9 180.8,508.4 180.9,507.5 181.1,505.7 181.3,505.5 181.5,505.5 181.7,504.7 181.8,505.2 182,509 182.2,512 182.4,514.9 182.5,516.3 182.7,516.9 182.8,516.8 183,516.7 183.1,516.3 183.3,515.4 183.4,515.1 183.6,515.4 183.7,514.7 183.8,514.4 184,514.1 184.1,515.6 184.3,517.6 184.4,519 184.6,519.5 184.7,518.8 184.9,519.2 185,519.8 185.2,519.2 185.3,519.5 185.4,520.5 185.6,519.5 185.7,520 185.9,519.8 186,520.9 186.2,518.9 186.3,517.1 186.4,515.6 186.5,514.5 186.6,513.6 186.8,515" fill="none" stroke="#000" stroke-width="1.25" stroke-linejoin="round"/>
<polyline clip-path="url(#c13)" points="17.1,522.3 17.4,524.6 17.7,527.6 18,529.2 18.3,530.6 18.6,530.9 18.9,530.8 19.3,528.5 19.6,526.9 19.9,526.4 20.3,527 20.6,527.3 20.9,524.9 21.2,524.6 21.5,524.3 21.8,522.9 22.1,521.6 22.3,522.9 22.6,523.1 22.9,523.9 23.3,525 23.6,524.9 23.9,525.3 24.3,525 24.6,524.5 24.9,524.6 25.2,526.5 25.5,526.2 25.8,527.2 26.1,527.1 26.5,526.8 26.8,528.1 27.2,528 27.5,529.2 27.8,529.7 28.1,529.9 28.4,531.1 28.7,530.8 29,530.9 29.4,529.9 29.7,531.4 30.1,529.3 30.4,528.3 30.8,526.9 31.1,525.1 31.5,523.5 31.9,522.9 32.2,524.2 32.6,524.2 32.9,524.6 33.3,524.6 33.6,526 33.9,525.8 34.2,526.4 34.5,527.5 34.8,527.3 35,527.7 35.3,527.2 35.6,527.3 35.9,528.1 36.2,528.5 36.6,528.6 36.9,528.7 37.2,528.3 37.6,527.6 37.9,528.6 38.2,527.4 38.5,527.5 38.8,526.6 39.1,526.1 39.4,524.7 39.8,524.2 40.1,526.2 40.5,527.8 40.8,527.9 41.1,528 41.4,527.6 41.7,528.3 42,527.6 42.2,528.4 42.5,529.1 42.8,528 43.1,528.5 43.5,529.1 43.8,528.8 44.1,529.4 44.5,529.2 44.8,529.5 45.1,528.9 45.4,530.5 45.7,532.6 46,532.1 46.4,533.4 46.7,533 47.1,532.2 47.4,531.6 47.8,530.8 48.1,531.4 48.5,530.5 48.8,530.7 49.2,529.7 49.5,528.8 49.8,528.3 50,528 50.3,528.5 50.6,529.7 50.9,529.5 51.2,529.5 51.5,530.5 51.8,532.5 52.1,533.7 52.3,532.8 52.6,533.4 52.9,533.6 53.2,532.3 53.5,533.2 53.9,532 54.2,533 54.6,532.6 54.9,532 55.2,531.2 55.5,531.4 55.8,531.9 56.1,531.7 56.4,531.3 56.7,530.8 57,531.7 57.2,532 57.5,532.6 57.9,532.2 58.2,531 58.5,531.8 58.9,533.3 59.2,533.4 59.6,532.1 59.8,533.6 60.1,533.8 60.4,533.6 60.7,534.9 61,535.6 61.3,536.2 61.6,537.1 61.9,537.9 62.2,537.6 62.5,537 62.9,537.3 63.2,536.1 63.5,535.9 63.9,536.1 64.2,536.3 64.5,535.5 64.8,535.3 65.1,534.8 65.4,533.6 65.8,532.7 66.1,534.7 66.5,534.8 66.8,534.9 67.1,535.8 67.3,536.6 67.6,536.3 67.9,537.4 68.2,537.7 68.5,537.6 68.8,537.5 69.1,537.7 69.4,539.1 69.7,537.1 69.9,536.8 70.2,536.1 70.5,534.9 70.8,535.3 71.1,534.5 71.4,533.4 71.7,533.1 72,532.2 72.2,530.5 72.5,528.2 72.8,528.8 73.1,529.1 73.4,528.5 73.7,529.6 74,528.6 74.3,528.7 74.6,529.5 74.9,529.9 75.2,531 75.5,529.8 75.8,529.7 76.2,529.1 76.5,529 76.8,528.3 77.2,528.3 77.5,528.7 77.8,528.6 78,529.7 78.3,530.4 78.6,530.8 78.9,529.1 79.2,529.5 79.5,530 79.8,529.8 80.2,528.3 80.5,527.2 80.8,526 81.2,525.7 81.5,525.3 81.8,524.1 82.1,523.2 82.4,523.5 82.7,523.6 83,524.1 83.4,525.2 83.7,525.6 84,526.4 84.4,526.7 84.7,525.3 85,525.6 85.3,525.1 85.5,525.8 85.8,526.1 86.1,526 86.4,525.9 86.7,526.1 87,527 87.4,527.3 87.7,528.3 88,528.6 88.4,529.2 88.7,530.8 89,532.3 89.3,532.1 89.6,531.9 89.9,533.3 90.3,533.6 90.6,534.7 90.9,534.6 91.3,535.1 91.6,535.3 91.9,534.3 92.2,533.6 92.5,532.2 92.8,531 93.1,530.7 93.5,531.5 93.8,530.9 94.1,530.6 94.5,530.3 94.8,529.8 95.1,530.3 95.3,530.2 95.6,531 95.9,529.7 96.2,530.5 96.5,529.9 96.8,529.3 97.1,528.9 97.5,529.7 97.8,531.9 98.1,531 98.5,529.6 98.8,529.1 99.1,528.8 99.4,528.8 99.7,527.8 100,528.7 100.3,528.5 100.7,529.3 101,529.6 101.4,529.8 101.7,529.9 102,530.6 102.3,529.6 102.6,530.2 102.9,530.2 103.1,530 103.4,530.5 103.7,529.9 104,531 104.3,530.5 104.7,530.4 105,530 105.3,530.4 105.7,528.9 106,528.5 106.3,528 106.6,525.7 106.9,525.7 107.2,526.2 107.6,526.1 107.9,526.1 108.2,526.8 108.6,526.1 108.9,526.5 109.2,527.3 109.5,527.7 109.8,528.5 110.1,528.8 110.4,529.2 110.8,528.9 111.1,528 111.5,527.2 111.8,527.8 112.1,527.7 112.4,527.2 112.7,527.8 112.9,525.7 113.2,526.2 113.5,526.1 113.8,526.8 114.1,525.7 114.4,525.9 114.8,524.4 115.1,524.2 115.4,525 115.8,525.8 116.1,524.7 116.4,524.2 116.7,524 117,524.1 117.3,524.4 117.6,524.4 117.8,525.7 118.1,525.8 118.4,526.2 118.8,526.4 119.1,526.3 119.4,527 119.8,526.6 120.1,526.3 120.4,525.6 120.7,527.2 121,527.7 121.3,527.9 121.6,528.9 121.9,528.1 122.2,528.5 122.5,527.1 122.8,529 123.1,529.7 123.4,528.9 123.8,529.7 124.1,529.1 124.4,529.4 124.8,530 125.1,531.1 125.3,531.1 125.6,530.9 126,531.1 126.3,530.8 126.6,532.2 127,532 127.3,532.3 127.7,531.9 127.9,530.7 128.2,530.6 128.5,530.5 128.8,530 129.1,530.5 129.4,531.3 129.7,531.9 130,530.2 130,531.3 130.3,530.6 130.6,530.7 130.9,529.9 131.2,529.6 131.5,529 131.8,529.2 132.2,529.1 132.5,528 132.8,528.3 133.2,526.7 133.5,526.3 133.8,526.4 134,527.4 134.3,526.5 134.6,526.5 134.9,526.5 135.2,525.9 135.5,526.6 135.8,526.3 136.2,526.6 136.5,526.7 136.8,525.8 137.2,526.8 137.5,527.3 137.8,527.5 138.1,527.2 138.4,528.3 138.7,528.1 138.9,527.7 139.2,528 139.5,528.2 139.8,527.5 140.1,527.1 140.5,526.1 140.8,524.4 141.2,523.1 141.5,522.6 141.8,522.2 142.1,523.8 142.4,522.6 142.7,521.9 143,520.6 143.3,521.1 143.6,520.9 143.8,519.6 144.1,518.4 144.5,518.9 144.8,518.5 145.1,518.1 145.5,516.7 145.8,515.5 146.1,515.6 146.4,516.3 146.7,516.1 147,516.5 147.4,516.8 147.7,517.4 148,516.4 148.4,516.8 148.7,517.1 149,517.1 149.3,517.9 149.6,517.2 149.9,517.6 150.2,518.2 150.5,518.2 150.8,518.7 151.1,518.3 151.3,519.3 151.7,519.1 152,518.1 152.4,517.4 152.7,516.8 153,517.4 153.4,515.5 153.7,515.8 153.9,514 154.2,514 154.6,514.6 154.9,514 155.2,512.2 155.6,512.1 156,510.7 156.3,510.5 156.7,510.7 157.1,515.4 157.4,519.3 157.8,514.2 158.2,511.8 158.6,509.5 158.9,509.4 159.2,508.6 159.6,507.3 159.9,507.3 160.2,508.4 160.6,506.8 160.9,505.7 161.2,506.6 161.4,506.8 161.8,506.6 162.1,505.5 162.4,504.7 162.8,505.8 163.1,504.7 163.5,504.4 163.7,502.9 164,500.1 164.3,499.9 164.6,498.3 164.9,496.4 165.3,493.2 165.8,491.4 166.1,491.6 166.3,492.5 166.6,493.2 166.9,494.4 167.2,494.8 167.5,495.2 167.9,495.5 168.2,496 168.6,495.5 168.9,496.4 169.2,496.2 169.5,495.7 169.8,496.4 170.1,496.3 170.4,494.9 170.7,496.4 171,497.9 171.2,497.5 171.5,497.9 171.9,498.8 172.2,500 172.5,499.6 172.9,502.1 173.3,503.1 173.6,500.7 174,498.3 174.3,497.9 174.7,496.8 175,497.3 175.3,497.9 175.6,498.6 175.9,498.8 176.2,500.1 176.5,500.2 176.9,501.1 177.2,501.2 177.6,501.8 177.9,502.5 178.2,503 178.5,503.1 178.8,503.4 179.1,501.8 179.4,501.9 179.8,502.6 180.1,501.5 180.4,500.6 180.8,499.9 181.1,499.9 181.3,499.3 181.6,498.2 182,498.7 182.3,498 182.6,498 183,498 183.4,497.8 183.7,498.6 184.1,500.5 184.4,500.8 184.8,503.3 185.2,503.6 185.5,504.9 185.9,503.3 186.2,502.4 186.5,501.7 186.8,501.2" fill="none" stroke="#7a7a7a" stroke-width="1.25" stroke-linejoin="round"/>
<line x1="16" y1="493.24" x2="17.2" y2="493.24" stroke="#8c8c8c" stroke-width="0.8"/>
<text x="14.9" y="493.54" font-size="4.7" text-anchor="end">2000</text>
<line x1="16" y1="503.16" x2="17.2" y2="503.16" stroke="#8c8c8c" stroke-width="0.8"/>
<text x="14.9" y="503.46" font-size="4.7" text-anchor="end">1800</text>
<line x1="16" y1="513.08" x2="17.2" y2="513.08" stroke="#8c8c8c" stroke-width="0.8"/>
<text x="14.9" y="513.38" font-size="4.7" text-anchor="end">1600</text>
<line x1="16" y1="523" x2="17.2" y2="523" stroke="#8c8c8c" stroke-width="0.8"/>
<text x="14.9" y="523.3" font-size="4.7" text-anchor="end">1400</text>
<line x1="16" y1="532.92" x2="17.2" y2="532.92" stroke="#8c8c8c" stroke-width="0.8"/>
<text x="14.9" y="533.22" font-size="4.7" text-anchor="end">1200</text>
<line x1="186.8" y1="539.1" x2="187.8" y2="539.1" stroke="#8c8c8c" stroke-width="0.8"/>
<text x="188.8" y="539.85" font-size="4.7">0</text>
<line x1="186.8" y1="532.85" x2="187.8" y2="532.85" stroke="#8c8c8c" stroke-width="0.8"/>
<line x1="186.8" y1="526.6" x2="187.8" y2="526.6" stroke="#8c8c8c" stroke-width="0.8"/>
<text x="188.8" y="527.35" font-size="4.7">20,000</text>
<line x1="186.8" y1="520.35" x2="187.8" y2="520.35" stroke="#8c8c8c" stroke-width="0.8"/>
<line x1="186.8" y1="514.1" x2="187.8" y2="514.1" stroke="#8c8c8c" stroke-width="0.8"/>
<text x="188.8" y="514.85" font-size="4.7">40,000</text>
<line x1="186.8" y1="507.85" x2="187.8" y2="507.85" stroke="#8c8c8c" stroke-width="0.8"/>
<line x1="186.8" y1="501.6" x2="187.8" y2="501.6" stroke="#8c8c8c" stroke-width="0.8"/>
<text x="188.8" y="502.35" font-size="4.7">60,000</text>
<line x1="186.8" y1="495.35" x2="187.8" y2="495.35" stroke="#8c8c8c" stroke-width="0.8"/>
<line x1="186.8" y1="489.1" x2="187.8" y2="489.1" stroke="#8c8c8c" stroke-width="0.8"/>
<text x="188.8" y="489.85" font-size="4.7">80,000</text>
<line x1="29.6" y1="539.1" x2="29.6" y2="540.7" stroke="#8c8c8c" stroke-width="0.8"/>
<line x1="50.25" y1="539.1" x2="50.25" y2="540.7" stroke="#8c8c8c" stroke-width="0.8"/>
<line x1="70.9" y1="539.1" x2="70.9" y2="540.7" stroke="#8c8c8c" stroke-width="0.8"/>
<line x1="91.55" y1="539.1" x2="91.55" y2="540.7" stroke="#8c8c8c" stroke-width="0.8"/>
<line x1="112.2" y1="539.1" x2="112.2" y2="540.7" stroke="#8c8c8c" stroke-width="0.8"/>
<line x1="132.85" y1="539.1" x2="132.85" y2="540.7" stroke="#8c8c8c" stroke-width="0.8"/>
<line x1="153.5" y1="539.1" x2="153.5" y2="540.7" stroke="#8c8c8c" stroke-width="0.8"/>
<line x1="174.15" y1="539.1" x2="174.15" y2="540.7" stroke="#8c8c8c" stroke-width="0.8"/>
<text x="20.3" y="545.25" font-size="4.7" text-anchor="middle">2013</text>
<text x="39.3" y="545.25" font-size="4.7" text-anchor="middle">2014</text>
<text x="59.8" y="545.25" font-size="4.7" text-anchor="middle">2015</text>
<text x="80.6" y="545.25" font-size="4.7" text-anchor="middle">2016</text>
<text x="101.2" y="545.25" font-size="4.7" text-anchor="middle">2017</text>
<text x="121.85" y="545.25" font-size="4.7" text-anchor="middle">2018</text>
<text x="142.5" y="545.25" font-size="4.7" text-anchor="middle">2019</text>
<text x="163.4" y="545.25" font-size="4.7" text-anchor="middle">2020</text>
<text x="182.5" y="545.25" font-size="4.7" text-anchor="middle">2021</text>
<text x="95.1" y="489.7" font-size="5.2" text-anchor="middle">(13) Gold Vs. Bitcoin</text>
<clipPath id="c14"><rect x="226.6" y="482.1" width="169.9" height="56.2"/></clipPath>
<rect x="226.6" y="482.1" width="169.9" height="56.2" fill="none" stroke="#8c8c8c" stroke-width="1.3"/>
<polyline points="226.6,538.2 226.7,538.2 226.9,538.2 227,538.2 227.2,538.2 227.3,538.2 227.4,538.2 227.6,538.2 227.7,538.2 227.8,538.2 228,538.2 228.1,538.2 228.3,538.2 228.4,538.2 228.5,538.2 228.7,538.2 228.8,538.2 229,538.2 229.1,538.2 229.3,538.2 229.4,538.2 229.5,538.2 229.7,538.2 229.8,538.3 230,538.3 230.1,538.3 230.2,538.3 230.4,538.3 230.5,538.3 230.7,538.3 230.8,538.3 230.9,538.3 231.1,538.3 231.2,538.3 231.4,538.3 231.5,538.3 231.7,538.3 231.8,538.3 231.9,538.2 232.1,538.2 232.2,538.2 232.3,538.2 232.5,538.2 232.6,538.2 232.8,538.2 232.9,538.2 233.1,538.2 233.2,538.2 233.3,538.2 233.5,538.2 233.6,538.2 233.8,538.2 233.9,538.2 234,538.2 234.2,538.2 234.3,538.2 234.5,538.2 234.6,538.2 234.7,538.2 234.9,538.2 235,538.2 235.2,538.2 235.3,538.2 235.4,538.2 235.6,538.2 235.7,538.2 235.9,538.2 236,538.2 236.2,538.2 236.3,538.2 236.4,538.2 236.6,538.2 236.7,538.2 236.8,538.2 237,538.2 237.1,538.1 237.3,538.1 237.4,538.1 237.6,538.1 237.7,538.1 237.8,538 238,538 238.1,537.9 238.3,537.9 238.4,537.8 238.5,537.7 238.7,537.6 238.8,537.6 239,537.6 239.1,537.7 239.2,537.8 239.4,537.8 239.5,537.9 239.7,538 239.8,538 239.9,537.9 240.1,537.9 240.2,537.9 240.4,537.8 240.5,537.8 240.7,537.7 240.8,537.7 240.9,537.7 241.1,537.7 241.2,537.8 241.4,537.8 241.5,537.8 241.6,537.8 241.8,537.8 241.9,537.8 242.1,537.8 242.2,537.8 242.3,537.9 242.5,537.9 242.6,537.9 242.8,537.9 242.9,537.9 243,537.9 243.2,537.9 243.3,537.9 243.5,538 243.6,538 243.8,537.9 243.9,537.9 244,537.9 244.2,537.9 244.3,537.9 244.4,537.9 244.6,537.9 244.7,538 244.9,538 245,538 245.2,538 245.3,538 245.4,538 245.6,538 245.7,538 245.9,538.1 246,538.1 246.1,538.1 246.3,538.1 246.4,538 246.6,538 246.7,538 246.8,538 247,538 247.1,538 247.3,538 247.4,538 247.5,538 247.7,538 247.8,538 248,538 248.1,538 248.2,538 248.4,538 248.5,538 248.7,537.9 248.8,537.9 248.9,537.9 249.1,537.9 249.2,537.9 249.4,537.9 249.5,537.9 249.7,537.9 249.8,537.9 249.9,537.9 250.1,537.9 250.2,537.9 250.4,537.9 250.5,537.9 250.6,537.9 250.8,537.9 250.9,537.9 251.1,537.9 251.2,537.9 251.3,537.9 251.5,537.9 251.6,537.9 251.8,537.9 251.9,537.9 252,537.9 252.2,537.9 252.3,537.9 252.5,538 252.6,538 252.8,538 252.9,538 253,538 253.2,538 253.3,538 253.5,538 253.6,538 253.7,538 253.9,538 254,538 254.2,538 254.3,538 254.4,538 254.6,538 254.7,538 254.9,538 255,538 255.1,538 255.3,538 255.4,538.1 255.6,538.1 255.7,538.1 255.8,538.1 256,538.1 256.1,538.1 256.3,538.1 256.4,538.1 256.6,538.1 256.7,538.1 256.8,538.1 257,538.1 257.1,538.1 257.2,538 257.4,538.1 257.5,538 257.7,538 257.8,538 258,538 258.1,538 258.2,538 258.4,538 258.5,538 258.7,538 258.8,538.1 258.9,538.1 259.1,538.1 259.2,538.1 259.4,538.1 259.5,538.1 259.6,538.1 259.8,538.1 259.9,538.1 260.1,538.1 260.2,538.1 260.4,538.1 260.5,538.1 260.6,538.1 260.8,538.1 260.9,538.1 261.1,538.1 261.2,538.1 261.3,538.1 261.5,538.2 261.6,538.2 261.8,538.2 261.9,538.2 262,538.2 262.2,538.2 262.3,538.2 262.5,538.2 262.6,538.2 262.7,538.2 262.9,538.2 263,538.2 263.2,538.2 263.3,538.2 263.4,538.2 263.6,538.1 263.7,538.2 263.9,538.1 264,538.1 264.1,538.1 264.3,538.1 264.4,538.1 264.6,538.1 264.7,538.1 264.9,538.1 265,538.1 265.1,538.1 265.3,538.1 265.4,538.1 265.6,538.1 265.7,538.1 265.8,538.1 266,538.2 266.1,538.1 266.3,538.2 266.4,538.2 266.5,538.2 266.7,538.2 266.8,538.2 267,538.2 267.1,538.2 267.2,538.2 267.4,538.2 267.5,538.2 267.7,538.2 267.8,538.2 267.9,538.2 268.1,538.2 268.2,538.2 268.4,538.2 268.5,538.2 268.6,538.2 268.8,538.2 268.9,538.2 269.1,538.2 269.2,538.2 269.4,538.2 269.5,538.2 269.6,538.2 269.8,538.2 269.9,538.2 270.1,538.1 270.2,538.1 270.3,538.1 270.5,538.1 270.6,538.1 270.8,538.1 270.9,538.1 271,538.1 271.2,538.1 271.3,538.1 271.5,538.1 271.6,538.1 271.8,538.1 271.9,538.1 272,538.1 272.2,538.1 272.3,538.1 272.4,538.1 272.6,538.1 272.7,538.1 272.9,538.1 273,538.1 273.1,538.1 273.3,538.1 273.4,538.2 273.6,538.2 273.7,538.2 273.9,538.2 274,538.2 274.1,538.2 274.3,538.2 274.4,538.2 274.6,538.2 274.7,538.2 274.8,538.2 275,538.2 275.1,538.2 275.3,538.2 275.4,538.2 275.5,538.2 275.7,538.2 275.8,538.2 276,538.2 276.1,538.2 276.2,538.2 276.4,538.2 276.5,538.1 276.7,538.1 276.8,538.1 276.9,538.1 277.1,538.1 277.2,538.1 277.4,538.1 277.5,538.1 277.6,538.1 277.8,538.1 277.9,538.1 278.1,538.1 278.2,538.1 278.4,538.1 278.5,538.1 278.6,538.1 278.8,538.1 278.9,538.1 279.1,538.1 279.2,538.1 279.3,538.1 279.5,538.1 279.6,538.1 279.8,538.1 279.9,538.1 280.1,538 280.2,538 280.3,538 280.5,538 280.6,538 280.8,538 280.9,538 281,538 281.2,538 281.3,538 281.4,538 281.6,538.1 281.7,538.1 281.9,538 282,538.1 282.2,538.1 282.3,538.1 282.4,538.1 282.6,538.1 282.7,538.1 282.9,538.1 283,538.1 283.1,538.1 283.3,538.1 283.4,538.1 283.6,538.1 283.7,538 283.9,538.1 284,538 284.1,538 284.3,538 284.4,538 284.6,538 284.7,538 284.8,538 285,538 285.1,538 285.2,538 285.4,538 285.5,538 285.7,538 285.8,538 286,538 286.1,538 286.2,538 286.4,538 286.5,538 286.7,538 286.8,538 286.9,538 287.1,538 287.2,538 287.4,538 287.5,538 287.6,538 287.8,538 287.9,538 288.1,538 288.2,538 288.4,538 288.5,538 288.6,538 288.8,538 288.9,538 289.1,538 289.2,538 289.3,538 289.5,538 289.6,537.9 289.8,537.9 289.9,537.9 290,537.9 290.2,537.9 290.3,537.9 290.5,537.9 290.6,537.9 290.7,537.9 290.9,537.9 291,537.8 291.2,537.9 291.3,537.9 291.4,537.9 291.6,537.9 291.7,537.9 291.9,537.9 292,537.9 292.1,537.9 292.3,537.9 292.4,537.9 292.6,537.9 292.7,537.9 292.9,537.9 293,537.9 293.1,537.9 293.3,537.9 293.4,538 293.6,538 293.7,538 293.8,538 294,538 294.1,538 294.3,538 294.4,538 294.5,538 294.7,537.9 294.8,537.9 295,537.9 295.1,537.9 295.2,537.9 295.4,538 295.5,537.9 295.7,537.9 295.8,537.9 295.9,537.9 296.1,537.9 296.2,537.9 296.4,537.9 296.5,537.9 296.6,537.9 296.8,537.9 296.9,537.9 297.1,537.9 297.2,537.9 297.4,537.9 297.5,537.9 297.6,537.9 297.8,537.9 297.9,537.9 298.1,537.9 298.2,537.9 298.3,537.9 298.5,537.9 298.6,537.9 298.8,537.9 298.9,537.9 299,537.9 299.2,537.9 299.3,537.9 299.5,537.9 299.6,537.9 299.7,537.8 299.9,537.9 300,537.9 300.2,537.8 300.3,537.8 300.4,537.8 300.6,537.8 300.7,537.8 300.9,537.8 301,537.8 301.1,537.7 301.3,537.7 301.4,537.7 301.6,537.7 301.7,537.7 301.9,537.7 302,537.6 302.1,537.6 302.3,537.6 302.4,537.6 302.6,537.7 302.7,537.8 302.8,537.8 303,537.8 303.1,537.8 303.3,537.8 303.4,537.8 303.5,537.7 303.7,537.7 303.8,537.7 304,537.7 304.1,537.7 304.2,537.7 304.4,537.7 304.5,537.6 304.7,537.6 304.8,537.6 304.9,537.6 305.1,537.6 305.2,537.6 305.4,537.6 305.5,537.6 305.6,537.6 305.8,537.6 305.9,537.6 306.1,537.6 306.2,537.7 306.4,537.6 306.5,537.7 306.6,537.7 306.8,537.7 306.9,537.7 307.1,537.7 307.2,537.6 307.3,537.6 307.5,537.6 307.6,537.6 307.8,537.6 307.9,537.6 308,537.6 308.2,537.5 308.3,537.5 308.5,537.5 308.6,537.5 308.8,537.5 308.9,537.5 309,537.4 309.2,537.3 309.3,537.2 309.4,537.2 309.6,537.1 309.7,537.1 309.9,537 310,536.9 310.1,536.8 310.3,536.8 310.4,536.8 310.6,536.7 310.7,536.7 310.9,536.6 311,536.6 311.1,536.5 311.3,536.5 311.4,536.5 311.6,536.6 311.7,536.6 311.8,536.6 312,536.7 312.1,536.8 312.3,536.8 312.4,536.8 312.6,536.9 312.7,536.9 312.8,537 313,537 313.1,537.1 313.2,537.1 313.4,537 313.5,536.9 313.7,536.9 313.8,536.8 313.9,536.7 314.1,536.6 314.2,536.5 314.4,536.4 314.5,536.3 314.7,536.2 314.8,536.1 314.9,536 315.1,535.9 315.2,535.7 315.4,535.7 315.5,535.5 315.6,535.4 315.8,535.3 315.9,535.3 316.1,535.5 316.2,535.8 316.3,536 316.5,536.2 316.6,536.2 316.8,536.1 316.9,536 317.1,536 317.2,535.8 317.3,535.7 317.5,535.7 317.6,535.4 317.8,535.3 317.9,535.3 318,535.1 318.2,535 318.3,534.9 318.4,534.8 318.6,534.8 318.7,534.6 318.9,534.4 319,534.4 319.2,534.3 319.3,534.2 319.4,534.3 319.6,534.4 319.7,534.4 319.9,534.6 320,534.3 320.1,533.7 320.3,533.5 320.4,533.1 320.6,532.6 320.7,532.2 320.9,531.9 321,531.5 321.1,530.5 321.3,529.7 321.4,529.1 321.6,528.1 321.7,527.3 321.8,526.3 322,527.6 322.1,529.4 322.2,529.5 322.4,528.9 322.5,528.5 322.6,528.4 322.8,527.9 322.9,527.8 323.1,528.3 323.2,529.1 323.3,530 323.5,531.1 323.6,531.2 323.7,531.2 323.9,531.3 324,531.1 324.1,531.1 324.3,531.9 324.4,533 324.6,534 324.7,533.7 324.8,533.2 324.9,532.8 325.1,532.2 325.2,531.9 325.4,531.5 325.5,531.3 325.6,531.4 325.8,531.3 325.9,531.2 326,531.1 326.2,531.3 326.3,531.5 326.4,531.8 326.6,532 326.7,532.1 326.9,532.5 327,532.5 327.1,533 327.3,533.2 327.4,533.4 327.5,533.6 327.7,534 327.8,534.3 327.9,534 328.1,533.8 328.2,533.7 328.4,533.4 328.5,533.4 328.6,533.2 328.8,533 328.9,532.8 329,532.5 329.2,532.6 329.3,532.4 329.4,532.5 329.6,532.3 329.7,532.5 329.8,532.5 330,532.5 330.1,532.8 330.2,532.9 330.4,533 330.5,533.2 330.7,533.3 330.8,533.3 330.9,533.4 331.1,533.5 331.2,533.7 331.3,533.7 331.5,533.8 331.6,534 331.8,534.1 331.9,534.2 332,534.4 332.1,534.3 332.3,534.5 332.4,534.7 332.6,534.4 332.7,534.3 332.8,534.3 333,534 333.1,533.9 333.2,533.7 333.4,533.6 333.5,533.5 333.6,533.5 333.8,533.2 333.9,533.3 334.1,533.5 334.2,533.6 334.3,533.8 334.5,533.9 334.6,534.1 334.7,534.3 334.9,534.5 335,534.5 335.1,534.4 335.3,534.3 335.4,534.4 335.6,534.4 335.7,534.3 335.8,534.4 336,534.3 336.1,534.2 336.2,534.3 336.4,534.2 336.5,534.3 336.6,534.3 336.8,534.3 336.9,534.2 337,534.2 337.2,534.1 337.3,534.3 337.4,534.2 337.6,534.2 337.7,534.3 337.9,534.2 338,534.3 338.1,534.4 338.3,534.3 338.4,534.5 338.5,534.4 338.7,534.6 338.8,534.5 338.9,534.6 339.1,534.6 339.2,534.5 339.4,534.6 339.5,534.7 339.6,534.7 339.8,534.6 339.9,534.8 340,535 340.2,535.2 340.3,535.6 340.4,535.9 340.6,535.9 340.7,535.9 340.9,536.1 341,536.1 341.1,536.1 341.2,536.2 341.4,536.2 341.5,536.3 341.7,536.3 341.8,536.2 341.9,536.1 342.1,536.2 342.2,536.1 342.3,536 342.5,536 342.6,536 342.8,536 342.9,536 343,536 343.1,536 343.3,536 343.4,536 343.6,536.1 343.7,536.1 343.8,536.1 344,536.1 344.1,536.1 344.2,536.1 344.4,536.1 344.5,536.2 344.6,536 344.8,536.1 344.9,536 345.1,536 345.2,536.1 345.3,536 345.5,536 345.6,536 345.7,535.9 345.9,535.9 346,536 346.1,535.9 346.3,535.9 346.4,535.8 346.6,535.8 346.7,535.8 346.8,535.8 347,535.8 347.1,535.8 347.2,535.7 347.4,535.8 347.5,535.6 347.6,535.4 347.8,535.3 347.9,535.2 348,535.1 348.2,534.9 348.3,534.7 348.4,534.6 348.6,534.5 348.7,534.3 348.9,534.2 349,534 349.1,534 349.3,533.8 349.4,533.6 349.5,533.5 349.7,533.4 349.8,533.3 349.9,533.1 350.1,532.8 350.2,532.7 350.4,532.6 350.5,532.3 350.6,532.1 350.8,532.1 350.9,531.7 351,531.7 351.2,531.5 351.3,531.2 351.4,530.9 351.6,531 351.7,530.7 351.9,530.7 352,530.1 352.1,530.4 352.2,530.5 352.4,531 352.5,531.1 352.7,531.2 352.8,532 352.9,532.1 353.1,532.2 353.2,532.4 353.3,532.3 353.5,531.8 353.6,531.8 353.7,531.8 353.9,531.4 354,531.4 354.1,531 354.3,531 354.4,531 354.6,531 354.7,531.2 354.8,531.5 354.9,531.6 355.1,531.4 355.2,531.6 355.4,531.8 355.5,531.8 355.6,531.9 355.8,532 355.9,532.4 356,532.3 356.2,532.3 356.3,532.5 356.4,532.6 356.6,533 356.7,532.8 356.8,532.9 357,532.9 357.1,533.1 357.2,533 357.4,532.9 357.5,532.8 357.6,532.9 357.8,532.7 357.9,532.8 358,532.7 358.2,532.7 358.3,532.6 358.5,532.6 358.6,532.7 358.7,532.5 358.9,532.6 359,532.8 359.1,532.8 359.3,532.8 359.4,533 359.5,533.1 359.7,533.1 359.8,533.2 359.9,533.3 360.1,533.5 360.2,533.4 360.4,533.5 360.5,533.6 360.6,533.7 360.8,533.8 360.9,533.9 361,534 361.1,534.1 361.3,534.1 361.4,534.2 361.6,534.2 361.7,534 361.8,534.1 362,533.9 362.1,534 362.2,533.8 362.4,533.6 362.5,533.6 362.6,533.6 362.8,533.4 362.9,533.3 363,533.3 363.2,533.1 363.3,532.9 363.4,532.8 363.6,532.7 363.7,532.5 363.9,532.4 364,532.3 364.1,532.2 364.3,532.1 364.4,532 364.5,531.9 364.7,532.2 364.8,532.5 364.9,532.9 365.1,533.1 365.2,533.4 365.3,533.7 365.5,533.9 365.6,534.2 365.7,534.5 365.9,534.7 366,535.2 366.1,535.2 366.3,535.2 366.4,534.9 366.6,534.7 366.7,534.8 366.9,534.6 367,534.4 367.1,534.3 367.3,534.2 367.4,534.2 367.5,533.9 367.7,533.8 367.8,533.7 368,533.6 368.1,533.4 368.2,533.4 368.4,533.2 368.5,533.1 368.7,533.1 368.8,532.8 368.9,532.7 369.1,532.6 369.2,532.7 369.4,532.6 369.5,532.4 369.6,532.4 369.8,532.2 369.9,532.1 370.1,532.3 370.2,532.3 370.3,532 370.5,531.9 370.6,531.9 370.8,531.9 370.9,532 371,532 371.2,531.8 371.3,531.9 371.5,532 371.6,531.9 371.7,531.5 371.9,531.6 372,531.8 372.2,531.8 372.3,531.7 372.4,531.7 372.6,531.5 372.7,531.6 372.9,531.7 373,531.4 373.1,531.6 373.3,531.5 373.4,531.5 373.6,531.5 373.7,531.4 373.8,531.4 374,531.5 374.1,531.4 374.3,531.2 374.4,531.1 374.5,530.9 374.7,530.8 374.8,530.6 375,530.7 375.1,531 375.2,531.1 375.4,531.4 375.5,531.4 375.7,531.5 375.8,531.6 375.9,531.9 376.1,532 376.2,531.9 376.4,531.9 376.5,531.7 376.6,531.6 376.8,531.6 376.9,531.4 377.1,531.5 377.2,531.3 377.3,531.3 377.5,531.2 377.6,530.8 377.8,530.7 377.9,530.8 378,530.6 378.2,530.5 378.3,530.4 378.5,530.2 378.6,530.3 378.7,530 378.9,529.6 379,529.1 379.2,529 379.3,528.9 379.4,528.5 379.6,528.3 379.7,528 379.9,527.4 380,527.4 380.1,527.1 380.3,526.4 380.4,526.3 380.6,526.2 380.7,526.1 380.8,525.6 381,525.1 381.1,525 381.3,524.6 381.4,524.6 381.5,524.2 381.7,524.1 381.8,523.4 382,522.5 382.1,522.5 382.2,521.5 382.4,520.7 382.5,520 382.7,517.6 382.8,514.9 382.9,512.1 383.1,513.8 383.3,515 383.5,516.8 383.7,516.7 383.9,518.4 384.1,518.6 384.3,517.6 384.5,515.9 384.7,514.9 384.9,513.1 385.1,511.6 385.3,510.4 385.5,509 385.7,508.1 385.9,505.7 386.1,505.3 386.3,504.6 386.4,503.7 386.6,506 386.7,508.1 386.9,507.7 387,506 387.1,505.3 387.3,503.3 387.4,501 387.6,500.9 387.7,502.1 387.9,502.8 388,503.7 388.1,504.4 388.3,503.9 388.4,503.7 388.6,504.2 388.7,502.3 388.9,502.1 389,500.5 389.1,500.6 389.3,499.4 389.5,499.8 389.6,503 389.8,504.5 390,506.1 390.2,507.6 390.4,506.7 390.5,504.9 390.7,504.7 390.9,504.7 391.1,503.9 391.2,504.4 391.4,508.2 391.6,511.2 391.8,514.1 391.9,515.5 392.1,516.1 392.2,516 392.4,515.9 392.5,515.5 392.7,514.6 392.8,514.3 393,514.6 393.1,513.9 393.2,513.6 393.4,513.3 393.5,514.8 393.7,516.8 393.8,518.2 394,518.7 394.1,518 394.3,518.4 394.4,519 394.6,518.4 394.7,518.7 394.9,519.7 395,518.7 395.1,519.2 395.3,519 395.4,520.1 395.6,518.1 395.7,516.3 395.8,514.8 395.9,513.7 396,512.9 396.1,514.2" fill="none" stroke="#000" stroke-width="1.25" stroke-linejoin="round"/>
<polyline clip-path="url(#c14)" points="226.7,523.7 227,522.1 227.3,521.8 227.6,521.2 227.9,521.5 228.2,521.5 228.5,522.1 228.8,521.3 229,522.2 229.4,523 229.7,522.6 230,523.9 230.4,523.7 230.7,523.5 231.1,524.6 231.3,524.5 231.6,524.3 231.9,525 232.2,524.9 232.5,525 232.8,525.2 233.1,525.6 233.4,526.7 233.7,526 234,526.1 234.4,526.4 234.7,526.5 235,526.1 235.4,524.7 235.7,525.1 236,524.9 236.2,524.5 236.5,525.3 236.8,525.1 237.1,525 237.4,525.4 237.7,524.9 238,524.4 238.4,524.3 238.7,523.9 239,524.2 239.4,524.5 239.7,524.9 240,524.9 240.3,525.9 240.6,524.9 240.9,525.3 241.2,526.2 241.4,525.7 241.7,525.7 242,526.2 242.4,526.1 242.7,525.7 243,525.8 243.4,526.1 243.7,525.5 244,526.1 244.3,526.1 244.6,526 244.9,526.5 245.2,526.1 245.5,526.3 245.8,526 246.1,525.7 246.3,525.1 246.7,525.1 247,525.1 247.4,524.9 247.7,525.5 248,526.4 248.4,526.2 248.7,526.1 248.9,525.8 249.2,525 249.5,524.4 249.8,523.9 250.1,524 250.4,524.9 250.7,523.3 251,522.9 251.3,522.2 251.7,522.1 252,521.1 252.4,520.5 252.7,519.9 253,520.2 253.3,520.1 253.6,518.6 253.9,517.7 254.2,518.3 254.6,517 254.9,516.5 255.2,516.6 255.6,516.2 255.9,515.8 256.2,516.3 256.4,515.7 256.7,515.9 257,515.5 257.3,515 257.6,514.4 257.9,514.4 258.2,513.4 258.6,512.5 258.9,511.6 259.3,510.3 259.6,509.6 260,508.6 260.3,507.5 260.7,507.5 261.1,507.1 261.4,505.7 261.8,503.7 262.2,501.3 262.5,501.2 262.8,500.8 263.1,501.6 263.4,500.9 263.6,500.9 263.9,502 264.2,503.9 264.5,504.2 264.8,506 265.1,506.3 265.4,506.8 265.7,507.7 266,507.8 266.2,506.8 266.5,506.2 266.9,505.2 267.2,505.2 267.6,504.6 267.9,505.8 268.2,506 268.6,505.9 268.8,505.2 269.1,506 269.4,504.6 269.8,504.1 270.1,503.9 270.4,503.2 270.8,503.6 271.1,504.3 271.4,504.3 271.7,504.6 272,504.8 272.3,506.2 272.6,506.1 273,506.7 273.3,508 273.7,506.5 274,506.6 274.3,505.9 274.6,505.7 274.9,504.7 275.2,503.8 275.5,503.8 275.8,503.2 276.1,502.7 276.3,502.1 276.6,500.4 277,502.3 277.3,501.4 277.6,501.4 278,500.5 278.3,500.4 278.6,501.7 278.9,502.4 279.2,501.9 279.5,503.2 279.8,502.8 280.1,502.3 280.4,500.9 280.7,500.9 281,501.5 281.3,502.1 281.6,503.3 282,503.8 282.3,503.6 282.6,504 283,505.7 283,506 283.3,505.6 283.6,506.2 283.9,505.7 284.1,506.1 284.5,506.5 284.8,507.5 285.2,507.5 285.5,506.8 285.8,507.3 286.2,506.9 286.5,507 286.8,507.8 287,507.7 287.3,507.6 287.6,507.1 287.9,507.9 288.2,507.2 288.5,507.6 288.8,508 289.2,508.1 289.5,508.3 289.8,508.8 290.2,507.1 290.5,506.6 290.8,506.8 291.1,506.6 291.4,504.8 291.7,505.2 292,504.6 292.4,504.9 292.7,506.1 293,506.7 293.4,508.4 293.7,508.3 294,507.5 294.2,506.8 294.5,506.9 294.8,506.2 295.1,505.1 295.4,504.8 295.7,504.4 296,503.8 296.4,502.4 296.7,502.8 297,502.8 297.4,502.5 297.7,502.6 298,501.8 298.3,502.1 298.6,501.6 298.9,500.6 299.2,499.8 299.6,499.1 299.9,497.7 300.3,498 300.7,498.2 301,498.5 301.4,498.8 301.8,499.6 302,500.1 302.3,499.1 302.6,499 302.9,499 303.2,499.6 303.6,500.9 303.9,500.9 304.2,500.6 304.6,499.6 304.9,500 305.2,500.7 305.5,500.7 305.8,501.8 306.1,501.6 306.4,501.3 306.7,501.4 306.9,502.5 307.2,502.8 307.6,503.9 307.9,503.3 308.2,503.8 308.6,505.1 308.9,505.6 309.2,505.8 309.5,506 309.8,507 310.1,505.8 310.4,506.3 310.7,506.2 311,506.9 311.3,506.7 311.6,504.9 311.9,506.2 312.2,506.5 312.6,508.2 312.9,508 313.2,508.6 313.6,509.8 313.9,510.2 314.2,509.7 314.4,509.9 314.7,508.9 315,510.5 315.3,510.6 315.6,509.5 315.9,509.6 316.2,510.1 316.6,509.6 316.9,509.7 317.2,509.4 317.6,508.6 317.9,508.7 318.2,507.4 318.5,507.5 318.8,508.1 319.1,507.7 319.3,508.5 319.6,509 319.9,509 320.2,509.1 320.5,508.9 320.9,508.8 321.2,509.3 321.6,509.9 321.9,511.2 322.3,512 322.7,511.8 323,512.5 323.4,512.9 323.7,514.3 324.1,515.5 324.4,515.1 324.8,514 325.1,514 325.4,513.8 325.7,514.4 326,514.3 326.3,513.5 326.6,513.6 326.8,513.5 327.1,513.5 327.4,513.3 327.8,512.5 328.1,512 328.4,511.6 328.8,510.2 329.1,509.3 329.5,507.7 329.9,507.9 330.2,507.5 330.5,507.4 330.9,507.2 331.2,507.4 331.5,507.7 331.8,507 332,506.7 332.3,507.7 332.6,508 332.9,507.9 333.2,507.1 333.5,507.3 333.9,505.7 334.2,505.4 334.5,505.9 334.9,506.3 335.2,507.5 335.5,506.8 335.8,506.3 336.1,505.8 336.4,505.2 336.7,505.1 336.9,505 337.2,505.8 337.5,506.1 337.9,505.6 338.2,504.5 338.5,503.3 338.9,504.6 339.2,505.1 339.5,504.4 339.8,504.3 340,505.1 340.3,504.5 340.6,504.6 340.9,504.4 341.1,504.9 341.5,505 341.8,504.3 342.2,504.1 342.5,504 342.8,503.2 343.2,503.9 343.5,503.6 343.8,503.5 344,505 344.3,504.3 344.6,503.8 344.9,503.7 345.2,504.2 345.5,503.9 345.8,503.4 346.2,503.5 346.5,503.6 346.8,503.1 347.2,502.7 347.5,503.8 347.8,503.1 348.1,503.5 348.4,502.2 348.6,504 348.9,503.8 349.2,503.9 349.5,503.1 349.8,504.1 350.1,503.8 350.5,505.1 350.8,504.6 351.2,504.8 351.5,504.3 351.8,503.6 352.1,503.1 352.4,503.1 352.7,502.5 353,503.6 353.3,504.2 353.6,504.4 353.8,503.9 354.1,504 354.5,503.1 354.8,502.9 355.1,503 355.5,502.9 355.8,503.1 356.1,503.2 356.4,502.7 356.7,502.8 357,502.3 357.3,503 357.6,501.2 357.9,501.2 358.2,502.2 358.5,502 358.8,503.2 359.1,502.3 359.5,503.1 359.8,503.5 360.1,503.2 360.5,503.4 360.8,504 361.1,503.5 361.3,503 361.6,502.4 361.9,503 362.2,504.1 362.5,503.7 362.8,504.2 363.1,503.4 363.5,503.9 363.8,504.5 364.2,504.3 364.5,503.8 364.9,501.8 365.2,502 365.7,506.1 366.1,500.1 366.4,498.7 366.7,498.1 367,498.4 367.4,499.2 367.8,500.5 368.1,501.7 368.5,502.7 368.9,502 369.1,502 369.4,501.7 369.7,503.1 370,503.6 370.3,504.5 370.7,504.6 371,505.5 371.3,504.6 371.7,504.4 372,507.2 372.3,506.3 372.6,505.4 372.9,507.6 373.2,508.2 373.6,507.8 373.9,510.3 374.2,511.7 374.6,511.6 374.9,511.4 375.2,510.9 375.5,509.9 375.8,509.9 376.1,509.9 376.3,509.2 376.6,508.6 376.9,509.1 377.2,511.4 377.5,510.9 377.9,510.7 378.2,510.8 378.6,511.2 378.9,512.2 379.2,512.5 379.5,511.9 379.8,512.7 380.1,512.4 380.4,512.1 380.7,512.2 381,512.4 381.2,514.3 381.5,513.7 381.9,513.8 382.2,513.2 382.5,513.4 382.9,514 383.2,514.2 383.6,513.8 383.8,514.6 384.1,514.2 384.4,513.1 384.8,512.5 385.1,512.9 385.4,511.4 385.8,513.1 386.1,512 386.4,512 386.7,511.5 387,511.8 387.3,510.3 387.6,510.7 387.9,511.2 388.2,510.9 388.5,511.7 388.8,511.5 389.1,511.3 389.4,511.8 389.8,513 390.1,512 390.4,511.6 390.8,511.8 391.1,512.1 391.3,511.6 391.6,511.3 391.9,511.7 392.2,511.4 392.5,511.1 392.8,510.4 393.1,510.6 393.4,511.2 393.8,511.3 394.1,511.6 394.4,510.7 394.8,509.9 395.1,510.3 395.4,509.4 395.7,508.6 396,509 396.2,509.2 396.5,509.3 396.8,510" fill="none" stroke="#7a7a7a" stroke-width="1.25" stroke-linejoin="round"/>
<line x1="225.4" y1="489.36" x2="226.6" y2="489.36" stroke="#8c8c8c" stroke-width="0.8"/>
<text x="224.3" y="489.66" font-size="4.7" text-anchor="end">110</text>
<line x1="225.4" y1="501.66" x2="226.6" y2="501.66" stroke="#8c8c8c" stroke-width="0.8"/>
<text x="224.3" y="501.96" font-size="4.7" text-anchor="end">100</text>
<line x1="225.4" y1="513.96" x2="226.6" y2="513.96" stroke="#8c8c8c" stroke-width="0.8"/>
<text x="224.3" y="514.26" font-size="4.7" text-anchor="end">90</text>
<line x1="225.4" y1="526.26" x2="226.6" y2="526.26" stroke="#8c8c8c" stroke-width="0.8"/>
<text x="224.3" y="526.56" font-size="4.7" text-anchor="end">80</text>
<line x1="225.4" y1="538.56" x2="226.6" y2="538.56" stroke="#8c8c8c" stroke-width="0.8"/>
<text x="224.3" y="538.86" font-size="4.7" text-anchor="end">70</text>
<line x1="396.5" y1="538.3" x2="397.5" y2="538.3" stroke="#8c8c8c" stroke-width="0.8"/>
<text x="398.5" y="539.05" font-size="4.7">0</text>
<line x1="396.5" y1="532.05" x2="397.5" y2="532.05" stroke="#8c8c8c" stroke-width="0.8"/>
<line x1="396.5" y1="525.8" x2="397.5" y2="525.8" stroke="#8c8c8c" stroke-width="0.8"/>
<text x="398.5" y="526.55" font-size="4.7">20,000</text>
<line x1="396.5" y1="519.55" x2="397.5" y2="519.55" stroke="#8c8c8c" stroke-width="0.8"/>
<line x1="396.5" y1="513.3" x2="397.5" y2="513.3" stroke="#8c8c8c" stroke-width="0.8"/>
<text x="398.5" y="514.05" font-size="4.7">40,000</text>
<line x1="396.5" y1="507.05" x2="397.5" y2="507.05" stroke="#8c8c8c" stroke-width="0.8"/>
<line x1="396.5" y1="500.8" x2="397.5" y2="500.8" stroke="#8c8c8c" stroke-width="0.8"/>
<text x="398.5" y="501.55" font-size="4.7">60,000</text>
<line x1="396.5" y1="494.55" x2="397.5" y2="494.55" stroke="#8c8c8c" stroke-width="0.8"/>
<line x1="396.5" y1="488.3" x2="397.5" y2="488.3" stroke="#8c8c8c" stroke-width="0.8"/>
<text x="398.5" y="489.05" font-size="4.7">80,000</text>
<line x1="239" y1="538.3" x2="239" y2="539.9" stroke="#8c8c8c" stroke-width="0.8"/>
<line x1="259.65" y1="538.3" x2="259.65" y2="539.9" stroke="#8c8c8c" stroke-width="0.8"/>
<line x1="280.3" y1="538.3" x2="280.3" y2="539.9" stroke="#8c8c8c" stroke-width="0.8"/>
<line x1="300.95" y1="538.3" x2="300.95" y2="539.9" stroke="#8c8c8c" stroke-width="0.8"/>
<line x1="321.6" y1="538.3" x2="321.6" y2="539.9" stroke="#8c8c8c" stroke-width="0.8"/>
<line x1="342.25" y1="538.3" x2="342.25" y2="539.9" stroke="#8c8c8c" stroke-width="0.8"/>
<line x1="362.9" y1="538.3" x2="362.9" y2="539.9" stroke="#8c8c8c" stroke-width="0.8"/>
<line x1="383.55" y1="538.3" x2="383.55" y2="539.9" stroke="#8c8c8c" stroke-width="0.8"/>
<text x="229.7" y="544.45" font-size="4.7" text-anchor="middle">2013</text>
<text x="248.7" y="544.45" font-size="4.7" text-anchor="middle">2014</text>
<text x="269.2" y="544.45" font-size="4.7" text-anchor="middle">2015</text>
<text x="290" y="544.45" font-size="4.7" text-anchor="middle">2016</text>
<text x="310.6" y="544.45" font-size="4.7" text-anchor="middle">2017</text>
<text x="331.25" y="544.45" font-size="4.7" text-anchor="middle">2018</text>
<text x="351.9" y="544.45" font-size="4.7" text-anchor="middle">2019</text>
<text x="372.8" y="544.45" font-size="4.7" text-anchor="middle">2020</text>
<text x="391.9" y="544.45" font-size="4.7" text-anchor="middle">2021</text>
<text x="315.35" y="488.9" font-size="5.2" text-anchor="middle">(14) US dollar index Vs. Bitcoin</text>
</svg></body></html>
